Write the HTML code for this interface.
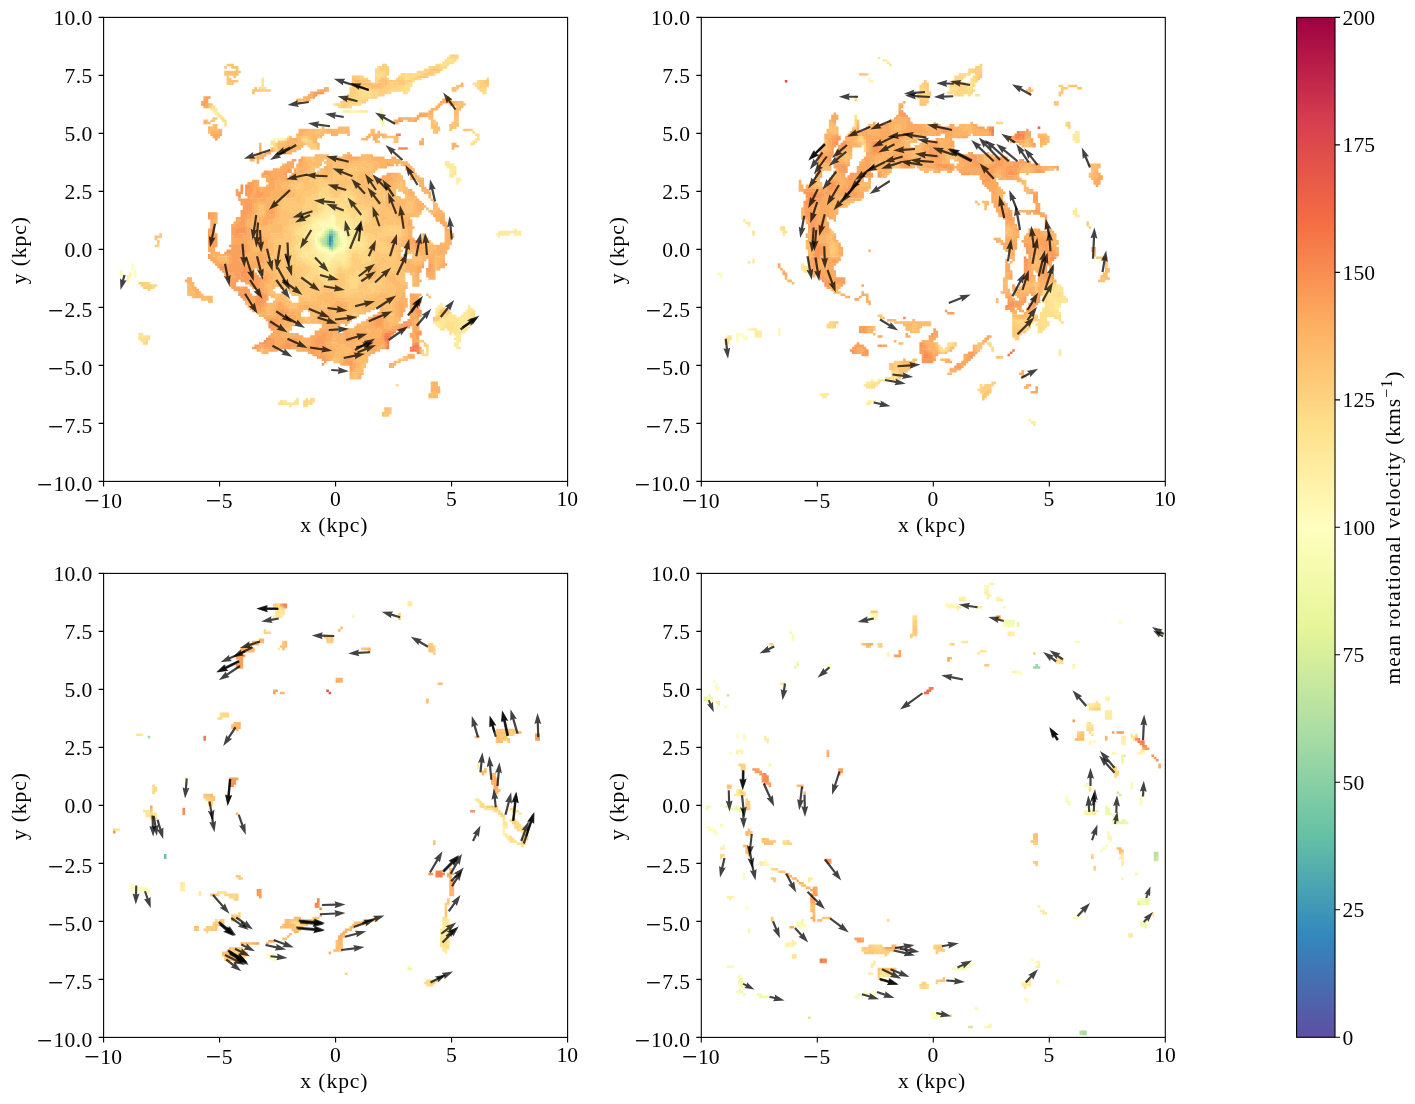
<!DOCTYPE html>
<html lang="en"><head><meta charset="utf-8"><title>mean rotational velocity maps</title>
<style>html,body{margin:0;padding:0;background:#fff}svg{display:block}text{font-family:"Liberation Serif", serif;font-size:21.6px;fill:#000}.t{letter-spacing:0.35px}</style></head><body>
<svg width="1415" height="1104" viewBox="0 0 1415 1104">
<rect width="1415" height="1104" fill="#fff"/>
<defs><linearGradient id="cb" x1="0" y1="0" x2="0" y2="1">
<stop offset="0.0" stop-color="#9e0142"/>
<stop offset="0.1" stop-color="#d53e4f"/>
<stop offset="0.2" stop-color="#f46d43"/>
<stop offset="0.3" stop-color="#fdae61"/>
<stop offset="0.4" stop-color="#fee08b"/>
<stop offset="0.5" stop-color="#ffffbf"/>
<stop offset="0.6" stop-color="#e6f598"/>
<stop offset="0.7" stop-color="#abdda4"/>
<stop offset="0.8" stop-color="#66c2a5"/>
<stop offset="0.9" stop-color="#3288bd"/>
<stop offset="1.0" stop-color="#5e4fa2"/>
</linearGradient>
<clipPath id="c0"><rect x="103.6" y="17.4" width="464.0" height="464.0"/></clipPath>
<clipPath id="c1"><rect x="701.3" y="17.4" width="464.0" height="464.0"/></clipPath>
<clipPath id="c2"><rect x="103.6" y="573.4" width="464.0" height="464.0"/></clipPath>
<clipPath id="c3"><rect x="701.3" y="573.4" width="464.0" height="464.0"/></clipPath>
<filter id="soft" x="-5%" y="-5%" width="110%" height="110%"><feGaussianBlur stdDeviation="0.7"/></filter>
</defs>
<g id="panel0">
<g clip-path="url(#c0)">
<g filter="url(#soft)"><path fill="#3389bd" d="M328.6 237.8h2.6v2.57h-2.6zM328.6 240.1h2.6v2.57h-2.6z"/>
<path fill="#3b92b9" d="M328.6 235.5h2.6v2.57h-2.6zM328.6 242.4h2.6v2.57h-2.6z"/>
<path fill="#4ba4b1" d="M331.0 235.5h2.6v2.57h-2.6zM331.0 240.1h2.6v2.57h-2.6z"/>
<path fill="#54aead" d="M331.0 237.8h2.6v2.57h-2.6z"/>
<path fill="#5cb7aa" d="M328.6 233.2h4.9v2.57h-4.9zM331.0 242.4h2.6v2.57h-2.6zM328.6 244.8h2.6v2.57h-2.6z"/>
<path fill="#6bc4a5" d="M326.3 242.4h2.6v2.57h-2.6z"/>
<path fill="#76c8a5" d="M326.3 240.1h2.6v2.57h-2.6zM331.0 244.8h2.6v2.57h-2.6z"/>
<path fill="#81cda5" d="M331.0 230.8h2.6v2.57h-2.6zM333.3 233.2h2.6v2.57h-2.6zM326.3 235.5h2.6v2.57h-2.6zM326.3 237.8h2.6v2.57h-2.6z"/>
<path fill="#8cd1a4" d="M328.6 230.8h2.6v2.57h-2.6zM331.0 247.1h2.6v2.57h-2.6z"/>
<path fill="#97d5a4" d="M326.3 233.2h2.6v2.57h-2.6zM333.3 235.5h2.6v2.57h-2.6z"/>
<path fill="#9fd8a4" d="M333.3 242.4h2.6v2.57h-2.6zM326.3 244.8h2.6v2.57h-2.6zM328.6 247.1h2.6v2.57h-2.6z"/>
<path fill="#aadca4" d="M333.3 230.8h2.6v2.57h-2.6zM333.3 237.8h2.6v2.57h-2.6zM324.0 240.1h2.6v2.57h-2.6zM333.3 240.1h2.6v2.57h-2.6zM324.0 242.4h2.6v2.57h-2.6zM333.3 244.8h2.6v2.57h-2.6z"/>
<path fill="#b3e0a2" d="M331.0 228.5h2.6v2.57h-2.6zM324.0 235.5h2.6v2.57h-2.6zM324.0 237.8h2.6v2.57h-2.6z"/>
<path fill="#bce4a0" d="M328.6 228.5h2.6v2.57h-2.6zM335.6 233.2h2.6v2.57h-2.6zM321.7 237.8h2.6v2.57h-2.6zM321.7 240.1h2.6v2.57h-2.6zM321.7 242.4h2.6v2.57h-2.6zM324.0 244.8h2.6v2.57h-2.6z"/>
<path fill="#c6e89f" d="M326.3 230.8h2.6v2.57h-2.6zM324.0 233.2h2.6v2.57h-2.6zM335.6 235.5h2.6v2.57h-2.6zM335.6 237.8h2.6v2.57h-2.6zM319.4 240.1h2.6v2.57h-2.6zM335.6 242.4h2.6v2.57h-2.6z"/>
<path fill="#cfec9d" d="M319.4 237.8h2.6v2.57h-2.6zM335.6 240.1h2.6v2.57h-2.6zM335.6 244.8h2.6v2.57h-2.6zM333.3 247.1h2.6v2.57h-2.6zM331.0 249.4h2.6v2.57h-2.6z"/>
<path fill="#d8ef9b" d="M335.6 230.8h2.6v2.57h-2.6zM321.7 235.5h2.6v2.57h-2.6z"/>
<path fill="#dff299" d="M326.3 228.5h2.6v2.57h-2.6zM324.0 230.8h2.6v2.57h-2.6zM337.9 237.8h2.6v2.57h-2.6zM337.9 240.1h2.6v2.57h-2.6zM319.4 242.4h2.6v2.57h-2.6zM337.9 242.4h2.6v2.57h-2.6zM321.7 244.8h2.6v2.57h-2.6zM326.3 247.1h2.6v2.57h-2.6z"/>
<path fill="#e7f59a" d="M321.7 233.2h2.6v2.57h-2.6z"/>
<path fill="#ebf7a0" d="M333.3 228.5h2.6v2.57h-2.6zM319.4 235.5h2.6v2.57h-2.6zM337.9 235.5h2.6v2.57h-2.6zM317.0 237.8h2.6v2.57h-2.6zM317.0 240.1h2.6v2.57h-2.6zM337.9 244.8h2.6v2.57h-2.6zM335.6 247.1h2.6v2.57h-2.6zM328.6 249.4h2.6v2.57h-2.6z"/>
<path fill="#eff9a6" d="M326.3 226.2h4.9v2.57h-4.9zM324.0 228.5h2.6v2.57h-2.6zM337.9 233.2h2.6v2.57h-2.6zM340.2 242.4h2.6v2.57h-2.6zM319.4 244.8h2.6v2.57h-2.6zM324.0 247.1h2.6v2.57h-2.6z"/>
<path fill="#f3faac" d="M379.7 117.2h2.6v2.57h-2.6zM379.7 119.5h4.9v2.57h-4.9zM382.0 121.8h2.6v2.57h-2.6zM324.0 226.2h2.6v2.57h-2.6zM331.0 226.2h2.6v2.57h-2.6zM321.7 230.8h2.6v2.57h-2.6zM337.9 230.8h2.6v2.57h-2.6zM317.0 235.5h2.6v2.57h-2.6zM340.2 237.8h2.6v2.57h-2.6zM340.2 240.1h2.6v2.57h-2.6zM317.0 242.4h2.6v2.57h-2.6zM340.2 244.8h2.6v2.57h-2.6zM333.3 249.4h2.6v2.57h-2.6z"/>
<path fill="#f7fcb2" d="M379.7 114.8h4.9v2.57h-4.9zM382.0 124.1h2.6v2.57h-2.6zM335.6 228.5h2.6v2.57h-2.6zM340.2 235.5h2.6v2.57h-2.6zM321.7 247.1h2.6v2.57h-2.6zM119.8 270.3h2.6v2.57h-2.6zM119.8 272.6h2.6v2.57h-2.6z"/>
<path fill="#fafdb7" d="M379.7 107.9h2.6v2.57h-2.6zM379.7 110.2h2.6v2.57h-2.6zM379.7 112.5h2.6v2.57h-2.6zM324.0 223.9h2.6v2.57h-2.6zM319.4 233.2h2.6v2.57h-2.6zM342.6 242.4h2.6v2.57h-2.6zM317.0 244.8h2.6v2.57h-2.6zM337.9 247.1h2.6v2.57h-2.6zM335.6 249.4h2.6v2.57h-2.6zM331.0 251.7h2.6v2.57h-2.6zM131.4 263.3h2.6v2.57h-2.6zM119.8 274.9h2.6v2.57h-2.6z"/>
<path fill="#fefebd" d="M331.0 214.6h2.6v2.57h-2.6zM331.0 216.9h2.6v2.57h-2.6zM331.0 219.2h2.6v2.57h-2.6zM331.0 221.6h2.6v2.57h-2.6zM326.3 223.9h2.6v2.57h-2.6zM331.0 223.9h2.6v2.57h-2.6zM321.7 228.5h2.6v2.57h-2.6zM340.2 233.2h2.6v2.57h-2.6zM314.7 237.8h2.6v2.57h-2.6zM314.7 240.1h2.6v2.57h-2.6zM342.6 240.1h2.6v2.57h-2.6zM342.6 244.8h2.6v2.57h-2.6zM319.4 247.1h2.6v2.57h-2.6zM326.3 249.4h2.6v2.57h-2.6zM328.6 251.7h2.6v2.57h-2.6zM131.4 265.6h2.6v2.57h-2.6zM131.4 268.0h2.6v2.57h-2.6zM133.8 270.3h2.6v2.57h-2.6zM133.8 272.6h2.6v2.57h-2.6zM133.8 274.9h2.6v2.57h-2.6z"/>
<path fill="#fffcba" d="M275.3 138.0h2.6v2.57h-2.6zM321.7 223.9h2.6v2.57h-2.6zM328.6 223.9h2.6v2.57h-2.6zM333.3 223.9h2.6v2.57h-2.6zM321.7 226.2h2.6v2.57h-2.6zM333.3 226.2h2.6v2.57h-2.6zM337.9 228.5h2.6v2.57h-2.6zM319.4 230.8h2.6v2.57h-2.6zM340.2 230.8h2.6v2.57h-2.6zM317.0 233.2h2.6v2.57h-2.6zM314.7 235.5h2.6v2.57h-2.6zM342.6 235.5h2.6v2.57h-2.6zM342.6 237.8h2.6v2.57h-2.6zM314.7 242.4h2.6v2.57h-2.6zM344.9 242.4h2.6v2.57h-2.6zM317.0 247.1h2.6v2.57h-2.6zM340.2 247.1h2.6v2.57h-2.6zM321.7 249.4h4.9v2.57h-4.9zM337.9 249.4h2.6v2.57h-2.6zM333.3 251.7h2.6v2.57h-2.6z"/>
<path fill="#fff7b2" d="M273.0 138.0h2.6v2.57h-2.6zM277.6 138.0h7.2v2.57h-7.2zM328.6 216.9h2.6v2.57h-2.6zM333.3 216.9h2.6v2.57h-2.6zM328.6 219.2h2.6v2.57h-2.6zM333.3 219.2h2.6v2.57h-2.6zM319.4 221.6h11.8v2.57h-11.8zM333.3 221.6h2.6v2.57h-2.6zM319.4 223.9h2.6v2.57h-2.6zM319.4 226.2h2.6v2.57h-2.6zM335.6 226.2h2.6v2.57h-2.6zM314.7 233.2h2.6v2.57h-2.6zM342.6 233.2h2.6v2.57h-2.6zM344.9 240.1h2.6v2.57h-2.6zM314.7 244.8h2.6v2.57h-2.6zM344.9 244.8h2.6v2.57h-2.6zM342.6 247.1h2.6v2.57h-2.6zM319.4 249.4h2.6v2.57h-2.6zM340.2 249.4h2.6v2.57h-2.6zM326.3 251.7h2.6v2.57h-2.6zM335.6 251.7h2.6v2.57h-2.6zM328.6 254.0h4.9v2.57h-4.9zM129.1 274.9h2.6v2.57h-2.6zM126.8 279.6h2.6v2.57h-2.6z"/>
<path fill="#fff2aa" d="M349.5 110.2h9.5v2.57h-9.5zM458.6 179.8h2.6v2.57h-2.6zM456.2 182.1h2.6v2.57h-2.6zM328.6 214.6h2.6v2.57h-2.6zM333.3 214.6h2.6v2.57h-2.6zM326.3 216.9h2.6v2.57h-2.6zM317.0 219.2h11.8v2.57h-11.8zM314.7 221.6h4.9v2.57h-4.9zM312.4 223.9h7.2v2.57h-7.2zM312.4 226.2h7.2v2.57h-7.2zM337.9 226.2h2.6v2.57h-2.6zM314.7 228.5h7.2v2.57h-7.2zM340.2 228.5h2.6v2.57h-2.6zM312.4 230.8h7.2v2.57h-7.2zM342.6 230.8h2.6v2.57h-2.6zM312.4 233.2h2.6v2.57h-2.6zM344.9 233.2h2.6v2.57h-2.6zM312.4 235.5h2.6v2.57h-2.6zM344.9 235.5h2.6v2.57h-2.6zM312.4 237.8h2.6v2.57h-2.6zM344.9 237.8h2.6v2.57h-2.6zM347.2 240.1h2.6v2.57h-2.6zM347.2 242.4h2.6v2.57h-2.6zM314.7 247.1h2.6v2.57h-2.6zM344.9 247.1h2.6v2.57h-2.6zM317.0 249.4h2.6v2.57h-2.6zM342.6 249.4h2.6v2.57h-2.6zM319.4 251.7h7.2v2.57h-7.2zM337.9 251.7h7.2v2.57h-7.2zM324.0 254.0h4.9v2.57h-4.9zM333.3 254.0h2.6v2.57h-2.6zM324.0 256.4h9.5v2.57h-9.5zM324.0 258.7h7.2v2.57h-7.2zM324.0 261.0h4.9v2.57h-4.9zM129.1 272.6h2.6v2.57h-2.6zM126.8 274.9h2.6v2.57h-2.6zM126.8 277.2h2.6v2.57h-2.6z"/>
<path fill="#feeda1" d="M342.6 110.2h7.2v2.57h-7.2zM358.8 110.2h2.6v2.57h-2.6zM286.9 135.7h2.6v2.57h-2.6zM449.3 170.5h2.6v2.57h-2.6zM456.2 177.5h4.9v2.57h-4.9zM456.2 179.8h2.6v2.57h-2.6zM326.3 212.3h7.2v2.57h-7.2zM324.0 214.6h4.9v2.57h-4.9zM317.0 216.9h9.5v2.57h-9.5zM312.4 219.2h4.9v2.57h-4.9zM312.4 221.6h2.6v2.57h-2.6zM310.1 223.9h2.6v2.57h-2.6zM335.6 223.9h4.9v2.57h-4.9zM310.1 226.2h2.6v2.57h-2.6zM340.2 226.2h9.5v2.57h-9.5zM307.8 228.5h7.2v2.57h-7.2zM342.6 228.5h9.5v2.57h-9.5zM310.1 230.8h2.6v2.57h-2.6zM344.9 230.8h4.9v2.57h-4.9zM310.1 233.2h2.6v2.57h-2.6zM347.2 233.2h2.6v2.57h-2.6zM495.7 233.2h2.6v2.57h-2.6zM516.6 233.2h2.6v2.57h-2.6zM310.1 235.5h2.6v2.57h-2.6zM347.2 235.5h4.9v2.57h-4.9zM498.0 235.5h2.6v2.57h-2.6zM347.2 237.8h2.6v2.57h-2.6zM312.4 240.1h2.6v2.57h-2.6zM312.4 242.4h2.6v2.57h-2.6zM349.5 242.4h2.6v2.57h-2.6zM312.4 244.8h2.6v2.57h-2.6zM347.2 244.8h4.9v2.57h-4.9zM312.4 247.1h2.6v2.57h-2.6zM312.4 249.4h4.9v2.57h-4.9zM344.9 249.4h2.6v2.57h-2.6zM314.7 251.7h4.9v2.57h-4.9zM317.0 254.0h7.2v2.57h-7.2zM335.6 254.0h9.5v2.57h-9.5zM319.4 256.4h4.9v2.57h-4.9zM333.3 256.4h11.8v2.57h-11.8zM319.4 258.7h4.9v2.57h-4.9zM331.0 258.7h2.6v2.57h-2.6zM321.7 261.0h2.6v2.57h-2.6zM328.6 261.0h2.6v2.57h-2.6zM321.7 263.3h7.2v2.57h-7.2zM440.0 302.8h2.6v2.57h-2.6zM437.7 305.1h2.6v2.57h-2.6zM435.4 307.4h2.6v2.57h-2.6zM437.7 321.3h2.6v2.57h-2.6zM435.4 323.6h4.9v2.57h-4.9z"/>
<path fill="#feea9b" d="M215.0 107.9h2.6v2.57h-2.6zM212.6 110.2h4.9v2.57h-4.9zM361.1 110.2h7.2v2.57h-7.2zM215.0 112.5h4.9v2.57h-4.9zM284.6 138.0h2.6v2.57h-2.6zM444.6 161.2h4.9v2.57h-4.9zM444.6 163.6h9.5v2.57h-9.5zM447.0 165.9h9.5v2.57h-9.5zM449.3 168.2h7.2v2.57h-7.2zM451.6 170.5h2.6v2.57h-2.6zM449.3 172.8h4.9v2.57h-4.9zM449.3 175.2h2.6v2.57h-2.6zM324.0 207.6h7.2v2.57h-7.2zM324.0 210.0h9.5v2.57h-9.5zM321.7 212.3h4.9v2.57h-4.9zM319.4 214.6h4.9v2.57h-4.9zM312.4 216.9h4.9v2.57h-4.9zM335.6 216.9h2.6v2.57h-2.6zM335.6 219.2h11.8v2.57h-11.8zM310.1 221.6h2.6v2.57h-2.6zM335.6 221.6h11.8v2.57h-11.8zM307.8 223.9h2.6v2.57h-2.6zM340.2 223.9h11.8v2.57h-11.8zM307.8 226.2h2.6v2.57h-2.6zM349.5 226.2h4.9v2.57h-4.9zM351.8 228.5h4.9v2.57h-4.9zM514.2 228.5h2.6v2.57h-2.6zM305.4 230.8h4.9v2.57h-4.9zM349.5 230.8h7.2v2.57h-7.2zM498.0 230.8h23.4v2.57h-23.4zM307.8 233.2h2.6v2.57h-2.6zM349.5 233.2h4.9v2.57h-4.9zM498.0 233.2h11.8v2.57h-11.8zM514.2 233.2h2.6v2.57h-2.6zM518.9 233.2h2.6v2.57h-2.6zM307.8 235.5h2.6v2.57h-2.6zM310.1 237.8h2.6v2.57h-2.6zM349.5 237.8h4.9v2.57h-4.9zM310.1 240.1h2.6v2.57h-2.6zM349.5 240.1h4.9v2.57h-4.9zM310.1 242.4h2.6v2.57h-2.6zM351.8 242.4h2.6v2.57h-2.6zM310.1 247.1h2.6v2.57h-2.6zM347.2 247.1h2.6v2.57h-2.6zM310.1 249.4h2.6v2.57h-2.6zM303.1 251.7h4.9v2.57h-4.9zM310.1 251.7h4.9v2.57h-4.9zM344.9 251.7h2.6v2.57h-2.6zM305.4 254.0h2.6v2.57h-2.6zM314.7 254.0h2.6v2.57h-2.6zM344.9 254.0h2.6v2.57h-2.6zM317.0 256.4h2.6v2.57h-2.6zM344.9 256.4h2.6v2.57h-2.6zM317.0 258.7h2.6v2.57h-2.6zM333.3 258.7h14.2v2.57h-14.2zM319.4 261.0h2.6v2.57h-2.6zM331.0 261.0h2.6v2.57h-2.6zM342.6 261.0h2.6v2.57h-2.6zM319.4 263.3h2.6v2.57h-2.6zM328.6 263.3h2.6v2.57h-2.6zM319.4 265.6h11.8v2.57h-11.8zM324.0 268.0h2.6v2.57h-2.6zM440.0 305.1h2.6v2.57h-2.6zM467.8 305.1h2.6v2.57h-2.6zM437.7 307.4h2.6v2.57h-2.6zM467.8 307.4h2.6v2.57h-2.6zM435.4 309.7h2.6v2.57h-2.6zM465.5 309.7h2.6v2.57h-2.6zM435.4 312.0h2.6v2.57h-2.6zM463.2 312.0h4.9v2.57h-4.9zM453.9 314.4h2.6v2.57h-2.6zM460.9 314.4h7.2v2.57h-7.2zM456.2 316.7h11.8v2.57h-11.8zM440.0 319.0h4.9v2.57h-4.9zM458.6 319.0h9.5v2.57h-9.5zM433.0 321.3h4.9v2.57h-4.9zM440.0 321.3h4.9v2.57h-4.9zM458.6 321.3h11.8v2.57h-11.8zM440.0 323.6h2.6v2.57h-2.6zM458.6 323.6h9.5v2.57h-9.5zM437.7 326.0h4.9v2.57h-4.9zM460.9 326.0h7.2v2.57h-7.2zM458.6 328.3h2.6v2.57h-2.6zM463.2 330.6h2.6v2.57h-2.6zM456.2 332.9h4.9v2.57h-4.9zM458.6 335.2h2.6v2.57h-2.6zM456.2 337.6h4.9v2.57h-4.9zM456.2 339.9h4.9v2.57h-4.9zM453.9 342.2h4.9v2.57h-4.9zM453.9 344.5h4.9v2.57h-4.9zM456.2 346.8h4.9v2.57h-4.9z"/>
<path fill="#fee593" d="M261.4 77.7h2.6v2.57h-2.6zM261.4 80.0h2.6v2.57h-2.6zM261.4 82.4h2.6v2.57h-2.6zM261.4 84.7h2.6v2.57h-2.6zM409.8 84.7h2.6v2.57h-2.6zM210.3 107.9h4.9v2.57h-4.9zM217.3 114.8h4.9v2.57h-4.9zM219.6 117.2h2.6v2.57h-2.6zM474.8 138.0h2.6v2.57h-2.6zM273.0 140.4h2.6v2.57h-2.6zM474.8 140.4h2.6v2.57h-2.6zM453.9 170.5h2.6v2.57h-2.6zM453.9 172.8h2.6v2.57h-2.6zM451.6 175.2h2.6v2.57h-2.6zM328.6 203.0h2.6v2.57h-2.6zM324.0 205.3h9.5v2.57h-9.5zM331.0 207.6h4.9v2.57h-4.9zM321.7 210.0h2.6v2.57h-2.6zM333.3 210.0h2.6v2.57h-2.6zM319.4 212.3h2.6v2.57h-2.6zM333.3 212.3h4.9v2.57h-4.9zM314.7 214.6h4.9v2.57h-4.9zM335.6 214.6h11.8v2.57h-11.8zM337.9 216.9h11.8v2.57h-11.8zM310.1 219.2h2.6v2.57h-2.6zM347.2 219.2h4.9v2.57h-4.9zM307.8 221.6h2.6v2.57h-2.6zM347.2 221.6h9.5v2.57h-9.5zM305.4 223.9h2.6v2.57h-2.6zM351.8 223.9h4.9v2.57h-4.9zM303.1 226.2h4.9v2.57h-4.9zM354.2 226.2h4.9v2.57h-4.9zM305.4 228.5h2.6v2.57h-2.6zM356.5 228.5h2.6v2.57h-2.6zM303.1 230.8h2.6v2.57h-2.6zM356.5 230.8h2.6v2.57h-2.6zM305.4 233.2h2.6v2.57h-2.6zM354.2 233.2h4.9v2.57h-4.9zM303.1 235.5h4.9v2.57h-4.9zM351.8 235.5h4.9v2.57h-4.9zM307.8 237.8h2.6v2.57h-2.6zM354.2 237.8h2.6v2.57h-2.6zM307.8 240.1h2.6v2.57h-2.6zM354.2 240.1h2.6v2.57h-2.6zM356.5 242.4h7.2v2.57h-7.2zM310.1 244.8h2.6v2.57h-2.6zM351.8 244.8h11.8v2.57h-11.8zM300.8 247.1h4.9v2.57h-4.9zM307.8 247.1h2.6v2.57h-2.6zM349.5 247.1h2.6v2.57h-2.6zM300.8 249.4h9.5v2.57h-9.5zM347.2 249.4h2.6v2.57h-2.6zM300.8 251.7h2.6v2.57h-2.6zM307.8 251.7h2.6v2.57h-2.6zM347.2 251.7h2.6v2.57h-2.6zM300.8 254.0h4.9v2.57h-4.9zM307.8 254.0h7.2v2.57h-7.2zM347.2 254.0h2.6v2.57h-2.6zM303.1 256.4h14.2v2.57h-14.2zM307.8 258.7h9.5v2.57h-9.5zM312.4 261.0h7.2v2.57h-7.2zM333.3 261.0h9.5v2.57h-9.5zM344.9 261.0h2.6v2.57h-2.6zM317.0 263.3h2.6v2.57h-2.6zM331.0 263.3h7.2v2.57h-7.2zM340.2 263.3h4.9v2.57h-4.9zM317.0 265.6h2.6v2.57h-2.6zM331.0 265.6h4.9v2.57h-4.9zM319.4 268.0h4.9v2.57h-4.9zM326.3 268.0h7.2v2.57h-7.2zM324.0 270.3h7.2v2.57h-7.2zM326.3 272.6h4.9v2.57h-4.9zM470.2 307.4h2.6v2.57h-2.6zM467.8 309.7h4.9v2.57h-4.9zM467.8 312.0h2.6v2.57h-2.6zM449.3 314.4h4.9v2.57h-4.9zM467.8 314.4h2.6v2.57h-2.6zM442.3 316.7h14.2v2.57h-14.2zM467.8 316.7h2.6v2.57h-2.6zM444.6 319.0h14.2v2.57h-14.2zM467.8 319.0h4.9v2.57h-4.9zM444.6 321.3h2.6v2.57h-2.6zM453.9 321.3h4.9v2.57h-4.9zM442.3 323.6h4.9v2.57h-4.9zM453.9 323.6h4.9v2.57h-4.9zM467.8 323.6h2.6v2.57h-2.6zM442.3 326.0h2.6v2.57h-2.6zM453.9 326.0h7.2v2.57h-7.2zM467.8 326.0h2.6v2.57h-2.6zM440.0 328.3h2.6v2.57h-2.6zM453.9 328.3h4.9v2.57h-4.9zM460.9 328.3h7.2v2.57h-7.2zM451.6 330.6h11.8v2.57h-11.8zM138.4 332.9h4.9v2.57h-4.9zM449.3 332.9h2.6v2.57h-2.6zM453.9 332.9h2.6v2.57h-2.6zM138.4 335.2h7.2v2.57h-7.2zM456.2 335.2h2.6v2.57h-2.6zM453.9 337.6h2.6v2.57h-2.6zM296.2 397.9h2.6v2.57h-2.6zM282.2 400.2h4.9v2.57h-4.9zM293.8 400.2h2.6v2.57h-2.6zM284.6 402.5h11.8v2.57h-11.8zM289.2 404.8h2.6v2.57h-2.6z"/>
<path fill="#fee08b" d="M447.0 56.8h2.6v2.57h-2.6zM444.6 59.2h9.5v2.57h-9.5zM442.3 61.5h11.8v2.57h-11.8zM440.0 63.8h9.5v2.57h-9.5zM375.0 73.1h2.6v2.57h-2.6zM379.7 73.1h2.6v2.57h-2.6zM405.2 73.1h14.2v2.57h-14.2zM377.4 75.4h2.6v2.57h-2.6zM402.9 75.4h11.8v2.57h-11.8zM405.2 77.7h4.9v2.57h-4.9zM419.1 77.7h2.6v2.57h-2.6zM412.2 80.0h2.6v2.57h-2.6zM409.8 82.4h2.6v2.57h-2.6zM472.5 82.4h4.9v2.57h-4.9zM405.2 84.7h4.9v2.57h-4.9zM474.8 84.7h2.6v2.57h-2.6zM261.4 87.0h4.9v2.57h-4.9zM402.9 87.0h7.2v2.57h-7.2zM361.1 89.3h7.2v2.57h-7.2zM400.6 89.3h9.5v2.57h-9.5zM361.1 91.6h11.8v2.57h-11.8zM402.9 91.6h4.9v2.57h-4.9zM481.8 91.6h4.9v2.57h-4.9zM358.8 94.0h11.8v2.57h-11.8zM333.3 103.2h2.6v2.57h-2.6zM212.6 105.6h2.6v2.57h-2.6zM221.9 117.2h2.6v2.57h-2.6zM221.9 119.5h4.9v2.57h-4.9zM224.2 121.8h2.6v2.57h-2.6zM224.2 124.1h2.6v2.57h-2.6zM474.8 133.4h4.9v2.57h-4.9zM477.1 135.7h2.6v2.57h-2.6zM477.1 138.0h2.6v2.57h-2.6zM270.6 140.4h2.6v2.57h-2.6zM472.5 140.4h2.6v2.57h-2.6zM270.6 142.7h4.9v2.57h-4.9zM470.2 142.7h4.9v2.57h-4.9zM273.0 145.0h2.6v2.57h-2.6zM344.9 193.7h2.6v2.57h-2.6zM324.0 196.0h2.6v2.57h-2.6zM344.9 196.0h2.6v2.57h-2.6zM324.0 198.4h4.9v2.57h-4.9zM344.9 198.4h2.6v2.57h-2.6zM324.0 200.7h9.5v2.57h-9.5zM321.7 203.0h7.2v2.57h-7.2zM331.0 203.0h4.9v2.57h-4.9zM340.2 203.0h4.9v2.57h-4.9zM319.4 205.3h4.9v2.57h-4.9zM333.3 205.3h7.2v2.57h-7.2zM321.7 207.6h2.6v2.57h-2.6zM335.6 207.6h11.8v2.57h-11.8zM319.4 210.0h2.6v2.57h-2.6zM335.6 210.0h11.8v2.57h-11.8zM317.0 212.3h2.6v2.57h-2.6zM337.9 212.3h11.8v2.57h-11.8zM361.1 212.3h2.6v2.57h-2.6zM312.4 214.6h2.6v2.57h-2.6zM347.2 214.6h2.6v2.57h-2.6zM356.5 214.6h7.2v2.57h-7.2zM307.8 216.9h4.9v2.57h-4.9zM349.5 216.9h4.9v2.57h-4.9zM356.5 216.9h7.2v2.57h-7.2zM307.8 219.2h2.6v2.57h-2.6zM351.8 219.2h11.8v2.57h-11.8zM305.4 221.6h2.6v2.57h-2.6zM356.5 221.6h2.6v2.57h-2.6zM303.1 223.9h2.6v2.57h-2.6zM356.5 223.9h2.6v2.57h-2.6zM300.8 226.2h2.6v2.57h-2.6zM298.5 228.5h7.2v2.57h-7.2zM296.2 230.8h7.2v2.57h-7.2zM358.8 230.8h2.6v2.57h-2.6zM298.5 233.2h7.2v2.57h-7.2zM358.8 233.2h2.6v2.57h-2.6zM300.8 235.5h2.6v2.57h-2.6zM356.5 235.5h7.2v2.57h-7.2zM300.8 237.8h7.2v2.57h-7.2zM356.5 237.8h9.5v2.57h-9.5zM300.8 240.1h7.2v2.57h-7.2zM356.5 240.1h9.5v2.57h-9.5zM298.5 242.4h11.8v2.57h-11.8zM354.2 242.4h2.6v2.57h-2.6zM363.4 242.4h4.9v2.57h-4.9zM296.2 244.8h14.2v2.57h-14.2zM363.4 244.8h2.6v2.57h-2.6zM296.2 247.1h4.9v2.57h-4.9zM305.4 247.1h2.6v2.57h-2.6zM351.8 247.1h14.2v2.57h-14.2zM296.2 249.4h4.9v2.57h-4.9zM349.5 249.4h4.9v2.57h-4.9zM358.8 249.4h4.9v2.57h-4.9zM298.5 251.7h2.6v2.57h-2.6zM349.5 251.7h2.6v2.57h-2.6zM358.8 251.7h2.6v2.57h-2.6zM298.5 254.0h2.6v2.57h-2.6zM349.5 254.0h2.6v2.57h-2.6zM300.8 256.4h2.6v2.57h-2.6zM347.2 256.4h2.6v2.57h-2.6zM303.1 258.7h4.9v2.57h-4.9zM347.2 258.7h2.6v2.57h-2.6zM305.4 261.0h7.2v2.57h-7.2zM347.2 261.0h2.6v2.57h-2.6zM310.1 263.3h7.2v2.57h-7.2zM337.9 263.3h2.6v2.57h-2.6zM344.9 263.3h4.9v2.57h-4.9zM312.4 265.6h4.9v2.57h-4.9zM335.6 265.6h2.6v2.57h-2.6zM342.6 265.6h4.9v2.57h-4.9zM314.7 268.0h4.9v2.57h-4.9zM333.3 268.0h2.6v2.57h-2.6zM317.0 270.3h7.2v2.57h-7.2zM331.0 270.3h4.9v2.57h-4.9zM319.4 272.6h7.2v2.57h-7.2zM331.0 272.6h2.6v2.57h-2.6zM324.0 274.9h9.5v2.57h-9.5zM324.0 277.2h7.2v2.57h-7.2zM326.3 279.6h2.6v2.57h-2.6zM440.0 307.4h2.6v2.57h-2.6zM437.7 309.7h2.6v2.57h-2.6zM472.5 309.7h2.6v2.57h-2.6zM449.3 312.0h2.6v2.57h-2.6zM470.2 312.0h4.9v2.57h-4.9zM435.4 314.4h2.6v2.57h-2.6zM447.0 314.4h2.6v2.57h-2.6zM470.2 314.4h4.9v2.57h-4.9zM440.0 316.7h2.6v2.57h-2.6zM470.2 316.7h2.6v2.57h-2.6zM437.7 319.0h2.6v2.57h-2.6zM447.0 321.3h7.2v2.57h-7.2zM447.0 323.6h7.2v2.57h-7.2zM444.6 326.0h9.5v2.57h-9.5zM442.3 328.3h2.6v2.57h-2.6zM447.0 328.3h7.2v2.57h-7.2zM449.3 330.6h2.6v2.57h-2.6zM145.4 335.2h4.9v2.57h-4.9zM138.4 337.6h11.8v2.57h-11.8zM140.7 339.9h4.9v2.57h-4.9zM426.1 351.5h2.6v2.57h-2.6zM421.4 353.8h7.2v2.57h-7.2zM312.4 397.9h2.6v2.57h-2.6zM279.9 400.2h2.6v2.57h-2.6zM296.2 400.2h2.6v2.57h-2.6zM312.4 400.2h2.6v2.57h-2.6zM277.6 402.5h7.2v2.57h-7.2zM296.2 402.5h2.6v2.57h-2.6zM307.8 402.5h2.6v2.57h-2.6zM303.1 404.8h4.9v2.57h-4.9z"/>
<path fill="#fed884" d="M449.3 54.5h2.6v2.57h-2.6zM456.2 54.5h2.6v2.57h-2.6zM449.3 56.8h9.5v2.57h-9.5zM453.9 59.2h2.6v2.57h-2.6zM435.4 63.8h4.9v2.57h-4.9zM377.4 66.1h2.6v2.57h-2.6zM428.4 66.1h4.9v2.57h-4.9zM440.0 66.1h7.2v2.57h-7.2zM375.0 68.4h4.9v2.57h-4.9zM423.8 68.4h4.9v2.57h-4.9zM375.0 70.8h9.5v2.57h-9.5zM416.8 70.8h9.5v2.57h-9.5zM377.4 73.1h2.6v2.57h-2.6zM382.0 73.1h2.6v2.57h-2.6zM400.6 73.1h4.9v2.57h-4.9zM419.1 73.1h2.6v2.57h-2.6zM433.0 73.1h2.6v2.57h-2.6zM375.0 75.4h2.6v2.57h-2.6zM379.7 75.4h4.9v2.57h-4.9zM400.6 75.4h2.6v2.57h-2.6zM414.5 75.4h2.6v2.57h-2.6zM375.0 77.7h4.9v2.57h-4.9zM402.9 77.7h2.6v2.57h-2.6zM409.8 77.7h4.9v2.57h-4.9zM416.8 77.7h2.6v2.57h-2.6zM375.0 80.0h2.6v2.57h-2.6zM477.1 80.0h2.6v2.57h-2.6zM407.5 82.4h2.6v2.57h-2.6zM477.1 82.4h2.6v2.57h-2.6zM395.9 84.7h9.5v2.57h-9.5zM477.1 84.7h2.6v2.57h-2.6zM259.0 87.0h2.6v2.57h-2.6zM361.1 87.0h4.9v2.57h-4.9zM393.6 87.0h9.5v2.57h-9.5zM477.1 87.0h9.5v2.57h-9.5zM356.5 89.3h4.9v2.57h-4.9zM368.1 89.3h7.2v2.57h-7.2zM389.0 89.3h11.8v2.57h-11.8zM479.4 89.3h7.2v2.57h-7.2zM356.5 91.6h4.9v2.57h-4.9zM372.7 91.6h4.9v2.57h-4.9zM386.6 91.6h4.9v2.57h-4.9zM356.5 94.0h2.6v2.57h-2.6zM370.4 94.0h7.2v2.57h-7.2zM354.2 96.3h18.8v2.57h-18.8zM375.0 96.3h2.6v2.57h-2.6zM354.2 98.6h7.2v2.57h-7.2zM363.4 98.6h2.6v2.57h-2.6zM351.8 100.9h9.5v2.57h-9.5zM335.6 103.2h4.9v2.57h-4.9zM349.5 103.2h11.8v2.57h-11.8zM210.3 105.6h2.6v2.57h-2.6zM337.9 105.6h2.6v2.57h-2.6zM347.2 105.6h4.9v2.57h-4.9zM472.5 131.1h2.6v2.57h-2.6zM303.1 138.0h4.9v2.57h-4.9zM305.4 140.4h2.6v2.57h-2.6zM275.3 147.3h2.6v2.57h-2.6zM275.3 149.6h2.6v2.57h-2.6zM321.7 186.8h7.2v2.57h-7.2zM321.7 189.1h7.2v2.57h-7.2zM319.4 191.4h9.5v2.57h-9.5zM342.6 191.4h7.2v2.57h-7.2zM319.4 193.7h11.8v2.57h-11.8zM340.2 193.7h4.9v2.57h-4.9zM347.2 193.7h4.9v2.57h-4.9zM319.4 196.0h4.9v2.57h-4.9zM326.3 196.0h4.9v2.57h-4.9zM340.2 196.0h4.9v2.57h-4.9zM347.2 196.0h7.2v2.57h-7.2zM317.0 198.4h7.2v2.57h-7.2zM328.6 198.4h16.5v2.57h-16.5zM347.2 198.4h7.2v2.57h-7.2zM317.0 200.7h7.2v2.57h-7.2zM333.3 200.7h21.1v2.57h-21.1zM317.0 203.0h4.9v2.57h-4.9zM335.6 203.0h4.9v2.57h-4.9zM344.9 203.0h7.2v2.57h-7.2zM317.0 205.3h2.6v2.57h-2.6zM340.2 205.3h11.8v2.57h-11.8zM317.0 207.6h4.9v2.57h-4.9zM347.2 207.6h4.9v2.57h-4.9zM317.0 210.0h2.6v2.57h-2.6zM347.2 210.0h7.2v2.57h-7.2zM356.5 210.0h11.8v2.57h-11.8zM312.4 212.3h4.9v2.57h-4.9zM349.5 212.3h4.9v2.57h-4.9zM356.5 212.3h4.9v2.57h-4.9zM363.4 212.3h4.9v2.57h-4.9zM305.4 214.6h7.2v2.57h-7.2zM349.5 214.6h7.2v2.57h-7.2zM363.4 214.6h4.9v2.57h-4.9zM305.4 216.9h2.6v2.57h-2.6zM354.2 216.9h2.6v2.57h-2.6zM363.4 216.9h4.9v2.57h-4.9zM305.4 219.2h2.6v2.57h-2.6zM363.4 219.2h2.6v2.57h-2.6zM300.8 221.6h4.9v2.57h-4.9zM358.8 221.6h4.9v2.57h-4.9zM300.8 223.9h2.6v2.57h-2.6zM358.8 223.9h4.9v2.57h-4.9zM296.2 226.2h4.9v2.57h-4.9zM358.8 226.2h2.6v2.57h-2.6zM293.8 228.5h4.9v2.57h-4.9zM358.8 228.5h4.9v2.57h-4.9zM389.0 228.5h2.6v2.57h-2.6zM393.6 228.5h2.6v2.57h-2.6zM293.8 230.8h2.6v2.57h-2.6zM361.1 230.8h2.6v2.57h-2.6zM293.8 233.2h4.9v2.57h-4.9zM361.1 233.2h2.6v2.57h-2.6zM296.2 235.5h4.9v2.57h-4.9zM363.4 235.5h4.9v2.57h-4.9zM296.2 237.8h4.9v2.57h-4.9zM365.8 237.8h2.6v2.57h-2.6zM293.8 240.1h7.2v2.57h-7.2zM365.8 240.1h4.9v2.57h-4.9zM293.8 242.4h4.9v2.57h-4.9zM368.1 242.4h2.6v2.57h-2.6zM157.0 244.8h2.6v2.57h-2.6zM293.8 244.8h2.6v2.57h-2.6zM365.8 244.8h2.6v2.57h-2.6zM291.5 247.1h4.9v2.57h-4.9zM365.8 247.1h2.6v2.57h-2.6zM293.8 249.4h2.6v2.57h-2.6zM354.2 249.4h4.9v2.57h-4.9zM363.4 249.4h4.9v2.57h-4.9zM293.8 251.7h4.9v2.57h-4.9zM351.8 251.7h7.2v2.57h-7.2zM361.1 251.7h7.2v2.57h-7.2zM296.2 254.0h2.6v2.57h-2.6zM358.8 254.0h9.5v2.57h-9.5zM296.2 256.4h4.9v2.57h-4.9zM349.5 256.4h2.6v2.57h-2.6zM358.8 256.4h11.8v2.57h-11.8zM298.5 258.7h4.9v2.57h-4.9zM349.5 258.7h2.6v2.57h-2.6zM361.1 258.7h9.5v2.57h-9.5zM300.8 261.0h4.9v2.57h-4.9zM349.5 261.0h2.6v2.57h-2.6zM361.1 261.0h4.9v2.57h-4.9zM305.4 263.3h4.9v2.57h-4.9zM349.5 263.3h2.6v2.57h-2.6zM310.1 265.6h2.6v2.57h-2.6zM337.9 265.6h4.9v2.57h-4.9zM347.2 265.6h2.6v2.57h-2.6zM310.1 268.0h4.9v2.57h-4.9zM335.6 268.0h2.6v2.57h-2.6zM342.6 268.0h4.9v2.57h-4.9zM310.1 270.3h7.2v2.57h-7.2zM335.6 270.3h2.6v2.57h-2.6zM356.5 270.3h2.6v2.57h-2.6zM307.8 272.6h11.8v2.57h-11.8zM333.3 272.6h2.6v2.57h-2.6zM354.2 272.6h7.2v2.57h-7.2zM305.4 274.9h9.5v2.57h-9.5zM317.0 274.9h7.2v2.57h-7.2zM333.3 274.9h2.6v2.57h-2.6zM349.5 274.9h11.8v2.57h-11.8zM305.4 277.2h7.2v2.57h-7.2zM319.4 277.2h4.9v2.57h-4.9zM331.0 277.2h4.9v2.57h-4.9zM349.5 277.2h9.5v2.57h-9.5zM307.8 279.6h2.6v2.57h-2.6zM321.7 279.6h4.9v2.57h-4.9zM328.6 279.6h4.9v2.57h-4.9zM347.2 279.6h11.8v2.57h-11.8zM147.7 281.9h2.6v2.57h-2.6zM324.0 281.9h7.2v2.57h-7.2zM349.5 281.9h7.2v2.57h-7.2zM152.3 284.2h4.9v2.57h-4.9zM349.5 284.2h7.2v2.57h-7.2zM152.3 286.5h2.6v2.57h-2.6zM349.5 286.5h7.2v2.57h-7.2zM444.6 307.4h2.6v2.57h-2.6zM437.7 312.0h2.6v2.57h-2.6zM444.6 314.4h2.6v2.57h-2.6zM145.4 339.9h2.6v2.57h-2.6zM143.0 342.2h4.9v2.57h-4.9zM426.1 346.8h2.6v2.57h-2.6zM426.1 349.2h2.6v2.57h-2.6zM421.4 351.5h2.6v2.57h-2.6zM395.9 384.0h2.6v2.57h-2.6zM305.4 397.9h2.6v2.57h-2.6zM310.1 397.9h2.6v2.57h-2.6zM303.1 400.2h9.5v2.57h-9.5zM303.1 402.5h4.9v2.57h-4.9zM310.1 402.5h2.6v2.57h-2.6z"/>
<path fill="#fed07e" d="M451.6 54.5h4.9v2.57h-4.9zM382.0 63.8h4.9v2.57h-4.9zM379.7 66.1h9.5v2.57h-9.5zM433.0 66.1h7.2v2.57h-7.2zM379.7 68.4h9.5v2.57h-9.5zM428.4 68.4h2.6v2.57h-2.6zM440.0 68.4h2.6v2.57h-2.6zM384.3 70.8h4.9v2.57h-4.9zM426.1 70.8h2.6v2.57h-2.6zM433.0 70.8h7.2v2.57h-7.2zM384.3 73.1h4.9v2.57h-4.9zM421.4 73.1h2.6v2.57h-2.6zM430.7 73.1h2.6v2.57h-2.6zM358.8 75.4h4.9v2.57h-4.9zM384.3 75.4h2.6v2.57h-2.6zM398.2 75.4h2.6v2.57h-2.6zM416.8 75.4h2.6v2.57h-2.6zM426.1 75.4h2.6v2.57h-2.6zM358.8 77.7h9.5v2.57h-9.5zM386.6 77.7h2.6v2.57h-2.6zM395.9 77.7h7.2v2.57h-7.2zM414.5 77.7h2.6v2.57h-2.6zM486.4 77.7h2.6v2.57h-2.6zM393.6 80.0h2.6v2.57h-2.6zM405.2 80.0h7.2v2.57h-7.2zM479.4 80.0h4.9v2.57h-4.9zM372.7 82.4h2.6v2.57h-2.6zM389.0 82.4h9.5v2.57h-9.5zM405.2 82.4h2.6v2.57h-2.6zM479.4 82.4h4.9v2.57h-4.9zM386.6 84.7h9.5v2.57h-9.5zM479.4 84.7h9.5v2.57h-9.5zM349.5 87.0h11.8v2.57h-11.8zM365.8 87.0h2.6v2.57h-2.6zM384.3 87.0h9.5v2.57h-9.5zM261.4 89.3h9.5v2.57h-9.5zM349.5 89.3h7.2v2.57h-7.2zM375.0 89.3h2.6v2.57h-2.6zM382.0 89.3h7.2v2.57h-7.2zM349.5 91.6h7.2v2.57h-7.2zM377.4 91.6h9.5v2.57h-9.5zM347.2 94.0h9.5v2.57h-9.5zM377.4 94.0h7.2v2.57h-7.2zM344.9 96.3h9.5v2.57h-9.5zM372.7 96.3h2.6v2.57h-2.6zM344.9 98.6h9.5v2.57h-9.5zM361.1 98.6h2.6v2.57h-2.6zM365.8 98.6h2.6v2.57h-2.6zM340.2 100.9h2.6v2.57h-2.6zM347.2 100.9h4.9v2.57h-4.9zM361.1 100.9h4.9v2.57h-4.9zM340.2 103.2h9.5v2.57h-9.5zM340.2 105.6h7.2v2.57h-7.2zM470.2 128.8h2.6v2.57h-2.6zM303.1 135.7h4.9v2.57h-4.9zM300.8 138.0h2.6v2.57h-2.6zM303.1 140.4h2.6v2.57h-2.6zM307.8 140.4h4.9v2.57h-4.9zM307.8 142.7h7.2v2.57h-7.2zM310.1 145.0h4.9v2.57h-4.9zM273.0 147.3h2.6v2.57h-2.6zM310.1 147.3h7.2v2.57h-7.2zM314.7 175.2h2.6v2.57h-2.6zM317.0 179.8h2.6v2.57h-2.6zM317.0 182.1h11.8v2.57h-11.8zM298.5 184.4h2.6v2.57h-2.6zM317.0 184.4h14.2v2.57h-14.2zM296.2 186.8h2.6v2.57h-2.6zM319.4 186.8h2.6v2.57h-2.6zM328.6 186.8h2.6v2.57h-2.6zM317.0 189.1h4.9v2.57h-4.9zM328.6 189.1h2.6v2.57h-2.6zM344.9 189.1h7.2v2.57h-7.2zM317.0 191.4h2.6v2.57h-2.6zM328.6 191.4h2.6v2.57h-2.6zM340.2 191.4h2.6v2.57h-2.6zM349.5 191.4h4.9v2.57h-4.9zM312.4 193.7h7.2v2.57h-7.2zM331.0 193.7h2.6v2.57h-2.6zM337.9 193.7h2.6v2.57h-2.6zM351.8 193.7h4.9v2.57h-4.9zM305.4 196.0h2.6v2.57h-2.6zM310.1 196.0h9.5v2.57h-9.5zM331.0 196.0h9.5v2.57h-9.5zM354.2 196.0h2.6v2.57h-2.6zM305.4 198.4h11.8v2.57h-11.8zM354.2 198.4h4.9v2.57h-4.9zM305.4 200.7h11.8v2.57h-11.8zM354.2 200.7h2.6v2.57h-2.6zM305.4 203.0h11.8v2.57h-11.8zM351.8 203.0h7.2v2.57h-7.2zM303.1 205.3h14.2v2.57h-14.2zM351.8 205.3h11.8v2.57h-11.8zM303.1 207.6h14.2v2.57h-14.2zM351.8 207.6h18.8v2.57h-18.8zM300.8 210.0h16.5v2.57h-16.5zM354.2 210.0h2.6v2.57h-2.6zM368.1 210.0h2.6v2.57h-2.6zM298.5 212.3h14.2v2.57h-14.2zM354.2 212.3h2.6v2.57h-2.6zM368.1 212.3h2.6v2.57h-2.6zM300.8 214.6h4.9v2.57h-4.9zM368.1 214.6h2.6v2.57h-2.6zM298.5 216.9h7.2v2.57h-7.2zM368.1 216.9h2.6v2.57h-2.6zM298.5 219.2h7.2v2.57h-7.2zM365.8 219.2h4.9v2.57h-4.9zM293.8 221.6h2.6v2.57h-2.6zM298.5 221.6h2.6v2.57h-2.6zM363.4 221.6h4.9v2.57h-4.9zM291.5 223.9h9.5v2.57h-9.5zM363.4 223.9h2.6v2.57h-2.6zM289.2 226.2h7.2v2.57h-7.2zM361.1 226.2h2.6v2.57h-2.6zM386.6 226.2h14.2v2.57h-14.2zM289.2 228.5h4.9v2.57h-4.9zM363.4 228.5h2.6v2.57h-2.6zM382.0 228.5h7.2v2.57h-7.2zM391.3 228.5h2.6v2.57h-2.6zM395.9 228.5h4.9v2.57h-4.9zM291.5 230.8h2.6v2.57h-2.6zM363.4 230.8h2.6v2.57h-2.6zM377.4 230.8h2.6v2.57h-2.6zM382.0 230.8h18.8v2.57h-18.8zM291.5 233.2h2.6v2.57h-2.6zM363.4 233.2h7.2v2.57h-7.2zM379.7 233.2h21.1v2.57h-21.1zM291.5 235.5h4.9v2.57h-4.9zM368.1 235.5h7.2v2.57h-7.2zM377.4 235.5h7.2v2.57h-7.2zM291.5 237.8h4.9v2.57h-4.9zM368.1 237.8h9.5v2.57h-9.5zM291.5 240.1h2.6v2.57h-2.6zM370.4 240.1h7.2v2.57h-7.2zM157.0 242.4h2.6v2.57h-2.6zM289.2 242.4h4.9v2.57h-4.9zM370.4 242.4h2.6v2.57h-2.6zM377.4 242.4h7.2v2.57h-7.2zM154.6 244.8h2.6v2.57h-2.6zM289.2 244.8h4.9v2.57h-4.9zM368.1 244.8h4.9v2.57h-4.9zM379.7 244.8h7.2v2.57h-7.2zM289.2 247.1h2.6v2.57h-2.6zM368.1 247.1h2.6v2.57h-2.6zM377.4 247.1h11.8v2.57h-11.8zM289.2 249.4h4.9v2.57h-4.9zM368.1 249.4h2.6v2.57h-2.6zM377.4 249.4h14.2v2.57h-14.2zM289.2 251.7h4.9v2.57h-4.9zM368.1 251.7h2.6v2.57h-2.6zM379.7 251.7h11.8v2.57h-11.8zM291.5 254.0h4.9v2.57h-4.9zM351.8 254.0h7.2v2.57h-7.2zM368.1 254.0h7.2v2.57h-7.2zM291.5 256.4h4.9v2.57h-4.9zM351.8 256.4h7.2v2.57h-7.2zM370.4 256.4h4.9v2.57h-4.9zM291.5 258.7h7.2v2.57h-7.2zM351.8 258.7h2.6v2.57h-2.6zM356.5 258.7h4.9v2.57h-4.9zM370.4 258.7h4.9v2.57h-4.9zM291.5 261.0h9.5v2.57h-9.5zM351.8 261.0h2.6v2.57h-2.6zM356.5 261.0h4.9v2.57h-4.9zM365.8 261.0h7.2v2.57h-7.2zM296.2 263.3h9.5v2.57h-9.5zM351.8 263.3h2.6v2.57h-2.6zM356.5 263.3h11.8v2.57h-11.8zM300.8 265.6h2.6v2.57h-2.6zM305.4 265.6h4.9v2.57h-4.9zM349.5 265.6h16.5v2.57h-16.5zM305.4 268.0h4.9v2.57h-4.9zM337.9 268.0h4.9v2.57h-4.9zM347.2 268.0h16.5v2.57h-16.5zM303.1 270.3h7.2v2.57h-7.2zM337.9 270.3h18.8v2.57h-18.8zM358.8 270.3h4.9v2.57h-4.9zM300.8 272.6h7.2v2.57h-7.2zM335.6 272.6h2.6v2.57h-2.6zM344.9 272.6h9.5v2.57h-9.5zM361.1 272.6h2.6v2.57h-2.6zM300.8 274.9h4.9v2.57h-4.9zM314.7 274.9h2.6v2.57h-2.6zM335.6 274.9h2.6v2.57h-2.6zM344.9 274.9h4.9v2.57h-4.9zM361.1 274.9h2.6v2.57h-2.6zM303.1 277.2h2.6v2.57h-2.6zM312.4 277.2h7.2v2.57h-7.2zM335.6 277.2h2.6v2.57h-2.6zM344.9 277.2h4.9v2.57h-4.9zM358.8 277.2h2.6v2.57h-2.6zM305.4 279.6h2.6v2.57h-2.6zM310.1 279.6h11.8v2.57h-11.8zM333.3 279.6h2.6v2.57h-2.6zM344.9 279.6h2.6v2.57h-2.6zM358.8 279.6h2.6v2.57h-2.6zM377.4 279.6h2.6v2.57h-2.6zM138.4 281.9h9.5v2.57h-9.5zM305.4 281.9h7.2v2.57h-7.2zM317.0 281.9h7.2v2.57h-7.2zM331.0 281.9h2.6v2.57h-2.6zM344.9 281.9h4.9v2.57h-4.9zM356.5 281.9h4.9v2.57h-4.9zM372.7 281.9h9.5v2.57h-9.5zM140.7 284.2h11.8v2.57h-11.8zM319.4 284.2h11.8v2.57h-11.8zM344.9 284.2h4.9v2.57h-4.9zM356.5 284.2h2.6v2.57h-2.6zM368.1 284.2h11.8v2.57h-11.8zM143.0 286.5h9.5v2.57h-9.5zM342.6 286.5h7.2v2.57h-7.2zM356.5 286.5h2.6v2.57h-2.6zM368.1 286.5h11.8v2.57h-11.8zM147.7 288.8h2.6v2.57h-2.6zM342.6 288.8h16.5v2.57h-16.5zM370.4 288.8h4.9v2.57h-4.9zM344.9 291.2h9.5v2.57h-9.5zM344.9 293.5h4.9v2.57h-4.9zM442.3 307.4h2.6v2.57h-2.6zM447.0 312.0h2.6v2.57h-2.6zM442.3 314.4h2.6v2.57h-2.6zM435.4 319.0h2.6v2.57h-2.6zM423.8 344.5h4.9v2.57h-4.9zM421.4 349.2h2.6v2.57h-2.6z"/>
<path fill="#fec877" d="M430.7 68.4h2.6v2.57h-2.6zM437.7 68.4h2.6v2.57h-2.6zM428.4 70.8h4.9v2.57h-4.9zM423.8 73.1h7.2v2.57h-7.2zM226.6 75.4h2.6v2.57h-2.6zM351.8 75.4h7.2v2.57h-7.2zM419.1 75.4h7.2v2.57h-7.2zM226.6 77.7h2.6v2.57h-2.6zM356.5 77.7h2.6v2.57h-2.6zM379.7 77.7h2.6v2.57h-2.6zM384.3 77.7h2.6v2.57h-2.6zM226.6 80.0h2.6v2.57h-2.6zM368.1 80.0h2.6v2.57h-2.6zM377.4 80.0h2.6v2.57h-2.6zM386.6 80.0h7.2v2.57h-7.2zM395.9 80.0h9.5v2.57h-9.5zM484.1 80.0h4.9v2.57h-4.9zM226.6 82.4h4.9v2.57h-4.9zM370.4 82.4h2.6v2.57h-2.6zM386.6 82.4h2.6v2.57h-2.6zM398.2 82.4h7.2v2.57h-7.2zM484.1 82.4h4.9v2.57h-4.9zM351.8 84.7h2.6v2.57h-2.6zM361.1 84.7h4.9v2.57h-4.9zM384.3 84.7h2.6v2.57h-2.6zM368.1 87.0h7.2v2.57h-7.2zM382.0 87.0h2.6v2.57h-2.6zM259.0 89.3h2.6v2.57h-2.6zM377.4 89.3h4.9v2.57h-4.9zM342.6 98.6h2.6v2.57h-2.6zM342.6 100.9h4.9v2.57h-4.9zM210.3 103.2h2.6v2.57h-2.6zM215.0 117.2h2.6v2.57h-2.6zM433.0 121.8h2.6v2.57h-2.6zM467.8 128.8h2.6v2.57h-2.6zM307.8 138.0h2.6v2.57h-2.6zM277.6 140.4h4.9v2.57h-4.9zM275.3 142.7h2.6v2.57h-2.6zM305.4 142.7h2.6v2.57h-2.6zM314.7 142.7h2.6v2.57h-2.6zM275.3 145.0h2.6v2.57h-2.6zM307.8 145.0h2.6v2.57h-2.6zM314.7 145.0h2.6v2.57h-2.6zM273.0 149.6h2.6v2.57h-2.6zM354.2 165.9h2.6v2.57h-2.6zM335.6 168.2h2.6v2.57h-2.6zM349.5 168.2h7.2v2.57h-7.2zM312.4 170.5h2.6v2.57h-2.6zM317.0 170.5h2.6v2.57h-2.6zM335.6 170.5h9.5v2.57h-9.5zM347.2 170.5h7.2v2.57h-7.2zM310.1 172.8h9.5v2.57h-9.5zM333.3 172.8h18.8v2.57h-18.8zM307.8 175.2h7.2v2.57h-7.2zM317.0 175.2h4.9v2.57h-4.9zM333.3 175.2h18.8v2.57h-18.8zM310.1 177.5h14.2v2.57h-14.2zM333.3 177.5h11.8v2.57h-11.8zM347.2 177.5h2.6v2.57h-2.6zM310.1 179.8h7.2v2.57h-7.2zM319.4 179.8h11.8v2.57h-11.8zM333.3 179.8h2.6v2.57h-2.6zM293.8 182.1h9.5v2.57h-9.5zM314.7 182.1h2.6v2.57h-2.6zM328.6 182.1h4.9v2.57h-4.9zM351.8 182.1h2.6v2.57h-2.6zM370.4 182.1h4.9v2.57h-4.9zM291.5 184.4h7.2v2.57h-7.2zM300.8 184.4h2.6v2.57h-2.6zM314.7 184.4h2.6v2.57h-2.6zM331.0 184.4h2.6v2.57h-2.6zM347.2 184.4h9.5v2.57h-9.5zM370.4 184.4h4.9v2.57h-4.9zM293.8 186.8h2.6v2.57h-2.6zM298.5 186.8h4.9v2.57h-4.9zM312.4 186.8h7.2v2.57h-7.2zM331.0 186.8h2.6v2.57h-2.6zM342.6 186.8h14.2v2.57h-14.2zM370.4 186.8h9.5v2.57h-9.5zM296.2 189.1h7.2v2.57h-7.2zM307.8 189.1h9.5v2.57h-9.5zM331.0 189.1h2.6v2.57h-2.6zM337.9 189.1h7.2v2.57h-7.2zM351.8 189.1h4.9v2.57h-4.9zM372.7 189.1h9.5v2.57h-9.5zM298.5 191.4h18.8v2.57h-18.8zM331.0 191.4h9.5v2.57h-9.5zM354.2 191.4h4.9v2.57h-4.9zM372.7 191.4h11.8v2.57h-11.8zM300.8 193.7h11.8v2.57h-11.8zM333.3 193.7h4.9v2.57h-4.9zM356.5 193.7h7.2v2.57h-7.2zM375.0 193.7h9.5v2.57h-9.5zM300.8 196.0h4.9v2.57h-4.9zM307.8 196.0h2.6v2.57h-2.6zM356.5 196.0h4.9v2.57h-4.9zM375.0 196.0h9.5v2.57h-9.5zM300.8 198.4h4.9v2.57h-4.9zM358.8 198.4h4.9v2.57h-4.9zM375.0 198.4h9.5v2.57h-9.5zM284.6 200.7h11.8v2.57h-11.8zM300.8 200.7h4.9v2.57h-4.9zM356.5 200.7h7.2v2.57h-7.2zM370.4 200.7h9.5v2.57h-9.5zM282.2 203.0h23.4v2.57h-23.4zM358.8 203.0h16.5v2.57h-16.5zM282.2 205.3h21.1v2.57h-21.1zM363.4 205.3h16.5v2.57h-16.5zM282.2 207.6h21.1v2.57h-21.1zM370.4 207.6h7.2v2.57h-7.2zM289.2 210.0h11.8v2.57h-11.8zM370.4 210.0h4.9v2.57h-4.9zM293.8 212.3h4.9v2.57h-4.9zM370.4 212.3h7.2v2.57h-7.2zM293.8 214.6h7.2v2.57h-7.2zM370.4 214.6h7.2v2.57h-7.2zM296.2 216.9h2.6v2.57h-2.6zM370.4 216.9h4.9v2.57h-4.9zM289.2 219.2h9.5v2.57h-9.5zM370.4 219.2h4.9v2.57h-4.9zM289.2 221.6h4.9v2.57h-4.9zM296.2 221.6h2.6v2.57h-2.6zM368.1 221.6h7.2v2.57h-7.2zM393.6 221.6h2.6v2.57h-2.6zM286.9 223.9h4.9v2.57h-4.9zM365.8 223.9h7.2v2.57h-7.2zM384.3 223.9h16.5v2.57h-16.5zM284.6 226.2h4.9v2.57h-4.9zM363.4 226.2h7.2v2.57h-7.2zM372.7 226.2h14.2v2.57h-14.2zM284.6 228.5h4.9v2.57h-4.9zM365.8 228.5h16.5v2.57h-16.5zM400.6 228.5h2.6v2.57h-2.6zM286.9 230.8h4.9v2.57h-4.9zM365.8 230.8h11.8v2.57h-11.8zM379.7 230.8h2.6v2.57h-2.6zM400.6 230.8h2.6v2.57h-2.6zM159.3 233.2h2.6v2.57h-2.6zM284.6 233.2h7.2v2.57h-7.2zM370.4 233.2h9.5v2.57h-9.5zM400.6 233.2h2.6v2.57h-2.6zM159.3 235.5h2.6v2.57h-2.6zM284.6 235.5h7.2v2.57h-7.2zM375.0 235.5h2.6v2.57h-2.6zM384.3 235.5h16.5v2.57h-16.5zM277.6 237.8h14.2v2.57h-14.2zM377.4 237.8h9.5v2.57h-9.5zM157.0 240.1h2.6v2.57h-2.6zM275.3 240.1h16.5v2.57h-16.5zM377.4 240.1h9.5v2.57h-9.5zM275.3 242.4h14.2v2.57h-14.2zM372.7 242.4h4.9v2.57h-4.9zM384.3 242.4h4.9v2.57h-4.9zM277.6 244.8h11.8v2.57h-11.8zM372.7 244.8h7.2v2.57h-7.2zM386.6 244.8h4.9v2.57h-4.9zM277.6 247.1h11.8v2.57h-11.8zM370.4 247.1h7.2v2.57h-7.2zM389.0 247.1h4.9v2.57h-4.9zM279.9 249.4h9.5v2.57h-9.5zM370.4 249.4h7.2v2.57h-7.2zM391.3 249.4h2.6v2.57h-2.6zM279.9 251.7h9.5v2.57h-9.5zM370.4 251.7h9.5v2.57h-9.5zM391.3 251.7h4.9v2.57h-4.9zM284.6 254.0h7.2v2.57h-7.2zM375.0 254.0h21.1v2.57h-21.1zM286.9 256.4h4.9v2.57h-4.9zM375.0 256.4h7.2v2.57h-7.2zM384.3 256.4h11.8v2.57h-11.8zM286.9 258.7h4.9v2.57h-4.9zM354.2 258.7h2.6v2.57h-2.6zM375.0 258.7h4.9v2.57h-4.9zM386.6 258.7h9.5v2.57h-9.5zM289.2 261.0h2.6v2.57h-2.6zM354.2 261.0h2.6v2.57h-2.6zM372.7 261.0h4.9v2.57h-4.9zM386.6 261.0h9.5v2.57h-9.5zM286.9 263.3h9.5v2.57h-9.5zM354.2 263.3h2.6v2.57h-2.6zM368.1 263.3h4.9v2.57h-4.9zM384.3 263.3h11.8v2.57h-11.8zM286.9 265.6h14.2v2.57h-14.2zM303.1 265.6h2.6v2.57h-2.6zM365.8 265.6h2.6v2.57h-2.6zM379.7 265.6h16.5v2.57h-16.5zM289.2 268.0h16.5v2.57h-16.5zM363.4 268.0h4.9v2.57h-4.9zM379.7 268.0h16.5v2.57h-16.5zM289.2 270.3h2.6v2.57h-2.6zM293.8 270.3h9.5v2.57h-9.5zM363.4 270.3h2.6v2.57h-2.6zM379.7 270.3h9.5v2.57h-9.5zM296.2 272.6h4.9v2.57h-4.9zM337.9 272.6h7.2v2.57h-7.2zM363.4 272.6h2.6v2.57h-2.6zM379.7 272.6h7.2v2.57h-7.2zM296.2 274.9h4.9v2.57h-4.9zM337.9 274.9h7.2v2.57h-7.2zM363.4 274.9h2.6v2.57h-2.6zM379.7 274.9h4.9v2.57h-4.9zM298.5 277.2h4.9v2.57h-4.9zM337.9 277.2h7.2v2.57h-7.2zM361.1 277.2h4.9v2.57h-4.9zM375.0 277.2h9.5v2.57h-9.5zM402.9 277.2h2.6v2.57h-2.6zM298.5 279.6h7.2v2.57h-7.2zM335.6 279.6h9.5v2.57h-9.5zM361.1 279.6h7.2v2.57h-7.2zM372.7 279.6h4.9v2.57h-4.9zM379.7 279.6h4.9v2.57h-4.9zM303.1 281.9h2.6v2.57h-2.6zM312.4 281.9h4.9v2.57h-4.9zM333.3 281.9h11.8v2.57h-11.8zM361.1 281.9h11.8v2.57h-11.8zM382.0 281.9h2.6v2.57h-2.6zM289.2 284.2h4.9v2.57h-4.9zM305.4 284.2h14.2v2.57h-14.2zM331.0 284.2h14.2v2.57h-14.2zM358.8 284.2h9.5v2.57h-9.5zM379.7 284.2h4.9v2.57h-4.9zM291.5 286.5h2.6v2.57h-2.6zM303.1 286.5h30.4v2.57h-30.4zM337.9 286.5h4.9v2.57h-4.9zM358.8 286.5h2.6v2.57h-2.6zM363.4 286.5h4.9v2.57h-4.9zM379.7 286.5h4.9v2.57h-4.9zM300.8 288.8h21.1v2.57h-21.1zM337.9 288.8h4.9v2.57h-4.9zM358.8 288.8h4.9v2.57h-4.9zM365.8 288.8h4.9v2.57h-4.9zM375.0 288.8h7.2v2.57h-7.2zM296.2 291.2h18.8v2.57h-18.8zM337.9 291.2h7.2v2.57h-7.2zM354.2 291.2h7.2v2.57h-7.2zM363.4 291.2h11.8v2.57h-11.8zM298.5 293.5h16.5v2.57h-16.5zM340.2 293.5h4.9v2.57h-4.9zM349.5 293.5h11.8v2.57h-11.8zM363.4 293.5h2.6v2.57h-2.6zM298.5 295.8h11.8v2.57h-11.8zM342.6 295.8h11.8v2.57h-11.8zM356.5 295.8h4.9v2.57h-4.9zM307.8 298.1h2.6v2.57h-2.6zM440.0 309.7h2.6v2.57h-2.6zM444.6 309.7h4.9v2.57h-4.9zM351.8 312.0h4.9v2.57h-4.9zM437.7 314.4h2.6v2.57h-2.6zM435.4 316.7h4.9v2.57h-4.9zM433.0 319.0h2.6v2.57h-2.6zM419.1 339.9h4.9v2.57h-4.9zM423.8 342.2h2.6v2.57h-2.6zM389.0 407.2h2.6v2.57h-2.6zM389.0 409.5h2.6v2.57h-2.6zM389.0 411.8h2.6v2.57h-2.6zM384.3 414.1h4.9v2.57h-4.9z"/>
<path fill="#fdc372" d="M226.6 63.8h7.2v2.57h-7.2zM224.2 66.1h2.6v2.57h-2.6zM231.2 66.1h7.2v2.57h-7.2zM235.8 68.4h2.6v2.57h-2.6zM433.0 68.4h4.9v2.57h-4.9zM224.2 70.8h9.5v2.57h-9.5zM235.8 70.8h2.6v2.57h-2.6zM224.2 73.1h11.8v2.57h-11.8zM228.9 77.7h2.6v2.57h-2.6zM351.8 77.7h4.9v2.57h-4.9zM382.0 77.7h2.6v2.57h-2.6zM228.9 80.0h9.5v2.57h-9.5zM351.8 80.0h2.6v2.57h-2.6zM361.1 80.0h7.2v2.57h-7.2zM379.7 80.0h4.9v2.57h-4.9zM231.2 82.4h2.6v2.57h-2.6zM351.8 82.4h2.6v2.57h-2.6zM375.0 82.4h2.6v2.57h-2.6zM382.0 82.4h2.6v2.57h-2.6zM354.2 84.7h7.2v2.57h-7.2zM365.8 84.7h4.9v2.57h-4.9zM379.7 84.7h4.9v2.57h-4.9zM456.2 84.7h2.6v2.57h-2.6zM254.4 87.0h2.6v2.57h-2.6zM375.0 87.0h7.2v2.57h-7.2zM451.6 87.0h4.9v2.57h-4.9zM252.1 89.3h7.2v2.57h-7.2zM451.6 89.3h2.6v2.57h-2.6zM296.2 100.9h4.9v2.57h-4.9zM458.6 100.9h2.6v2.57h-2.6zM458.6 103.2h2.6v2.57h-2.6zM208.0 105.6h2.6v2.57h-2.6zM456.2 105.6h2.6v2.57h-2.6zM453.9 114.8h2.6v2.57h-2.6zM212.6 117.2h2.6v2.57h-2.6zM453.9 117.2h4.9v2.57h-4.9zM210.3 119.5h4.9v2.57h-4.9zM430.7 119.5h4.9v2.57h-4.9zM453.9 119.5h4.9v2.57h-4.9zM430.7 121.8h2.6v2.57h-2.6zM435.4 121.8h2.6v2.57h-2.6zM451.6 121.8h7.2v2.57h-7.2zM430.7 124.1h7.2v2.57h-7.2zM449.3 124.1h7.2v2.57h-7.2zM430.7 126.4h9.5v2.57h-9.5zM449.3 126.4h7.2v2.57h-7.2zM314.7 128.8h7.2v2.57h-7.2zM370.4 128.8h4.9v2.57h-4.9zM433.0 128.8h7.2v2.57h-7.2zM449.3 128.8h2.6v2.57h-2.6zM463.2 128.8h4.9v2.57h-4.9zM314.7 131.1h4.9v2.57h-4.9zM433.0 131.1h2.6v2.57h-2.6zM300.8 135.7h2.6v2.57h-2.6zM307.8 135.7h2.6v2.57h-2.6zM386.6 135.7h9.5v2.57h-9.5zM286.9 138.0h2.6v2.57h-2.6zM393.6 138.0h4.9v2.57h-4.9zM282.2 140.4h2.6v2.57h-2.6zM300.8 140.4h2.6v2.57h-2.6zM395.9 140.4h2.6v2.57h-2.6zM305.4 156.6h7.2v2.57h-7.2zM333.3 156.6h2.6v2.57h-2.6zM312.4 158.9h2.6v2.57h-2.6zM331.0 158.9h4.9v2.57h-4.9zM333.3 161.2h4.9v2.57h-4.9zM361.1 161.2h4.9v2.57h-4.9zM333.3 163.6h9.5v2.57h-9.5zM349.5 163.6h23.4v2.57h-23.4zM312.4 165.9h7.2v2.57h-7.2zM333.3 165.9h11.8v2.57h-11.8zM347.2 165.9h7.2v2.57h-7.2zM356.5 165.9h9.5v2.57h-9.5zM368.1 165.9h4.9v2.57h-4.9zM310.1 168.2h4.9v2.57h-4.9zM319.4 168.2h2.6v2.57h-2.6zM333.3 168.2h2.6v2.57h-2.6zM337.9 168.2h11.8v2.57h-11.8zM356.5 168.2h16.5v2.57h-16.5zM310.1 170.5h2.6v2.57h-2.6zM319.4 170.5h2.6v2.57h-2.6zM331.0 170.5h4.9v2.57h-4.9zM344.9 170.5h2.6v2.57h-2.6zM354.2 170.5h7.2v2.57h-7.2zM363.4 170.5h4.9v2.57h-4.9zM370.4 170.5h2.6v2.57h-2.6zM305.4 172.8h4.9v2.57h-4.9zM319.4 172.8h2.6v2.57h-2.6zM331.0 172.8h2.6v2.57h-2.6zM351.8 172.8h7.2v2.57h-7.2zM370.4 172.8h2.6v2.57h-2.6zM300.8 175.2h2.6v2.57h-2.6zM305.4 175.2h2.6v2.57h-2.6zM321.7 175.2h4.9v2.57h-4.9zM328.6 175.2h4.9v2.57h-4.9zM351.8 175.2h4.9v2.57h-4.9zM303.1 177.5h7.2v2.57h-7.2zM324.0 177.5h9.5v2.57h-9.5zM344.9 177.5h2.6v2.57h-2.6zM349.5 177.5h7.2v2.57h-7.2zM368.1 177.5h7.2v2.57h-7.2zM293.8 179.8h16.5v2.57h-16.5zM331.0 179.8h2.6v2.57h-2.6zM335.6 179.8h21.1v2.57h-21.1zM368.1 179.8h9.5v2.57h-9.5zM291.5 182.1h2.6v2.57h-2.6zM303.1 182.1h11.8v2.57h-11.8zM333.3 182.1h18.8v2.57h-18.8zM354.2 182.1h2.6v2.57h-2.6zM368.1 182.1h2.6v2.57h-2.6zM375.0 182.1h4.9v2.57h-4.9zM400.6 182.1h2.6v2.57h-2.6zM289.2 184.4h2.6v2.57h-2.6zM303.1 184.4h11.8v2.57h-11.8zM333.3 184.4h14.2v2.57h-14.2zM356.5 184.4h2.6v2.57h-2.6zM368.1 184.4h2.6v2.57h-2.6zM375.0 184.4h7.2v2.57h-7.2zM398.2 184.4h4.9v2.57h-4.9zM291.5 186.8h2.6v2.57h-2.6zM303.1 186.8h9.5v2.57h-9.5zM333.3 186.8h9.5v2.57h-9.5zM356.5 186.8h2.6v2.57h-2.6zM368.1 186.8h2.6v2.57h-2.6zM379.7 186.8h2.6v2.57h-2.6zM395.9 186.8h7.2v2.57h-7.2zM291.5 189.1h4.9v2.57h-4.9zM303.1 189.1h4.9v2.57h-4.9zM333.3 189.1h4.9v2.57h-4.9zM356.5 189.1h16.5v2.57h-16.5zM382.0 189.1h2.6v2.57h-2.6zM398.2 189.1h4.9v2.57h-4.9zM293.8 191.4h4.9v2.57h-4.9zM358.8 191.4h14.2v2.57h-14.2zM384.3 191.4h2.6v2.57h-2.6zM296.2 193.7h4.9v2.57h-4.9zM363.4 193.7h11.8v2.57h-11.8zM384.3 193.7h2.6v2.57h-2.6zM293.8 196.0h7.2v2.57h-7.2zM361.1 196.0h14.2v2.57h-14.2zM384.3 196.0h2.6v2.57h-2.6zM282.2 198.4h18.8v2.57h-18.8zM363.4 198.4h11.8v2.57h-11.8zM384.3 198.4h2.6v2.57h-2.6zM279.9 200.7h4.9v2.57h-4.9zM296.2 200.7h4.9v2.57h-4.9zM363.4 200.7h7.2v2.57h-7.2zM379.7 200.7h4.9v2.57h-4.9zM407.5 200.7h4.9v2.57h-4.9zM277.6 203.0h4.9v2.57h-4.9zM375.0 203.0h9.5v2.57h-9.5zM405.2 203.0h7.2v2.57h-7.2zM259.0 205.3h4.9v2.57h-4.9zM277.6 205.3h4.9v2.57h-4.9zM379.7 205.3h4.9v2.57h-4.9zM405.2 205.3h7.2v2.57h-7.2zM259.0 207.6h4.9v2.57h-4.9zM279.9 207.6h2.6v2.57h-2.6zM377.4 207.6h11.8v2.57h-11.8zM405.2 207.6h7.2v2.57h-7.2zM259.0 210.0h4.9v2.57h-4.9zM279.9 210.0h9.5v2.57h-9.5zM375.0 210.0h18.8v2.57h-18.8zM405.2 210.0h7.2v2.57h-7.2zM259.0 212.3h4.9v2.57h-4.9zM279.9 212.3h14.2v2.57h-14.2zM377.4 212.3h16.5v2.57h-16.5zM279.9 214.6h14.2v2.57h-14.2zM377.4 214.6h16.5v2.57h-16.5zM279.9 216.9h16.5v2.57h-16.5zM375.0 216.9h7.2v2.57h-7.2zM386.6 216.9h9.5v2.57h-9.5zM279.9 219.2h9.5v2.57h-9.5zM375.0 219.2h7.2v2.57h-7.2zM384.3 219.2h14.2v2.57h-14.2zM277.6 221.6h11.8v2.57h-11.8zM375.0 221.6h18.8v2.57h-18.8zM395.9 221.6h4.9v2.57h-4.9zM282.2 223.9h4.9v2.57h-4.9zM372.7 223.9h11.8v2.57h-11.8zM400.6 223.9h2.6v2.57h-2.6zM282.2 226.2h2.6v2.57h-2.6zM370.4 226.2h2.6v2.57h-2.6zM400.6 226.2h2.6v2.57h-2.6zM268.3 228.5h2.6v2.57h-2.6zM282.2 228.5h2.6v2.57h-2.6zM402.9 228.5h2.6v2.57h-2.6zM282.2 230.8h4.9v2.57h-4.9zM402.9 230.8h2.6v2.57h-2.6zM270.6 233.2h9.5v2.57h-9.5zM282.2 233.2h2.6v2.57h-2.6zM402.9 233.2h2.6v2.57h-2.6zM154.6 235.5h4.9v2.57h-4.9zM270.6 235.5h14.2v2.57h-14.2zM400.6 235.5h2.6v2.57h-2.6zM154.6 237.8h2.6v2.57h-2.6zM270.6 237.8h7.2v2.57h-7.2zM386.6 237.8h16.5v2.57h-16.5zM426.1 237.8h2.6v2.57h-2.6zM270.6 240.1h4.9v2.57h-4.9zM386.6 240.1h7.2v2.57h-7.2zM395.9 240.1h4.9v2.57h-4.9zM426.1 240.1h4.9v2.57h-4.9zM273.0 242.4h2.6v2.57h-2.6zM389.0 242.4h4.9v2.57h-4.9zM426.1 242.4h7.2v2.57h-7.2zM273.0 244.8h4.9v2.57h-4.9zM391.3 244.8h7.2v2.57h-7.2zM273.0 247.1h4.9v2.57h-4.9zM393.6 247.1h4.9v2.57h-4.9zM275.3 249.4h4.9v2.57h-4.9zM393.6 249.4h2.6v2.57h-2.6zM273.0 251.7h7.2v2.57h-7.2zM395.9 251.7h4.9v2.57h-4.9zM407.5 251.7h7.2v2.57h-7.2zM273.0 254.0h11.8v2.57h-11.8zM395.9 254.0h2.6v2.57h-2.6zM412.2 254.0h7.2v2.57h-7.2zM270.6 256.4h16.5v2.57h-16.5zM382.0 256.4h2.6v2.57h-2.6zM395.9 256.4h2.6v2.57h-2.6zM412.2 256.4h9.5v2.57h-9.5zM270.6 258.7h16.5v2.57h-16.5zM379.7 258.7h7.2v2.57h-7.2zM395.9 258.7h4.9v2.57h-4.9zM412.2 258.7h9.5v2.57h-9.5zM268.3 261.0h9.5v2.57h-9.5zM282.2 261.0h7.2v2.57h-7.2zM377.4 261.0h9.5v2.57h-9.5zM395.9 261.0h4.9v2.57h-4.9zM414.5 261.0h2.6v2.57h-2.6zM270.6 263.3h7.2v2.57h-7.2zM282.2 263.3h4.9v2.57h-4.9zM372.7 263.3h11.8v2.57h-11.8zM395.9 263.3h2.6v2.57h-2.6zM273.0 265.6h2.6v2.57h-2.6zM282.2 265.6h4.9v2.57h-4.9zM368.1 265.6h4.9v2.57h-4.9zM377.4 265.6h2.6v2.57h-2.6zM395.9 265.6h4.9v2.57h-4.9zM277.6 268.0h11.8v2.57h-11.8zM368.1 268.0h2.6v2.57h-2.6zM377.4 268.0h2.6v2.57h-2.6zM395.9 268.0h4.9v2.57h-4.9zM275.3 270.3h14.2v2.57h-14.2zM291.5 270.3h2.6v2.57h-2.6zM365.8 270.3h2.6v2.57h-2.6zM377.4 270.3h2.6v2.57h-2.6zM389.0 270.3h14.2v2.57h-14.2zM277.6 272.6h18.8v2.57h-18.8zM365.8 272.6h2.6v2.57h-2.6zM377.4 272.6h2.6v2.57h-2.6zM386.6 272.6h4.9v2.57h-4.9zM393.6 272.6h11.8v2.57h-11.8zM277.6 274.9h18.8v2.57h-18.8zM365.8 274.9h2.6v2.57h-2.6zM375.0 274.9h4.9v2.57h-4.9zM384.3 274.9h2.6v2.57h-2.6zM395.9 274.9h9.5v2.57h-9.5zM277.6 277.2h21.1v2.57h-21.1zM365.8 277.2h4.9v2.57h-4.9zM372.7 277.2h2.6v2.57h-2.6zM384.3 277.2h2.6v2.57h-2.6zM395.9 277.2h7.2v2.57h-7.2zM282.2 279.6h16.5v2.57h-16.5zM368.1 279.6h4.9v2.57h-4.9zM384.3 279.6h4.9v2.57h-4.9zM398.2 279.6h7.2v2.57h-7.2zM284.6 281.9h18.8v2.57h-18.8zM384.3 281.9h7.2v2.57h-7.2zM400.6 281.9h7.2v2.57h-7.2zM284.6 284.2h4.9v2.57h-4.9zM293.8 284.2h11.8v2.57h-11.8zM384.3 284.2h9.5v2.57h-9.5zM284.6 286.5h7.2v2.57h-7.2zM293.8 286.5h9.5v2.57h-9.5zM333.3 286.5h4.9v2.57h-4.9zM361.1 286.5h2.6v2.57h-2.6zM384.3 286.5h11.8v2.57h-11.8zM270.6 288.8h2.6v2.57h-2.6zM286.9 288.8h14.2v2.57h-14.2zM321.7 288.8h16.5v2.57h-16.5zM363.4 288.8h2.6v2.57h-2.6zM382.0 288.8h14.2v2.57h-14.2zM270.6 291.2h4.9v2.57h-4.9zM289.2 291.2h7.2v2.57h-7.2zM314.7 291.2h9.5v2.57h-9.5zM333.3 291.2h4.9v2.57h-4.9zM361.1 291.2h2.6v2.57h-2.6zM375.0 291.2h4.9v2.57h-4.9zM382.0 291.2h2.6v2.57h-2.6zM386.6 291.2h7.2v2.57h-7.2zM187.1 293.5h2.6v2.57h-2.6zM273.0 293.5h9.5v2.57h-9.5zM291.5 293.5h7.2v2.57h-7.2zM314.7 293.5h4.9v2.57h-4.9zM335.6 293.5h4.9v2.57h-4.9zM361.1 293.5h2.6v2.57h-2.6zM365.8 293.5h11.8v2.57h-11.8zM389.0 293.5h2.6v2.57h-2.6zM275.3 295.8h4.9v2.57h-4.9zM282.2 295.8h2.6v2.57h-2.6zM310.1 295.8h7.2v2.57h-7.2zM335.6 295.8h7.2v2.57h-7.2zM354.2 295.8h2.6v2.57h-2.6zM361.1 295.8h14.2v2.57h-14.2zM284.6 298.1h4.9v2.57h-4.9zM298.5 298.1h9.5v2.57h-9.5zM310.1 298.1h7.2v2.57h-7.2zM344.9 298.1h23.4v2.57h-23.4zM286.9 300.4h4.9v2.57h-4.9zM298.5 300.4h2.6v2.57h-2.6zM310.1 300.4h2.6v2.57h-2.6zM321.7 300.4h2.6v2.57h-2.6zM349.5 300.4h16.5v2.57h-16.5zM368.1 300.4h2.6v2.57h-2.6zM386.6 300.4h4.9v2.57h-4.9zM286.9 302.8h9.5v2.57h-9.5zM321.7 302.8h7.2v2.57h-7.2zM349.5 302.8h11.8v2.57h-11.8zM382.0 302.8h9.5v2.57h-9.5zM289.2 305.1h7.2v2.57h-7.2zM319.4 305.1h7.2v2.57h-7.2zM349.5 305.1h11.8v2.57h-11.8zM384.3 305.1h7.2v2.57h-7.2zM349.5 307.4h11.8v2.57h-11.8zM386.6 307.4h4.9v2.57h-4.9zM347.2 309.7h14.2v2.57h-14.2zM386.6 309.7h4.9v2.57h-4.9zM442.3 309.7h2.6v2.57h-2.6zM342.6 312.0h9.5v2.57h-9.5zM356.5 312.0h7.2v2.57h-7.2zM389.0 312.0h2.6v2.57h-2.6zM440.0 312.0h7.2v2.57h-7.2zM342.6 314.4h16.5v2.57h-16.5zM391.3 314.4h2.6v2.57h-2.6zM440.0 314.4h2.6v2.57h-2.6zM305.4 316.7h2.6v2.57h-2.6zM310.1 316.7h2.6v2.57h-2.6zM351.8 316.7h4.9v2.57h-4.9zM389.0 316.7h4.9v2.57h-4.9zM433.0 316.7h2.6v2.57h-2.6zM305.4 319.0h4.9v2.57h-4.9zM389.0 319.0h4.9v2.57h-4.9zM361.1 351.5h2.6v2.57h-2.6zM402.9 356.1h2.6v2.57h-2.6zM333.3 358.4h4.9v2.57h-4.9zM398.2 358.4h7.2v2.57h-7.2zM333.3 360.8h4.9v2.57h-4.9zM395.9 360.8h4.9v2.57h-4.9zM361.1 363.1h4.9v2.57h-4.9zM361.1 365.4h4.9v2.57h-4.9zM361.1 367.7h2.6v2.57h-2.6zM354.2 374.7h2.6v2.57h-2.6zM351.8 377.0h4.9v2.57h-4.9zM386.6 407.2h2.6v2.57h-2.6zM384.3 409.5h4.9v2.57h-4.9zM382.0 411.8h7.2v2.57h-7.2zM382.0 414.1h2.6v2.57h-2.6z"/>
<path fill="#fdbb6c" d="M233.5 70.8h2.6v2.57h-2.6zM238.2 70.8h2.6v2.57h-2.6zM235.8 73.1h2.6v2.57h-2.6zM233.5 75.4h2.6v2.57h-2.6zM358.8 80.0h2.6v2.57h-2.6zM384.3 80.0h2.6v2.57h-2.6zM354.2 82.4h16.5v2.57h-16.5zM377.4 82.4h4.9v2.57h-4.9zM384.3 82.4h2.6v2.57h-2.6zM370.4 84.7h9.5v2.57h-9.5zM458.6 84.7h2.6v2.57h-2.6zM456.2 87.0h2.6v2.57h-2.6zM453.9 89.3h2.6v2.57h-2.6zM252.1 91.6h2.6v2.57h-2.6zM296.2 98.6h9.5v2.57h-9.5zM453.9 100.9h4.9v2.57h-4.9zM460.9 100.9h2.6v2.57h-2.6zM208.0 103.2h2.6v2.57h-2.6zM453.9 103.2h4.9v2.57h-4.9zM460.9 103.2h4.9v2.57h-4.9zM458.6 105.6h4.9v2.57h-4.9zM453.9 107.9h7.2v2.57h-7.2zM453.9 110.2h4.9v2.57h-4.9zM453.9 112.5h4.9v2.57h-4.9zM428.4 114.8h4.9v2.57h-4.9zM456.2 114.8h2.6v2.57h-2.6zM428.4 117.2h4.9v2.57h-4.9zM203.4 119.5h4.9v2.57h-4.9zM205.7 121.8h4.9v2.57h-4.9zM212.6 124.1h4.9v2.57h-4.9zM456.2 124.1h2.6v2.57h-2.6zM210.3 126.4h7.2v2.57h-7.2zM321.7 126.4h2.6v2.57h-2.6zM337.9 126.4h11.8v2.57h-11.8zM208.0 128.8h9.5v2.57h-9.5zM219.6 128.8h2.6v2.57h-2.6zM307.8 128.8h7.2v2.57h-7.2zM321.7 128.8h4.9v2.57h-4.9zM333.3 128.8h4.9v2.57h-4.9zM340.2 128.8h9.5v2.57h-9.5zM208.0 131.1h2.6v2.57h-2.6zM305.4 131.1h9.5v2.57h-9.5zM319.4 131.1h7.2v2.57h-7.2zM328.6 131.1h2.6v2.57h-2.6zM337.9 131.1h2.6v2.57h-2.6zM342.6 131.1h7.2v2.57h-7.2zM370.4 131.1h4.9v2.57h-4.9zM435.4 131.1h2.6v2.57h-2.6zM303.1 133.4h21.1v2.57h-21.1zM370.4 133.4h2.6v2.57h-2.6zM384.3 133.4h2.6v2.57h-2.6zM289.2 135.7h2.6v2.57h-2.6zM296.2 135.7h4.9v2.57h-4.9zM310.1 135.7h9.5v2.57h-9.5zM382.0 135.7h4.9v2.57h-4.9zM395.9 135.7h2.6v2.57h-2.6zM298.5 138.0h2.6v2.57h-2.6zM310.1 138.0h4.9v2.57h-4.9zM361.1 138.0h7.2v2.57h-7.2zM284.6 140.4h2.6v2.57h-2.6zM298.5 140.4h2.6v2.57h-2.6zM312.4 140.4h2.6v2.57h-2.6zM377.4 140.4h2.6v2.57h-2.6zM393.6 140.4h2.6v2.57h-2.6zM259.0 142.7h2.6v2.57h-2.6zM277.6 142.7h7.2v2.57h-7.2zM296.2 142.7h9.5v2.57h-9.5zM277.6 145.0h9.5v2.57h-9.5zM317.0 145.0h2.6v2.57h-2.6zM277.6 147.3h9.5v2.57h-9.5zM317.0 147.3h2.6v2.57h-2.6zM277.6 149.6h9.5v2.57h-9.5zM277.6 152.0h7.2v2.57h-7.2zM321.7 154.3h7.2v2.57h-7.2zM363.4 154.3h4.9v2.57h-4.9zM312.4 156.6h21.1v2.57h-21.1zM335.6 156.6h9.5v2.57h-9.5zM361.1 156.6h9.5v2.57h-9.5zM305.4 158.9h7.2v2.57h-7.2zM314.7 158.9h9.5v2.57h-9.5zM326.3 158.9h4.9v2.57h-4.9zM335.6 158.9h9.5v2.57h-9.5zM358.8 158.9h14.2v2.57h-14.2zM307.8 161.2h14.2v2.57h-14.2zM324.0 161.2h9.5v2.57h-9.5zM337.9 161.2h11.8v2.57h-11.8zM351.8 161.2h9.5v2.57h-9.5zM365.8 161.2h11.8v2.57h-11.8zM307.8 163.6h14.2v2.57h-14.2zM326.3 163.6h7.2v2.57h-7.2zM342.6 163.6h7.2v2.57h-7.2zM372.7 163.6h7.2v2.57h-7.2zM400.6 163.6h2.6v2.57h-2.6zM310.1 165.9h2.6v2.57h-2.6zM328.6 165.9h4.9v2.57h-4.9zM344.9 165.9h2.6v2.57h-2.6zM365.8 165.9h2.6v2.57h-2.6zM372.7 165.9h7.2v2.57h-7.2zM307.8 168.2h2.6v2.57h-2.6zM321.7 168.2h2.6v2.57h-2.6zM331.0 168.2h2.6v2.57h-2.6zM372.7 168.2h4.9v2.57h-4.9zM303.1 170.5h7.2v2.57h-7.2zM321.7 170.5h4.9v2.57h-4.9zM328.6 170.5h2.6v2.57h-2.6zM361.1 170.5h2.6v2.57h-2.6zM368.1 170.5h2.6v2.57h-2.6zM372.7 170.5h2.6v2.57h-2.6zM300.8 172.8h4.9v2.57h-4.9zM321.7 172.8h9.5v2.57h-9.5zM358.8 172.8h11.8v2.57h-11.8zM398.2 172.8h2.6v2.57h-2.6zM409.8 172.8h7.2v2.57h-7.2zM298.5 175.2h2.6v2.57h-2.6zM303.1 175.2h2.6v2.57h-2.6zM326.3 175.2h2.6v2.57h-2.6zM356.5 175.2h18.8v2.57h-18.8zM398.2 175.2h4.9v2.57h-4.9zM409.8 175.2h9.5v2.57h-9.5zM296.2 177.5h7.2v2.57h-7.2zM356.5 177.5h11.8v2.57h-11.8zM395.9 177.5h7.2v2.57h-7.2zM409.8 177.5h14.2v2.57h-14.2zM289.2 179.8h4.9v2.57h-4.9zM356.5 179.8h4.9v2.57h-4.9zM363.4 179.8h4.9v2.57h-4.9zM377.4 179.8h2.6v2.57h-2.6zM395.9 179.8h9.5v2.57h-9.5zM282.2 182.1h9.5v2.57h-9.5zM356.5 182.1h4.9v2.57h-4.9zM363.4 182.1h4.9v2.57h-4.9zM379.7 182.1h2.6v2.57h-2.6zM393.6 182.1h7.2v2.57h-7.2zM402.9 182.1h2.6v2.57h-2.6zM279.9 184.4h9.5v2.57h-9.5zM358.8 184.4h9.5v2.57h-9.5zM382.0 184.4h2.6v2.57h-2.6zM393.6 184.4h4.9v2.57h-4.9zM402.9 184.4h2.6v2.57h-2.6zM282.2 186.8h9.5v2.57h-9.5zM358.8 186.8h9.5v2.57h-9.5zM382.0 186.8h7.2v2.57h-7.2zM391.3 186.8h4.9v2.57h-4.9zM402.9 186.8h4.9v2.57h-4.9zM286.9 189.1h4.9v2.57h-4.9zM384.3 189.1h11.8v2.57h-11.8zM402.9 189.1h4.9v2.57h-4.9zM289.2 191.4h4.9v2.57h-4.9zM386.6 191.4h9.5v2.57h-9.5zM402.9 191.4h4.9v2.57h-4.9zM289.2 193.7h7.2v2.57h-7.2zM386.6 193.7h9.5v2.57h-9.5zM405.2 193.7h4.9v2.57h-4.9zM277.6 196.0h2.6v2.57h-2.6zM282.2 196.0h11.8v2.57h-11.8zM386.6 196.0h14.2v2.57h-14.2zM405.2 196.0h11.8v2.57h-11.8zM277.6 198.4h4.9v2.57h-4.9zM386.6 198.4h4.9v2.57h-4.9zM393.6 198.4h21.1v2.57h-21.1zM275.3 200.7h4.9v2.57h-4.9zM384.3 200.7h9.5v2.57h-9.5zM395.9 200.7h11.8v2.57h-11.8zM412.2 200.7h2.6v2.57h-2.6zM433.0 200.7h2.6v2.57h-2.6zM256.7 203.0h9.5v2.57h-9.5zM275.3 203.0h2.6v2.57h-2.6zM384.3 203.0h9.5v2.57h-9.5zM400.6 203.0h4.9v2.57h-4.9zM412.2 203.0h4.9v2.57h-4.9zM433.0 203.0h4.9v2.57h-4.9zM256.7 205.3h2.6v2.57h-2.6zM263.7 205.3h2.6v2.57h-2.6zM384.3 205.3h11.8v2.57h-11.8zM400.6 205.3h4.9v2.57h-4.9zM412.2 205.3h4.9v2.57h-4.9zM433.0 205.3h4.9v2.57h-4.9zM256.7 207.6h2.6v2.57h-2.6zM263.7 207.6h2.6v2.57h-2.6zM277.6 207.6h2.6v2.57h-2.6zM389.0 207.6h16.5v2.57h-16.5zM412.2 207.6h4.9v2.57h-4.9zM426.1 207.6h2.6v2.57h-2.6zM433.0 207.6h7.2v2.57h-7.2zM256.7 210.0h2.6v2.57h-2.6zM263.7 210.0h2.6v2.57h-2.6zM277.6 210.0h2.6v2.57h-2.6zM393.6 210.0h11.8v2.57h-11.8zM412.2 210.0h4.9v2.57h-4.9zM428.4 210.0h7.2v2.57h-7.2zM256.7 212.3h2.6v2.57h-2.6zM263.7 212.3h2.6v2.57h-2.6zM277.6 212.3h2.6v2.57h-2.6zM393.6 212.3h28.1v2.57h-28.1zM430.7 212.3h2.6v2.57h-2.6zM256.7 214.6h7.2v2.57h-7.2zM277.6 214.6h2.6v2.57h-2.6zM393.6 214.6h25.8v2.57h-25.8zM256.7 216.9h2.6v2.57h-2.6zM275.3 216.9h4.9v2.57h-4.9zM382.0 216.9h4.9v2.57h-4.9zM395.9 216.9h7.2v2.57h-7.2zM252.1 219.2h4.9v2.57h-4.9zM273.0 219.2h7.2v2.57h-7.2zM382.0 219.2h2.6v2.57h-2.6zM398.2 219.2h4.9v2.57h-4.9zM215.0 221.6h2.6v2.57h-2.6zM249.8 221.6h9.5v2.57h-9.5zM273.0 221.6h4.9v2.57h-4.9zM400.6 221.6h2.6v2.57h-2.6zM249.8 223.9h9.5v2.57h-9.5zM268.3 223.9h14.2v2.57h-14.2zM402.9 223.9h2.6v2.57h-2.6zM252.1 226.2h9.5v2.57h-9.5zM263.7 226.2h18.8v2.57h-18.8zM402.9 226.2h2.6v2.57h-2.6zM252.1 228.5h16.5v2.57h-16.5zM270.6 228.5h11.8v2.57h-11.8zM405.2 228.5h2.6v2.57h-2.6zM254.4 230.8h28.1v2.57h-28.1zM405.2 230.8h2.6v2.57h-2.6zM261.4 233.2h9.5v2.57h-9.5zM279.9 233.2h2.6v2.57h-2.6zM405.2 233.2h2.6v2.57h-2.6zM421.4 233.2h2.6v2.57h-2.6zM263.7 235.5h7.2v2.57h-7.2zM402.9 235.5h4.9v2.57h-4.9zM421.4 235.5h4.9v2.57h-4.9zM268.3 237.8h2.6v2.57h-2.6zM402.9 237.8h2.6v2.57h-2.6zM423.8 237.8h2.6v2.57h-2.6zM268.3 240.1h2.6v2.57h-2.6zM393.6 240.1h2.6v2.57h-2.6zM400.6 240.1h4.9v2.57h-4.9zM423.8 240.1h2.6v2.57h-2.6zM268.3 242.4h4.9v2.57h-4.9zM393.6 242.4h11.8v2.57h-11.8zM423.8 242.4h2.6v2.57h-2.6zM442.3 242.4h2.6v2.57h-2.6zM252.1 244.8h2.6v2.57h-2.6zM268.3 244.8h4.9v2.57h-4.9zM398.2 244.8h9.5v2.57h-9.5zM426.1 244.8h9.5v2.57h-9.5zM252.1 247.1h7.2v2.57h-7.2zM268.3 247.1h4.9v2.57h-4.9zM398.2 247.1h2.6v2.57h-2.6zM405.2 247.1h4.9v2.57h-4.9zM426.1 247.1h9.5v2.57h-9.5zM252.1 249.4h7.2v2.57h-7.2zM268.3 249.4h7.2v2.57h-7.2zM395.9 249.4h7.2v2.57h-7.2zM405.2 249.4h9.5v2.57h-9.5zM426.1 249.4h7.2v2.57h-7.2zM268.3 251.7h4.9v2.57h-4.9zM405.2 251.7h2.6v2.57h-2.6zM414.5 251.7h4.9v2.57h-4.9zM426.1 251.7h7.2v2.57h-7.2zM268.3 254.0h4.9v2.57h-4.9zM398.2 254.0h2.6v2.57h-2.6zM402.9 254.0h2.6v2.57h-2.6zM419.1 254.0h7.2v2.57h-7.2zM435.4 254.0h2.6v2.57h-2.6zM440.0 254.0h2.6v2.57h-2.6zM217.3 256.4h9.5v2.57h-9.5zM268.3 256.4h2.6v2.57h-2.6zM398.2 256.4h7.2v2.57h-7.2zM421.4 256.4h4.9v2.57h-4.9zM435.4 256.4h7.2v2.57h-7.2zM219.6 258.7h7.2v2.57h-7.2zM268.3 258.7h2.6v2.57h-2.6zM400.6 258.7h11.8v2.57h-11.8zM421.4 258.7h2.6v2.57h-2.6zM433.0 258.7h7.2v2.57h-7.2zM266.0 261.0h2.6v2.57h-2.6zM277.6 261.0h4.9v2.57h-4.9zM400.6 261.0h4.9v2.57h-4.9zM409.8 261.0h4.9v2.57h-4.9zM416.8 261.0h4.9v2.57h-4.9zM435.4 261.0h4.9v2.57h-4.9zM266.0 263.3h4.9v2.57h-4.9zM277.6 263.3h4.9v2.57h-4.9zM398.2 263.3h7.2v2.57h-7.2zM414.5 263.3h2.6v2.57h-2.6zM435.4 263.3h4.9v2.57h-4.9zM263.7 265.6h9.5v2.57h-9.5zM275.3 265.6h7.2v2.57h-7.2zM372.7 265.6h4.9v2.57h-4.9zM400.6 265.6h4.9v2.57h-4.9zM435.4 265.6h2.6v2.57h-2.6zM263.7 268.0h14.2v2.57h-14.2zM370.4 268.0h7.2v2.57h-7.2zM400.6 268.0h4.9v2.57h-4.9zM435.4 268.0h2.6v2.57h-2.6zM268.3 270.3h7.2v2.57h-7.2zM368.1 270.3h9.5v2.57h-9.5zM402.9 270.3h7.2v2.57h-7.2zM270.6 272.6h7.2v2.57h-7.2zM368.1 272.6h9.5v2.57h-9.5zM391.3 272.6h2.6v2.57h-2.6zM409.8 272.6h4.9v2.57h-4.9zM273.0 274.9h4.9v2.57h-4.9zM368.1 274.9h7.2v2.57h-7.2zM386.6 274.9h9.5v2.57h-9.5zM412.2 274.9h2.6v2.57h-2.6zM273.0 277.2h4.9v2.57h-4.9zM370.4 277.2h2.6v2.57h-2.6zM386.6 277.2h9.5v2.57h-9.5zM412.2 277.2h4.9v2.57h-4.9zM270.6 279.6h11.8v2.57h-11.8zM389.0 279.6h9.5v2.57h-9.5zM412.2 279.6h4.9v2.57h-4.9zM270.6 281.9h14.2v2.57h-14.2zM391.3 281.9h9.5v2.57h-9.5zM412.2 281.9h4.9v2.57h-4.9zM187.1 284.2h2.6v2.57h-2.6zM266.0 284.2h9.5v2.57h-9.5zM282.2 284.2h2.6v2.57h-2.6zM393.6 284.2h14.2v2.57h-14.2zM412.2 284.2h2.6v2.57h-2.6zM187.1 286.5h4.9v2.57h-4.9zM266.0 286.5h9.5v2.57h-9.5zM279.9 286.5h4.9v2.57h-4.9zM395.9 286.5h11.8v2.57h-11.8zM187.1 288.8h4.9v2.57h-4.9zM268.3 288.8h2.6v2.57h-2.6zM395.9 288.8h9.5v2.57h-9.5zM187.1 291.2h7.2v2.57h-7.2zM198.7 291.2h2.6v2.57h-2.6zM268.3 291.2h2.6v2.57h-2.6zM324.0 291.2h9.5v2.57h-9.5zM379.7 291.2h2.6v2.57h-2.6zM384.3 291.2h2.6v2.57h-2.6zM393.6 291.2h9.5v2.57h-9.5zM189.4 293.5h4.9v2.57h-4.9zM198.7 293.5h4.9v2.57h-4.9zM268.3 293.5h4.9v2.57h-4.9zM282.2 293.5h2.6v2.57h-2.6zM319.4 293.5h16.5v2.57h-16.5zM377.4 293.5h11.8v2.57h-11.8zM391.3 293.5h11.8v2.57h-11.8zM426.1 293.5h2.6v2.57h-2.6zM191.8 295.8h2.6v2.57h-2.6zM201.0 295.8h11.8v2.57h-11.8zM270.6 295.8h4.9v2.57h-4.9zM279.9 295.8h2.6v2.57h-2.6zM284.6 295.8h2.6v2.57h-2.6zM317.0 295.8h18.8v2.57h-18.8zM375.0 295.8h25.8v2.57h-25.8zM428.4 295.8h2.6v2.57h-2.6zM201.0 298.1h11.8v2.57h-11.8zM275.3 298.1h9.5v2.57h-9.5zM317.0 298.1h28.1v2.57h-28.1zM368.1 298.1h30.4v2.57h-30.4zM208.0 300.4h4.9v2.57h-4.9zM273.0 300.4h2.6v2.57h-2.6zM282.2 300.4h4.9v2.57h-4.9zM300.8 300.4h9.5v2.57h-9.5zM312.4 300.4h9.5v2.57h-9.5zM324.0 300.4h11.8v2.57h-11.8zM342.6 300.4h7.2v2.57h-7.2zM365.8 300.4h2.6v2.57h-2.6zM370.4 300.4h16.5v2.57h-16.5zM391.3 300.4h4.9v2.57h-4.9zM245.1 302.8h2.6v2.57h-2.6zM268.3 302.8h7.2v2.57h-7.2zM284.6 302.8h2.6v2.57h-2.6zM296.2 302.8h7.2v2.57h-7.2zM305.4 302.8h16.5v2.57h-16.5zM328.6 302.8h4.9v2.57h-4.9zM347.2 302.8h2.6v2.57h-2.6zM361.1 302.8h21.1v2.57h-21.1zM391.3 302.8h4.9v2.57h-4.9zM268.3 305.1h4.9v2.57h-4.9zM286.9 305.1h2.6v2.57h-2.6zM296.2 305.1h2.6v2.57h-2.6zM310.1 305.1h9.5v2.57h-9.5zM326.3 305.1h4.9v2.57h-4.9zM347.2 305.1h2.6v2.57h-2.6zM361.1 305.1h23.4v2.57h-23.4zM391.3 305.1h2.6v2.57h-2.6zM266.0 307.4h7.2v2.57h-7.2zM289.2 307.4h9.5v2.57h-9.5zM310.1 307.4h23.4v2.57h-23.4zM347.2 307.4h2.6v2.57h-2.6zM361.1 307.4h11.8v2.57h-11.8zM382.0 307.4h4.9v2.57h-4.9zM391.3 307.4h4.9v2.57h-4.9zM266.0 309.7h7.2v2.57h-7.2zM300.8 309.7h2.6v2.57h-2.6zM307.8 309.7h14.2v2.57h-14.2zM324.0 309.7h4.9v2.57h-4.9zM331.0 309.7h7.2v2.57h-7.2zM340.2 309.7h7.2v2.57h-7.2zM361.1 309.7h7.2v2.57h-7.2zM384.3 309.7h2.6v2.57h-2.6zM391.3 309.7h4.9v2.57h-4.9zM266.0 312.0h7.2v2.57h-7.2zM310.1 312.0h9.5v2.57h-9.5zM331.0 312.0h11.8v2.57h-11.8zM363.4 312.0h2.6v2.57h-2.6zM384.3 312.0h4.9v2.57h-4.9zM391.3 312.0h4.9v2.57h-4.9zM310.1 314.4h9.5v2.57h-9.5zM331.0 314.4h11.8v2.57h-11.8zM386.6 314.4h4.9v2.57h-4.9zM393.6 314.4h2.6v2.57h-2.6zM300.8 316.7h4.9v2.57h-4.9zM307.8 316.7h2.6v2.57h-2.6zM312.4 316.7h4.9v2.57h-4.9zM333.3 316.7h18.8v2.57h-18.8zM386.6 316.7h2.6v2.57h-2.6zM393.6 316.7h4.9v2.57h-4.9zM300.8 319.0h4.9v2.57h-4.9zM310.1 319.0h7.2v2.57h-7.2zM328.6 319.0h2.6v2.57h-2.6zM333.3 319.0h4.9v2.57h-4.9zM344.9 319.0h2.6v2.57h-2.6zM349.5 319.0h2.6v2.57h-2.6zM386.6 319.0h2.6v2.57h-2.6zM393.6 319.0h4.9v2.57h-4.9zM303.1 321.3h14.2v2.57h-14.2zM361.1 321.3h4.9v2.57h-4.9zM389.0 321.3h9.5v2.57h-9.5zM358.8 323.6h7.2v2.57h-7.2zM389.0 323.6h7.2v2.57h-7.2zM286.9 326.0h4.9v2.57h-4.9zM284.6 328.3h7.2v2.57h-7.2zM365.8 328.3h2.6v2.57h-2.6zM284.6 330.6h4.9v2.57h-4.9zM368.1 330.6h2.6v2.57h-2.6zM365.8 332.9h2.6v2.57h-2.6zM333.3 337.6h2.6v2.57h-2.6zM361.1 339.9h2.6v2.57h-2.6zM331.0 342.2h7.2v2.57h-7.2zM356.5 342.2h7.2v2.57h-7.2zM333.3 344.5h2.6v2.57h-2.6zM337.9 344.5h7.2v2.57h-7.2zM358.8 344.5h7.2v2.57h-7.2zM335.6 346.8h14.2v2.57h-14.2zM358.8 346.8h7.2v2.57h-7.2zM261.4 349.2h2.6v2.57h-2.6zM337.9 349.2h14.2v2.57h-14.2zM356.5 349.2h11.8v2.57h-11.8zM261.4 351.5h2.6v2.57h-2.6zM335.6 351.5h16.5v2.57h-16.5zM358.8 351.5h2.6v2.57h-2.6zM363.4 351.5h4.9v2.57h-4.9zM335.6 353.8h11.8v2.57h-11.8zM358.8 353.8h9.5v2.57h-9.5zM333.3 356.1h9.5v2.57h-9.5zM358.8 356.1h9.5v2.57h-9.5zM405.2 356.1h2.6v2.57h-2.6zM331.0 358.4h2.6v2.57h-2.6zM337.9 358.4h2.6v2.57h-2.6zM356.5 358.4h11.8v2.57h-11.8zM405.2 358.4h2.6v2.57h-2.6zM337.9 360.8h2.6v2.57h-2.6zM356.5 360.8h11.8v2.57h-11.8zM393.6 360.8h2.6v2.57h-2.6zM358.8 363.1h2.6v2.57h-2.6zM393.6 363.1h2.6v2.57h-2.6zM358.8 365.4h2.6v2.57h-2.6zM356.5 367.7h4.9v2.57h-4.9zM356.5 370.0h7.2v2.57h-7.2zM351.8 372.4h7.2v2.57h-7.2zM349.5 374.7h4.9v2.57h-4.9zM356.5 374.7h2.6v2.57h-2.6zM349.5 377.0h2.6v2.57h-2.6zM356.5 377.0h2.6v2.57h-2.6zM430.7 381.6h2.6v2.57h-2.6zM430.7 384.0h2.6v2.57h-2.6zM430.7 390.9h4.9v2.57h-4.9zM428.4 393.2h9.5v2.57h-9.5zM428.4 395.6h9.5v2.57h-9.5zM384.3 407.2h2.6v2.57h-2.6z"/>
<path fill="#fdb365" d="M354.2 80.0h4.9v2.57h-4.9zM460.9 82.4h2.6v2.57h-2.6zM460.9 84.7h2.6v2.57h-2.6zM324.0 87.0h4.9v2.57h-4.9zM317.0 89.3h2.6v2.57h-2.6zM310.1 91.6h2.6v2.57h-2.6zM307.8 94.0h4.9v2.57h-4.9zM303.1 96.3h9.5v2.57h-9.5zM447.0 96.3h2.6v2.57h-2.6zM305.4 98.6h4.9v2.57h-4.9zM449.3 98.6h2.6v2.57h-2.6zM449.3 100.9h4.9v2.57h-4.9zM437.7 103.2h4.9v2.57h-4.9zM451.6 103.2h2.6v2.57h-2.6zM435.4 105.6h4.9v2.57h-4.9zM430.7 107.9h7.2v2.57h-7.2zM428.4 110.2h4.9v2.57h-4.9zM428.4 112.5h4.9v2.57h-4.9zM426.1 114.8h2.6v2.57h-2.6zM407.5 117.2h7.2v2.57h-7.2zM393.6 119.5h2.6v2.57h-2.6zM407.5 119.5h4.9v2.57h-4.9zM203.4 121.8h2.6v2.57h-2.6zM393.6 121.8h2.6v2.57h-2.6zM208.0 126.4h2.6v2.57h-2.6zM217.3 128.8h2.6v2.57h-2.6zM298.5 128.8h9.5v2.57h-9.5zM326.3 128.8h7.2v2.57h-7.2zM337.9 128.8h2.6v2.57h-2.6zM210.3 131.1h11.8v2.57h-11.8zM298.5 131.1h7.2v2.57h-7.2zM326.3 131.1h2.6v2.57h-2.6zM331.0 131.1h7.2v2.57h-7.2zM340.2 131.1h2.6v2.57h-2.6zM377.4 131.1h2.6v2.57h-2.6zM210.3 133.4h2.6v2.57h-2.6zM296.2 133.4h7.2v2.57h-7.2zM331.0 133.4h7.2v2.57h-7.2zM347.2 133.4h2.6v2.57h-2.6zM368.1 133.4h2.6v2.57h-2.6zM372.7 133.4h11.8v2.57h-11.8zM319.4 135.7h2.6v2.57h-2.6zM365.8 135.7h4.9v2.57h-4.9zM372.7 135.7h7.2v2.57h-7.2zM289.2 138.0h9.5v2.57h-9.5zM314.7 138.0h2.6v2.57h-2.6zM375.0 138.0h2.6v2.57h-2.6zM421.4 138.0h2.6v2.57h-2.6zM286.9 140.4h11.8v2.57h-11.8zM314.7 140.4h2.6v2.57h-2.6zM375.0 140.4h2.6v2.57h-2.6zM419.1 140.4h4.9v2.57h-4.9zM284.6 142.7h11.8v2.57h-11.8zM317.0 142.7h2.6v2.57h-2.6zM451.6 142.7h4.9v2.57h-4.9zM259.0 145.0h2.6v2.57h-2.6zM286.9 145.0h16.5v2.57h-16.5zM451.6 145.0h7.2v2.57h-7.2zM259.0 147.3h2.6v2.57h-2.6zM270.6 147.3h2.6v2.57h-2.6zM286.9 147.3h14.2v2.57h-14.2zM451.6 147.3h2.6v2.57h-2.6zM259.0 149.6h2.6v2.57h-2.6zM286.9 149.6h9.5v2.57h-9.5zM259.0 152.0h2.6v2.57h-2.6zM263.7 152.0h2.6v2.57h-2.6zM284.6 152.0h7.2v2.57h-7.2zM347.2 152.0h2.6v2.57h-2.6zM256.7 154.3h7.2v2.57h-7.2zM314.7 154.3h7.2v2.57h-7.2zM342.6 154.3h4.9v2.57h-4.9zM361.1 154.3h2.6v2.57h-2.6zM368.1 154.3h4.9v2.57h-4.9zM249.8 156.6h11.8v2.57h-11.8zM303.1 156.6h2.6v2.57h-2.6zM344.9 156.6h2.6v2.57h-2.6zM358.8 156.6h2.6v2.57h-2.6zM370.4 156.6h14.2v2.57h-14.2zM391.3 156.6h2.6v2.57h-2.6zM249.8 158.9h4.9v2.57h-4.9zM303.1 158.9h2.6v2.57h-2.6zM344.9 158.9h14.2v2.57h-14.2zM372.7 158.9h16.5v2.57h-16.5zM391.3 158.9h9.5v2.57h-9.5zM303.1 161.2h4.9v2.57h-4.9zM349.5 161.2h2.6v2.57h-2.6zM377.4 161.2h9.5v2.57h-9.5zM389.0 161.2h18.8v2.57h-18.8zM282.2 163.6h2.6v2.57h-2.6zM296.2 163.6h2.6v2.57h-2.6zM300.8 163.6h7.2v2.57h-7.2zM379.7 163.6h7.2v2.57h-7.2zM395.9 163.6h2.6v2.57h-2.6zM402.9 163.6h7.2v2.57h-7.2zM279.9 165.9h2.6v2.57h-2.6zM296.2 165.9h14.2v2.57h-14.2zM324.0 165.9h4.9v2.57h-4.9zM379.7 165.9h4.9v2.57h-4.9zM405.2 165.9h7.2v2.57h-7.2zM277.6 168.2h2.6v2.57h-2.6zM296.2 168.2h11.8v2.57h-11.8zM324.0 168.2h7.2v2.57h-7.2zM405.2 168.2h9.5v2.57h-9.5zM296.2 170.5h7.2v2.57h-7.2zM326.3 170.5h2.6v2.57h-2.6zM407.5 170.5h7.2v2.57h-7.2zM296.2 172.8h4.9v2.57h-4.9zM393.6 172.8h4.9v2.57h-4.9zM296.2 175.2h2.6v2.57h-2.6zM391.3 175.2h7.2v2.57h-7.2zM277.6 177.5h2.6v2.57h-2.6zM291.5 177.5h4.9v2.57h-4.9zM379.7 177.5h2.6v2.57h-2.6zM393.6 177.5h2.6v2.57h-2.6zM256.7 179.8h2.6v2.57h-2.6zM275.3 179.8h14.2v2.57h-14.2zM361.1 179.8h2.6v2.57h-2.6zM379.7 179.8h4.9v2.57h-4.9zM389.0 179.8h7.2v2.57h-7.2zM416.8 179.8h7.2v2.57h-7.2zM256.7 182.1h2.6v2.57h-2.6zM275.3 182.1h7.2v2.57h-7.2zM361.1 182.1h2.6v2.57h-2.6zM382.0 182.1h11.8v2.57h-11.8zM419.1 182.1h4.9v2.57h-4.9zM256.7 184.4h2.6v2.57h-2.6zM266.0 184.4h2.6v2.57h-2.6zM275.3 184.4h4.9v2.57h-4.9zM384.3 184.4h9.5v2.57h-9.5zM421.4 184.4h2.6v2.57h-2.6zM261.4 186.8h2.6v2.57h-2.6zM275.3 186.8h7.2v2.57h-7.2zM389.0 186.8h2.6v2.57h-2.6zM273.0 189.1h14.2v2.57h-14.2zM407.5 189.1h4.9v2.57h-4.9zM421.4 189.1h4.9v2.57h-4.9zM270.6 191.4h18.8v2.57h-18.8zM407.5 191.4h7.2v2.57h-7.2zM423.8 191.4h4.9v2.57h-4.9zM270.6 193.7h18.8v2.57h-18.8zM409.8 193.7h4.9v2.57h-4.9zM428.4 193.7h2.6v2.57h-2.6zM268.3 196.0h9.5v2.57h-9.5zM279.9 196.0h2.6v2.57h-2.6zM428.4 196.0h2.6v2.57h-2.6zM266.0 198.4h11.8v2.57h-11.8zM391.3 198.4h2.6v2.57h-2.6zM414.5 198.4h4.9v2.57h-4.9zM430.7 198.4h2.6v2.57h-2.6zM256.7 200.7h18.8v2.57h-18.8zM393.6 200.7h2.6v2.57h-2.6zM414.5 200.7h7.2v2.57h-7.2zM254.4 203.0h2.6v2.57h-2.6zM266.0 203.0h9.5v2.57h-9.5zM393.6 203.0h7.2v2.57h-7.2zM416.8 203.0h4.9v2.57h-4.9zM254.4 205.3h2.6v2.57h-2.6zM266.0 205.3h4.9v2.57h-4.9zM273.0 205.3h4.9v2.57h-4.9zM395.9 205.3h4.9v2.57h-4.9zM416.8 205.3h9.5v2.57h-9.5zM254.4 207.6h2.6v2.57h-2.6zM266.0 207.6h2.6v2.57h-2.6zM275.3 207.6h2.6v2.57h-2.6zM416.8 207.6h7.2v2.57h-7.2zM254.4 210.0h2.6v2.57h-2.6zM275.3 210.0h2.6v2.57h-2.6zM416.8 210.0h4.9v2.57h-4.9zM435.4 210.0h7.2v2.57h-7.2zM254.4 212.3h2.6v2.57h-2.6zM275.3 212.3h2.6v2.57h-2.6zM433.0 212.3h11.8v2.57h-11.8zM252.1 214.6h4.9v2.57h-4.9zM263.7 214.6h2.6v2.57h-2.6zM275.3 214.6h2.6v2.57h-2.6zM433.0 214.6h9.5v2.57h-9.5zM215.0 216.9h2.6v2.57h-2.6zM249.8 216.9h7.2v2.57h-7.2zM259.0 216.9h4.9v2.57h-4.9zM273.0 216.9h2.6v2.57h-2.6zM402.9 216.9h7.2v2.57h-7.2zM435.4 216.9h4.9v2.57h-4.9zM212.6 219.2h4.9v2.57h-4.9zM247.4 219.2h4.9v2.57h-4.9zM256.7 219.2h4.9v2.57h-4.9zM268.3 219.2h4.9v2.57h-4.9zM402.9 219.2h4.9v2.57h-4.9zM409.8 219.2h2.6v2.57h-2.6zM435.4 219.2h4.9v2.57h-4.9zM212.6 221.6h2.6v2.57h-2.6zM247.4 221.6h2.6v2.57h-2.6zM259.0 221.6h2.6v2.57h-2.6zM268.3 221.6h4.9v2.57h-4.9zM402.9 221.6h4.9v2.57h-4.9zM409.8 221.6h2.6v2.57h-2.6zM210.3 223.9h4.9v2.57h-4.9zM247.4 223.9h2.6v2.57h-2.6zM259.0 223.9h9.5v2.57h-9.5zM405.2 223.9h2.6v2.57h-2.6zM212.6 226.2h2.6v2.57h-2.6zM249.8 226.2h2.6v2.57h-2.6zM261.4 226.2h2.6v2.57h-2.6zM405.2 226.2h9.5v2.57h-9.5zM249.8 228.5h2.6v2.57h-2.6zM407.5 228.5h4.9v2.57h-4.9zM249.8 230.8h4.9v2.57h-4.9zM407.5 230.8h4.9v2.57h-4.9zM444.6 230.8h7.2v2.57h-7.2zM249.8 233.2h11.8v2.57h-11.8zM407.5 233.2h4.9v2.57h-4.9zM444.6 233.2h9.5v2.57h-9.5zM249.8 235.5h14.2v2.57h-14.2zM407.5 235.5h2.6v2.57h-2.6zM444.6 235.5h7.2v2.57h-7.2zM249.8 237.8h9.5v2.57h-9.5zM261.4 237.8h7.2v2.57h-7.2zM405.2 237.8h4.9v2.57h-4.9zM421.4 237.8h2.6v2.57h-2.6zM444.6 237.8h7.2v2.57h-7.2zM247.4 240.1h9.5v2.57h-9.5zM263.7 240.1h4.9v2.57h-4.9zM405.2 240.1h4.9v2.57h-4.9zM421.4 240.1h2.6v2.57h-2.6zM444.6 240.1h7.2v2.57h-7.2zM247.4 242.4h14.2v2.57h-14.2zM263.7 242.4h4.9v2.57h-4.9zM405.2 242.4h4.9v2.57h-4.9zM421.4 242.4h2.6v2.57h-2.6zM440.0 242.4h2.6v2.57h-2.6zM444.6 242.4h4.9v2.57h-4.9zM249.8 244.8h2.6v2.57h-2.6zM254.4 244.8h14.2v2.57h-14.2zM407.5 244.8h4.9v2.57h-4.9zM421.4 244.8h4.9v2.57h-4.9zM435.4 244.8h14.2v2.57h-14.2zM249.8 247.1h2.6v2.57h-2.6zM259.0 247.1h9.5v2.57h-9.5zM409.8 247.1h4.9v2.57h-4.9zM423.8 247.1h2.6v2.57h-2.6zM435.4 247.1h14.2v2.57h-14.2zM249.8 249.4h2.6v2.57h-2.6zM259.0 249.4h9.5v2.57h-9.5zM414.5 249.4h4.9v2.57h-4.9zM421.4 249.4h4.9v2.57h-4.9zM433.0 249.4h7.2v2.57h-7.2zM442.3 249.4h4.9v2.57h-4.9zM212.6 251.7h4.9v2.57h-4.9zM247.4 251.7h21.1v2.57h-21.1zM419.1 251.7h7.2v2.57h-7.2zM433.0 251.7h14.2v2.57h-14.2zM212.6 254.0h14.2v2.57h-14.2zM245.1 254.0h14.2v2.57h-14.2zM263.7 254.0h4.9v2.57h-4.9zM426.1 254.0h9.5v2.57h-9.5zM437.7 254.0h2.6v2.57h-2.6zM442.3 254.0h2.6v2.57h-2.6zM215.0 256.4h2.6v2.57h-2.6zM226.6 256.4h2.6v2.57h-2.6zM242.8 256.4h14.2v2.57h-14.2zM266.0 256.4h2.6v2.57h-2.6zM426.1 256.4h9.5v2.57h-9.5zM442.3 256.4h2.6v2.57h-2.6zM217.3 258.7h2.6v2.57h-2.6zM226.6 258.7h2.6v2.57h-2.6zM242.8 258.7h11.8v2.57h-11.8zM263.7 258.7h4.9v2.57h-4.9zM423.8 258.7h2.6v2.57h-2.6zM430.7 258.7h2.6v2.57h-2.6zM440.0 258.7h4.9v2.57h-4.9zM219.6 261.0h9.5v2.57h-9.5zM242.8 261.0h7.2v2.57h-7.2zM263.7 261.0h2.6v2.57h-2.6zM405.2 261.0h4.9v2.57h-4.9zM421.4 261.0h2.6v2.57h-2.6zM430.7 261.0h4.9v2.57h-4.9zM440.0 261.0h2.6v2.57h-2.6zM259.0 263.3h7.2v2.57h-7.2zM405.2 263.3h9.5v2.57h-9.5zM416.8 263.3h4.9v2.57h-4.9zM433.0 263.3h2.6v2.57h-2.6zM440.0 263.3h2.6v2.57h-2.6zM259.0 265.6h4.9v2.57h-4.9zM405.2 265.6h11.8v2.57h-11.8zM433.0 265.6h2.6v2.57h-2.6zM437.7 265.6h4.9v2.57h-4.9zM259.0 268.0h4.9v2.57h-4.9zM405.2 268.0h11.8v2.57h-11.8zM433.0 268.0h2.6v2.57h-2.6zM437.7 268.0h2.6v2.57h-2.6zM261.4 270.3h7.2v2.57h-7.2zM409.8 270.3h4.9v2.57h-4.9zM433.0 270.3h2.6v2.57h-2.6zM263.7 272.6h7.2v2.57h-7.2zM414.5 272.6h2.6v2.57h-2.6zM433.0 272.6h2.6v2.57h-2.6zM224.2 274.9h2.6v2.57h-2.6zM268.3 274.9h4.9v2.57h-4.9zM414.5 274.9h4.9v2.57h-4.9zM426.1 274.9h2.6v2.57h-2.6zM430.7 274.9h4.9v2.57h-4.9zM189.4 277.2h2.6v2.57h-2.6zM268.3 277.2h4.9v2.57h-4.9zM416.8 277.2h2.6v2.57h-2.6zM428.4 277.2h7.2v2.57h-7.2zM184.8 279.6h7.2v2.57h-7.2zM268.3 279.6h2.6v2.57h-2.6zM416.8 279.6h4.9v2.57h-4.9zM187.1 281.9h7.2v2.57h-7.2zM263.7 281.9h7.2v2.57h-7.2zM416.8 281.9h2.6v2.57h-2.6zM189.4 284.2h4.9v2.57h-4.9zM263.7 284.2h2.6v2.57h-2.6zM275.3 284.2h7.2v2.57h-7.2zM414.5 284.2h4.9v2.57h-4.9zM191.8 286.5h4.9v2.57h-4.9zM263.7 286.5h2.6v2.57h-2.6zM191.8 288.8h7.2v2.57h-7.2zM263.7 288.8h4.9v2.57h-4.9zM194.1 291.2h4.9v2.57h-4.9zM266.0 291.2h2.6v2.57h-2.6zM402.9 291.2h2.6v2.57h-2.6zM194.1 293.5h4.9v2.57h-4.9zM402.9 293.5h2.6v2.57h-2.6zM416.8 293.5h4.9v2.57h-4.9zM194.1 295.8h7.2v2.57h-7.2zM400.6 295.8h4.9v2.57h-4.9zM416.8 295.8h2.6v2.57h-2.6zM398.2 298.1h9.5v2.57h-9.5zM245.1 300.4h7.2v2.57h-7.2zM275.3 300.4h7.2v2.57h-7.2zM335.6 300.4h7.2v2.57h-7.2zM395.9 300.4h11.8v2.57h-11.8zM247.4 302.8h4.9v2.57h-4.9zM266.0 302.8h2.6v2.57h-2.6zM275.3 302.8h2.6v2.57h-2.6zM282.2 302.8h2.6v2.57h-2.6zM303.1 302.8h2.6v2.57h-2.6zM333.3 302.8h14.2v2.57h-14.2zM395.9 302.8h2.6v2.57h-2.6zM402.9 302.8h4.9v2.57h-4.9zM247.4 305.1h4.9v2.57h-4.9zM266.0 305.1h2.6v2.57h-2.6zM273.0 305.1h4.9v2.57h-4.9zM284.6 305.1h2.6v2.57h-2.6zM298.5 305.1h11.8v2.57h-11.8zM331.0 305.1h7.2v2.57h-7.2zM342.6 305.1h4.9v2.57h-4.9zM393.6 305.1h4.9v2.57h-4.9zM402.9 305.1h4.9v2.57h-4.9zM263.7 307.4h2.6v2.57h-2.6zM273.0 307.4h2.6v2.57h-2.6zM284.6 307.4h4.9v2.57h-4.9zM298.5 307.4h11.8v2.57h-11.8zM333.3 307.4h14.2v2.57h-14.2zM372.7 307.4h2.6v2.57h-2.6zM379.7 307.4h2.6v2.57h-2.6zM395.9 307.4h2.6v2.57h-2.6zM402.9 307.4h2.6v2.57h-2.6zM263.7 309.7h2.6v2.57h-2.6zM273.0 309.7h4.9v2.57h-4.9zM289.2 309.7h11.8v2.57h-11.8zM321.7 309.7h2.6v2.57h-2.6zM328.6 309.7h2.6v2.57h-2.6zM337.9 309.7h2.6v2.57h-2.6zM368.1 309.7h2.6v2.57h-2.6zM379.7 309.7h4.9v2.57h-4.9zM395.9 309.7h2.6v2.57h-2.6zM261.4 312.0h4.9v2.57h-4.9zM273.0 312.0h2.6v2.57h-2.6zM293.8 312.0h7.2v2.57h-7.2zM319.4 312.0h11.8v2.57h-11.8zM382.0 312.0h2.6v2.57h-2.6zM395.9 312.0h2.6v2.57h-2.6zM259.0 314.4h16.5v2.57h-16.5zM296.2 314.4h4.9v2.57h-4.9zM319.4 314.4h11.8v2.57h-11.8zM384.3 314.4h2.6v2.57h-2.6zM395.9 314.4h2.6v2.57h-2.6zM296.2 316.7h4.9v2.57h-4.9zM317.0 316.7h16.5v2.57h-16.5zM368.1 316.7h2.6v2.57h-2.6zM384.3 316.7h2.6v2.57h-2.6zM398.2 316.7h2.6v2.57h-2.6zM296.2 319.0h4.9v2.57h-4.9zM317.0 319.0h11.8v2.57h-11.8zM331.0 319.0h2.6v2.57h-2.6zM337.9 319.0h7.2v2.57h-7.2zM347.2 319.0h2.6v2.57h-2.6zM365.8 319.0h4.9v2.57h-4.9zM384.3 319.0h2.6v2.57h-2.6zM398.2 319.0h2.6v2.57h-2.6zM414.5 319.0h4.9v2.57h-4.9zM284.6 321.3h2.6v2.57h-2.6zM289.2 321.3h2.6v2.57h-2.6zM298.5 321.3h4.9v2.57h-4.9zM317.0 321.3h32.7v2.57h-32.7zM365.8 321.3h4.9v2.57h-4.9zM384.3 321.3h4.9v2.57h-4.9zM414.5 321.3h4.9v2.57h-4.9zM282.2 323.6h11.8v2.57h-11.8zM321.7 323.6h18.8v2.57h-18.8zM344.9 323.6h2.6v2.57h-2.6zM356.5 323.6h2.6v2.57h-2.6zM365.8 323.6h4.9v2.57h-4.9zM384.3 323.6h4.9v2.57h-4.9zM395.9 323.6h2.6v2.57h-2.6zM414.5 323.6h4.9v2.57h-4.9zM282.2 326.0h4.9v2.57h-4.9zM321.7 326.0h16.5v2.57h-16.5zM354.2 326.0h21.1v2.57h-21.1zM384.3 326.0h7.2v2.57h-7.2zM282.2 328.3h2.6v2.57h-2.6zM333.3 328.3h2.6v2.57h-2.6zM349.5 328.3h16.5v2.57h-16.5zM368.1 328.3h7.2v2.57h-7.2zM377.4 328.3h2.6v2.57h-2.6zM282.2 330.6h2.6v2.57h-2.6zM335.6 330.6h2.6v2.57h-2.6zM342.6 330.6h2.6v2.57h-2.6zM347.2 330.6h21.1v2.57h-21.1zM370.4 330.6h11.8v2.57h-11.8zM279.9 332.9h16.5v2.57h-16.5zM333.3 332.9h11.8v2.57h-11.8zM349.5 332.9h2.6v2.57h-2.6zM354.2 332.9h11.8v2.57h-11.8zM368.1 332.9h14.2v2.57h-14.2zM282.2 335.2h7.2v2.57h-7.2zM333.3 335.2h9.5v2.57h-9.5zM354.2 335.2h25.8v2.57h-25.8zM303.1 337.6h7.2v2.57h-7.2zM331.0 337.6h2.6v2.57h-2.6zM335.6 337.6h9.5v2.57h-9.5zM351.8 337.6h18.8v2.57h-18.8zM300.8 339.9h9.5v2.57h-9.5zM328.6 339.9h16.5v2.57h-16.5zM351.8 339.9h9.5v2.57h-9.5zM363.4 339.9h4.9v2.57h-4.9zM416.8 339.9h2.6v2.57h-2.6zM300.8 342.2h9.5v2.57h-9.5zM326.3 342.2h4.9v2.57h-4.9zM337.9 342.2h18.8v2.57h-18.8zM363.4 342.2h4.9v2.57h-4.9zM300.8 344.5h7.2v2.57h-7.2zM326.3 344.5h7.2v2.57h-7.2zM335.6 344.5h2.6v2.57h-2.6zM344.9 344.5h14.2v2.57h-14.2zM365.8 344.5h4.9v2.57h-4.9zM379.7 344.5h4.9v2.57h-4.9zM261.4 346.8h2.6v2.57h-2.6zM298.5 346.8h4.9v2.57h-4.9zM324.0 346.8h11.8v2.57h-11.8zM349.5 346.8h9.5v2.57h-9.5zM365.8 346.8h4.9v2.57h-4.9zM377.4 346.8h4.9v2.57h-4.9zM259.0 349.2h2.6v2.57h-2.6zM263.7 349.2h4.9v2.57h-4.9zM296.2 349.2h4.9v2.57h-4.9zM321.7 349.2h16.5v2.57h-16.5zM351.8 349.2h4.9v2.57h-4.9zM368.1 349.2h2.6v2.57h-2.6zM377.4 349.2h2.6v2.57h-2.6zM263.7 351.5h4.9v2.57h-4.9zM324.0 351.5h11.8v2.57h-11.8zM351.8 351.5h7.2v2.57h-7.2zM368.1 351.5h4.9v2.57h-4.9zM419.1 351.5h2.6v2.57h-2.6zM328.6 353.8h7.2v2.57h-7.2zM347.2 353.8h11.8v2.57h-11.8zM368.1 353.8h2.6v2.57h-2.6zM407.5 353.8h7.2v2.57h-7.2zM328.6 356.1h4.9v2.57h-4.9zM342.6 356.1h4.9v2.57h-4.9zM351.8 356.1h7.2v2.57h-7.2zM407.5 356.1h2.6v2.57h-2.6zM328.6 358.4h2.6v2.57h-2.6zM340.2 358.4h2.6v2.57h-2.6zM354.2 358.4h2.6v2.57h-2.6zM340.2 360.8h2.6v2.57h-2.6zM354.2 360.8h2.6v2.57h-2.6zM340.2 363.1h2.6v2.57h-2.6zM356.5 363.1h2.6v2.57h-2.6zM389.0 363.1h4.9v2.57h-4.9zM356.5 365.4h2.6v2.57h-2.6zM389.0 365.4h4.9v2.57h-4.9zM354.2 367.7h2.6v2.57h-2.6zM351.8 370.0h4.9v2.57h-4.9zM349.5 372.4h2.6v2.57h-2.6zM358.8 372.4h4.9v2.57h-4.9zM358.8 374.7h2.6v2.57h-2.6zM358.8 377.0h2.6v2.57h-2.6zM433.0 381.6h4.9v2.57h-4.9zM433.0 384.0h4.9v2.57h-4.9zM430.7 386.3h9.5v2.57h-9.5zM430.7 388.6h9.5v2.57h-9.5zM435.4 390.9h4.9v2.57h-4.9z"/>
<path fill="#fcaa5f" d="M319.4 89.3h4.9v2.57h-4.9zM326.3 89.3h2.6v2.57h-2.6zM312.4 91.6h2.6v2.57h-2.6zM203.4 96.3h2.6v2.57h-2.6zM442.3 98.6h7.2v2.57h-7.2zM201.0 100.9h2.6v2.57h-2.6zM440.0 100.9h9.5v2.57h-9.5zM205.7 103.2h2.6v2.57h-2.6zM449.3 103.2h2.6v2.57h-2.6zM203.4 105.6h4.9v2.57h-4.9zM419.1 112.5h9.5v2.57h-9.5zM416.8 114.8h2.6v2.57h-2.6zM421.4 114.8h4.9v2.57h-4.9zM400.6 117.2h7.2v2.57h-7.2zM414.5 117.2h4.9v2.57h-4.9zM395.9 119.5h2.6v2.57h-2.6zM412.2 119.5h4.9v2.57h-4.9zM395.9 121.8h2.6v2.57h-2.6zM212.6 133.4h9.5v2.57h-9.5zM212.6 135.7h7.2v2.57h-7.2zM372.7 138.0h2.6v2.57h-2.6zM419.1 142.7h4.9v2.57h-4.9zM268.3 149.6h4.9v2.57h-4.9zM266.0 152.0h4.9v2.57h-4.9zM263.7 154.3h2.6v2.57h-2.6zM347.2 154.3h4.9v2.57h-4.9zM261.4 156.6h2.6v2.57h-2.6zM300.8 156.6h2.6v2.57h-2.6zM347.2 156.6h11.8v2.57h-11.8zM393.6 156.6h2.6v2.57h-2.6zM256.7 158.9h2.6v2.57h-2.6zM291.5 158.9h2.6v2.57h-2.6zM300.8 158.9h2.6v2.57h-2.6zM389.0 158.9h2.6v2.57h-2.6zM286.9 161.2h7.2v2.57h-7.2zM298.5 161.2h4.9v2.57h-4.9zM386.6 161.2h2.6v2.57h-2.6zM284.6 163.6h9.5v2.57h-9.5zM298.5 163.6h2.6v2.57h-2.6zM386.6 163.6h7.2v2.57h-7.2zM282.2 165.9h11.8v2.57h-11.8zM384.3 165.9h2.6v2.57h-2.6zM273.0 168.2h4.9v2.57h-4.9zM279.9 168.2h7.2v2.57h-7.2zM293.8 168.2h2.6v2.57h-2.6zM268.3 170.5h16.5v2.57h-16.5zM293.8 170.5h2.6v2.57h-2.6zM261.4 172.8h2.6v2.57h-2.6zM270.6 172.8h11.8v2.57h-11.8zM293.8 172.8h2.6v2.57h-2.6zM386.6 172.8h7.2v2.57h-7.2zM261.4 175.2h7.2v2.57h-7.2zM270.6 175.2h14.2v2.57h-14.2zM291.5 175.2h4.9v2.57h-4.9zM382.0 175.2h9.5v2.57h-9.5zM266.0 177.5h4.9v2.57h-4.9zM273.0 177.5h4.9v2.57h-4.9zM279.9 177.5h11.8v2.57h-11.8zM382.0 177.5h11.8v2.57h-11.8zM252.1 179.8h4.9v2.57h-4.9zM266.0 179.8h9.5v2.57h-9.5zM384.3 179.8h4.9v2.57h-4.9zM254.4 182.1h2.6v2.57h-2.6zM268.3 182.1h7.2v2.57h-7.2zM254.4 184.4h2.6v2.57h-2.6zM268.3 184.4h7.2v2.57h-7.2zM419.1 184.4h2.6v2.57h-2.6zM252.1 186.8h9.5v2.57h-9.5zM263.7 186.8h11.8v2.57h-11.8zM421.4 186.8h4.9v2.57h-4.9zM254.4 189.1h2.6v2.57h-2.6zM259.0 189.1h14.2v2.57h-14.2zM426.1 189.1h2.6v2.57h-2.6zM252.1 191.4h4.9v2.57h-4.9zM263.7 191.4h7.2v2.57h-7.2zM428.4 191.4h2.6v2.57h-2.6zM249.8 193.7h4.9v2.57h-4.9zM263.7 193.7h7.2v2.57h-7.2zM249.8 196.0h7.2v2.57h-7.2zM261.4 196.0h7.2v2.57h-7.2zM252.1 198.4h14.2v2.57h-14.2zM249.8 200.7h7.2v2.57h-7.2zM242.8 203.0h2.6v2.57h-2.6zM252.1 203.0h2.6v2.57h-2.6zM421.4 203.0h2.6v2.57h-2.6zM252.1 205.3h2.6v2.57h-2.6zM270.6 205.3h2.6v2.57h-2.6zM252.1 207.6h2.6v2.57h-2.6zM268.3 207.6h7.2v2.57h-7.2zM252.1 210.0h2.6v2.57h-2.6zM266.0 210.0h4.9v2.57h-4.9zM273.0 210.0h2.6v2.57h-2.6zM215.0 212.3h2.6v2.57h-2.6zM249.8 212.3h4.9v2.57h-4.9zM266.0 212.3h2.6v2.57h-2.6zM273.0 212.3h2.6v2.57h-2.6zM212.6 214.6h4.9v2.57h-4.9zM247.4 214.6h4.9v2.57h-4.9zM266.0 214.6h9.5v2.57h-9.5zM442.3 214.6h2.6v2.57h-2.6zM210.3 216.9h4.9v2.57h-4.9zM235.8 216.9h2.6v2.57h-2.6zM245.1 216.9h4.9v2.57h-4.9zM263.7 216.9h9.5v2.57h-9.5zM440.0 216.9h4.9v2.57h-4.9zM210.3 219.2h2.6v2.57h-2.6zM235.8 219.2h4.9v2.57h-4.9zM245.1 219.2h2.6v2.57h-2.6zM261.4 219.2h7.2v2.57h-7.2zM407.5 219.2h2.6v2.57h-2.6zM440.0 219.2h4.9v2.57h-4.9zM210.3 221.6h2.6v2.57h-2.6zM233.5 221.6h4.9v2.57h-4.9zM245.1 221.6h2.6v2.57h-2.6zM261.4 221.6h7.2v2.57h-7.2zM407.5 221.6h2.6v2.57h-2.6zM440.0 221.6h7.2v2.57h-7.2zM231.2 223.9h4.9v2.57h-4.9zM245.1 223.9h2.6v2.57h-2.6zM407.5 223.9h4.9v2.57h-4.9zM442.3 223.9h4.9v2.57h-4.9zM210.3 226.2h2.6v2.57h-2.6zM247.4 226.2h2.6v2.57h-2.6zM444.6 226.2h2.6v2.57h-2.6zM208.0 228.5h7.2v2.57h-7.2zM247.4 228.5h2.6v2.57h-2.6zM444.6 228.5h4.9v2.57h-4.9zM210.3 230.8h4.9v2.57h-4.9zM247.4 230.8h2.6v2.57h-2.6zM215.0 233.2h2.6v2.57h-2.6zM247.4 233.2h2.6v2.57h-2.6zM231.2 235.5h2.6v2.57h-2.6zM242.8 235.5h7.2v2.57h-7.2zM409.8 235.5h2.6v2.57h-2.6zM451.6 235.5h2.6v2.57h-2.6zM231.2 237.8h18.8v2.57h-18.8zM259.0 237.8h2.6v2.57h-2.6zM409.8 237.8h4.9v2.57h-4.9zM231.2 240.1h16.5v2.57h-16.5zM256.7 240.1h7.2v2.57h-7.2zM409.8 240.1h2.6v2.57h-2.6zM419.1 240.1h2.6v2.57h-2.6zM231.2 242.4h9.5v2.57h-9.5zM242.8 242.4h4.9v2.57h-4.9zM261.4 242.4h2.6v2.57h-2.6zM409.8 242.4h4.9v2.57h-4.9zM419.1 242.4h2.6v2.57h-2.6zM449.3 242.4h2.6v2.57h-2.6zM208.0 244.8h4.9v2.57h-4.9zM247.4 244.8h2.6v2.57h-2.6zM412.2 244.8h2.6v2.57h-2.6zM419.1 244.8h2.6v2.57h-2.6zM208.0 247.1h7.2v2.57h-7.2zM245.1 247.1h4.9v2.57h-4.9zM414.5 247.1h9.5v2.57h-9.5zM208.0 249.4h7.2v2.57h-7.2zM247.4 249.4h2.6v2.57h-2.6zM419.1 249.4h2.6v2.57h-2.6zM440.0 249.4h2.6v2.57h-2.6zM210.3 251.7h2.6v2.57h-2.6zM217.3 251.7h2.6v2.57h-2.6zM242.8 251.7h4.9v2.57h-4.9zM210.3 254.0h2.6v2.57h-2.6zM226.6 254.0h4.9v2.57h-4.9zM240.5 254.0h4.9v2.57h-4.9zM259.0 254.0h4.9v2.57h-4.9zM210.3 256.4h4.9v2.57h-4.9zM228.9 256.4h2.6v2.57h-2.6zM240.5 256.4h2.6v2.57h-2.6zM256.7 256.4h9.5v2.57h-9.5zM212.6 258.7h4.9v2.57h-4.9zM228.9 258.7h2.6v2.57h-2.6zM238.2 258.7h4.9v2.57h-4.9zM254.4 258.7h9.5v2.57h-9.5zM428.4 258.7h2.6v2.57h-2.6zM212.6 261.0h7.2v2.57h-7.2zM228.9 261.0h2.6v2.57h-2.6zM240.5 261.0h2.6v2.57h-2.6zM249.8 261.0h14.2v2.57h-14.2zM428.4 261.0h2.6v2.57h-2.6zM442.3 261.0h2.6v2.57h-2.6zM221.9 263.3h7.2v2.57h-7.2zM242.8 263.3h16.5v2.57h-16.5zM421.4 263.3h2.6v2.57h-2.6zM430.7 263.3h2.6v2.57h-2.6zM442.3 263.3h2.6v2.57h-2.6zM249.8 265.6h9.5v2.57h-9.5zM416.8 265.6h4.9v2.57h-4.9zM430.7 265.6h2.6v2.57h-2.6zM442.3 265.6h2.6v2.57h-2.6zM252.1 268.0h2.6v2.57h-2.6zM256.7 268.0h2.6v2.57h-2.6zM416.8 268.0h4.9v2.57h-4.9zM430.7 268.0h2.6v2.57h-2.6zM259.0 270.3h2.6v2.57h-2.6zM414.5 270.3h7.2v2.57h-7.2zM430.7 270.3h2.6v2.57h-2.6zM224.2 272.6h2.6v2.57h-2.6zM228.9 272.6h4.9v2.57h-4.9zM252.1 272.6h4.9v2.57h-4.9zM261.4 272.6h2.6v2.57h-2.6zM416.8 272.6h2.6v2.57h-2.6zM426.1 272.6h7.2v2.57h-7.2zM226.6 274.9h9.5v2.57h-9.5zM263.7 274.9h4.9v2.57h-4.9zM428.4 274.9h2.6v2.57h-2.6zM187.1 277.2h2.6v2.57h-2.6zM226.6 277.2h4.9v2.57h-4.9zM263.7 277.2h4.9v2.57h-4.9zM261.4 279.6h7.2v2.57h-7.2zM245.1 281.9h2.6v2.57h-2.6zM259.0 281.9h4.9v2.57h-4.9zM261.4 284.2h2.6v2.57h-2.6zM240.5 286.5h2.6v2.57h-2.6zM259.0 286.5h4.9v2.57h-4.9zM261.4 288.8h2.6v2.57h-2.6zM263.7 291.2h2.6v2.57h-2.6zM266.0 293.5h2.6v2.57h-2.6zM412.2 293.5h4.9v2.57h-4.9zM249.8 295.8h4.9v2.57h-4.9zM266.0 295.8h2.6v2.57h-2.6zM409.8 295.8h7.2v2.57h-7.2zM245.1 298.1h9.5v2.57h-9.5zM266.0 298.1h2.6v2.57h-2.6zM409.8 298.1h9.5v2.57h-9.5zM252.1 300.4h2.6v2.57h-2.6zM409.8 300.4h11.8v2.57h-11.8zM252.1 302.8h2.6v2.57h-2.6zM263.7 302.8h2.6v2.57h-2.6zM277.6 302.8h4.9v2.57h-4.9zM398.2 302.8h4.9v2.57h-4.9zM409.8 302.8h4.9v2.57h-4.9zM252.1 305.1h2.6v2.57h-2.6zM263.7 305.1h2.6v2.57h-2.6zM277.6 305.1h7.2v2.57h-7.2zM337.9 305.1h4.9v2.57h-4.9zM398.2 305.1h4.9v2.57h-4.9zM409.8 305.1h4.9v2.57h-4.9zM249.8 307.4h7.2v2.57h-7.2zM261.4 307.4h2.6v2.57h-2.6zM275.3 307.4h9.5v2.57h-9.5zM398.2 307.4h4.9v2.57h-4.9zM409.8 307.4h4.9v2.57h-4.9zM252.1 309.7h11.8v2.57h-11.8zM277.6 309.7h2.6v2.57h-2.6zM284.6 309.7h4.9v2.57h-4.9zM398.2 309.7h7.2v2.57h-7.2zM412.2 309.7h2.6v2.57h-2.6zM256.7 312.0h4.9v2.57h-4.9zM275.3 312.0h4.9v2.57h-4.9zM286.9 312.0h7.2v2.57h-7.2zM377.4 312.0h4.9v2.57h-4.9zM398.2 312.0h4.9v2.57h-4.9zM409.8 312.0h4.9v2.57h-4.9zM275.3 314.4h7.2v2.57h-7.2zM291.5 314.4h4.9v2.57h-4.9zM379.7 314.4h4.9v2.57h-4.9zM398.2 314.4h4.9v2.57h-4.9zM409.8 314.4h7.2v2.57h-7.2zM263.7 316.7h18.8v2.57h-18.8zM289.2 316.7h7.2v2.57h-7.2zM370.4 316.7h2.6v2.57h-2.6zM382.0 316.7h2.6v2.57h-2.6zM409.8 316.7h9.5v2.57h-9.5zM277.6 319.0h18.8v2.57h-18.8zM370.4 319.0h2.6v2.57h-2.6zM382.0 319.0h2.6v2.57h-2.6zM409.8 319.0h4.9v2.57h-4.9zM277.6 321.3h7.2v2.57h-7.2zM286.9 321.3h2.6v2.57h-2.6zM291.5 321.3h7.2v2.57h-7.2zM370.4 321.3h4.9v2.57h-4.9zM382.0 321.3h2.6v2.57h-2.6zM412.2 321.3h2.6v2.57h-2.6zM279.9 323.6h2.6v2.57h-2.6zM370.4 323.6h4.9v2.57h-4.9zM382.0 323.6h2.6v2.57h-2.6zM398.2 323.6h2.6v2.57h-2.6zM412.2 323.6h2.6v2.57h-2.6zM277.6 326.0h4.9v2.57h-4.9zM375.0 326.0h9.5v2.57h-9.5zM391.3 326.0h7.2v2.57h-7.2zM412.2 326.0h7.2v2.57h-7.2zM275.3 328.3h7.2v2.57h-7.2zM319.4 328.3h14.2v2.57h-14.2zM335.6 328.3h2.6v2.57h-2.6zM342.6 328.3h7.2v2.57h-7.2zM375.0 328.3h2.6v2.57h-2.6zM379.7 328.3h11.8v2.57h-11.8zM412.2 328.3h7.2v2.57h-7.2zM273.0 330.6h9.5v2.57h-9.5zM314.7 330.6h21.1v2.57h-21.1zM344.9 330.6h2.6v2.57h-2.6zM382.0 330.6h4.9v2.57h-4.9zM412.2 330.6h2.6v2.57h-2.6zM270.6 332.9h9.5v2.57h-9.5zM296.2 332.9h2.6v2.57h-2.6zM314.7 332.9h7.2v2.57h-7.2zM326.3 332.9h7.2v2.57h-7.2zM344.9 332.9h4.9v2.57h-4.9zM351.8 332.9h2.6v2.57h-2.6zM409.8 332.9h4.9v2.57h-4.9zM270.6 335.2h11.8v2.57h-11.8zM289.2 335.2h14.2v2.57h-14.2zM310.1 335.2h7.2v2.57h-7.2zM326.3 335.2h7.2v2.57h-7.2zM342.6 335.2h11.8v2.57h-11.8zM379.7 335.2h2.6v2.57h-2.6zM409.8 335.2h4.9v2.57h-4.9zM275.3 337.6h14.2v2.57h-14.2zM298.5 337.6h4.9v2.57h-4.9zM310.1 337.6h4.9v2.57h-4.9zM326.3 337.6h4.9v2.57h-4.9zM344.9 337.6h7.2v2.57h-7.2zM370.4 337.6h11.8v2.57h-11.8zM412.2 337.6h4.9v2.57h-4.9zM275.3 339.9h9.5v2.57h-9.5zM298.5 339.9h2.6v2.57h-2.6zM310.1 339.9h4.9v2.57h-4.9zM324.0 339.9h4.9v2.57h-4.9zM344.9 339.9h7.2v2.57h-7.2zM368.1 339.9h16.5v2.57h-16.5zM412.2 339.9h4.9v2.57h-4.9zM275.3 342.2h7.2v2.57h-7.2zM296.2 342.2h4.9v2.57h-4.9zM310.1 342.2h4.9v2.57h-4.9zM324.0 342.2h2.6v2.57h-2.6zM368.1 342.2h16.5v2.57h-16.5zM259.0 344.5h4.9v2.57h-4.9zM275.3 344.5h4.9v2.57h-4.9zM296.2 344.5h4.9v2.57h-4.9zM307.8 344.5h7.2v2.57h-7.2zM319.4 344.5h7.2v2.57h-7.2zM370.4 344.5h9.5v2.57h-9.5zM256.7 346.8h4.9v2.57h-4.9zM263.7 346.8h11.8v2.57h-11.8zM277.6 346.8h2.6v2.57h-2.6zM291.5 346.8h7.2v2.57h-7.2zM303.1 346.8h4.9v2.57h-4.9zM319.4 346.8h4.9v2.57h-4.9zM370.4 346.8h7.2v2.57h-7.2zM382.0 346.8h2.6v2.57h-2.6zM256.7 349.2h2.6v2.57h-2.6zM268.3 349.2h9.5v2.57h-9.5zM300.8 349.2h7.2v2.57h-7.2zM317.0 349.2h4.9v2.57h-4.9zM370.4 349.2h7.2v2.57h-7.2zM419.1 349.2h2.6v2.57h-2.6zM307.8 351.5h2.6v2.57h-2.6zM314.7 351.5h9.5v2.57h-9.5zM372.7 351.5h2.6v2.57h-2.6zM312.4 353.8h2.6v2.57h-2.6zM317.0 353.8h2.6v2.57h-2.6zM321.7 353.8h7.2v2.57h-7.2zM326.3 356.1h2.6v2.57h-2.6zM347.2 356.1h4.9v2.57h-4.9zM409.8 356.1h4.9v2.57h-4.9zM342.6 358.4h11.8v2.57h-11.8zM342.6 360.8h2.6v2.57h-2.6zM351.8 360.8h2.6v2.57h-2.6zM342.6 363.1h4.9v2.57h-4.9zM351.8 363.1h4.9v2.57h-4.9zM351.8 365.4h4.9v2.57h-4.9zM351.8 367.7h2.6v2.57h-2.6zM349.5 370.0h2.6v2.57h-2.6z"/>
<path fill="#fba05b" d="M324.0 89.3h2.6v2.57h-2.6zM314.7 91.6h2.6v2.57h-2.6zM312.4 94.0h2.6v2.57h-2.6zM205.7 96.3h4.9v2.57h-4.9zM312.4 96.3h2.6v2.57h-2.6zM203.4 98.6h4.9v2.57h-4.9zM203.4 100.9h4.9v2.57h-4.9zM201.0 103.2h4.9v2.57h-4.9zM419.1 114.8h2.6v2.57h-2.6zM398.2 117.2h2.6v2.57h-2.6zM398.2 119.5h4.9v2.57h-4.9zM215.0 138.0h2.6v2.57h-2.6zM293.8 158.9h2.6v2.57h-2.6zM298.5 158.9h2.6v2.57h-2.6zM256.7 161.2h2.6v2.57h-2.6zM286.9 168.2h4.9v2.57h-4.9zM263.7 170.5h4.9v2.57h-4.9zM284.6 170.5h7.2v2.57h-7.2zM263.7 172.8h7.2v2.57h-7.2zM282.2 172.8h4.9v2.57h-4.9zM291.5 172.8h2.6v2.57h-2.6zM268.3 175.2h2.6v2.57h-2.6zM284.6 175.2h2.6v2.57h-2.6zM289.2 175.2h2.6v2.57h-2.6zM270.6 177.5h2.6v2.57h-2.6zM247.4 182.1h7.2v2.57h-7.2zM249.8 184.4h4.9v2.57h-4.9zM249.8 186.8h2.6v2.57h-2.6zM235.8 189.1h2.6v2.57h-2.6zM247.4 189.1h7.2v2.57h-7.2zM256.7 189.1h2.6v2.57h-2.6zM235.8 191.4h2.6v2.57h-2.6zM247.4 191.4h4.9v2.57h-4.9zM256.7 191.4h7.2v2.57h-7.2zM235.8 193.7h2.6v2.57h-2.6zM245.1 193.7h4.9v2.57h-4.9zM254.4 193.7h9.5v2.57h-9.5zM247.4 196.0h2.6v2.57h-2.6zM256.7 196.0h4.9v2.57h-4.9zM238.2 198.4h14.2v2.57h-14.2zM240.5 200.7h9.5v2.57h-9.5zM240.5 203.0h2.6v2.57h-2.6zM245.1 203.0h7.2v2.57h-7.2zM242.8 205.3h9.5v2.57h-9.5zM242.8 207.6h9.5v2.57h-9.5zM240.5 210.0h11.8v2.57h-11.8zM270.6 210.0h2.6v2.57h-2.6zM210.3 212.3h4.9v2.57h-4.9zM240.5 212.3h9.5v2.57h-9.5zM268.3 212.3h4.9v2.57h-4.9zM210.3 214.6h2.6v2.57h-2.6zM240.5 214.6h7.2v2.57h-7.2zM208.0 216.9h2.6v2.57h-2.6zM238.2 216.9h7.2v2.57h-7.2zM240.5 219.2h4.9v2.57h-4.9zM238.2 221.6h7.2v2.57h-7.2zM235.8 223.9h9.5v2.57h-9.5zM231.2 226.2h7.2v2.57h-7.2zM245.1 226.2h2.6v2.57h-2.6zM231.2 228.5h4.9v2.57h-4.9zM245.1 228.5h2.6v2.57h-2.6zM208.0 230.8h2.6v2.57h-2.6zM231.2 230.8h4.9v2.57h-4.9zM245.1 230.8h2.6v2.57h-2.6zM208.0 233.2h7.2v2.57h-7.2zM231.2 233.2h4.9v2.57h-4.9zM238.2 233.2h9.5v2.57h-9.5zM208.0 235.5h9.5v2.57h-9.5zM233.5 235.5h9.5v2.57h-9.5zM208.0 237.8h9.5v2.57h-9.5zM208.0 240.1h9.5v2.57h-9.5zM412.2 240.1h4.9v2.57h-4.9zM208.0 242.4h9.5v2.57h-9.5zM240.5 242.4h2.6v2.57h-2.6zM414.5 242.4h4.9v2.57h-4.9zM212.6 244.8h4.9v2.57h-4.9zM228.9 244.8h18.8v2.57h-18.8zM414.5 244.8h4.9v2.57h-4.9zM231.2 247.1h9.5v2.57h-9.5zM242.8 247.1h2.6v2.57h-2.6zM228.9 249.4h9.5v2.57h-9.5zM240.5 249.4h7.2v2.57h-7.2zM224.2 251.7h18.8v2.57h-18.8zM208.0 254.0h2.6v2.57h-2.6zM231.2 254.0h9.5v2.57h-9.5zM208.0 256.4h2.6v2.57h-2.6zM231.2 256.4h9.5v2.57h-9.5zM210.3 258.7h2.6v2.57h-2.6zM231.2 258.7h7.2v2.57h-7.2zM231.2 261.0h9.5v2.57h-9.5zM215.0 263.3h7.2v2.57h-7.2zM228.9 263.3h14.2v2.57h-14.2zM428.4 263.3h2.6v2.57h-2.6zM444.6 263.3h2.6v2.57h-2.6zM217.3 265.6h2.6v2.57h-2.6zM224.2 265.6h25.8v2.57h-25.8zM421.4 265.6h2.6v2.57h-2.6zM428.4 265.6h2.6v2.57h-2.6zM226.6 268.0h16.5v2.57h-16.5zM247.4 268.0h4.9v2.57h-4.9zM428.4 268.0h2.6v2.57h-2.6zM221.9 270.3h16.5v2.57h-16.5zM247.4 270.3h7.2v2.57h-7.2zM426.1 270.3h4.9v2.57h-4.9zM226.6 272.6h2.6v2.57h-2.6zM233.5 272.6h7.2v2.57h-7.2zM247.4 272.6h4.9v2.57h-4.9zM235.8 274.9h4.9v2.57h-4.9zM245.1 274.9h14.2v2.57h-14.2zM231.2 277.2h32.7v2.57h-32.7zM228.9 279.6h9.5v2.57h-9.5zM240.5 279.6h21.1v2.57h-21.1zM228.9 281.9h7.2v2.57h-7.2zM247.4 281.9h11.8v2.57h-11.8zM231.2 284.2h4.9v2.57h-4.9zM249.8 284.2h11.8v2.57h-11.8zM231.2 286.5h9.5v2.57h-9.5zM242.8 286.5h4.9v2.57h-4.9zM252.1 286.5h7.2v2.57h-7.2zM233.5 288.8h16.5v2.57h-16.5zM256.7 288.8h4.9v2.57h-4.9zM238.2 291.2h11.8v2.57h-11.8zM256.7 291.2h7.2v2.57h-7.2zM238.2 293.5h2.6v2.57h-2.6zM247.4 293.5h4.9v2.57h-4.9zM256.7 293.5h2.6v2.57h-2.6zM263.7 293.5h2.6v2.57h-2.6zM409.8 293.5h2.6v2.57h-2.6zM242.8 295.8h7.2v2.57h-7.2zM254.4 295.8h4.9v2.57h-4.9zM263.7 295.8h2.6v2.57h-2.6zM242.8 298.1h2.6v2.57h-2.6zM254.4 298.1h2.6v2.57h-2.6zM263.7 298.1h2.6v2.57h-2.6zM254.4 300.4h2.6v2.57h-2.6zM263.7 300.4h2.6v2.57h-2.6zM254.4 302.8h2.6v2.57h-2.6zM261.4 302.8h2.6v2.57h-2.6zM414.5 302.8h4.9v2.57h-4.9zM254.4 305.1h9.5v2.57h-9.5zM414.5 305.1h4.9v2.57h-4.9zM256.7 307.4h4.9v2.57h-4.9zM414.5 307.4h2.6v2.57h-2.6zM279.9 309.7h4.9v2.57h-4.9zM414.5 309.7h2.6v2.57h-2.6zM279.9 312.0h7.2v2.57h-7.2zM414.5 312.0h4.9v2.57h-4.9zM282.2 314.4h9.5v2.57h-9.5zM372.7 314.4h7.2v2.57h-7.2zM416.8 314.4h4.9v2.57h-4.9zM282.2 316.7h7.2v2.57h-7.2zM372.7 316.7h9.5v2.57h-9.5zM266.0 319.0h11.8v2.57h-11.8zM372.7 319.0h9.5v2.57h-9.5zM407.5 319.0h2.6v2.57h-2.6zM275.3 321.3h2.6v2.57h-2.6zM375.0 321.3h7.2v2.57h-7.2zM409.8 321.3h2.6v2.57h-2.6zM275.3 323.6h4.9v2.57h-4.9zM375.0 323.6h7.2v2.57h-7.2zM400.6 323.6h11.8v2.57h-11.8zM270.6 326.0h7.2v2.57h-7.2zM398.2 326.0h11.8v2.57h-11.8zM270.6 328.3h4.9v2.57h-4.9zM391.3 328.3h14.2v2.57h-14.2zM386.6 330.6h2.6v2.57h-2.6zM414.5 330.6h4.9v2.57h-4.9zM321.7 332.9h4.9v2.57h-4.9zM382.0 332.9h2.6v2.57h-2.6zM414.5 332.9h2.6v2.57h-2.6zM268.3 335.2h2.6v2.57h-2.6zM317.0 335.2h9.5v2.57h-9.5zM382.0 335.2h2.6v2.57h-2.6zM414.5 335.2h4.9v2.57h-4.9zM270.6 337.6h4.9v2.57h-4.9zM289.2 337.6h9.5v2.57h-9.5zM314.7 337.6h11.8v2.57h-11.8zM382.0 337.6h2.6v2.57h-2.6zM416.8 337.6h2.6v2.57h-2.6zM268.3 339.9h7.2v2.57h-7.2zM284.6 339.9h14.2v2.57h-14.2zM314.7 339.9h9.5v2.57h-9.5zM259.0 342.2h2.6v2.57h-2.6zM266.0 342.2h2.6v2.57h-2.6zM270.6 342.2h4.9v2.57h-4.9zM282.2 342.2h4.9v2.57h-4.9zM291.5 342.2h4.9v2.57h-4.9zM314.7 342.2h9.5v2.57h-9.5zM384.3 342.2h2.6v2.57h-2.6zM412.2 342.2h2.6v2.57h-2.6zM254.4 344.5h4.9v2.57h-4.9zM263.7 344.5h11.8v2.57h-11.8zM279.9 344.5h7.2v2.57h-7.2zM291.5 344.5h4.9v2.57h-4.9zM314.7 344.5h4.9v2.57h-4.9zM384.3 344.5h2.6v2.57h-2.6zM252.1 346.8h4.9v2.57h-4.9zM275.3 346.8h2.6v2.57h-2.6zM279.9 346.8h11.8v2.57h-11.8zM307.8 346.8h11.8v2.57h-11.8zM419.1 346.8h2.6v2.57h-2.6zM307.8 349.2h9.5v2.57h-9.5zM310.1 351.5h4.9v2.57h-4.9zM314.7 353.8h2.6v2.57h-2.6zM319.4 353.8h2.6v2.57h-2.6zM317.0 356.1h9.5v2.57h-9.5zM321.7 358.4h7.2v2.57h-7.2zM324.0 360.8h2.6v2.57h-2.6zM344.9 360.8h7.2v2.57h-7.2zM321.7 363.1h2.6v2.57h-2.6zM347.2 363.1h4.9v2.57h-4.9zM349.5 365.4h2.6v2.57h-2.6zM349.5 367.7h2.6v2.57h-2.6z"/>
<path fill="#fa9656" d="M317.0 91.6h7.2v2.57h-7.2zM314.7 94.0h2.6v2.57h-2.6zM245.1 184.4h4.9v2.57h-4.9zM245.1 186.8h4.9v2.57h-4.9zM245.1 189.1h2.6v2.57h-2.6zM238.2 191.4h4.9v2.57h-4.9zM245.1 191.4h2.6v2.57h-2.6zM238.2 193.7h2.6v2.57h-2.6zM238.2 196.0h2.6v2.57h-2.6zM208.0 212.3h2.6v2.57h-2.6zM208.0 214.6h2.6v2.57h-2.6zM238.2 226.2h7.2v2.57h-7.2zM235.8 228.5h9.5v2.57h-9.5zM235.8 230.8h9.5v2.57h-9.5zM235.8 233.2h2.6v2.57h-2.6zM240.5 247.1h2.6v2.57h-2.6zM226.6 249.4h2.6v2.57h-2.6zM238.2 249.4h2.6v2.57h-2.6zM219.6 265.6h4.9v2.57h-4.9zM219.6 268.0h7.2v2.57h-7.2zM242.8 268.0h4.9v2.57h-4.9zM426.1 268.0h2.6v2.57h-2.6zM238.2 270.3h9.5v2.57h-9.5zM240.5 272.6h7.2v2.57h-7.2zM240.5 274.9h4.9v2.57h-4.9zM228.9 284.2h2.6v2.57h-2.6zM240.5 293.5h7.2v2.57h-7.2zM259.0 293.5h4.9v2.57h-4.9zM240.5 295.8h2.6v2.57h-2.6zM259.0 295.8h4.9v2.57h-4.9zM256.7 298.1h7.2v2.57h-7.2zM256.7 300.4h7.2v2.57h-7.2zM256.7 302.8h4.9v2.57h-4.9zM416.8 307.4h2.6v2.57h-2.6zM416.8 309.7h4.9v2.57h-4.9zM419.1 312.0h2.6v2.57h-2.6zM268.3 321.3h7.2v2.57h-7.2zM402.9 321.3h7.2v2.57h-7.2zM268.3 323.6h7.2v2.57h-7.2zM268.3 326.0h2.6v2.57h-2.6zM389.0 330.6h7.2v2.57h-7.2zM419.1 330.6h2.6v2.57h-2.6zM416.8 332.9h4.9v2.57h-4.9zM266.0 337.6h4.9v2.57h-4.9zM263.7 339.9h4.9v2.57h-4.9zM261.4 342.2h4.9v2.57h-4.9zM268.3 342.2h2.6v2.57h-2.6zM286.9 342.2h4.9v2.57h-4.9zM416.8 342.2h2.6v2.57h-2.6zM286.9 344.5h4.9v2.57h-4.9zM384.3 346.8h2.6v2.57h-2.6z"/>
<path fill="#f88c51" d="M395.9 133.4h2.6v2.57h-2.6zM400.6 147.3h7.2v2.57h-7.2zM240.5 184.4h2.6v2.57h-2.6zM240.5 186.8h2.6v2.57h-2.6zM240.5 189.1h2.6v2.57h-2.6zM389.0 332.9h4.9v2.57h-4.9zM414.5 342.2h2.6v2.57h-2.6zM416.8 346.8h2.6v2.57h-2.6zM416.8 349.2h2.6v2.57h-2.6z"/>
<path fill="#f7844e" d="M398.2 147.3h2.6v2.57h-2.6zM384.3 332.9h4.9v2.57h-4.9zM389.0 335.2h2.6v2.57h-2.6zM384.3 339.9h2.6v2.57h-2.6zM386.6 344.5h2.6v2.57h-2.6zM412.2 344.5h2.6v2.57h-2.6zM416.8 344.5h2.6v2.57h-2.6zM409.8 346.8h2.6v2.57h-2.6zM414.5 346.8h2.6v2.57h-2.6z"/>
<path fill="#f67a49" d="M398.2 133.4h2.6v2.57h-2.6zM386.6 335.2h2.6v2.57h-2.6zM384.3 337.6h2.6v2.57h-2.6zM386.6 339.9h2.6v2.57h-2.6zM386.6 342.2h2.6v2.57h-2.6zM414.5 344.5h2.6v2.57h-2.6zM386.6 346.8h2.6v2.57h-2.6zM412.2 346.8h2.6v2.57h-2.6zM409.8 349.2h7.2v2.57h-7.2zM416.8 351.5h2.6v2.57h-2.6z"/>
<path fill="#f47044" d="M384.3 335.2h2.6v2.57h-2.6zM386.6 337.6h2.6v2.57h-2.6z"/></g>
<g fill="#000" fill-opacity="0.74"><polygon points="369.1,89.0 343.6,80.8 345.3,78.8 333.8,78.8 343.2,85.4 342.9,82.9 368.4,91.0"/><polygon points="369.1,89.0 359.8,85.5 361.5,83.6 350.0,83.0 359.1,90.1 359.0,87.5 368.4,91.0"/><polygon points="357.8,100.2 347.5,97.6 349.0,95.6 337.5,96.2 347.3,102.3 346.9,99.7 357.2,102.3"/><polygon points="308.6,100.9 297.2,102.5 297.9,100.0 287.5,105.0 298.9,106.9 297.6,104.7 308.9,103.1"/><polygon points="343.9,115.9 335.0,114.4 336.4,112.2 325.0,113.8 335.2,119.0 334.7,116.5 343.6,118.1"/><polygon points="330.1,125.2 318.1,123.5 319.4,121.3 308.0,123.2 318.4,128.2 317.8,125.7 329.9,127.3"/><polygon points="295.7,144.0 278.1,154.1 277.8,151.5 270.0,160.0 281.3,157.5 279.2,156.0 296.8,146.0"/><polygon points="269.7,149.0 252.9,154.5 253.1,152.0 243.8,158.8 255.3,158.5 253.6,156.6 270.3,151.0"/><polygon points="289.5,146.5 283.5,149.5 283.3,147.0 275.0,155.0 286.4,153.2 284.4,151.5 290.5,148.5"/><polygon points="349.0,160.7 336.2,157.6 337.8,155.5 326.2,156.2 336.1,162.2 335.7,159.7 348.5,162.8"/><polygon points="352.9,175.2 342.2,170.9 344.0,169.1 332.5,168.2 341.4,175.5 341.4,173.0 352.1,177.3"/><polygon points="327.6,175.2 315.0,174.5 316.2,172.2 305.0,175.0 315.8,179.1 314.9,176.7 327.4,177.3"/><polygon points="307.3,173.4 295.8,176.0 296.2,173.5 286.2,179.2 297.7,180.2 296.2,178.1 307.7,175.6"/><polygon points="346.6,188.9 337.4,186.3 339.0,184.3 327.5,184.5 337.1,190.9 336.8,188.4 345.9,191.1"/><polygon points="376.9,189.4 371.5,181.4 374.0,180.9 365.0,173.8 368.3,184.8 369.7,182.6 375.1,190.6"/><polygon points="365.8,193.0 358.8,185.4 361.2,184.5 351.2,178.8 356.1,189.2 357.2,186.9 364.2,194.5"/><polygon points="289.2,189.2 275.3,202.3 274.4,199.9 268.8,210.0 279.1,205.0 276.8,203.9 290.8,190.8"/><polygon points="335.1,201.4 323.8,200.3 325.0,198.1 313.8,200.5 324.4,205.0 323.6,202.5 334.9,203.6"/><polygon points="344.1,209.5 336.0,206.3 337.8,204.5 326.2,203.8 335.3,210.9 335.2,208.4 343.4,211.5"/><polygon points="362.1,214.3 354.5,204.7 357.0,204.0 347.5,197.5 351.6,208.3 352.8,206.0 360.4,215.7"/><polygon points="312.2,210.2 301.7,213.5 302.0,210.9 292.5,217.5 304.0,217.5 302.4,215.6 312.8,212.3"/><polygon points="309.5,214.0 303.5,217.0 303.3,214.5 295.0,222.5 306.4,220.7 304.4,219.0 310.5,216.0"/><polygon points="310.3,229.4 304.2,239.6 302.7,237.5 300.0,248.8 308.6,241.1 306.1,240.7 312.2,230.6"/><polygon points="349.8,236.0 348.3,229.5 350.8,229.9 345.0,220.0 344.1,231.5 346.2,230.0 347.7,236.5"/><polygon points="351.0,249.2 358.5,230.9 360.3,232.7 361.2,221.2 353.9,230.1 356.4,230.1 349.0,248.3"/><polygon points="369.8,256.7 372.9,249.6 374.7,251.5 376.0,240.0 368.4,248.6 370.9,248.7 367.7,255.8"/><polygon points="314.2,258.3 321.1,265.5 318.7,266.4 328.8,272.0 323.7,261.6 322.7,264.0 315.8,256.7"/><polygon points="319.7,276.1 328.8,278.5 327.2,280.5 338.8,280.0 329.0,273.8 329.4,276.4 320.3,273.9"/><polygon points="359.4,277.1 367.7,270.7 368.4,273.2 375.0,263.8 364.2,267.7 366.4,269.0 358.1,275.4"/><polygon points="361.9,282.2 368.3,277.8 368.8,280.3 376.0,271.2 365.0,274.6 367.1,276.0 360.6,280.3"/><polygon points="323.6,287.3 335.0,289.3 333.6,291.5 345.0,290.0 334.8,284.7 335.3,287.2 323.9,285.2"/><polygon points="300.6,278.4 311.3,286.2 309.1,287.5 320.0,291.2 313.2,282.0 312.6,284.4 301.9,276.6"/><polygon points="255.2,214.8 252.9,229.9 250.7,228.6 252.5,240.0 257.5,229.6 255.1,230.3 257.3,215.2"/><polygon points="256.9,222.4 255.9,237.4 253.6,236.3 256.2,247.5 260.5,236.8 258.0,237.6 259.1,222.6"/><polygon points="258.9,230.1 259.6,242.6 257.2,241.7 261.2,252.5 264.1,241.3 261.8,242.5 261.1,229.9"/><polygon points="213.9,223.5 211.0,237.5 208.9,236.0 210.0,247.5 215.6,237.4 213.1,237.9 216.1,224.0"/><polygon points="241.4,243.8 242.6,257.6 240.1,256.8 244.5,267.5 247.0,256.2 244.8,257.4 243.6,243.7"/><polygon points="245.2,257.8 249.7,272.0 247.1,271.8 253.8,281.2 253.7,269.7 251.8,271.4 247.3,257.2"/><polygon points="255.9,256.5 259.5,270.6 257.0,270.2 263.0,280.0 263.7,268.5 261.6,270.0 258.1,256.0"/><polygon points="265.9,249.0 269.1,261.8 266.5,261.4 272.5,271.2 273.2,259.7 271.2,261.3 268.1,248.5"/><polygon points="278.9,244.8 276.6,259.9 274.5,258.6 276.2,270.0 281.3,259.6 278.8,260.3 281.1,245.2"/><polygon points="286.4,242.6 287.1,256.3 284.7,255.4 288.8,266.2 291.6,255.1 289.3,256.2 288.6,242.4"/><polygon points="284.4,254.1 288.2,266.9 285.6,266.6 292.0,276.2 292.3,264.7 290.3,266.3 286.6,253.4"/><polygon points="223.9,264.0 226.5,276.7 224.0,276.1 229.5,286.2 230.7,274.8 228.6,276.2 226.1,263.5"/><polygon points="276.5,268.0 284.2,281.8 281.6,282.1 290.0,290.0 287.7,278.7 286.1,280.7 278.5,267.0"/><polygon points="249.1,280.6 256.0,291.0 253.5,291.5 262.5,298.8 259.3,287.7 257.9,289.8 250.9,279.4"/><polygon points="281.8,280.9 293.8,289.9 291.6,291.2 302.5,295.0 295.8,285.6 295.2,288.1 283.2,279.1"/><polygon points="275.4,280.7 283.2,291.3 280.7,291.9 290.0,298.8 286.3,287.8 285.0,290.0 277.1,279.3"/><polygon points="123.4,274.7 122.0,280.1 120.0,278.5 120.5,290.0 126.7,280.3 124.1,280.6 125.6,275.3"/><polygon points="395.5,122.8 384.3,116.4 386.3,114.9 375.0,112.5 382.9,120.9 383.2,118.4 394.5,124.7"/><polygon points="456.4,108.9 450.0,100.0 452.5,99.4 443.2,92.5 446.9,103.4 448.2,101.3 454.6,110.1"/><polygon points="403.2,159.2 393.7,150.8 396.0,149.7 385.5,145.0 391.5,154.9 392.3,152.4 401.8,160.8"/><polygon points="418.4,184.4 411.6,173.0 414.1,172.7 405.5,165.0 408.2,176.2 409.7,174.1 416.6,185.6"/><polygon points="436.1,201.0 433.3,188.8 435.8,189.2 430.0,179.2 429.1,190.7 431.1,189.2 433.9,201.5"/><polygon points="452.8,239.4 451.6,226.1 454.0,226.9 449.5,216.2 447.1,227.5 449.4,226.3 450.7,239.6"/><polygon points="388.3,189.2 380.2,180.9 382.6,180.0 372.5,174.5 377.7,184.8 378.7,182.5 386.7,190.8"/><polygon points="394.7,195.6 389.0,187.2 391.5,186.7 382.5,179.5 385.8,190.6 387.2,188.4 392.8,196.9"/><polygon points="380.9,203.1 374.5,194.8 376.9,194.1 367.5,187.5 371.5,198.3 372.7,196.1 379.1,204.4"/><polygon points="397.3,213.4 392.6,201.4 395.2,201.5 388.0,192.5 388.8,204.0 390.6,202.2 395.2,214.1"/><polygon points="404.8,228.6 402.6,214.7 405.1,215.3 400.0,205.0 398.3,216.4 400.5,215.0 402.7,228.9"/><polygon points="380.5,225.9 376.8,215.3 379.4,215.5 372.5,206.2 372.9,217.8 374.8,216.1 378.5,226.6"/><polygon points="391.1,256.6 395.1,243.6 397.0,245.3 397.0,233.8 390.4,243.2 393.0,243.0 388.9,255.9"/><polygon points="406.1,256.5 408.0,248.7 410.0,250.3 409.2,238.8 403.3,248.6 405.8,248.2 403.9,256.0"/><polygon points="417.3,256.5 419.9,243.0 422.0,244.5 420.8,233.0 415.3,243.1 417.8,242.6 415.2,256.0"/><polygon points="428.1,254.9 427.0,242.4 429.4,243.2 425.0,232.5 422.5,243.8 424.8,242.6 425.9,255.1"/><polygon points="398.0,275.5 404.3,262.0 406.0,263.9 407.5,252.5 399.7,261.0 402.3,261.1 396.0,274.5"/><polygon points="375.7,283.3 384.6,275.1 385.5,277.5 391.2,267.5 380.8,272.4 383.2,273.5 374.3,281.7"/><polygon points="359.8,241.4 361.2,230.1 363.4,231.3 361.2,220.0 356.5,230.5 359.0,229.8 357.7,241.1"/><polygon points="244.1,294.3 251.3,305.9 248.7,306.3 257.5,313.8 254.6,302.6 253.1,304.7 245.9,293.2"/><polygon points="275.6,312.2 283.7,317.7 281.5,319.1 292.5,322.5 285.4,313.4 284.9,315.9 276.9,310.3"/><polygon points="285.7,317.9 295.8,323.9 293.8,325.4 305.0,328.0 297.3,319.5 296.9,322.0 286.8,316.1"/><polygon points="269.4,322.2 278.5,328.0 276.4,329.5 287.5,332.5 280.1,323.6 279.7,326.2 270.6,320.3"/><polygon points="308.3,309.8 320.3,314.7 318.5,316.5 330.0,317.5 321.1,310.1 321.2,312.7 309.2,307.7"/><polygon points="327.4,309.1 337.4,310.5 336.1,312.7 347.5,310.8 337.1,305.8 337.7,308.3 327.6,306.9"/><polygon points="317.2,318.5 327.6,321.8 326.0,323.8 337.5,323.8 328.0,317.2 328.3,319.7 317.8,316.5"/><polygon points="335.1,320.6 347.7,319.2 346.9,321.6 357.5,317.0 346.2,314.8 347.4,317.0 334.9,318.4"/><polygon points="328.8,331.1 338.8,330.5 338.0,332.9 348.8,328.8 337.6,326.0 338.7,328.3 328.7,328.9"/><polygon points="355.3,307.3 365.6,304.7 365.2,307.3 375.0,301.2 363.5,300.6 365.0,302.6 354.7,305.2"/><polygon points="287.0,339.7 298.0,344.8 296.1,346.5 307.5,348.0 299.0,340.3 298.9,342.8 288.0,337.8"/><polygon points="309.8,348.6 322.4,350.4 321.1,352.6 332.5,350.8 322.1,345.8 322.8,348.2 310.2,346.4"/><polygon points="272.0,346.7 283.2,353.1 281.2,354.6 292.5,357.0 284.6,348.6 284.3,351.1 273.0,344.8"/><polygon points="346.6,341.1 358.2,337.6 357.9,340.2 367.5,333.8 356.0,333.5 357.6,335.5 345.9,338.9"/><polygon points="355.5,351.0 366.8,344.6 367.1,347.1 375.0,338.8 363.7,341.1 365.7,342.7 354.5,349.0"/><polygon points="356.6,348.6 364.4,346.3 364.1,348.8 373.8,342.5 362.2,342.2 363.8,344.2 355.9,346.4"/><polygon points="357.9,353.5 367.1,349.8 367.1,352.3 376.0,345.0 364.5,345.9 366.3,347.7 357.1,351.5"/><polygon points="344.0,359.1 355.4,356.8 354.9,359.3 365.0,353.8 353.5,352.5 355.0,354.6 343.5,356.9"/><polygon points="331.2,371.1 338.7,371.6 337.5,373.9 348.8,371.2 338.0,367.0 338.9,369.4 331.3,368.9"/><polygon points="389.4,340.9 400.5,333.0 401.1,335.5 408.0,326.2 397.0,329.8 399.2,331.2 388.1,339.1"/><polygon points="408.9,316.2 416.2,306.2 417.5,308.4 421.2,297.5 412.0,304.3 414.4,304.9 407.1,314.8"/><polygon points="412.2,313.1 418.2,304.6 419.5,306.7 423.0,295.8 413.9,302.8 416.4,303.3 410.3,311.9"/><polygon points="417.6,326.5 425.6,317.1 426.7,319.4 431.2,308.8 421.5,314.9 423.9,315.6 415.9,325.0"/><polygon points="441.6,317.7 448.9,308.5 450.1,310.8 454.2,300.0 444.7,306.5 447.2,307.1 439.9,316.3"/><polygon points="461.2,330.4 472.1,322.3 472.7,324.8 479.5,315.5 468.6,319.2 470.8,320.5 459.8,328.6"/><polygon points="463.1,328.4 470.3,323.5 470.8,326.0 478.0,317.0 467.0,320.3 469.1,321.7 461.9,326.6"/><polygon points="369.2,322.3 383.7,316.1 383.7,318.7 392.5,311.2 381.0,312.3 382.9,314.1 368.3,320.2"/><polygon points="376.9,309.7 388.5,301.9 389.0,304.5 396.2,295.5 385.2,298.7 387.3,300.1 375.6,307.8"/></g>
</g>
<rect x="103.6" y="17.4" width="464.0" height="464.0" fill="none" stroke="#000" stroke-width="1.1"/>
<path d="M103.6 481.4v5M219.6 481.4v5M335.6 481.4v5M451.6 481.4v5M567.6 481.4v5M103.6 481.4h-5M103.6 423.4h-5M103.6 365.4h-5M103.6 307.4h-5M103.6 249.4h-5M103.6 191.4h-5M103.6 133.4h-5M103.6 75.4h-5M103.6 17.4h-5" stroke="#000" stroke-width="1.1" fill="none"/>
<text x="103.1" y="507.8" text-anchor="middle"><tspan style="font-size:27.5px" dy="2.6">−</tspan><tspan dy="-2.6" dx="0.6">10</tspan></text>
<text x="219.1" y="507.8" text-anchor="middle"><tspan style="font-size:27.5px" dy="2.6">−</tspan><tspan dy="-2.6" dx="0.6">5</tspan></text>
<text x="335.3" y="505.6" text-anchor="middle">0</text>
<text x="451.3" y="505.6" text-anchor="middle">5</text>
<text x="567.3" y="505.6" text-anchor="middle">10</text>
<text class="t" x="92.6" y="491.0" text-anchor="end"><tspan style="font-size:27.5px" dy="2.6">−</tspan><tspan dy="-2.6" dx="0.6">10.0</tspan></text>
<text class="t" x="92.6" y="433.0" text-anchor="end"><tspan style="font-size:27.5px" dy="2.6">−</tspan><tspan dy="-2.6" dx="0.6">7.5</tspan></text>
<text class="t" x="92.6" y="375.0" text-anchor="end"><tspan style="font-size:27.5px" dy="2.6">−</tspan><tspan dy="-2.6" dx="0.6">5.0</tspan></text>
<text class="t" x="92.6" y="317.0" text-anchor="end"><tspan style="font-size:27.5px" dy="2.6">−</tspan><tspan dy="-2.6" dx="0.6">2.5</tspan></text>
<text class="t" x="92.6" y="256.6" text-anchor="end">0.0</text>
<text class="t" x="92.6" y="198.6" text-anchor="end">2.5</text>
<text class="t" x="92.6" y="140.6" text-anchor="end">5.0</text>
<text class="t" x="92.6" y="82.6" text-anchor="end">7.5</text>
<text class="t" x="92.6" y="24.6" text-anchor="end">10.0</text>
<text x="334.4" y="532.4" text-anchor="middle" style="letter-spacing:0.9px">x (kpc)</text>
<text transform="translate(26.0 250.2) rotate(-90)" text-anchor="middle" style="letter-spacing:0.9px">y (kpc)</text>
</g>
<g id="panel1">
<g clip-path="url(#c1)">
<g filter="url(#soft)"><path fill="#dff299" d="M975.1 94.0h4.9v2.57h-4.9z"/>
<path fill="#fafdb7" d="M717.5 272.6h4.9v2.57h-4.9zM719.9 274.9h2.6v2.57h-2.6z"/>
<path fill="#fefebd" d="M740.7 335.2h7.2v2.57h-7.2zM743.1 337.6h2.6v2.57h-2.6z"/>
<path fill="#fffcba" d="M935.6 103.2h2.6v2.57h-2.6zM736.1 332.9h7.2v2.57h-7.2zM736.1 335.2h2.6v2.57h-2.6zM736.1 337.6h2.6v2.57h-2.6zM745.4 337.6h2.6v2.57h-2.6zM736.1 339.9h2.6v2.57h-2.6z"/>
<path fill="#fff7b2" d="M868.3 77.7h2.6v2.57h-2.6zM868.3 80.0h2.6v2.57h-2.6zM747.7 328.3h2.6v2.57h-2.6zM777.9 328.3h2.6v2.57h-2.6zM777.9 330.6h2.6v2.57h-2.6zM777.9 332.9h2.6v2.57h-2.6z"/>
<path fill="#fff2aa" d="M870.7 80.0h2.6v2.57h-2.6zM750.0 328.3h2.6v2.57h-2.6zM870.7 400.2h4.9v2.57h-4.9z"/>
<path fill="#feeda1" d="M1074.8 131.1h4.9v2.57h-4.9zM1072.5 133.4h4.9v2.57h-4.9zM1072.5 135.7h2.6v2.57h-2.6zM1072.5 138.0h2.6v2.57h-2.6zM1074.8 207.6h2.6v2.57h-2.6zM1072.5 210.0h2.6v2.57h-2.6zM1072.5 212.3h2.6v2.57h-2.6zM752.3 258.7h2.6v2.57h-2.6zM752.3 328.3h4.9v2.57h-4.9zM759.3 330.6h2.6v2.57h-2.6zM754.7 335.2h7.2v2.57h-7.2zM868.3 400.2h2.6v2.57h-2.6zM866.0 402.5h4.9v2.57h-4.9zM1028.4 418.8h2.6v2.57h-2.6zM1030.7 421.1h4.9v2.57h-4.9z"/>
<path fill="#feea9b" d="M882.3 59.2h4.9v2.57h-4.9zM1077.1 133.4h2.6v2.57h-2.6zM1074.8 135.7h4.9v2.57h-4.9zM1074.8 138.0h4.9v2.57h-4.9zM1074.8 140.4h4.9v2.57h-4.9zM1074.8 210.0h2.6v2.57h-2.6zM1074.8 212.3h2.6v2.57h-2.6zM1074.8 214.6h4.9v2.57h-4.9zM743.1 219.2h2.6v2.57h-2.6zM745.4 221.6h4.9v2.57h-4.9zM747.7 223.9h2.6v2.57h-2.6zM752.3 261.0h2.6v2.57h-2.6zM1058.6 284.2h2.6v2.57h-2.6zM1058.6 286.5h2.6v2.57h-2.6zM1053.9 300.4h2.6v2.57h-2.6zM1063.2 300.4h4.9v2.57h-4.9zM1053.9 302.8h7.2v2.57h-7.2zM1053.9 305.1h7.2v2.57h-7.2zM1053.9 307.4h4.9v2.57h-4.9zM754.7 330.6h4.9v2.57h-4.9zM754.7 332.9h7.2v2.57h-7.2zM1058.6 349.2h2.6v2.57h-2.6zM1058.6 351.5h2.6v2.57h-2.6zM1058.6 353.8h2.6v2.57h-2.6zM870.7 379.3h2.6v2.57h-2.6zM866.0 381.6h4.9v2.57h-4.9zM863.7 384.0h2.6v2.57h-2.6zM819.6 393.2h9.5v2.57h-9.5zM821.9 395.6h4.9v2.57h-4.9zM1033.1 423.4h2.6v2.57h-2.6z"/>
<path fill="#fee593" d="M877.6 56.8h2.6v2.57h-2.6zM886.9 61.5h2.6v2.57h-2.6zM970.4 80.0h2.6v2.57h-2.6zM965.8 82.4h7.2v2.57h-7.2zM968.1 84.7h2.6v2.57h-2.6zM752.3 233.2h2.6v2.57h-2.6zM782.5 233.2h2.6v2.57h-2.6zM747.7 261.0h2.6v2.57h-2.6zM801.1 263.3h2.6v2.57h-2.6zM801.1 265.6h7.2v2.57h-7.2zM801.1 268.0h7.2v2.57h-7.2zM803.4 270.3h4.9v2.57h-4.9zM1053.9 284.2h4.9v2.57h-4.9zM1047.0 286.5h4.9v2.57h-4.9zM1053.9 286.5h4.9v2.57h-4.9zM1060.9 286.5h2.6v2.57h-2.6zM1044.7 288.8h7.2v2.57h-7.2zM1053.9 288.8h9.5v2.57h-9.5zM1044.7 291.2h11.8v2.57h-11.8zM1044.7 293.5h11.8v2.57h-11.8zM1047.0 295.8h9.5v2.57h-9.5zM1063.2 295.8h2.6v2.57h-2.6zM1047.0 298.1h21.1v2.57h-21.1zM1049.3 300.4h4.9v2.57h-4.9zM1056.3 300.4h7.2v2.57h-7.2zM1047.0 302.8h7.2v2.57h-7.2zM1049.3 305.1h4.9v2.57h-4.9zM1049.3 307.4h4.9v2.57h-4.9zM1051.6 309.7h7.2v2.57h-7.2zM1053.9 312.0h7.2v2.57h-7.2zM1035.4 323.6h2.6v2.57h-2.6zM726.8 335.2h4.9v2.57h-4.9zM724.5 337.6h2.6v2.57h-2.6zM884.6 377.0h2.6v2.57h-2.6zM877.6 379.3h7.2v2.57h-7.2zM889.2 379.3h2.6v2.57h-2.6zM870.7 381.6h9.5v2.57h-9.5zM866.0 384.0h4.9v2.57h-4.9zM875.3 384.0h2.6v2.57h-2.6zM866.0 386.3h2.6v2.57h-2.6z"/>
<path fill="#fee08b" d="M889.2 63.8h2.6v2.57h-2.6zM961.1 73.1h7.2v2.57h-7.2zM963.5 75.4h2.6v2.57h-2.6zM970.4 77.7h2.6v2.57h-2.6zM972.7 82.4h2.6v2.57h-2.6zM965.8 84.7h2.6v2.57h-2.6zM970.4 84.7h2.6v2.57h-2.6zM949.5 87.0h7.2v2.57h-7.2zM965.8 87.0h7.2v2.57h-7.2zM949.5 89.3h7.2v2.57h-7.2zM968.1 89.3h2.6v2.57h-2.6zM921.7 91.6h2.6v2.57h-2.6zM951.9 91.6h2.6v2.57h-2.6zM854.4 114.8h2.6v2.57h-2.6zM854.4 117.2h2.6v2.57h-2.6zM780.2 226.2h2.6v2.57h-2.6zM780.2 228.5h4.9v2.57h-4.9zM752.3 230.8h2.6v2.57h-2.6zM782.5 230.8h4.9v2.57h-4.9zM808.0 270.3h2.6v2.57h-2.6zM1049.3 284.2h4.9v2.57h-4.9zM1051.6 286.5h2.6v2.57h-2.6zM1051.6 288.8h2.6v2.57h-2.6zM1056.3 291.2h7.2v2.57h-7.2zM1042.3 293.5h2.6v2.57h-2.6zM1056.3 293.5h7.2v2.57h-7.2zM1042.3 295.8h4.9v2.57h-4.9zM1056.3 295.8h7.2v2.57h-7.2zM1042.3 298.1h4.9v2.57h-4.9zM1042.3 300.4h7.2v2.57h-7.2zM1044.7 302.8h2.6v2.57h-2.6zM1044.7 305.1h4.9v2.57h-4.9zM1042.3 307.4h7.2v2.57h-7.2zM1042.3 309.7h9.5v2.57h-9.5zM1040.0 312.0h14.2v2.57h-14.2zM1040.0 314.4h21.1v2.57h-21.1zM1040.0 316.7h7.2v2.57h-7.2zM1053.9 316.7h7.2v2.57h-7.2zM1040.0 319.0h7.2v2.57h-7.2zM1058.6 319.0h2.6v2.57h-2.6zM1037.7 321.3h11.8v2.57h-11.8zM1037.7 323.6h11.8v2.57h-11.8zM1037.7 326.0h9.5v2.57h-9.5zM1037.7 328.3h7.2v2.57h-7.2zM1037.7 330.6h4.9v2.57h-4.9zM726.8 337.6h4.9v2.57h-4.9zM724.5 339.9h4.9v2.57h-4.9zM724.5 342.2h4.9v2.57h-4.9zM947.2 342.2h4.9v2.57h-4.9zM937.9 344.5h2.6v2.57h-2.6zM947.2 344.5h4.9v2.57h-4.9zM940.3 346.8h2.6v2.57h-2.6zM944.9 346.8h2.6v2.57h-2.6zM940.3 349.2h7.2v2.57h-7.2zM893.9 370.0h2.6v2.57h-2.6zM893.9 372.4h2.6v2.57h-2.6zM886.9 377.0h7.2v2.57h-7.2zM891.5 379.3h4.9v2.57h-4.9zM870.7 384.0h4.9v2.57h-4.9zM868.3 386.3h7.2v2.57h-7.2z"/>
<path fill="#fed884" d="M979.7 66.1h2.6v2.57h-2.6zM968.1 68.4h2.6v2.57h-2.6zM979.7 68.4h2.6v2.57h-2.6zM968.1 70.8h4.9v2.57h-4.9zM866.0 73.1h2.6v2.57h-2.6zM958.8 73.1h2.6v2.57h-2.6zM968.1 73.1h2.6v2.57h-2.6zM954.2 75.4h9.5v2.57h-9.5zM972.7 75.4h2.6v2.57h-2.6zM954.2 77.7h9.5v2.57h-9.5zM972.7 77.7h2.6v2.57h-2.6zM951.9 80.0h4.9v2.57h-4.9zM972.7 80.0h2.6v2.57h-2.6zM951.9 82.4h4.9v2.57h-4.9zM961.1 82.4h4.9v2.57h-4.9zM949.5 84.7h9.5v2.57h-9.5zM961.1 84.7h4.9v2.57h-4.9zM972.7 84.7h2.6v2.57h-2.6zM919.4 87.0h4.9v2.57h-4.9zM956.5 87.0h9.5v2.57h-9.5zM919.4 89.3h7.2v2.57h-7.2zM956.5 89.3h11.8v2.57h-11.8zM970.4 89.3h4.9v2.57h-4.9zM919.4 91.6h2.6v2.57h-2.6zM924.0 91.6h2.6v2.57h-2.6zM947.2 91.6h4.9v2.57h-4.9zM954.2 91.6h18.8v2.57h-18.8zM919.4 94.0h7.2v2.57h-7.2zM954.2 94.0h9.5v2.57h-9.5zM968.1 94.0h2.6v2.57h-2.6zM854.4 96.3h2.6v2.57h-2.6zM854.4 98.6h2.6v2.57h-2.6zM854.4 119.5h2.6v2.57h-2.6zM854.4 121.8h2.6v2.57h-2.6zM995.9 121.8h7.2v2.57h-7.2zM1065.5 121.8h2.6v2.57h-2.6zM854.4 124.1h2.6v2.57h-2.6zM859.1 138.0h2.6v2.57h-2.6zM861.4 140.4h2.6v2.57h-2.6zM863.7 145.0h2.6v2.57h-2.6zM863.7 147.3h2.6v2.57h-2.6zM863.7 149.6h2.6v2.57h-2.6zM782.5 226.2h2.6v2.57h-2.6zM808.0 268.0h2.6v2.57h-2.6zM1042.3 291.2h2.6v2.57h-2.6zM1014.5 319.0h4.9v2.57h-4.9zM1037.7 319.0h2.6v2.57h-2.6zM828.9 321.3h4.9v2.57h-4.9zM1016.8 321.3h7.2v2.57h-7.2zM1060.9 321.3h2.6v2.57h-2.6zM826.6 323.6h7.2v2.57h-7.2zM1021.5 323.6h2.6v2.57h-2.6zM826.6 326.0h9.5v2.57h-9.5zM951.9 342.2h2.6v2.57h-2.6zM986.7 342.2h4.9v2.57h-4.9zM951.9 344.5h4.9v2.57h-4.9zM989.0 344.5h2.6v2.57h-2.6zM937.9 346.8h2.6v2.57h-2.6zM947.2 346.8h2.6v2.57h-2.6zM991.3 346.8h2.6v2.57h-2.6zM991.3 349.2h2.6v2.57h-2.6zM891.5 372.4h2.6v2.57h-2.6zM896.2 372.4h2.6v2.57h-2.6zM891.5 374.7h7.2v2.57h-7.2zM896.2 377.0h4.9v2.57h-4.9zM979.7 384.0h2.6v2.57h-2.6zM979.7 386.3h2.6v2.57h-2.6zM977.4 388.6h4.9v2.57h-4.9z"/>
<path fill="#fed07e" d="M979.7 63.8h2.6v2.57h-2.6zM975.1 66.1h4.9v2.57h-4.9zM970.4 68.4h9.5v2.57h-9.5zM972.7 70.8h9.5v2.57h-9.5zM861.4 73.1h4.9v2.57h-4.9zM975.1 73.1h4.9v2.57h-4.9zM975.1 75.4h2.6v2.57h-2.6zM975.1 77.7h2.6v2.57h-2.6zM956.5 80.0h4.9v2.57h-4.9zM975.1 80.0h2.6v2.57h-2.6zM921.7 82.4h2.6v2.57h-2.6zM956.5 82.4h4.9v2.57h-4.9zM919.4 84.7h7.2v2.57h-7.2zM958.8 84.7h2.6v2.57h-2.6zM1058.6 84.7h4.9v2.57h-4.9zM924.0 87.0h2.6v2.57h-2.6zM926.3 89.3h2.6v2.57h-2.6zM926.3 91.6h2.6v2.57h-2.6zM917.1 94.0h2.6v2.57h-2.6zM926.3 94.0h2.6v2.57h-2.6zM917.1 96.3h11.8v2.57h-11.8zM924.0 98.6h4.9v2.57h-4.9zM1067.9 121.8h2.6v2.57h-2.6zM1065.5 124.1h4.9v2.57h-4.9zM852.1 126.4h4.9v2.57h-4.9zM1067.9 126.4h2.6v2.57h-2.6zM859.1 135.7h2.6v2.57h-2.6zM861.4 138.0h2.6v2.57h-2.6zM861.4 142.7h4.9v2.57h-4.9zM1086.4 223.9h2.6v2.57h-2.6zM808.0 265.6h2.6v2.57h-2.6zM1051.6 281.9h4.9v2.57h-4.9zM1047.0 284.2h2.6v2.57h-2.6zM1044.7 286.5h2.6v2.57h-2.6zM1028.4 314.4h9.5v2.57h-9.5zM1028.4 316.7h9.5v2.57h-9.5zM1012.2 319.0h2.6v2.57h-2.6zM1019.1 319.0h18.8v2.57h-18.8zM833.5 321.3h2.6v2.57h-2.6zM1014.5 321.3h2.6v2.57h-2.6zM1023.8 321.3h9.5v2.57h-9.5zM833.5 323.6h2.6v2.57h-2.6zM1014.5 323.6h7.2v2.57h-7.2zM1023.8 323.6h7.2v2.57h-7.2zM1016.8 326.0h14.2v2.57h-14.2zM1021.5 328.3h7.2v2.57h-7.2zM1014.5 337.6h4.9v2.57h-4.9zM940.3 351.5h4.9v2.57h-4.9zM893.9 360.8h4.9v2.57h-4.9zM893.9 363.1h4.9v2.57h-4.9zM893.9 365.4h7.2v2.57h-7.2zM893.9 367.7h4.9v2.57h-4.9zM891.5 370.0h2.6v2.57h-2.6zM896.2 370.0h2.6v2.57h-2.6zM898.5 374.7h2.6v2.57h-2.6zM991.3 381.6h4.9v2.57h-4.9zM984.3 384.0h9.5v2.57h-9.5zM982.0 386.3h9.5v2.57h-9.5zM982.0 388.6h4.9v2.57h-4.9zM979.7 390.9h4.9v2.57h-4.9z"/>
<path fill="#fec877" d="M859.1 73.1h2.6v2.57h-2.6zM979.7 73.1h2.6v2.57h-2.6zM977.4 75.4h4.9v2.57h-4.9zM977.4 77.7h2.6v2.57h-2.6zM924.0 80.0h2.6v2.57h-2.6zM924.0 82.4h4.9v2.57h-4.9zM926.3 84.7h2.6v2.57h-2.6zM1067.9 84.7h2.6v2.57h-2.6zM926.3 87.0h2.6v2.57h-2.6zM1060.9 87.0h7.2v2.57h-7.2zM928.7 91.6h2.6v2.57h-2.6zM1058.6 91.6h4.9v2.57h-4.9zM928.7 94.0h2.6v2.57h-2.6zM1058.6 94.0h2.6v2.57h-2.6zM919.4 98.6h4.9v2.57h-4.9zM919.4 100.9h9.5v2.57h-9.5zM1056.3 100.9h2.6v2.57h-2.6zM1053.9 103.2h4.9v2.57h-4.9zM861.4 135.7h2.6v2.57h-2.6zM856.7 138.0h2.6v2.57h-2.6zM859.1 140.4h2.6v2.57h-2.6zM1086.4 221.6h2.6v2.57h-2.6zM1088.7 226.2h2.6v2.57h-2.6zM831.2 244.8h2.6v2.57h-2.6zM831.2 247.1h4.9v2.57h-4.9zM831.2 249.4h4.9v2.57h-4.9zM831.2 251.7h2.6v2.57h-2.6zM1093.4 254.0h2.6v2.57h-2.6zM1095.7 256.4h4.9v2.57h-4.9zM1033.1 281.9h4.9v2.57h-4.9zM1049.3 281.9h2.6v2.57h-2.6zM1035.4 284.2h2.6v2.57h-2.6zM1035.4 286.5h2.6v2.57h-2.6zM1035.4 288.8h2.6v2.57h-2.6zM877.6 314.4h4.9v2.57h-4.9zM879.9 316.7h2.6v2.57h-2.6zM1012.2 316.7h4.9v2.57h-4.9zM1026.1 316.7h2.6v2.57h-2.6zM835.9 321.3h2.6v2.57h-2.6zM1012.2 321.3h2.6v2.57h-2.6zM1012.2 323.6h2.6v2.57h-2.6zM1012.2 326.0h4.9v2.57h-4.9zM1012.2 328.3h9.5v2.57h-9.5zM1012.2 330.6h14.2v2.57h-14.2zM1012.2 332.9h9.5v2.57h-9.5zM1012.2 335.2h7.2v2.57h-7.2zM935.6 342.2h2.6v2.57h-2.6zM954.2 342.2h2.6v2.57h-2.6zM937.9 349.2h2.6v2.57h-2.6zM947.2 349.2h2.6v2.57h-2.6zM1000.6 356.1h2.6v2.57h-2.6zM898.5 360.8h2.6v2.57h-2.6zM891.5 363.1h2.6v2.57h-2.6zM898.5 363.1h2.6v2.57h-2.6zM891.5 365.4h2.6v2.57h-2.6zM900.8 365.4h2.6v2.57h-2.6zM891.5 367.7h2.6v2.57h-2.6zM898.5 367.7h7.2v2.57h-7.2zM898.5 370.0h4.9v2.57h-4.9zM898.5 372.4h2.6v2.57h-2.6zM986.7 388.6h4.9v2.57h-4.9zM984.3 390.9h2.6v2.57h-2.6zM989.0 390.9h2.6v2.57h-2.6zM982.0 393.2h7.2v2.57h-7.2zM982.0 395.6h4.9v2.57h-4.9zM982.0 397.9h2.6v2.57h-2.6z"/>
<path fill="#fdc372" d="M1070.2 84.7h7.2v2.57h-7.2zM1077.1 87.0h4.9v2.57h-4.9zM1060.9 89.3h2.6v2.57h-2.6zM1053.9 100.9h2.6v2.57h-2.6zM919.4 103.2h7.2v2.57h-7.2zM856.7 119.5h2.6v2.57h-2.6zM828.9 126.4h7.2v2.57h-7.2zM965.8 126.4h2.6v2.57h-2.6zM828.9 128.8h7.2v2.57h-7.2zM833.5 131.1h2.6v2.57h-2.6zM856.7 135.7h2.6v2.57h-2.6zM856.7 140.4h2.6v2.57h-2.6zM863.7 140.4h2.6v2.57h-2.6zM824.3 142.7h2.6v2.57h-2.6zM1023.8 142.7h4.9v2.57h-4.9zM821.9 145.0h2.6v2.57h-2.6zM1023.8 145.0h4.9v2.57h-4.9zM845.1 154.3h2.6v2.57h-2.6zM947.2 154.3h9.5v2.57h-9.5zM845.1 156.6h7.2v2.57h-7.2zM947.2 156.6h9.5v2.57h-9.5zM986.7 156.6h2.6v2.57h-2.6zM893.9 163.6h4.9v2.57h-4.9zM891.5 165.9h7.2v2.57h-7.2zM1091.1 170.5h2.6v2.57h-2.6zM1088.7 172.8h2.6v2.57h-2.6zM1023.8 179.8h2.6v2.57h-2.6zM817.3 182.1h2.6v2.57h-2.6zM1023.8 182.1h2.6v2.57h-2.6zM817.3 184.4h4.9v2.57h-4.9zM1023.8 184.4h2.6v2.57h-2.6zM847.5 203.0h2.6v2.57h-2.6zM977.4 203.0h2.6v2.57h-2.6zM1007.5 228.5h2.6v2.57h-2.6zM831.2 230.8h2.6v2.57h-2.6zM1005.2 230.8h2.6v2.57h-2.6zM828.9 235.5h2.6v2.57h-2.6zM831.2 240.1h2.6v2.57h-2.6zM828.9 242.4h7.2v2.57h-7.2zM828.9 244.8h2.6v2.57h-2.6zM833.5 244.8h2.6v2.57h-2.6zM828.9 247.1h2.6v2.57h-2.6zM835.9 247.1h2.6v2.57h-2.6zM828.9 249.4h2.6v2.57h-2.6zM1093.4 249.4h2.6v2.57h-2.6zM828.9 251.7h2.6v2.57h-2.6zM833.5 251.7h2.6v2.57h-2.6zM1093.4 251.7h2.6v2.57h-2.6zM831.2 254.0h2.6v2.57h-2.6zM1100.3 256.4h2.6v2.57h-2.6zM1105.0 265.6h2.6v2.57h-2.6zM1100.3 274.9h2.6v2.57h-2.6zM1100.3 277.2h4.9v2.57h-4.9zM1098.0 279.6h7.2v2.57h-7.2zM1002.9 281.9h2.6v2.57h-2.6zM1033.1 284.2h2.6v2.57h-2.6zM1042.3 288.8h2.6v2.57h-2.6zM1035.4 291.2h2.6v2.57h-2.6zM1040.0 293.5h2.6v2.57h-2.6zM1033.1 295.8h2.6v2.57h-2.6zM1030.7 298.1h2.6v2.57h-2.6zM882.3 316.7h2.6v2.57h-2.6zM1016.8 316.7h2.6v2.57h-2.6zM1023.8 316.7h2.6v2.57h-2.6zM928.7 321.3h2.6v2.57h-2.6zM912.4 323.6h4.9v2.57h-4.9zM873.0 326.0h2.6v2.57h-2.6zM912.4 326.0h4.9v2.57h-4.9zM873.0 328.3h2.6v2.57h-2.6zM912.4 328.3h4.9v2.57h-4.9zM912.4 330.6h4.9v2.57h-4.9zM900.8 342.2h2.6v2.57h-2.6zM977.4 342.2h4.9v2.57h-4.9zM935.6 344.5h2.6v2.57h-2.6zM975.1 344.5h7.2v2.57h-7.2zM949.5 346.8h2.6v2.57h-2.6zM977.4 346.8h4.9v2.57h-4.9zM995.9 356.1h4.9v2.57h-4.9zM912.4 358.4h4.9v2.57h-4.9zM900.8 360.8h2.6v2.57h-2.6zM912.4 360.8h2.6v2.57h-2.6zM889.2 363.1h2.6v2.57h-2.6zM900.8 363.1h4.9v2.57h-4.9zM912.4 363.1h2.6v2.57h-2.6zM889.2 365.4h2.6v2.57h-2.6zM903.1 365.4h4.9v2.57h-4.9zM889.2 367.7h2.6v2.57h-2.6zM905.5 367.7h4.9v2.57h-4.9zM903.1 370.0h4.9v2.57h-4.9zM900.8 372.4h2.6v2.57h-2.6zM986.7 390.9h2.6v2.57h-2.6z"/>
<path fill="#fdbb6c" d="M1026.1 89.3h7.2v2.57h-7.2zM1028.4 91.6h2.6v2.57h-2.6zM828.9 121.8h2.6v2.57h-2.6zM856.7 121.8h2.6v2.57h-2.6zM933.3 121.8h2.6v2.57h-2.6zM828.9 124.1h7.2v2.57h-7.2zM868.3 124.1h2.6v2.57h-2.6zM893.9 124.1h7.2v2.57h-7.2zM926.3 124.1h7.2v2.57h-7.2zM958.8 124.1h11.8v2.57h-11.8zM835.9 126.4h2.6v2.57h-2.6zM868.3 126.4h2.6v2.57h-2.6zM893.9 126.4h7.2v2.57h-7.2zM958.8 126.4h7.2v2.57h-7.2zM968.1 126.4h4.9v2.57h-4.9zM826.6 128.8h2.6v2.57h-2.6zM835.9 128.8h2.6v2.57h-2.6zM854.4 128.8h2.6v2.57h-2.6zM870.7 128.8h2.6v2.57h-2.6zM875.3 128.8h2.6v2.57h-2.6zM893.9 128.8h7.2v2.57h-7.2zM963.5 128.8h9.5v2.57h-9.5zM826.6 131.1h7.2v2.57h-7.2zM835.9 131.1h2.6v2.57h-2.6zM968.1 131.1h4.9v2.57h-4.9zM1037.7 133.4h9.5v2.57h-9.5zM1044.7 135.7h4.9v2.57h-4.9zM854.4 138.0h2.6v2.57h-2.6zM863.7 138.0h2.6v2.57h-2.6zM910.1 138.0h9.5v2.57h-9.5zM1026.1 138.0h2.6v2.57h-2.6zM1047.0 138.0h2.6v2.57h-2.6zM824.3 140.4h2.6v2.57h-2.6zM854.4 140.4h2.6v2.57h-2.6zM905.5 140.4h11.8v2.57h-11.8zM1023.8 140.4h4.9v2.57h-4.9zM1044.7 140.4h4.9v2.57h-4.9zM856.7 142.7h4.9v2.57h-4.9zM886.9 142.7h2.6v2.57h-2.6zM905.5 142.7h4.9v2.57h-4.9zM919.4 142.7h2.6v2.57h-2.6zM1021.5 142.7h2.6v2.57h-2.6zM1028.4 142.7h2.6v2.57h-2.6zM1042.3 142.7h4.9v2.57h-4.9zM824.3 145.0h2.6v2.57h-2.6zM859.1 145.0h2.6v2.57h-2.6zM886.9 145.0h7.2v2.57h-7.2zM905.5 145.0h4.9v2.57h-4.9zM914.7 145.0h7.2v2.57h-7.2zM1021.5 145.0h2.6v2.57h-2.6zM1028.4 145.0h2.6v2.57h-2.6zM1040.0 145.0h2.6v2.57h-2.6zM819.6 147.3h7.2v2.57h-7.2zM866.0 147.3h2.6v2.57h-2.6zM884.6 147.3h9.5v2.57h-9.5zM907.8 147.3h11.8v2.57h-11.8zM866.0 149.6h2.6v2.57h-2.6zM884.6 149.6h7.2v2.57h-7.2zM910.1 149.6h11.8v2.57h-11.8zM842.8 152.0h9.5v2.57h-9.5zM912.4 152.0h7.2v2.57h-7.2zM947.2 152.0h7.2v2.57h-7.2zM840.5 154.3h4.9v2.57h-4.9zM847.5 154.3h4.9v2.57h-4.9zM912.4 154.3h9.5v2.57h-9.5zM944.9 154.3h2.6v2.57h-2.6zM956.5 154.3h2.6v2.57h-2.6zM984.3 154.3h9.5v2.57h-9.5zM840.5 156.6h4.9v2.57h-4.9zM914.7 156.6h7.2v2.57h-7.2zM944.9 156.6h2.6v2.57h-2.6zM956.5 156.6h2.6v2.57h-2.6zM984.3 156.6h2.6v2.57h-2.6zM989.0 156.6h4.9v2.57h-4.9zM842.8 158.9h7.2v2.57h-7.2zM877.6 158.9h4.9v2.57h-4.9zM914.7 158.9h7.2v2.57h-7.2zM947.2 158.9h2.6v2.57h-2.6zM954.2 158.9h4.9v2.57h-4.9zM984.3 158.9h7.2v2.57h-7.2zM875.3 161.2h7.2v2.57h-7.2zM891.5 161.2h7.2v2.57h-7.2zM914.7 161.2h4.9v2.57h-4.9zM986.7 161.2h2.6v2.57h-2.6zM875.3 163.6h4.9v2.57h-4.9zM891.5 163.6h2.6v2.57h-2.6zM914.7 163.6h7.2v2.57h-7.2zM1088.7 163.6h9.5v2.57h-9.5zM821.9 165.9h7.2v2.57h-7.2zM889.2 165.9h2.6v2.57h-2.6zM898.5 165.9h2.6v2.57h-2.6zM917.1 165.9h4.9v2.57h-4.9zM1026.1 165.9h2.6v2.57h-2.6zM1091.1 165.9h9.5v2.57h-9.5zM824.3 168.2h7.2v2.57h-7.2zM889.2 168.2h2.6v2.57h-2.6zM919.4 168.2h14.2v2.57h-14.2zM1021.5 168.2h9.5v2.57h-9.5zM1047.0 168.2h7.2v2.57h-7.2zM1091.1 168.2h7.2v2.57h-7.2zM886.9 170.5h4.9v2.57h-4.9zM924.0 170.5h4.9v2.57h-4.9zM1021.5 170.5h9.5v2.57h-9.5zM1093.4 170.5h2.6v2.57h-2.6zM833.5 172.8h2.6v2.57h-2.6zM884.6 172.8h4.9v2.57h-4.9zM995.9 172.8h2.6v2.57h-2.6zM1026.1 172.8h2.6v2.57h-2.6zM1091.1 172.8h4.9v2.57h-4.9zM833.5 175.2h2.6v2.57h-2.6zM884.6 175.2h2.6v2.57h-2.6zM995.9 175.2h4.9v2.57h-4.9zM1088.7 175.2h4.9v2.57h-4.9zM1019.1 177.5h2.6v2.57h-2.6zM812.7 179.8h7.2v2.57h-7.2zM1019.1 179.8h4.9v2.57h-4.9zM810.3 182.1h7.2v2.57h-7.2zM819.6 182.1h2.6v2.57h-2.6zM859.1 182.1h11.8v2.57h-11.8zM1021.5 182.1h2.6v2.57h-2.6zM812.7 184.4h4.9v2.57h-4.9zM859.1 184.4h11.8v2.57h-11.8zM819.6 186.8h2.6v2.57h-2.6zM1023.8 186.8h4.9v2.57h-4.9zM1023.8 189.1h7.2v2.57h-7.2zM1026.1 191.4h2.6v2.57h-2.6zM845.1 200.7h9.5v2.57h-9.5zM975.1 200.7h2.6v2.57h-2.6zM982.0 200.7h7.2v2.57h-7.2zM1002.9 200.7h2.6v2.57h-2.6zM842.8 203.0h4.9v2.57h-4.9zM984.3 203.0h4.9v2.57h-4.9zM842.8 205.3h4.9v2.57h-4.9zM984.3 205.3h2.6v2.57h-2.6zM984.3 207.6h2.6v2.57h-2.6zM1005.2 226.2h4.9v2.57h-4.9zM1005.2 228.5h2.6v2.57h-2.6zM1009.9 228.5h2.6v2.57h-2.6zM828.9 230.8h2.6v2.57h-2.6zM1007.5 230.8h4.9v2.57h-4.9zM828.9 233.2h4.9v2.57h-4.9zM1005.2 233.2h7.2v2.57h-7.2zM826.6 235.5h2.6v2.57h-2.6zM831.2 235.5h2.6v2.57h-2.6zM1053.9 235.5h2.6v2.57h-2.6zM826.6 237.8h4.9v2.57h-4.9zM1051.6 237.8h4.9v2.57h-4.9zM826.6 240.1h4.9v2.57h-4.9zM1051.6 240.1h7.2v2.57h-7.2zM805.7 242.4h4.9v2.57h-4.9zM835.9 242.4h2.6v2.57h-2.6zM1053.9 242.4h4.9v2.57h-4.9zM805.7 244.8h4.9v2.57h-4.9zM835.9 244.8h2.6v2.57h-2.6zM805.7 247.1h4.9v2.57h-4.9zM1091.1 247.1h4.9v2.57h-4.9zM808.0 249.4h2.6v2.57h-2.6zM835.9 249.4h2.6v2.57h-2.6zM1091.1 249.4h2.6v2.57h-2.6zM808.0 251.7h2.6v2.57h-2.6zM835.9 251.7h2.6v2.57h-2.6zM828.9 254.0h2.6v2.57h-2.6zM833.5 254.0h4.9v2.57h-4.9zM1035.4 254.0h2.6v2.57h-2.6zM1033.1 256.4h4.9v2.57h-4.9zM1102.7 256.4h4.9v2.57h-4.9zM1033.1 258.7h7.2v2.57h-7.2zM1102.7 258.7h4.9v2.57h-4.9zM1033.1 261.0h7.2v2.57h-7.2zM1105.0 261.0h2.6v2.57h-2.6zM808.0 263.3h2.6v2.57h-2.6zM1033.1 263.3h7.2v2.57h-7.2zM1105.0 263.3h2.6v2.57h-2.6zM1033.1 265.6h2.6v2.57h-2.6zM1105.0 268.0h4.9v2.57h-4.9zM810.3 270.3h2.6v2.57h-2.6zM1105.0 270.3h4.9v2.57h-4.9zM1102.7 272.6h4.9v2.57h-4.9zM1102.7 274.9h4.9v2.57h-4.9zM1002.9 277.2h2.6v2.57h-2.6zM1105.0 277.2h4.9v2.57h-4.9zM787.1 279.6h4.9v2.57h-4.9zM1002.9 279.6h4.9v2.57h-4.9zM1033.1 279.6h2.6v2.57h-2.6zM1049.3 279.6h2.6v2.57h-2.6zM791.8 281.9h2.6v2.57h-2.6zM1005.2 281.9h2.6v2.57h-2.6zM1023.8 281.9h9.5v2.57h-9.5zM1037.7 281.9h2.6v2.57h-2.6zM1002.9 284.2h4.9v2.57h-4.9zM1023.8 284.2h9.5v2.57h-9.5zM1037.7 284.2h2.6v2.57h-2.6zM1044.7 284.2h2.6v2.57h-2.6zM1002.9 286.5h4.9v2.57h-4.9zM1021.5 286.5h9.5v2.57h-9.5zM1042.3 286.5h2.6v2.57h-2.6zM835.9 288.8h2.6v2.57h-2.6zM1002.9 288.8h4.9v2.57h-4.9zM1021.5 288.8h7.2v2.57h-7.2zM1033.1 288.8h2.6v2.57h-2.6zM833.5 291.2h2.6v2.57h-2.6zM838.2 291.2h2.6v2.57h-2.6zM1000.6 291.2h2.6v2.57h-2.6zM1035.4 293.5h2.6v2.57h-2.6zM995.9 298.1h2.6v2.57h-2.6zM1033.1 298.1h2.6v2.57h-2.6zM995.9 300.4h2.6v2.57h-2.6zM1028.4 312.0h2.6v2.57h-2.6zM1012.2 314.4h9.5v2.57h-9.5zM1026.1 314.4h2.6v2.57h-2.6zM1019.1 316.7h4.9v2.57h-4.9zM891.5 319.0h4.9v2.57h-4.9zM893.9 321.3h35.0v2.57h-35.0zM905.5 323.6h7.2v2.57h-7.2zM917.1 323.6h14.2v2.57h-14.2zM870.7 326.0h2.6v2.57h-2.6zM905.5 326.0h7.2v2.57h-7.2zM917.1 326.0h4.9v2.57h-4.9zM907.8 328.3h4.9v2.57h-4.9zM917.1 328.3h2.6v2.57h-2.6zM910.1 330.6h2.6v2.57h-2.6zM917.1 330.6h2.6v2.57h-2.6zM873.0 332.9h2.6v2.57h-2.6zM898.5 342.2h2.6v2.57h-2.6zM982.0 342.2h2.6v2.57h-2.6zM972.7 344.5h2.6v2.57h-2.6zM935.6 346.8h2.6v2.57h-2.6zM951.9 346.8h2.6v2.57h-2.6zM975.1 346.8h2.6v2.57h-2.6zM977.4 349.2h2.6v2.57h-2.6zM937.9 351.5h2.6v2.57h-2.6zM944.9 351.5h2.6v2.57h-2.6zM940.3 358.4h4.9v2.57h-4.9zM903.1 360.8h9.5v2.57h-9.5zM905.5 363.1h7.2v2.57h-7.2zM907.8 365.4h4.9v2.57h-4.9zM947.2 372.4h4.9v2.57h-4.9z"/>
<path fill="#fdb365" d="M1028.4 87.0h2.6v2.57h-2.6zM898.5 103.2h4.9v2.57h-4.9zM898.5 105.6h2.6v2.57h-2.6zM898.5 117.2h2.6v2.57h-2.6zM828.9 119.5h2.6v2.57h-2.6zM891.5 119.5h16.5v2.57h-16.5zM831.2 121.8h4.9v2.57h-4.9zM891.5 121.8h16.5v2.57h-16.5zM970.4 121.8h2.6v2.57h-2.6zM856.7 124.1h2.6v2.57h-2.6zM870.7 124.1h4.9v2.57h-4.9zM889.2 124.1h4.9v2.57h-4.9zM900.8 124.1h4.9v2.57h-4.9zM921.7 124.1h4.9v2.57h-4.9zM933.3 124.1h2.6v2.57h-2.6zM970.4 124.1h2.6v2.57h-2.6zM866.0 126.4h2.6v2.57h-2.6zM870.7 126.4h7.2v2.57h-7.2zM889.2 126.4h4.9v2.57h-4.9zM900.8 126.4h4.9v2.57h-4.9zM924.0 126.4h11.8v2.57h-11.8zM954.2 126.4h4.9v2.57h-4.9zM972.7 126.4h2.6v2.57h-2.6zM852.1 128.8h2.6v2.57h-2.6zM863.7 128.8h7.2v2.57h-7.2zM873.0 128.8h2.6v2.57h-2.6zM877.6 128.8h2.6v2.57h-2.6zM891.5 128.8h2.6v2.57h-2.6zM900.8 128.8h2.6v2.57h-2.6zM926.3 128.8h9.5v2.57h-9.5zM954.2 128.8h9.5v2.57h-9.5zM972.7 128.8h4.9v2.57h-4.9zM868.3 131.1h11.8v2.57h-11.8zM891.5 131.1h9.5v2.57h-9.5zM928.7 131.1h7.2v2.57h-7.2zM951.9 131.1h16.5v2.57h-16.5zM972.7 131.1h16.5v2.57h-16.5zM824.3 133.4h11.8v2.57h-11.8zM854.4 133.4h7.2v2.57h-7.2zM870.7 133.4h9.5v2.57h-9.5zM907.8 133.4h11.8v2.57h-11.8zM921.7 133.4h2.6v2.57h-2.6zM926.3 133.4h9.5v2.57h-9.5zM951.9 133.4h18.8v2.57h-18.8zM972.7 133.4h14.2v2.57h-14.2zM824.3 135.7h7.2v2.57h-7.2zM847.5 135.7h9.5v2.57h-9.5zM863.7 135.7h2.6v2.57h-2.6zM905.5 135.7h21.1v2.57h-21.1zM949.5 135.7h7.2v2.57h-7.2zM958.8 135.7h2.6v2.57h-2.6zM1009.9 135.7h2.6v2.57h-2.6zM1026.1 135.7h4.9v2.57h-4.9zM1037.7 135.7h7.2v2.57h-7.2zM824.3 138.0h4.9v2.57h-4.9zM847.5 138.0h7.2v2.57h-7.2zM905.5 138.0h4.9v2.57h-4.9zM937.9 138.0h2.6v2.57h-2.6zM942.6 138.0h7.2v2.57h-7.2zM1009.9 138.0h2.6v2.57h-2.6zM1028.4 138.0h2.6v2.57h-2.6zM1040.0 138.0h7.2v2.57h-7.2zM826.6 140.4h2.6v2.57h-2.6zM849.8 140.4h4.9v2.57h-4.9zM886.9 140.4h2.6v2.57h-2.6zM900.8 140.4h4.9v2.57h-4.9zM921.7 140.4h7.2v2.57h-7.2zM940.3 140.4h9.5v2.57h-9.5zM1009.9 140.4h2.6v2.57h-2.6zM1028.4 140.4h2.6v2.57h-2.6zM1040.0 140.4h4.9v2.57h-4.9zM826.6 142.7h2.6v2.57h-2.6zM849.8 142.7h7.2v2.57h-7.2zM866.0 142.7h2.6v2.57h-2.6zM884.6 142.7h2.6v2.57h-2.6zM889.2 142.7h4.9v2.57h-4.9zM898.5 142.7h7.2v2.57h-7.2zM921.7 142.7h4.9v2.57h-4.9zM940.3 142.7h7.2v2.57h-7.2zM1019.1 142.7h2.6v2.57h-2.6zM1040.0 142.7h2.6v2.57h-2.6zM826.6 145.0h2.6v2.57h-2.6zM852.1 145.0h7.2v2.57h-7.2zM866.0 145.0h2.6v2.57h-2.6zM884.6 145.0h2.6v2.57h-2.6zM893.9 145.0h11.8v2.57h-11.8zM921.7 145.0h2.6v2.57h-2.6zM940.3 145.0h9.5v2.57h-9.5zM1030.7 145.0h2.6v2.57h-2.6zM826.6 147.3h2.6v2.57h-2.6zM882.3 147.3h2.6v2.57h-2.6zM893.9 147.3h14.2v2.57h-14.2zM919.4 147.3h4.9v2.57h-4.9zM940.3 147.3h14.2v2.57h-14.2zM819.6 149.6h9.5v2.57h-9.5zM840.5 149.6h11.8v2.57h-11.8zM882.3 149.6h2.6v2.57h-2.6zM891.5 149.6h7.2v2.57h-7.2zM903.1 149.6h7.2v2.57h-7.2zM921.7 149.6h2.6v2.57h-2.6zM940.3 149.6h11.8v2.57h-11.8zM838.2 152.0h4.9v2.57h-4.9zM882.3 152.0h11.8v2.57h-11.8zM905.5 152.0h7.2v2.57h-7.2zM919.4 152.0h4.9v2.57h-4.9zM942.6 152.0h4.9v2.57h-4.9zM986.7 152.0h2.6v2.57h-2.6zM835.9 154.3h4.9v2.57h-4.9zM882.3 154.3h9.5v2.57h-9.5zM907.8 154.3h4.9v2.57h-4.9zM921.7 154.3h4.9v2.57h-4.9zM942.6 154.3h2.6v2.57h-2.6zM958.8 154.3h2.6v2.57h-2.6zM982.0 154.3h2.6v2.57h-2.6zM835.9 156.6h4.9v2.57h-4.9zM875.3 156.6h11.8v2.57h-11.8zM910.1 156.6h4.9v2.57h-4.9zM921.7 156.6h7.2v2.57h-7.2zM942.6 156.6h2.6v2.57h-2.6zM958.8 156.6h2.6v2.57h-2.6zM982.0 156.6h2.6v2.57h-2.6zM838.2 158.9h4.9v2.57h-4.9zM861.4 158.9h2.6v2.57h-2.6zM873.0 158.9h4.9v2.57h-4.9zM882.3 158.9h4.9v2.57h-4.9zM889.2 158.9h9.5v2.57h-9.5zM910.1 158.9h4.9v2.57h-4.9zM921.7 158.9h9.5v2.57h-9.5zM942.6 158.9h4.9v2.57h-4.9zM958.8 158.9h2.6v2.57h-2.6zM982.0 158.9h2.6v2.57h-2.6zM991.3 158.9h2.6v2.57h-2.6zM817.3 161.2h2.6v2.57h-2.6zM845.1 161.2h4.9v2.57h-4.9zM859.1 161.2h2.6v2.57h-2.6zM870.7 161.2h4.9v2.57h-4.9zM882.3 161.2h2.6v2.57h-2.6zM886.9 161.2h4.9v2.57h-4.9zM898.5 161.2h2.6v2.57h-2.6zM912.4 161.2h2.6v2.57h-2.6zM919.4 161.2h2.6v2.57h-2.6zM926.3 161.2h7.2v2.57h-7.2zM942.6 161.2h7.2v2.57h-7.2zM958.8 161.2h2.6v2.57h-2.6zM982.0 161.2h4.9v2.57h-4.9zM989.0 161.2h2.6v2.57h-2.6zM817.3 163.6h14.2v2.57h-14.2zM870.7 163.6h4.9v2.57h-4.9zM879.9 163.6h11.8v2.57h-11.8zM898.5 163.6h2.6v2.57h-2.6zM912.4 163.6h2.6v2.57h-2.6zM921.7 163.6h2.6v2.57h-2.6zM928.7 163.6h4.9v2.57h-4.9zM951.9 163.6h2.6v2.57h-2.6zM956.5 163.6h7.2v2.57h-7.2zM986.7 163.6h2.6v2.57h-2.6zM1023.8 163.6h7.2v2.57h-7.2zM1098.0 163.6h2.6v2.57h-2.6zM817.3 165.9h4.9v2.57h-4.9zM828.9 165.9h2.6v2.57h-2.6zM870.7 165.9h18.8v2.57h-18.8zM912.4 165.9h2.6v2.57h-2.6zM921.7 165.9h4.9v2.57h-4.9zM954.2 165.9h7.2v2.57h-7.2zM1021.5 165.9h4.9v2.57h-4.9zM1028.4 165.9h4.9v2.57h-4.9zM1042.3 165.9h11.8v2.57h-11.8zM817.3 168.2h7.2v2.57h-7.2zM875.3 168.2h14.2v2.57h-14.2zM933.3 168.2h2.6v2.57h-2.6zM1030.7 168.2h2.6v2.57h-2.6zM1042.3 168.2h4.9v2.57h-4.9zM833.5 170.5h4.9v2.57h-4.9zM882.3 170.5h4.9v2.57h-4.9zM933.3 170.5h4.9v2.57h-4.9zM995.9 170.5h4.9v2.57h-4.9zM1019.1 170.5h2.6v2.57h-2.6zM1030.7 170.5h2.6v2.57h-2.6zM1095.7 170.5h2.6v2.57h-2.6zM835.9 172.8h4.9v2.57h-4.9zM882.3 172.8h2.6v2.57h-2.6zM993.6 172.8h2.6v2.57h-2.6zM998.3 172.8h4.9v2.57h-4.9zM1095.7 172.8h2.6v2.57h-2.6zM831.2 175.2h2.6v2.57h-2.6zM835.9 175.2h4.9v2.57h-4.9zM882.3 175.2h2.6v2.57h-2.6zM993.6 175.2h2.6v2.57h-2.6zM1000.6 175.2h2.6v2.57h-2.6zM1016.8 175.2h2.6v2.57h-2.6zM1093.4 175.2h4.9v2.57h-4.9zM817.3 177.5h2.6v2.57h-2.6zM833.5 177.5h9.5v2.57h-9.5zM861.4 177.5h2.6v2.57h-2.6zM993.6 177.5h2.6v2.57h-2.6zM998.3 177.5h7.2v2.57h-7.2zM1016.8 177.5h2.6v2.57h-2.6zM1091.1 177.5h4.9v2.57h-4.9zM798.7 179.8h2.6v2.57h-2.6zM838.2 179.8h7.2v2.57h-7.2zM856.7 179.8h7.2v2.57h-7.2zM868.3 179.8h2.6v2.57h-2.6zM1016.8 179.8h2.6v2.57h-2.6zM798.7 182.1h2.6v2.57h-2.6zM840.5 182.1h4.9v2.57h-4.9zM856.7 182.1h2.6v2.57h-2.6zM798.7 184.4h4.9v2.57h-4.9zM805.7 184.4h7.2v2.57h-7.2zM840.5 184.4h2.6v2.57h-2.6zM856.7 184.4h2.6v2.57h-2.6zM798.7 186.8h4.9v2.57h-4.9zM812.7 186.8h7.2v2.57h-7.2zM821.9 186.8h2.6v2.57h-2.6zM840.5 186.8h2.6v2.57h-2.6zM856.7 186.8h14.2v2.57h-14.2zM998.3 186.8h2.6v2.57h-2.6zM798.7 189.1h2.6v2.57h-2.6zM859.1 189.1h9.5v2.57h-9.5zM995.9 189.1h7.2v2.57h-7.2zM1030.7 189.1h2.6v2.57h-2.6zM995.9 191.4h7.2v2.57h-7.2zM1028.4 191.4h2.6v2.57h-2.6zM835.9 193.7h2.6v2.57h-2.6zM993.6 193.7h9.5v2.57h-9.5zM828.9 196.0h9.5v2.57h-9.5zM840.5 196.0h2.6v2.57h-2.6zM993.6 196.0h9.5v2.57h-9.5zM828.9 198.4h32.7v2.57h-32.7zM993.6 198.4h9.5v2.57h-9.5zM831.2 200.7h14.2v2.57h-14.2zM995.9 200.7h7.2v2.57h-7.2zM826.6 203.0h16.5v2.57h-16.5zM998.3 203.0h9.5v2.57h-9.5zM817.3 205.3h2.6v2.57h-2.6zM828.9 205.3h14.2v2.57h-14.2zM998.3 205.3h9.5v2.57h-9.5zM801.1 207.6h2.6v2.57h-2.6zM815.0 207.6h4.9v2.57h-4.9zM831.2 207.6h7.2v2.57h-7.2zM801.1 210.0h2.6v2.57h-2.6zM815.0 210.0h2.6v2.57h-2.6zM828.9 210.0h9.5v2.57h-9.5zM1019.1 210.0h9.5v2.57h-9.5zM801.1 212.3h2.6v2.57h-2.6zM828.9 212.3h9.5v2.57h-9.5zM1026.1 212.3h4.9v2.57h-4.9zM801.1 214.6h2.6v2.57h-2.6zM831.2 214.6h4.9v2.57h-4.9zM998.3 214.6h2.6v2.57h-2.6zM801.1 216.9h2.6v2.57h-2.6zM833.5 216.9h2.6v2.57h-2.6zM805.7 219.2h2.6v2.57h-2.6zM833.5 219.2h2.6v2.57h-2.6zM1005.2 223.9h4.9v2.57h-4.9zM1009.9 226.2h4.9v2.57h-4.9zM828.9 228.5h2.6v2.57h-2.6zM1012.2 228.5h2.6v2.57h-2.6zM1012.2 230.8h4.9v2.57h-4.9zM1042.3 230.8h9.5v2.57h-9.5zM805.7 233.2h4.9v2.57h-4.9zM826.6 233.2h2.6v2.57h-2.6zM833.5 233.2h2.6v2.57h-2.6zM1012.2 233.2h7.2v2.57h-7.2zM1044.7 233.2h2.6v2.57h-2.6zM1049.3 233.2h7.2v2.57h-7.2zM805.7 235.5h4.9v2.57h-4.9zM817.3 235.5h9.5v2.57h-9.5zM1005.2 235.5h11.8v2.57h-11.8zM1023.8 235.5h4.9v2.57h-4.9zM1049.3 235.5h4.9v2.57h-4.9zM808.0 237.8h2.6v2.57h-2.6zM817.3 237.8h9.5v2.57h-9.5zM831.2 237.8h2.6v2.57h-2.6zM995.9 237.8h4.9v2.57h-4.9zM1012.2 237.8h2.6v2.57h-2.6zM1047.0 237.8h4.9v2.57h-4.9zM805.7 240.1h4.9v2.57h-4.9zM817.3 240.1h9.5v2.57h-9.5zM833.5 240.1h4.9v2.57h-4.9zM995.9 240.1h7.2v2.57h-7.2zM1030.7 240.1h4.9v2.57h-4.9zM1049.3 240.1h2.6v2.57h-2.6zM810.3 242.4h2.6v2.57h-2.6zM826.6 242.4h2.6v2.57h-2.6zM1000.6 242.4h2.6v2.57h-2.6zM1033.1 242.4h2.6v2.57h-2.6zM1049.3 242.4h4.9v2.57h-4.9zM810.3 244.8h2.6v2.57h-2.6zM826.6 244.8h2.6v2.57h-2.6zM1002.9 244.8h4.9v2.57h-4.9zM1035.4 244.8h2.6v2.57h-2.6zM1051.6 244.8h4.9v2.57h-4.9zM810.3 247.1h2.6v2.57h-2.6zM826.6 247.1h2.6v2.57h-2.6zM1002.9 247.1h9.5v2.57h-9.5zM1053.9 247.1h4.9v2.57h-4.9zM810.3 249.4h2.6v2.57h-2.6zM826.6 249.4h2.6v2.57h-2.6zM838.2 249.4h2.6v2.57h-2.6zM868.3 249.4h2.6v2.57h-2.6zM1005.2 249.4h7.2v2.57h-7.2zM1035.4 249.4h2.6v2.57h-2.6zM1056.3 249.4h2.6v2.57h-2.6zM810.3 251.7h2.6v2.57h-2.6zM826.6 251.7h2.6v2.57h-2.6zM1009.9 251.7h4.9v2.57h-4.9zM1033.1 251.7h9.5v2.57h-9.5zM808.0 254.0h4.9v2.57h-4.9zM826.6 254.0h2.6v2.57h-2.6zM838.2 254.0h2.6v2.57h-2.6zM1009.9 254.0h2.6v2.57h-2.6zM1033.1 254.0h2.6v2.57h-2.6zM1037.7 254.0h4.9v2.57h-4.9zM808.0 256.4h2.6v2.57h-2.6zM821.9 256.4h2.6v2.57h-2.6zM831.2 256.4h9.5v2.57h-9.5zM1009.9 256.4h4.9v2.57h-4.9zM1030.7 256.4h2.6v2.57h-2.6zM1037.7 256.4h4.9v2.57h-4.9zM819.6 258.7h7.2v2.57h-7.2zM1005.2 258.7h2.6v2.57h-2.6zM1012.2 258.7h2.6v2.57h-2.6zM1030.7 258.7h2.6v2.57h-2.6zM1040.0 258.7h2.6v2.57h-2.6zM819.6 261.0h7.2v2.57h-7.2zM1009.9 261.0h2.6v2.57h-2.6zM1030.7 261.0h2.6v2.57h-2.6zM1040.0 261.0h2.6v2.57h-2.6zM819.6 263.3h7.2v2.57h-7.2zM1030.7 263.3h2.6v2.57h-2.6zM1040.0 263.3h2.6v2.57h-2.6zM819.6 265.6h7.2v2.57h-7.2zM1030.7 265.6h2.6v2.57h-2.6zM1035.4 265.6h4.9v2.57h-4.9zM810.3 268.0h2.6v2.57h-2.6zM1030.7 268.0h7.2v2.57h-7.2zM1009.9 270.3h2.6v2.57h-2.6zM1030.7 270.3h2.6v2.57h-2.6zM1035.4 270.3h2.6v2.57h-2.6zM810.3 272.6h4.9v2.57h-4.9zM1005.2 272.6h4.9v2.57h-4.9zM1037.7 272.6h2.6v2.57h-2.6zM812.7 274.9h2.6v2.57h-2.6zM1005.2 274.9h4.9v2.57h-4.9zM1033.1 274.9h2.6v2.57h-2.6zM784.8 277.2h2.6v2.57h-2.6zM1005.2 277.2h4.9v2.57h-4.9zM1030.7 277.2h4.9v2.57h-4.9zM1023.8 279.6h9.5v2.57h-9.5zM1037.7 279.6h4.9v2.57h-4.9zM1051.6 279.6h4.9v2.57h-4.9zM1040.0 281.9h9.5v2.57h-9.5zM833.5 284.2h4.9v2.57h-4.9zM1021.5 284.2h2.6v2.57h-2.6zM1040.0 284.2h4.9v2.57h-4.9zM831.2 286.5h9.5v2.57h-9.5zM1019.1 286.5h2.6v2.57h-2.6zM1030.7 286.5h4.9v2.57h-4.9zM1037.7 286.5h4.9v2.57h-4.9zM831.2 288.8h4.9v2.57h-4.9zM1007.5 288.8h2.6v2.57h-2.6zM1019.1 288.8h2.6v2.57h-2.6zM1028.4 288.8h4.9v2.57h-4.9zM1037.7 288.8h4.9v2.57h-4.9zM835.9 291.2h2.6v2.57h-2.6zM861.4 291.2h2.6v2.57h-2.6zM1002.9 291.2h7.2v2.57h-7.2zM1014.5 291.2h16.5v2.57h-16.5zM1033.1 291.2h2.6v2.57h-2.6zM1040.0 291.2h2.6v2.57h-2.6zM840.5 293.5h4.9v2.57h-4.9zM863.7 293.5h4.9v2.57h-4.9zM1007.5 293.5h4.9v2.57h-4.9zM1014.5 293.5h11.8v2.57h-11.8zM845.1 295.8h2.6v2.57h-2.6zM866.0 295.8h2.6v2.57h-2.6zM1016.8 295.8h4.9v2.57h-4.9zM1035.4 295.8h2.6v2.57h-2.6zM866.0 298.1h2.6v2.57h-2.6zM866.0 300.4h4.9v2.57h-4.9zM1030.7 300.4h2.6v2.57h-2.6zM868.3 302.8h2.6v2.57h-2.6zM1014.5 309.7h2.6v2.57h-2.6zM1030.7 309.7h2.6v2.57h-2.6zM1012.2 312.0h4.9v2.57h-4.9zM1023.8 312.0h4.9v2.57h-4.9zM1021.5 314.4h4.9v2.57h-4.9zM886.9 319.0h4.9v2.57h-4.9zM912.4 319.0h2.6v2.57h-2.6zM903.1 323.6h2.6v2.57h-2.6zM868.3 328.3h4.9v2.57h-4.9zM905.5 328.3h2.6v2.57h-2.6zM868.3 330.6h4.9v2.57h-4.9zM905.5 335.2h4.9v2.57h-4.9zM893.9 339.9h2.6v2.57h-2.6zM924.0 339.9h4.9v2.57h-4.9zM982.0 339.9h2.6v2.57h-2.6zM926.3 342.2h9.5v2.57h-9.5zM926.3 344.5h9.5v2.57h-9.5zM928.7 346.8h7.2v2.57h-7.2zM972.7 346.8h2.6v2.57h-2.6zM931.0 349.2h7.2v2.57h-7.2zM949.5 349.2h2.6v2.57h-2.6zM975.1 349.2h2.6v2.57h-2.6zM933.3 351.5h4.9v2.57h-4.9zM903.1 358.4h2.6v2.57h-2.6zM944.9 358.4h2.6v2.57h-2.6zM944.9 360.8h4.9v2.57h-4.9zM949.5 367.7h4.9v2.57h-4.9zM949.5 370.0h7.2v2.57h-7.2zM1021.5 370.0h2.6v2.57h-2.6zM1019.1 372.4h4.9v2.57h-4.9zM1023.8 374.7h2.6v2.57h-2.6zM1026.1 384.0h2.6v2.57h-2.6zM1023.8 386.3h4.9v2.57h-4.9z"/>
<path fill="#fcaa5f" d="M903.1 100.9h2.6v2.57h-2.6zM900.8 105.6h2.6v2.57h-2.6zM898.5 107.9h2.6v2.57h-2.6zM833.5 112.5h2.6v2.57h-2.6zM831.2 114.8h7.2v2.57h-7.2zM896.2 114.8h4.9v2.57h-4.9zM831.2 117.2h4.9v2.57h-4.9zM893.9 117.2h4.9v2.57h-4.9zM900.8 117.2h9.5v2.57h-9.5zM831.2 119.5h4.9v2.57h-4.9zM889.2 119.5h2.6v2.57h-2.6zM907.8 119.5h2.6v2.57h-2.6zM873.0 121.8h2.6v2.57h-2.6zM886.9 121.8h4.9v2.57h-4.9zM907.8 121.8h4.9v2.57h-4.9zM875.3 124.1h2.6v2.57h-2.6zM886.9 124.1h2.6v2.57h-2.6zM905.5 124.1h9.5v2.57h-9.5zM917.1 124.1h4.9v2.57h-4.9zM935.6 124.1h4.9v2.57h-4.9zM951.9 124.1h2.6v2.57h-2.6zM972.7 124.1h4.9v2.57h-4.9zM856.7 126.4h2.6v2.57h-2.6zM877.6 126.4h11.8v2.57h-11.8zM905.5 126.4h18.8v2.57h-18.8zM935.6 126.4h4.9v2.57h-4.9zM949.5 126.4h4.9v2.57h-4.9zM975.1 126.4h4.9v2.57h-4.9zM986.7 126.4h2.6v2.57h-2.6zM856.7 128.8h2.6v2.57h-2.6zM879.9 128.8h11.8v2.57h-11.8zM903.1 128.8h23.4v2.57h-23.4zM935.6 128.8h4.9v2.57h-4.9zM947.2 128.8h7.2v2.57h-7.2zM977.4 128.8h11.8v2.57h-11.8zM849.8 131.1h18.8v2.57h-18.8zM879.9 131.1h11.8v2.57h-11.8zM900.8 131.1h28.1v2.57h-28.1zM935.6 131.1h4.9v2.57h-4.9zM947.2 131.1h4.9v2.57h-4.9zM1028.4 131.1h2.6v2.57h-2.6zM835.9 133.4h2.6v2.57h-2.6zM847.5 133.4h7.2v2.57h-7.2zM861.4 133.4h9.5v2.57h-9.5zM879.9 133.4h28.1v2.57h-28.1zM919.4 133.4h2.6v2.57h-2.6zM924.0 133.4h2.6v2.57h-2.6zM935.6 133.4h4.9v2.57h-4.9zM944.9 133.4h7.2v2.57h-7.2zM986.7 133.4h4.9v2.57h-4.9zM1026.1 133.4h4.9v2.57h-4.9zM831.2 135.7h2.6v2.57h-2.6zM845.1 135.7h2.6v2.57h-2.6zM866.0 135.7h39.7v2.57h-39.7zM944.9 135.7h4.9v2.57h-4.9zM956.5 135.7h2.6v2.57h-2.6zM961.1 135.7h7.2v2.57h-7.2zM828.9 138.0h2.6v2.57h-2.6zM845.1 138.0h2.6v2.57h-2.6zM866.0 138.0h39.7v2.57h-39.7zM935.6 138.0h2.6v2.57h-2.6zM940.3 138.0h2.6v2.57h-2.6zM949.5 138.0h2.6v2.57h-2.6zM1023.8 138.0h2.6v2.57h-2.6zM1030.7 138.0h2.6v2.57h-2.6zM828.9 140.4h2.6v2.57h-2.6zM847.5 140.4h2.6v2.57h-2.6zM866.0 140.4h4.9v2.57h-4.9zM882.3 140.4h4.9v2.57h-4.9zM889.2 140.4h11.8v2.57h-11.8zM928.7 140.4h11.8v2.57h-11.8zM949.5 140.4h4.9v2.57h-4.9zM1019.1 140.4h4.9v2.57h-4.9zM1030.7 140.4h2.6v2.57h-2.6zM828.9 142.7h2.6v2.57h-2.6zM847.5 142.7h2.6v2.57h-2.6zM868.3 142.7h2.6v2.57h-2.6zM882.3 142.7h2.6v2.57h-2.6zM893.9 142.7h4.9v2.57h-4.9zM926.3 142.7h14.2v2.57h-14.2zM947.2 142.7h7.2v2.57h-7.2zM1030.7 142.7h2.6v2.57h-2.6zM828.9 145.0h2.6v2.57h-2.6zM847.5 145.0h4.9v2.57h-4.9zM868.3 145.0h2.6v2.57h-2.6zM882.3 145.0h2.6v2.57h-2.6zM924.0 145.0h4.9v2.57h-4.9zM935.6 145.0h4.9v2.57h-4.9zM949.5 145.0h4.9v2.57h-4.9zM828.9 147.3h2.6v2.57h-2.6zM845.1 147.3h7.2v2.57h-7.2zM868.3 147.3h2.6v2.57h-2.6zM924.0 147.3h4.9v2.57h-4.9zM935.6 147.3h4.9v2.57h-4.9zM828.9 149.6h2.6v2.57h-2.6zM835.9 149.6h4.9v2.57h-4.9zM868.3 149.6h2.6v2.57h-2.6zM898.5 149.6h4.9v2.57h-4.9zM924.0 149.6h4.9v2.57h-4.9zM937.9 149.6h2.6v2.57h-2.6zM819.6 152.0h9.5v2.57h-9.5zM835.9 152.0h2.6v2.57h-2.6zM866.0 152.0h4.9v2.57h-4.9zM879.9 152.0h2.6v2.57h-2.6zM893.9 152.0h11.8v2.57h-11.8zM924.0 152.0h4.9v2.57h-4.9zM937.9 152.0h4.9v2.57h-4.9zM968.1 152.0h2.6v2.57h-2.6zM866.0 154.3h2.6v2.57h-2.6zM870.7 154.3h2.6v2.57h-2.6zM875.3 154.3h7.2v2.57h-7.2zM891.5 154.3h16.5v2.57h-16.5zM926.3 154.3h2.6v2.57h-2.6zM940.3 154.3h2.6v2.57h-2.6zM961.1 154.3h4.9v2.57h-4.9zM968.1 154.3h2.6v2.57h-2.6zM977.4 154.3h4.9v2.57h-4.9zM863.7 156.6h11.8v2.57h-11.8zM886.9 156.6h14.2v2.57h-14.2zM905.5 156.6h4.9v2.57h-4.9zM928.7 156.6h2.6v2.57h-2.6zM940.3 156.6h2.6v2.57h-2.6zM961.1 156.6h4.9v2.57h-4.9zM977.4 156.6h4.9v2.57h-4.9zM993.6 156.6h4.9v2.57h-4.9zM1002.9 156.6h4.9v2.57h-4.9zM817.3 158.9h4.9v2.57h-4.9zM824.3 158.9h2.6v2.57h-2.6zM835.9 158.9h2.6v2.57h-2.6zM863.7 158.9h9.5v2.57h-9.5zM886.9 158.9h2.6v2.57h-2.6zM898.5 158.9h4.9v2.57h-4.9zM907.8 158.9h2.6v2.57h-2.6zM931.0 158.9h11.8v2.57h-11.8zM961.1 158.9h7.2v2.57h-7.2zM977.4 158.9h4.9v2.57h-4.9zM993.6 158.9h2.6v2.57h-2.6zM1002.9 158.9h7.2v2.57h-7.2zM819.6 161.2h11.8v2.57h-11.8zM835.9 161.2h9.5v2.57h-9.5zM861.4 161.2h9.5v2.57h-9.5zM884.6 161.2h2.6v2.57h-2.6zM900.8 161.2h2.6v2.57h-2.6zM910.1 161.2h2.6v2.57h-2.6zM921.7 161.2h4.9v2.57h-4.9zM933.3 161.2h2.6v2.57h-2.6zM937.9 161.2h4.9v2.57h-4.9zM961.1 161.2h9.5v2.57h-9.5zM979.7 161.2h2.6v2.57h-2.6zM991.3 161.2h4.9v2.57h-4.9zM1002.9 161.2h9.5v2.57h-9.5zM1026.1 161.2h4.9v2.57h-4.9zM833.5 163.6h2.6v2.57h-2.6zM845.1 163.6h4.9v2.57h-4.9zM859.1 163.6h11.8v2.57h-11.8zM900.8 163.6h2.6v2.57h-2.6zM910.1 163.6h2.6v2.57h-2.6zM924.0 163.6h4.9v2.57h-4.9zM949.5 163.6h2.6v2.57h-2.6zM963.5 163.6h9.5v2.57h-9.5zM979.7 163.6h7.2v2.57h-7.2zM989.0 163.6h4.9v2.57h-4.9zM1002.9 163.6h9.5v2.57h-9.5zM1019.1 163.6h4.9v2.57h-4.9zM1030.7 163.6h9.5v2.57h-9.5zM833.5 165.9h2.6v2.57h-2.6zM856.7 165.9h14.2v2.57h-14.2zM900.8 165.9h2.6v2.57h-2.6zM910.1 165.9h2.6v2.57h-2.6zM926.3 165.9h9.5v2.57h-9.5zM937.9 165.9h2.6v2.57h-2.6zM951.9 165.9h2.6v2.57h-2.6zM961.1 165.9h16.5v2.57h-16.5zM986.7 165.9h2.6v2.57h-2.6zM998.3 165.9h7.2v2.57h-7.2zM1019.1 165.9h2.6v2.57h-2.6zM1033.1 165.9h9.5v2.57h-9.5zM1053.9 165.9h2.6v2.57h-2.6zM835.9 168.2h2.6v2.57h-2.6zM856.7 168.2h2.6v2.57h-2.6zM861.4 168.2h14.2v2.57h-14.2zM935.6 168.2h11.8v2.57h-11.8zM951.9 168.2h2.6v2.57h-2.6zM956.5 168.2h23.4v2.57h-23.4zM993.6 168.2h11.8v2.57h-11.8zM1016.8 168.2h4.9v2.57h-4.9zM1033.1 168.2h2.6v2.57h-2.6zM1040.0 168.2h2.6v2.57h-2.6zM1056.3 168.2h2.6v2.57h-2.6zM817.3 170.5h4.9v2.57h-4.9zM838.2 170.5h2.6v2.57h-2.6zM877.6 170.5h4.9v2.57h-4.9zM937.9 170.5h2.6v2.57h-2.6zM947.2 170.5h4.9v2.57h-4.9zM958.8 170.5h23.4v2.57h-23.4zM993.6 170.5h2.6v2.57h-2.6zM1000.6 170.5h4.9v2.57h-4.9zM1016.8 170.5h2.6v2.57h-2.6zM1033.1 170.5h2.6v2.57h-2.6zM1042.3 170.5h2.6v2.57h-2.6zM819.6 172.8h2.6v2.57h-2.6zM840.5 172.8h4.9v2.57h-4.9zM879.9 172.8h2.6v2.57h-2.6zM970.4 172.8h11.8v2.57h-11.8zM991.3 172.8h2.6v2.57h-2.6zM1002.9 172.8h2.6v2.57h-2.6zM1016.8 172.8h2.6v2.57h-2.6zM1098.0 172.8h2.6v2.57h-2.6zM815.0 175.2h7.2v2.57h-7.2zM840.5 175.2h4.9v2.57h-4.9zM856.7 175.2h9.5v2.57h-9.5zM879.9 175.2h2.6v2.57h-2.6zM979.7 175.2h2.6v2.57h-2.6zM991.3 175.2h2.6v2.57h-2.6zM1002.9 175.2h2.6v2.57h-2.6zM1014.5 175.2h2.6v2.57h-2.6zM1098.0 175.2h4.9v2.57h-4.9zM815.0 177.5h2.6v2.57h-2.6zM828.9 177.5h4.9v2.57h-4.9zM842.8 177.5h4.9v2.57h-4.9zM856.7 177.5h4.9v2.57h-4.9zM868.3 177.5h2.6v2.57h-2.6zM979.7 177.5h4.9v2.57h-4.9zM991.3 177.5h2.6v2.57h-2.6zM1005.2 177.5h11.8v2.57h-11.8zM1095.7 177.5h7.2v2.57h-7.2zM833.5 179.8h4.9v2.57h-4.9zM845.1 179.8h11.8v2.57h-11.8zM991.3 179.8h4.9v2.57h-4.9zM1093.4 179.8h7.2v2.57h-7.2zM835.9 182.1h4.9v2.57h-4.9zM845.1 182.1h4.9v2.57h-4.9zM852.1 182.1h4.9v2.57h-4.9zM984.3 182.1h14.2v2.57h-14.2zM1093.4 182.1h7.2v2.57h-7.2zM838.2 184.4h2.6v2.57h-2.6zM842.8 184.4h4.9v2.57h-4.9zM852.1 184.4h4.9v2.57h-4.9zM984.3 184.4h14.2v2.57h-14.2zM1095.7 184.4h2.6v2.57h-2.6zM805.7 186.8h7.2v2.57h-7.2zM824.3 186.8h2.6v2.57h-2.6zM838.2 186.8h2.6v2.57h-2.6zM842.8 186.8h4.9v2.57h-4.9zM852.1 186.8h4.9v2.57h-4.9zM986.7 186.8h11.8v2.57h-11.8zM801.1 189.1h2.6v2.57h-2.6zM815.0 189.1h11.8v2.57h-11.8zM835.9 189.1h9.5v2.57h-9.5zM854.4 189.1h4.9v2.57h-4.9zM989.0 189.1h7.2v2.57h-7.2zM821.9 191.4h2.6v2.57h-2.6zM828.9 191.4h18.8v2.57h-18.8zM856.7 191.4h7.2v2.57h-7.2zM991.3 191.4h4.9v2.57h-4.9zM1002.9 191.4h2.6v2.57h-2.6zM1030.7 191.4h4.9v2.57h-4.9zM824.3 193.7h11.8v2.57h-11.8zM838.2 193.7h9.5v2.57h-9.5zM856.7 193.7h7.2v2.57h-7.2zM991.3 193.7h2.6v2.57h-2.6zM824.3 196.0h4.9v2.57h-4.9zM838.2 196.0h2.6v2.57h-2.6zM842.8 196.0h21.1v2.57h-21.1zM991.3 196.0h2.6v2.57h-2.6zM821.9 198.4h7.2v2.57h-7.2zM991.3 198.4h2.6v2.57h-2.6zM815.0 200.7h16.5v2.57h-16.5zM991.3 200.7h4.9v2.57h-4.9zM1035.4 200.7h2.6v2.57h-2.6zM803.4 203.0h2.6v2.57h-2.6zM812.7 203.0h14.2v2.57h-14.2zM993.6 203.0h4.9v2.57h-4.9zM1035.4 203.0h4.9v2.57h-4.9zM803.4 205.3h2.6v2.57h-2.6zM812.7 205.3h4.9v2.57h-4.9zM819.6 205.3h9.5v2.57h-9.5zM993.6 205.3h4.9v2.57h-4.9zM1035.4 205.3h4.9v2.57h-4.9zM803.4 207.6h2.6v2.57h-2.6zM812.7 207.6h2.6v2.57h-2.6zM819.6 207.6h11.8v2.57h-11.8zM995.9 207.6h14.2v2.57h-14.2zM1037.7 207.6h2.6v2.57h-2.6zM803.4 210.0h2.6v2.57h-2.6zM812.7 210.0h2.6v2.57h-2.6zM817.3 210.0h11.8v2.57h-11.8zM995.9 210.0h11.8v2.57h-11.8zM1009.9 210.0h2.6v2.57h-2.6zM1028.4 210.0h4.9v2.57h-4.9zM803.4 212.3h2.6v2.57h-2.6zM815.0 212.3h14.2v2.57h-14.2zM998.3 212.3h4.9v2.57h-4.9zM1033.1 212.3h2.6v2.57h-2.6zM1040.0 212.3h4.9v2.57h-4.9zM803.4 214.6h2.6v2.57h-2.6zM815.0 214.6h16.5v2.57h-16.5zM1000.6 214.6h2.6v2.57h-2.6zM1040.0 214.6h7.2v2.57h-7.2zM803.4 216.9h4.9v2.57h-4.9zM817.3 216.9h9.5v2.57h-9.5zM828.9 216.9h4.9v2.57h-4.9zM1002.9 216.9h2.6v2.57h-2.6zM1012.2 216.9h2.6v2.57h-2.6zM817.3 219.2h9.5v2.57h-9.5zM1005.2 219.2h2.6v2.57h-2.6zM805.7 221.6h4.9v2.57h-4.9zM815.0 221.6h14.2v2.57h-14.2zM1005.2 221.6h9.5v2.57h-9.5zM815.0 223.9h4.9v2.57h-4.9zM821.9 223.9h7.2v2.57h-7.2zM1009.9 223.9h7.2v2.57h-7.2zM1044.7 223.9h2.6v2.57h-2.6zM821.9 226.2h7.2v2.57h-7.2zM1014.5 226.2h2.6v2.57h-2.6zM1044.7 226.2h4.9v2.57h-4.9zM808.0 228.5h2.6v2.57h-2.6zM824.3 228.5h4.9v2.57h-4.9zM1014.5 228.5h4.9v2.57h-4.9zM1028.4 228.5h11.8v2.57h-11.8zM1047.0 228.5h4.9v2.57h-4.9zM808.0 230.8h2.6v2.57h-2.6zM817.3 230.8h11.8v2.57h-11.8zM1016.8 230.8h2.6v2.57h-2.6zM1028.4 230.8h14.2v2.57h-14.2zM1051.6 230.8h2.6v2.57h-2.6zM817.3 233.2h9.5v2.57h-9.5zM1026.1 233.2h18.8v2.57h-18.8zM1047.0 233.2h2.6v2.57h-2.6zM815.0 235.5h2.6v2.57h-2.6zM833.5 235.5h2.6v2.57h-2.6zM1016.8 235.5h2.6v2.57h-2.6zM1028.4 235.5h21.1v2.57h-21.1zM810.3 237.8h7.2v2.57h-7.2zM833.5 237.8h2.6v2.57h-2.6zM993.6 237.8h2.6v2.57h-2.6zM1005.2 237.8h7.2v2.57h-7.2zM1014.5 237.8h2.6v2.57h-2.6zM1023.8 237.8h16.5v2.57h-16.5zM1044.7 237.8h2.6v2.57h-2.6zM810.3 240.1h7.2v2.57h-7.2zM1005.2 240.1h11.8v2.57h-11.8zM1021.5 240.1h9.5v2.57h-9.5zM1035.4 240.1h4.9v2.57h-4.9zM1047.0 240.1h2.6v2.57h-2.6zM812.7 242.4h2.6v2.57h-2.6zM817.3 242.4h9.5v2.57h-9.5zM838.2 242.4h2.6v2.57h-2.6zM1002.9 242.4h11.8v2.57h-11.8zM1028.4 242.4h4.9v2.57h-4.9zM1035.4 242.4h4.9v2.57h-4.9zM1047.0 242.4h2.6v2.57h-2.6zM821.9 244.8h4.9v2.57h-4.9zM838.2 244.8h2.6v2.57h-2.6zM1007.5 244.8h9.5v2.57h-9.5zM1030.7 244.8h4.9v2.57h-4.9zM1037.7 244.8h4.9v2.57h-4.9zM1047.0 244.8h4.9v2.57h-4.9zM824.3 247.1h2.6v2.57h-2.6zM838.2 247.1h4.9v2.57h-4.9zM1012.2 247.1h2.6v2.57h-2.6zM1030.7 247.1h14.2v2.57h-14.2zM1047.0 247.1h7.2v2.57h-7.2zM812.7 249.4h2.6v2.57h-2.6zM824.3 249.4h2.6v2.57h-2.6zM840.5 249.4h2.6v2.57h-2.6zM1012.2 249.4h2.6v2.57h-2.6zM1030.7 249.4h4.9v2.57h-4.9zM1037.7 249.4h7.2v2.57h-7.2zM1053.9 249.4h2.6v2.57h-2.6zM812.7 251.7h2.6v2.57h-2.6zM824.3 251.7h2.6v2.57h-2.6zM838.2 251.7h4.9v2.57h-4.9zM1030.7 251.7h2.6v2.57h-2.6zM1042.3 251.7h4.9v2.57h-4.9zM1056.3 251.7h2.6v2.57h-2.6zM821.9 254.0h4.9v2.57h-4.9zM840.5 254.0h2.6v2.57h-2.6zM1012.2 254.0h2.6v2.57h-2.6zM1030.7 254.0h2.6v2.57h-2.6zM1042.3 254.0h4.9v2.57h-4.9zM810.3 256.4h2.6v2.57h-2.6zM819.6 256.4h2.6v2.57h-2.6zM824.3 256.4h7.2v2.57h-7.2zM1042.3 256.4h2.6v2.57h-2.6zM808.0 258.7h4.9v2.57h-4.9zM826.6 258.7h4.9v2.57h-4.9zM835.9 258.7h4.9v2.57h-4.9zM1028.4 258.7h2.6v2.57h-2.6zM1042.3 258.7h4.9v2.57h-4.9zM808.0 261.0h4.9v2.57h-4.9zM817.3 261.0h2.6v2.57h-2.6zM826.6 261.0h4.9v2.57h-4.9zM835.9 261.0h2.6v2.57h-2.6zM1005.2 261.0h2.6v2.57h-2.6zM1028.4 261.0h2.6v2.57h-2.6zM1042.3 261.0h2.6v2.57h-2.6zM777.9 263.3h2.6v2.57h-2.6zM810.3 263.3h2.6v2.57h-2.6zM815.0 263.3h4.9v2.57h-4.9zM826.6 263.3h9.5v2.57h-9.5zM1005.2 263.3h4.9v2.57h-4.9zM1028.4 263.3h2.6v2.57h-2.6zM1042.3 263.3h4.9v2.57h-4.9zM1049.3 263.3h2.6v2.57h-2.6zM777.9 265.6h2.6v2.57h-2.6zM810.3 265.6h2.6v2.57h-2.6zM815.0 265.6h4.9v2.57h-4.9zM826.6 265.6h7.2v2.57h-7.2zM1005.2 265.6h4.9v2.57h-4.9zM1028.4 265.6h2.6v2.57h-2.6zM1040.0 265.6h2.6v2.57h-2.6zM1049.3 265.6h4.9v2.57h-4.9zM780.2 268.0h2.6v2.57h-2.6zM812.7 268.0h21.1v2.57h-21.1zM1005.2 268.0h4.9v2.57h-4.9zM1028.4 268.0h2.6v2.57h-2.6zM1037.7 268.0h4.9v2.57h-4.9zM1049.3 268.0h4.9v2.57h-4.9zM782.5 270.3h2.6v2.57h-2.6zM812.7 270.3h23.4v2.57h-23.4zM1005.2 270.3h4.9v2.57h-4.9zM1028.4 270.3h2.6v2.57h-2.6zM1037.7 270.3h4.9v2.57h-4.9zM1049.3 270.3h2.6v2.57h-2.6zM782.5 272.6h4.9v2.57h-4.9zM815.0 272.6h21.1v2.57h-21.1zM1009.9 272.6h2.6v2.57h-2.6zM1028.4 272.6h4.9v2.57h-4.9zM1040.0 272.6h2.6v2.57h-2.6zM784.8 274.9h2.6v2.57h-2.6zM817.3 274.9h4.9v2.57h-4.9zM824.3 274.9h11.8v2.57h-11.8zM1009.9 274.9h2.6v2.57h-2.6zM1026.1 274.9h7.2v2.57h-7.2zM1037.7 274.9h4.9v2.57h-4.9zM826.6 277.2h9.5v2.57h-9.5zM1009.9 277.2h2.6v2.57h-2.6zM1023.8 277.2h7.2v2.57h-7.2zM1037.7 277.2h7.2v2.57h-7.2zM1049.3 277.2h2.6v2.57h-2.6zM828.9 279.6h7.2v2.57h-7.2zM1042.3 279.6h7.2v2.57h-7.2zM828.9 281.9h14.2v2.57h-14.2zM828.9 284.2h4.9v2.57h-4.9zM838.2 284.2h4.9v2.57h-4.9zM861.4 284.2h2.6v2.57h-2.6zM828.9 286.5h2.6v2.57h-2.6zM1012.2 286.5h2.6v2.57h-2.6zM1012.2 288.8h7.2v2.57h-7.2zM1030.7 291.2h2.6v2.57h-2.6zM1037.7 291.2h2.6v2.57h-2.6zM861.4 293.5h2.6v2.57h-2.6zM1005.2 293.5h2.6v2.57h-2.6zM1026.1 293.5h2.6v2.57h-2.6zM1030.7 293.5h4.9v2.57h-4.9zM847.5 295.8h2.6v2.57h-2.6zM859.1 295.8h2.6v2.57h-2.6zM1005.2 295.8h7.2v2.57h-7.2zM1021.5 295.8h4.9v2.57h-4.9zM854.4 298.1h4.9v2.57h-4.9zM1009.9 298.1h4.9v2.57h-4.9zM1019.1 298.1h4.9v2.57h-4.9zM1035.4 298.1h2.6v2.57h-2.6zM1016.8 300.4h2.6v2.57h-2.6zM1028.4 302.8h2.6v2.57h-2.6zM1016.8 307.4h4.9v2.57h-4.9zM1026.1 307.4h9.5v2.57h-9.5zM1009.9 309.7h4.9v2.57h-4.9zM1019.1 309.7h4.9v2.57h-4.9zM1026.1 309.7h4.9v2.57h-4.9zM866.0 326.0h4.9v2.57h-4.9zM866.0 328.3h2.6v2.57h-2.6zM866.0 330.6h2.6v2.57h-2.6zM935.6 330.6h2.6v2.57h-2.6zM905.5 332.9h2.6v2.57h-2.6zM935.6 332.9h2.6v2.57h-2.6zM877.6 335.2h4.9v2.57h-4.9zM933.3 335.2h4.9v2.57h-4.9zM986.7 335.2h4.9v2.57h-4.9zM928.7 337.6h7.2v2.57h-7.2zM984.3 337.6h4.9v2.57h-4.9zM921.7 339.9h2.6v2.57h-2.6zM928.7 339.9h4.9v2.57h-4.9zM984.3 339.9h2.6v2.57h-2.6zM924.0 342.2h2.6v2.57h-2.6zM882.3 344.5h4.9v2.57h-4.9zM856.7 346.8h4.9v2.57h-4.9zM926.3 346.8h2.6v2.57h-2.6zM856.7 349.2h7.2v2.57h-7.2zM928.7 349.2h2.6v2.57h-2.6zM972.7 349.2h2.6v2.57h-2.6zM856.7 351.5h4.9v2.57h-4.9zM931.0 351.5h2.6v2.57h-2.6zM972.7 351.5h4.9v2.57h-4.9zM933.3 353.8h4.9v2.57h-4.9zM963.5 353.8h4.9v2.57h-4.9zM933.3 356.1h2.6v2.57h-2.6zM963.5 356.1h4.9v2.57h-4.9zM947.2 358.4h2.6v2.57h-2.6zM963.5 358.4h4.9v2.57h-4.9zM949.5 360.8h2.6v2.57h-2.6zM961.1 360.8h7.2v2.57h-7.2zM958.8 363.1h7.2v2.57h-7.2zM961.1 365.4h2.6v2.57h-2.6zM954.2 367.7h7.2v2.57h-7.2zM1021.5 374.7h2.6v2.57h-2.6zM1028.4 384.0h2.6v2.57h-2.6zM1035.4 388.6h2.6v2.57h-2.6zM1030.7 390.9h7.2v2.57h-7.2z"/>
<path fill="#fba05b" d="M898.5 110.2h2.6v2.57h-2.6zM898.5 112.5h4.9v2.57h-4.9zM900.8 114.8h7.2v2.57h-7.2zM835.9 117.2h2.6v2.57h-2.6zM877.6 124.1h9.5v2.57h-9.5zM914.7 124.1h2.6v2.57h-2.6zM949.5 124.1h2.6v2.57h-2.6zM940.3 126.4h9.5v2.57h-9.5zM979.7 126.4h4.9v2.57h-4.9zM940.3 128.8h7.2v2.57h-7.2zM1026.1 128.8h2.6v2.57h-2.6zM940.3 131.1h7.2v2.57h-7.2zM989.0 131.1h2.6v2.57h-2.6zM1023.8 131.1h4.9v2.57h-4.9zM1023.8 133.4h2.6v2.57h-2.6zM833.5 135.7h7.2v2.57h-7.2zM1012.2 135.7h2.6v2.57h-2.6zM1023.8 135.7h2.6v2.57h-2.6zM831.2 138.0h4.9v2.57h-4.9zM1012.2 138.0h2.6v2.57h-2.6zM831.2 140.4h2.6v2.57h-2.6zM845.1 140.4h2.6v2.57h-2.6zM870.7 140.4h11.8v2.57h-11.8zM1012.2 140.4h7.2v2.57h-7.2zM831.2 142.7h4.9v2.57h-4.9zM842.8 142.7h4.9v2.57h-4.9zM870.7 142.7h2.6v2.57h-2.6zM879.9 142.7h2.6v2.57h-2.6zM1033.1 142.7h2.6v2.57h-2.6zM831.2 145.0h4.9v2.57h-4.9zM840.5 145.0h7.2v2.57h-7.2zM870.7 145.0h2.6v2.57h-2.6zM879.9 145.0h2.6v2.57h-2.6zM928.7 145.0h7.2v2.57h-7.2zM1033.1 145.0h2.6v2.57h-2.6zM831.2 147.3h2.6v2.57h-2.6zM838.2 147.3h7.2v2.57h-7.2zM870.7 147.3h2.6v2.57h-2.6zM879.9 147.3h2.6v2.57h-2.6zM928.7 147.3h7.2v2.57h-7.2zM831.2 149.6h2.6v2.57h-2.6zM870.7 149.6h2.6v2.57h-2.6zM877.6 149.6h4.9v2.57h-4.9zM928.7 149.6h9.5v2.57h-9.5zM828.9 152.0h4.9v2.57h-4.9zM870.7 152.0h9.5v2.57h-9.5zM928.7 152.0h9.5v2.57h-9.5zM970.4 152.0h2.6v2.57h-2.6zM817.3 154.3h16.5v2.57h-16.5zM868.3 154.3h2.6v2.57h-2.6zM873.0 154.3h2.6v2.57h-2.6zM928.7 154.3h11.8v2.57h-11.8zM965.8 154.3h2.6v2.57h-2.6zM970.4 154.3h7.2v2.57h-7.2zM817.3 156.6h14.2v2.57h-14.2zM900.8 156.6h4.9v2.57h-4.9zM931.0 156.6h9.5v2.57h-9.5zM965.8 156.6h11.8v2.57h-11.8zM998.3 156.6h4.9v2.57h-4.9zM821.9 158.9h2.6v2.57h-2.6zM826.6 158.9h4.9v2.57h-4.9zM903.1 158.9h4.9v2.57h-4.9zM968.1 158.9h9.5v2.57h-9.5zM995.9 158.9h7.2v2.57h-7.2zM1019.1 158.9h2.6v2.57h-2.6zM903.1 161.2h7.2v2.57h-7.2zM935.6 161.2h2.6v2.57h-2.6zM970.4 161.2h9.5v2.57h-9.5zM995.9 161.2h7.2v2.57h-7.2zM1012.2 161.2h14.2v2.57h-14.2zM835.9 163.6h9.5v2.57h-9.5zM903.1 163.6h7.2v2.57h-7.2zM933.3 163.6h4.9v2.57h-4.9zM942.6 163.6h7.2v2.57h-7.2zM972.7 163.6h7.2v2.57h-7.2zM993.6 163.6h9.5v2.57h-9.5zM1012.2 163.6h7.2v2.57h-7.2zM835.9 165.9h4.9v2.57h-4.9zM845.1 165.9h2.6v2.57h-2.6zM903.1 165.9h7.2v2.57h-7.2zM935.6 165.9h2.6v2.57h-2.6zM940.3 165.9h2.6v2.57h-2.6zM947.2 165.9h4.9v2.57h-4.9zM977.4 165.9h9.5v2.57h-9.5zM989.0 165.9h9.5v2.57h-9.5zM1005.2 165.9h14.2v2.57h-14.2zM1056.3 165.9h2.6v2.57h-2.6zM838.2 168.2h4.9v2.57h-4.9zM859.1 168.2h2.6v2.57h-2.6zM947.2 168.2h4.9v2.57h-4.9zM979.7 168.2h14.2v2.57h-14.2zM1005.2 168.2h4.9v2.57h-4.9zM1012.2 168.2h4.9v2.57h-4.9zM1035.4 168.2h4.9v2.57h-4.9zM840.5 170.5h7.2v2.57h-7.2zM856.7 170.5h14.2v2.57h-14.2zM982.0 170.5h4.9v2.57h-4.9zM989.0 170.5h4.9v2.57h-4.9zM1005.2 170.5h2.6v2.57h-2.6zM1014.5 170.5h2.6v2.57h-2.6zM1035.4 170.5h7.2v2.57h-7.2zM815.0 172.8h4.9v2.57h-4.9zM849.8 172.8h23.4v2.57h-23.4zM877.6 172.8h2.6v2.57h-2.6zM961.1 172.8h9.5v2.57h-9.5zM982.0 172.8h4.9v2.57h-4.9zM989.0 172.8h2.6v2.57h-2.6zM1005.2 172.8h2.6v2.57h-2.6zM1014.5 172.8h2.6v2.57h-2.6zM847.5 175.2h9.5v2.57h-9.5zM866.0 175.2h7.2v2.57h-7.2zM877.6 175.2h2.6v2.57h-2.6zM982.0 175.2h4.9v2.57h-4.9zM989.0 175.2h2.6v2.57h-2.6zM1005.2 175.2h9.5v2.57h-9.5zM847.5 177.5h9.5v2.57h-9.5zM984.3 177.5h7.2v2.57h-7.2zM828.9 179.8h4.9v2.57h-4.9zM982.0 179.8h9.5v2.57h-9.5zM828.9 182.1h2.6v2.57h-2.6zM833.5 182.1h2.6v2.57h-2.6zM849.8 182.1h2.6v2.57h-2.6zM982.0 182.1h2.6v2.57h-2.6zM826.6 184.4h2.6v2.57h-2.6zM835.9 184.4h2.6v2.57h-2.6zM847.5 184.4h4.9v2.57h-4.9zM826.6 186.8h2.6v2.57h-2.6zM833.5 186.8h4.9v2.57h-4.9zM847.5 186.8h4.9v2.57h-4.9zM803.4 189.1h11.8v2.57h-11.8zM826.6 189.1h9.5v2.57h-9.5zM845.1 189.1h9.5v2.57h-9.5zM803.4 191.4h2.6v2.57h-2.6zM817.3 191.4h4.9v2.57h-4.9zM824.3 191.4h4.9v2.57h-4.9zM847.5 191.4h9.5v2.57h-9.5zM1035.4 191.4h2.6v2.57h-2.6zM821.9 193.7h2.6v2.57h-2.6zM847.5 193.7h9.5v2.57h-9.5zM1033.1 193.7h4.9v2.57h-4.9zM819.6 196.0h4.9v2.57h-4.9zM1033.1 196.0h4.9v2.57h-4.9zM805.7 198.4h2.6v2.57h-2.6zM815.0 198.4h7.2v2.57h-7.2zM1033.1 198.4h4.9v2.57h-4.9zM803.4 200.7h2.6v2.57h-2.6zM810.3 200.7h4.9v2.57h-4.9zM1033.1 200.7h2.6v2.57h-2.6zM810.3 203.0h2.6v2.57h-2.6zM805.7 205.3h7.2v2.57h-7.2zM805.7 207.6h7.2v2.57h-7.2zM1035.4 207.6h2.6v2.57h-2.6zM805.7 210.0h7.2v2.57h-7.2zM1007.5 210.0h2.6v2.57h-2.6zM1033.1 210.0h7.2v2.57h-7.2zM805.7 212.3h9.5v2.57h-9.5zM1002.9 212.3h9.5v2.57h-9.5zM1035.4 212.3h4.9v2.57h-4.9zM805.7 214.6h9.5v2.57h-9.5zM1002.9 214.6h9.5v2.57h-9.5zM808.0 216.9h9.5v2.57h-9.5zM1005.2 216.9h7.2v2.57h-7.2zM1044.7 216.9h2.6v2.57h-2.6zM808.0 219.2h4.9v2.57h-4.9zM815.0 219.2h2.6v2.57h-2.6zM1007.5 219.2h7.2v2.57h-7.2zM1044.7 219.2h2.6v2.57h-2.6zM812.7 221.6h2.6v2.57h-2.6zM1044.7 221.6h2.6v2.57h-2.6zM808.0 223.9h2.6v2.57h-2.6zM812.7 223.9h2.6v2.57h-2.6zM819.6 223.9h2.6v2.57h-2.6zM808.0 226.2h2.6v2.57h-2.6zM812.7 226.2h9.5v2.57h-9.5zM815.0 228.5h9.5v2.57h-9.5zM810.3 230.8h2.6v2.57h-2.6zM815.0 230.8h2.6v2.57h-2.6zM810.3 233.2h7.2v2.57h-7.2zM810.3 235.5h4.9v2.57h-4.9zM1040.0 237.8h4.9v2.57h-4.9zM1040.0 240.1h7.2v2.57h-7.2zM815.0 242.4h2.6v2.57h-2.6zM1014.5 242.4h2.6v2.57h-2.6zM1023.8 242.4h4.9v2.57h-4.9zM1040.0 242.4h7.2v2.57h-7.2zM812.7 244.8h9.5v2.57h-9.5zM1023.8 244.8h7.2v2.57h-7.2zM1042.3 244.8h4.9v2.57h-4.9zM812.7 247.1h2.6v2.57h-2.6zM821.9 247.1h2.6v2.57h-2.6zM1014.5 247.1h2.6v2.57h-2.6zM1028.4 247.1h2.6v2.57h-2.6zM1044.7 247.1h2.6v2.57h-2.6zM821.9 249.4h2.6v2.57h-2.6zM1028.4 249.4h2.6v2.57h-2.6zM1044.7 249.4h9.5v2.57h-9.5zM821.9 251.7h2.6v2.57h-2.6zM1028.4 251.7h2.6v2.57h-2.6zM1047.0 251.7h9.5v2.57h-9.5zM812.7 254.0h2.6v2.57h-2.6zM819.6 254.0h2.6v2.57h-2.6zM1028.4 254.0h2.6v2.57h-2.6zM1047.0 254.0h4.9v2.57h-4.9zM1053.9 254.0h4.9v2.57h-4.9zM1028.4 256.4h2.6v2.57h-2.6zM1044.7 256.4h4.9v2.57h-4.9zM812.7 258.7h7.2v2.57h-7.2zM831.2 258.7h4.9v2.57h-4.9zM1047.0 258.7h2.6v2.57h-2.6zM812.7 261.0h4.9v2.57h-4.9zM831.2 261.0h4.9v2.57h-4.9zM1026.1 261.0h2.6v2.57h-2.6zM1044.7 261.0h7.2v2.57h-7.2zM812.7 263.3h2.6v2.57h-2.6zM1023.8 263.3h4.9v2.57h-4.9zM1047.0 263.3h2.6v2.57h-2.6zM812.7 265.6h2.6v2.57h-2.6zM1023.8 265.6h4.9v2.57h-4.9zM1042.3 265.6h4.9v2.57h-4.9zM1023.8 268.0h4.9v2.57h-4.9zM1042.3 268.0h4.9v2.57h-4.9zM1023.8 270.3h4.9v2.57h-4.9zM1042.3 270.3h4.9v2.57h-4.9zM1023.8 272.6h4.9v2.57h-4.9zM1042.3 272.6h2.6v2.57h-2.6zM1047.0 272.6h4.9v2.57h-4.9zM821.9 274.9h2.6v2.57h-2.6zM1023.8 274.9h2.6v2.57h-2.6zM1042.3 274.9h11.8v2.57h-11.8zM819.6 277.2h7.2v2.57h-7.2zM835.9 277.2h9.5v2.57h-9.5zM1044.7 277.2h4.9v2.57h-4.9zM1051.6 277.2h2.6v2.57h-2.6zM824.3 279.6h4.9v2.57h-4.9zM835.9 279.6h9.5v2.57h-9.5zM826.6 281.9h2.6v2.57h-2.6zM842.8 281.9h2.6v2.57h-2.6zM826.6 284.2h2.6v2.57h-2.6zM1012.2 284.2h2.6v2.57h-2.6zM826.6 286.5h2.6v2.57h-2.6zM1014.5 286.5h2.6v2.57h-2.6zM1037.7 293.5h2.6v2.57h-2.6zM1037.7 295.8h2.6v2.57h-2.6zM1007.5 298.1h2.6v2.57h-2.6zM1023.8 298.1h2.6v2.57h-2.6zM1037.7 298.1h2.6v2.57h-2.6zM1007.5 300.4h9.5v2.57h-9.5zM1019.1 300.4h7.2v2.57h-7.2zM1033.1 300.4h2.6v2.57h-2.6zM1037.7 300.4h2.6v2.57h-2.6zM1014.5 302.8h9.5v2.57h-9.5zM1030.7 302.8h7.2v2.57h-7.2zM1014.5 305.1h7.2v2.57h-7.2zM1028.4 305.1h7.2v2.57h-7.2zM1007.5 307.4h7.2v2.57h-7.2zM944.9 309.7h2.6v2.57h-2.6zM947.2 312.0h7.2v2.57h-7.2zM859.1 326.0h7.2v2.57h-7.2zM861.4 328.3h4.9v2.57h-4.9zM933.3 328.3h2.6v2.57h-2.6zM861.4 330.6h4.9v2.57h-4.9zM933.3 330.6h2.6v2.57h-2.6zM931.0 332.9h4.9v2.57h-4.9zM928.7 335.2h4.9v2.57h-4.9zM856.7 342.2h2.6v2.57h-2.6zM921.7 342.2h2.6v2.57h-2.6zM854.4 344.5h9.5v2.57h-9.5zM877.6 344.5h4.9v2.57h-4.9zM924.0 344.5h2.6v2.57h-2.6zM852.1 346.8h4.9v2.57h-4.9zM861.4 346.8h4.9v2.57h-4.9zM919.4 346.8h7.2v2.57h-7.2zM854.4 349.2h2.6v2.57h-2.6zM863.7 349.2h2.6v2.57h-2.6zM919.4 349.2h2.6v2.57h-2.6zM926.3 349.2h2.6v2.57h-2.6zM854.4 351.5h2.6v2.57h-2.6zM861.4 351.5h4.9v2.57h-4.9zM919.4 351.5h4.9v2.57h-4.9zM928.7 351.5h2.6v2.57h-2.6zM968.1 351.5h4.9v2.57h-4.9zM861.4 353.8h7.2v2.57h-7.2zM921.7 353.8h2.6v2.57h-2.6zM931.0 353.8h2.6v2.57h-2.6zM968.1 353.8h7.2v2.57h-7.2zM921.7 356.1h2.6v2.57h-2.6zM931.0 356.1h2.6v2.57h-2.6zM968.1 356.1h4.9v2.57h-4.9zM931.0 358.4h4.9v2.57h-4.9zM968.1 358.4h2.6v2.57h-2.6zM931.0 360.8h2.6v2.57h-2.6zM956.5 363.1h2.6v2.57h-2.6zM954.2 365.4h7.2v2.57h-7.2zM1035.4 386.3h2.6v2.57h-2.6z"/>
<path fill="#fa9656" d="M900.8 110.2h2.6v2.57h-2.6zM903.1 112.5h2.6v2.57h-2.6zM989.0 126.4h2.6v2.57h-2.6zM1021.5 131.1h2.6v2.57h-2.6zM835.9 138.0h4.9v2.57h-4.9zM1014.5 138.0h9.5v2.57h-9.5zM833.5 140.4h4.9v2.57h-4.9zM842.8 140.4h2.6v2.57h-2.6zM835.9 142.7h2.6v2.57h-2.6zM840.5 142.7h2.6v2.57h-2.6zM873.0 142.7h7.2v2.57h-7.2zM838.2 145.0h2.6v2.57h-2.6zM873.0 145.0h7.2v2.57h-7.2zM873.0 147.3h7.2v2.57h-7.2zM873.0 149.6h4.9v2.57h-4.9zM1021.5 158.9h2.6v2.57h-2.6zM937.9 163.6h4.9v2.57h-4.9zM840.5 165.9h4.9v2.57h-4.9zM942.6 165.9h4.9v2.57h-4.9zM842.8 168.2h4.9v2.57h-4.9zM1009.9 168.2h2.6v2.57h-2.6zM986.7 170.5h2.6v2.57h-2.6zM1007.5 170.5h7.2v2.57h-7.2zM986.7 172.8h2.6v2.57h-2.6zM1007.5 172.8h7.2v2.57h-7.2zM986.7 175.2h2.6v2.57h-2.6zM831.2 182.1h2.6v2.57h-2.6zM828.9 184.4h7.2v2.57h-7.2zM828.9 186.8h4.9v2.57h-4.9zM805.7 191.4h11.8v2.57h-11.8zM805.7 193.7h4.9v2.57h-4.9zM815.0 193.7h7.2v2.57h-7.2zM805.7 196.0h14.2v2.57h-14.2zM808.0 198.4h7.2v2.57h-7.2zM805.7 200.7h4.9v2.57h-4.9zM805.7 203.0h4.9v2.57h-4.9zM812.7 219.2h2.6v2.57h-2.6zM810.3 221.6h2.6v2.57h-2.6zM810.3 223.9h2.6v2.57h-2.6zM810.3 226.2h2.6v2.57h-2.6zM810.3 228.5h4.9v2.57h-4.9zM812.7 230.8h2.6v2.57h-2.6zM815.0 247.1h7.2v2.57h-7.2zM1026.1 247.1h2.6v2.57h-2.6zM815.0 249.4h7.2v2.57h-7.2zM1026.1 249.4h2.6v2.57h-2.6zM815.0 251.7h7.2v2.57h-7.2zM1026.1 251.7h2.6v2.57h-2.6zM815.0 254.0h4.9v2.57h-4.9zM1051.6 254.0h2.6v2.57h-2.6zM812.7 256.4h7.2v2.57h-7.2zM1049.3 256.4h7.2v2.57h-7.2zM1023.8 258.7h4.9v2.57h-4.9zM1049.3 258.7h4.9v2.57h-4.9zM1023.8 261.0h2.6v2.57h-2.6zM1044.7 272.6h2.6v2.57h-2.6zM821.9 279.6h2.6v2.57h-2.6zM824.3 281.9h2.6v2.57h-2.6zM824.3 284.2h2.6v2.57h-2.6zM1035.4 300.4h2.6v2.57h-2.6zM1007.5 302.8h7.2v2.57h-7.2zM1005.2 305.1h9.5v2.57h-9.5zM1005.2 307.4h2.6v2.57h-2.6zM859.1 328.3h2.6v2.57h-2.6zM859.1 330.6h2.6v2.57h-2.6zM919.4 342.2h2.6v2.57h-2.6zM919.4 344.5h4.9v2.57h-4.9zM849.8 349.2h4.9v2.57h-4.9zM866.0 349.2h2.6v2.57h-2.6zM921.7 349.2h4.9v2.57h-4.9zM852.1 351.5h2.6v2.57h-2.6zM866.0 351.5h2.6v2.57h-2.6zM924.0 351.5h4.9v2.57h-4.9zM928.7 353.8h2.6v2.57h-2.6zM928.7 356.1h2.6v2.57h-2.6zM921.7 358.4h9.5v2.57h-9.5zM921.7 360.8h9.5v2.57h-9.5z"/>
<path fill="#f88c51" d="M989.0 128.8h2.6v2.57h-2.6zM1019.1 131.1h2.6v2.57h-2.6zM1014.5 133.4h2.6v2.57h-2.6zM1014.5 135.7h2.6v2.57h-2.6zM1019.1 135.7h2.6v2.57h-2.6zM810.3 193.7h4.9v2.57h-4.9zM1023.8 256.4h2.6v2.57h-2.6zM903.1 316.7h2.6v2.57h-2.6zM924.0 353.8h4.9v2.57h-4.9zM924.0 356.1h4.9v2.57h-4.9z"/>
<path fill="#f7844e" d="M991.3 126.4h2.6v2.57h-2.6zM1016.8 131.1h2.6v2.57h-2.6zM991.3 133.4h2.6v2.57h-2.6zM1016.8 133.4h2.6v2.57h-2.6zM1021.5 133.4h2.6v2.57h-2.6zM1016.8 135.7h2.6v2.57h-2.6zM1021.5 135.7h2.6v2.57h-2.6z"/>
<path fill="#f67a49" d="M991.3 128.8h2.6v2.57h-2.6zM991.3 131.1h2.6v2.57h-2.6zM1019.1 133.4h2.6v2.57h-2.6zM1012.2 349.2h2.6v2.57h-2.6z"/>
<path fill="#f47044" d="M1009.9 351.5h2.6v2.57h-2.6zM1007.5 353.8h2.6v2.57h-2.6z"/>
<path fill="#eb6046" d="M1037.7 126.4h2.6v2.57h-2.6z"/>
<path fill="#e3534a" d="M784.8 80.0h2.6v2.57h-2.6z"/></g>
<g fill="#000" fill-opacity="0.74"><polygon points="858.0,95.7 848.8,95.7 849.8,93.3 838.8,96.8 849.8,100.2 848.8,97.8 858.0,97.8"/><polygon points="890.8,119.5 879.0,124.5 879.0,122.0 870.2,129.5 881.7,128.3 879.9,126.6 891.7,121.5"/><polygon points="869.8,125.7 855.8,131.8 855.7,129.2 847.0,136.8 858.5,135.6 856.6,133.8 870.7,127.8"/><polygon points="909.4,133.2 897.6,134.5 898.3,132.1 887.8,136.8 899.1,138.9 897.8,136.7 909.6,135.3"/><polygon points="894.0,135.3 880.8,141.7 880.7,139.1 872.2,147.0 883.7,145.3 881.7,143.6 895.0,137.2"/><polygon points="914.9,147.9 903.2,148.7 904.0,146.3 893.2,150.5 904.5,153.2 903.3,150.9 915.1,150.1"/><polygon points="894.0,143.3 886.7,147.0 886.5,144.4 878.2,152.5 889.6,150.6 887.7,149.0 895.0,145.2"/><polygon points="902.4,155.4 893.0,158.2 893.4,155.6 883.8,162.0 895.3,162.3 893.7,160.3 903.1,157.6"/><polygon points="901.2,161.0 890.2,164.6 890.4,162.0 881.0,168.8 892.5,168.6 890.8,166.7 901.8,163.0"/><polygon points="884.5,161.0 874.5,166.0 874.3,163.5 866.0,171.5 877.4,169.7 875.4,168.0 885.5,163.0"/><polygon points="873.6,165.1 862.4,173.2 861.9,170.7 855.0,180.0 865.9,176.3 863.7,175.0 874.9,166.9"/><polygon points="865.2,172.0 856.0,181.9 855.0,179.6 850.0,190.0 860.0,184.3 857.6,183.4 866.8,173.5"/><polygon points="859.2,179.3 846.8,194.1 845.6,191.8 841.2,202.5 850.9,196.3 848.5,195.5 860.8,180.7"/><polygon points="854.4,184.3 839.2,202.0 838.1,199.7 833.5,210.2 843.3,204.2 840.9,203.4 856.1,185.7"/><polygon points="889.2,180.1 877.3,187.7 876.9,185.2 869.5,194.0 880.6,191.0 878.5,189.5 890.3,181.9"/><polygon points="824.0,143.0 814.4,152.8 813.4,150.5 808.2,160.8 818.4,155.3 816.0,154.3 825.5,144.5"/><polygon points="846.3,144.2 838.8,150.6 838.1,148.2 832.0,158.0 842.6,153.4 840.3,152.3 847.7,145.8"/><polygon points="845.6,150.9 835.8,158.8 835.1,156.4 828.8,166.0 839.5,161.7 837.2,160.5 846.9,152.6"/><polygon points="821.6,151.8 814.9,160.8 813.6,158.6 809.8,169.5 819.1,162.8 816.6,162.2 823.4,153.2"/><polygon points="825.9,155.9 818.8,165.5 817.5,163.3 813.8,174.2 823.0,167.4 820.5,166.8 827.6,157.1"/><polygon points="819.6,169.6 812.9,179.6 811.5,177.4 808.2,188.5 817.2,181.3 814.7,180.8 821.4,170.9"/><polygon points="835.4,170.8 827.6,181.1 826.4,178.9 822.5,189.8 831.9,183.0 829.4,182.4 837.1,172.2"/><polygon points="838.1,184.4 830.9,196.4 829.4,194.3 826.8,205.5 835.4,197.8 832.8,197.5 839.9,185.6"/><polygon points="816.8,188.8 811.7,198.8 810.1,196.9 808.2,208.2 816.3,200.0 813.7,199.8 818.7,189.7"/><polygon points="816.2,201.7 812.3,213.4 810.4,211.7 810.2,223.2 817.0,213.9 814.4,214.1 818.3,202.3"/><polygon points="823.7,214.0 820.6,226.0 818.6,224.5 819.2,236.0 825.3,226.2 822.8,226.6 825.8,214.5"/><polygon points="803.2,215.6 800.9,228.0 798.8,226.6 800.2,238.0 805.6,227.8 803.1,228.4 805.3,215.9"/><polygon points="812.7,227.4 811.5,242.4 809.2,241.3 811.8,252.5 816.1,241.8 813.6,242.6 814.8,227.6"/><polygon points="815.2,229.9 814.1,241.2 811.8,240.0 814.2,251.2 818.7,240.6 816.3,241.4 817.3,230.1"/><polygon points="823.2,246.3 823.6,258.8 821.2,257.9 825.0,268.8 828.1,257.6 825.8,258.7 825.3,246.2"/><polygon points="806.4,256.4 808.9,270.4 806.4,269.8 811.8,280.0 813.2,268.6 811.1,270.0 808.6,256.1"/><polygon points="814.4,257.7 816.6,271.5 814.1,270.9 819.2,281.2 820.9,269.8 818.8,271.2 816.6,257.3"/><polygon points="826.5,270.4 831.3,283.5 828.7,283.4 835.8,292.5 835.2,281.0 833.3,282.7 828.5,269.6"/><polygon points="824.2,143.7 815.2,152.3 814.3,149.9 808.8,160.0 819.1,154.9 816.7,153.9 825.8,145.3"/><polygon points="970.2,83.9 960.0,82.0 961.4,79.9 950.0,81.2 960.2,86.7 959.6,84.2 969.8,86.1"/><polygon points="953.8,82.7 946.3,82.4 947.3,80.1 936.2,83.2 947.1,87.0 946.2,84.6 953.7,84.8"/><polygon points="924.9,90.9 913.6,91.8 914.4,89.4 903.8,93.8 915.0,96.3 913.8,94.0 925.1,93.1"/><polygon points="930.1,95.9 915.0,95.0 916.2,92.7 905.0,95.5 915.8,99.6 914.9,97.2 929.9,98.1"/><polygon points="953.2,95.2 943.7,95.5 944.6,93.1 933.8,97.0 944.9,100.0 943.8,97.7 953.3,97.3"/><polygon points="1031.8,94.0 1021.0,88.1 1023.0,86.5 1011.8,84.2 1019.7,92.6 1020.0,90.0 1030.7,96.0"/><polygon points="952.2,128.9 937.0,125.6 938.5,123.5 927.0,124.5 937.0,130.2 936.5,127.7 951.8,131.1"/><polygon points="1091.0,167.1 1086.6,156.3 1089.1,156.4 1081.8,147.5 1082.8,159.0 1084.5,157.2 1089.0,167.9"/><polygon points="994.5,160.5 979.3,146.1 981.6,145.0 971.2,140.0 976.9,150.1 977.8,147.7 993.0,162.0"/><polygon points="1000.8,159.2 986.4,144.0 988.8,143.1 978.8,137.5 983.8,147.9 984.8,145.5 999.2,160.8"/><polygon points="1009.5,160.4 993.2,145.8 995.5,144.8 985.0,140.0 990.9,149.9 991.7,147.5 1008.0,162.1"/><polygon points="1018.2,160.4 1004.7,149.3 1006.9,148.1 996.2,143.8 1002.5,153.4 1003.3,151.0 1016.8,162.1"/><polygon points="1029.7,161.9 1022.7,151.5 1025.2,151.0 1016.2,143.8 1019.5,154.8 1020.9,152.7 1027.8,163.1"/><polygon points="1038.4,164.3 1031.3,155.4 1033.8,154.7 1024.2,148.2 1028.4,159.0 1029.6,156.8 1036.6,165.7"/><polygon points="1015.6,141.6 1010.3,138.2 1012.4,136.7 1001.2,133.8 1008.7,142.6 1009.1,140.0 1014.4,143.4"/><polygon points="994.6,178.0 987.1,169.9 989.5,169.0 979.5,163.2 984.4,173.7 985.5,171.4 992.9,179.5"/><polygon points="971.8,160.3 956.9,152.4 958.8,150.8 947.5,148.8 955.6,156.9 955.8,154.4 970.7,162.2"/><polygon points="972.5,159.5 958.1,151.9 960.1,150.3 948.8,148.2 956.9,156.4 957.1,153.9 971.5,161.5"/><polygon points="954.1,154.0 942.3,149.8 944.0,147.9 932.5,147.5 941.7,154.4 941.6,151.9 953.4,156.0"/><polygon points="937.7,141.4 927.6,139.9 928.9,137.7 917.5,139.5 927.9,144.5 927.2,142.1 937.3,143.6"/><polygon points="926.4,136.4 912.5,134.2 913.9,132.1 902.5,133.8 912.8,138.9 912.2,136.4 926.1,138.6"/><polygon points="937.6,155.2 925.1,153.8 926.3,151.5 915.0,153.8 925.6,158.4 924.8,155.9 937.4,157.3"/><polygon points="933.8,160.9 920.1,159.7 921.3,157.5 910.0,160.0 920.7,164.4 919.9,161.9 933.7,163.1"/><polygon points="922.7,163.9 910.0,161.8 911.4,159.7 900.0,161.2 910.3,166.5 909.7,164.0 922.3,166.1"/><polygon points="1005.3,217.8 1002.5,205.0 1005.0,205.5 999.2,195.5 998.3,207.0 1000.3,205.5 1003.2,218.2"/><polygon points="1021.1,229.8 1018.4,214.6 1020.8,215.2 1015.5,205.0 1014.1,216.4 1016.2,215.0 1018.9,230.2"/><polygon points="1018.0,209.6 1013.9,198.9 1016.4,199.0 1009.2,190.0 1010.0,201.5 1011.8,199.7 1016.0,210.4"/><polygon points="1051.6,251.2 1050.7,239.9 1053.1,240.7 1048.8,230.0 1046.2,241.2 1048.5,240.1 1049.4,251.3"/><polygon points="1050.6,237.3 1048.8,228.3 1051.3,228.9 1045.8,218.8 1044.5,230.2 1046.6,228.8 1048.4,237.7"/><polygon points="1034.8,247.4 1033.5,235.6 1035.9,236.3 1031.2,225.8 1029.1,237.1 1031.3,235.8 1032.7,247.6"/><polygon points="1009.1,261.4 1010.9,248.8 1013.1,250.1 1011.2,238.8 1006.3,249.1 1008.7,248.5 1006.9,261.1"/><polygon points="1033.6,264.0 1036.7,247.5 1038.8,249.0 1037.5,237.5 1032.1,247.7 1034.5,247.1 1031.4,263.5"/><polygon points="1039.8,276.5 1043.8,260.0 1045.8,261.5 1045.0,250.0 1039.1,259.9 1041.6,259.5 1037.7,276.0"/><polygon points="1043.6,274.0 1046.3,262.5 1048.3,264.0 1047.5,252.5 1041.6,262.4 1044.1,262.0 1041.4,273.5"/><polygon points="1046.0,290.3 1051.6,273.6 1053.5,275.3 1053.8,263.8 1047.0,273.1 1049.5,272.9 1044.0,289.7"/><polygon points="1013.5,296.8 1021.3,281.9 1022.9,283.8 1025.0,272.5 1016.8,280.6 1019.4,280.8 1011.5,295.7"/><polygon points="1023.5,290.3 1026.8,279.9 1028.8,281.5 1028.8,270.0 1022.2,279.5 1024.7,279.2 1021.5,289.7"/><polygon points="1043.5,301.8 1049.2,291.3 1050.8,293.3 1053.0,282.0 1044.7,290.0 1047.2,290.3 1041.5,300.7"/><polygon points="1094.1,258.8 1095.1,237.5 1097.4,238.7 1094.5,227.5 1090.5,238.3 1092.9,237.4 1091.9,258.7"/><polygon points="1103.6,272.2 1105.6,260.5 1107.8,261.9 1106.2,250.5 1101.0,260.7 1103.4,260.2 1101.4,271.8"/><polygon points="724.7,338.9 725.8,348.9 723.3,348.2 728.0,358.8 730.2,347.4 728.0,348.7 726.8,338.6"/><polygon points="879.4,320.4 889.1,326.3 887.0,327.8 898.2,330.5 890.6,321.9 890.3,324.4 880.6,318.6"/><polygon points="949.1,304.0 961.8,299.1 961.7,301.7 970.8,294.5 959.2,295.2 961.0,297.1 948.4,302.0"/><polygon points="897.6,367.3 910.6,366.4 909.8,368.8 920.5,364.5 909.3,361.9 910.4,364.2 897.4,365.2"/><polygon points="892.4,375.6 903.2,376.9 901.9,379.1 913.2,377.0 902.7,372.3 903.5,374.7 892.6,373.4"/><polygon points="884.8,381.1 895.7,383.1 894.3,385.2 905.8,383.8 895.5,378.4 896.1,380.9 885.2,378.9"/><polygon points="873.5,403.6 880.5,405.1 879.0,407.2 890.5,406.2 880.5,400.5 881.0,403.0 874.0,401.4"/><polygon points="1018.3,335.0 1028.3,324.9 1029.2,327.3 1034.5,317.0 1024.3,322.4 1026.7,323.4 1016.7,333.5"/><polygon points="1028.4,320.6 1032.0,315.7 1033.3,317.9 1037.0,307.0 1027.7,313.8 1030.2,314.4 1026.6,319.4"/><polygon points="1028.4,310.6 1034.0,301.6 1035.4,303.7 1038.2,292.5 1029.6,300.1 1032.1,300.4 1026.6,309.4"/><polygon points="1021.8,379.0 1030.0,374.5 1030.2,377.0 1038.2,368.8 1026.9,371.0 1028.9,372.6 1020.7,377.0"/></g>
</g>
<rect x="701.3" y="17.4" width="464.0" height="464.0" fill="none" stroke="#000" stroke-width="1.1"/>
<path d="M701.3 481.4v5M817.3 481.4v5M933.3 481.4v5M1049.3 481.4v5M1165.3 481.4v5M701.3 481.4h-5M701.3 423.4h-5M701.3 365.4h-5M701.3 307.4h-5M701.3 249.4h-5M701.3 191.4h-5M701.3 133.4h-5M701.3 75.4h-5M701.3 17.4h-5" stroke="#000" stroke-width="1.1" fill="none"/>
<text x="700.8" y="507.8" text-anchor="middle"><tspan style="font-size:27.5px" dy="2.6">−</tspan><tspan dy="-2.6" dx="0.6">10</tspan></text>
<text x="816.8" y="507.8" text-anchor="middle"><tspan style="font-size:27.5px" dy="2.6">−</tspan><tspan dy="-2.6" dx="0.6">5</tspan></text>
<text x="933.0" y="505.6" text-anchor="middle">0</text>
<text x="1049.0" y="505.6" text-anchor="middle">5</text>
<text x="1165.0" y="505.6" text-anchor="middle">10</text>
<text class="t" x="690.3" y="491.0" text-anchor="end"><tspan style="font-size:27.5px" dy="2.6">−</tspan><tspan dy="-2.6" dx="0.6">10.0</tspan></text>
<text class="t" x="690.3" y="433.0" text-anchor="end"><tspan style="font-size:27.5px" dy="2.6">−</tspan><tspan dy="-2.6" dx="0.6">7.5</tspan></text>
<text class="t" x="690.3" y="375.0" text-anchor="end"><tspan style="font-size:27.5px" dy="2.6">−</tspan><tspan dy="-2.6" dx="0.6">5.0</tspan></text>
<text class="t" x="690.3" y="317.0" text-anchor="end"><tspan style="font-size:27.5px" dy="2.6">−</tspan><tspan dy="-2.6" dx="0.6">2.5</tspan></text>
<text class="t" x="690.3" y="256.6" text-anchor="end">0.0</text>
<text class="t" x="690.3" y="198.6" text-anchor="end">2.5</text>
<text class="t" x="690.3" y="140.6" text-anchor="end">5.0</text>
<text class="t" x="690.3" y="82.6" text-anchor="end">7.5</text>
<text class="t" x="690.3" y="24.6" text-anchor="end">10.0</text>
<text x="932.1" y="532.4" text-anchor="middle" style="letter-spacing:0.9px">x (kpc)</text>
<text transform="translate(623.7 250.2) rotate(-90)" text-anchor="middle" style="letter-spacing:0.9px">y (kpc)</text>
</g>
<g id="panel2">
<g clip-path="url(#c2)">
<g filter="url(#soft)"><path fill="#6bc4a5" d="M163.9 854.1h2.6v2.57h-2.6zM163.9 856.4h2.6v2.57h-2.6z"/>
<path fill="#9fd8a4" d="M147.7 735.8h2.6v2.57h-2.6z"/>
<path fill="#eff9a6" d="M407.5 967.8h4.9v2.57h-4.9z"/>
<path fill="#f3faac" d="M407.5 965.5h2.6v2.57h-2.6z"/>
<path fill="#fafdb7" d="M268.3 956.2h4.9v2.57h-4.9zM273.0 958.5h2.6v2.57h-2.6z"/>
<path fill="#fefebd" d="M131.4 884.3h2.6v2.57h-2.6zM133.8 886.6h4.9v2.57h-4.9zM131.4 888.9h2.6v2.57h-2.6zM136.1 888.9h7.2v2.57h-7.2zM266.0 953.9h9.5v2.57h-9.5zM273.0 956.2h2.6v2.57h-2.6zM270.6 958.5h2.6v2.57h-2.6z"/>
<path fill="#fffcba" d="M129.1 886.6h4.9v2.57h-4.9zM138.4 886.6h9.5v2.57h-9.5zM143.0 888.9h7.2v2.57h-7.2zM147.7 891.2h2.6v2.57h-2.6z"/>
<path fill="#fff7b2" d="M145.4 891.2h2.6v2.57h-2.6z"/>
<path fill="#fff2aa" d="M351.8 615.2h2.6v2.57h-2.6zM502.6 826.3h2.6v2.57h-2.6zM502.6 828.6h2.6v2.57h-2.6zM502.6 830.9h2.6v2.57h-2.6zM502.6 833.2h2.6v2.57h-2.6zM182.5 886.6h2.6v2.57h-2.6zM444.6 926.0h2.6v2.57h-2.6zM449.3 928.4h2.6v2.57h-2.6zM442.3 933.0h2.6v2.57h-2.6z"/>
<path fill="#feeda1" d="M477.1 763.6h2.6v2.57h-2.6zM477.1 766.0h2.6v2.57h-2.6zM479.4 770.6h2.6v2.57h-2.6zM505.0 835.6h2.6v2.57h-2.6zM182.5 884.3h2.6v2.57h-2.6zM180.2 888.9h4.9v2.57h-4.9zM442.3 923.7h2.6v2.57h-2.6zM447.0 923.7h2.6v2.57h-2.6zM447.0 926.0h2.6v2.57h-2.6zM442.3 928.4h7.2v2.57h-7.2zM440.0 930.7h11.8v2.57h-11.8zM440.0 933.0h2.6v2.57h-2.6zM444.6 933.0h4.9v2.57h-4.9zM444.6 951.6h2.6v2.57h-2.6z"/>
<path fill="#feea9b" d="M407.5 601.2h4.9v2.57h-4.9zM407.5 603.6h4.9v2.57h-4.9zM279.9 610.5h2.6v2.57h-2.6zM279.9 612.8h2.6v2.57h-2.6zM273.0 615.2h2.6v2.57h-2.6zM277.6 647.6h2.6v2.57h-2.6zM140.7 733.5h2.6v2.57h-2.6zM184.8 777.6h2.6v2.57h-2.6zM184.8 782.2h2.6v2.57h-2.6zM154.6 812.4h2.6v2.57h-2.6zM502.6 824.0h2.6v2.57h-2.6zM505.0 826.3h2.6v2.57h-2.6zM505.0 833.2h2.6v2.57h-2.6zM180.2 882.0h4.9v2.57h-4.9zM180.2 884.3h2.6v2.57h-2.6zM180.2 886.6h2.6v2.57h-2.6zM198.7 893.6h2.6v2.57h-2.6zM447.0 919.1h2.6v2.57h-2.6zM442.3 921.4h7.2v2.57h-7.2zM296.2 923.7h2.6v2.57h-2.6zM444.6 923.7h2.6v2.57h-2.6zM442.3 926.0h2.6v2.57h-2.6zM440.0 928.4h2.6v2.57h-2.6zM440.0 935.3h9.5v2.57h-9.5zM442.3 937.6h2.6v2.57h-2.6zM442.3 946.9h2.6v2.57h-2.6zM442.3 949.2h4.9v2.57h-4.9z"/>
<path fill="#fee593" d="M275.3 610.5h4.9v2.57h-4.9zM282.2 610.5h2.6v2.57h-2.6zM275.3 612.8h4.9v2.57h-4.9zM282.2 612.8h2.6v2.57h-2.6zM275.3 615.2h7.2v2.57h-7.2zM136.1 733.5h4.9v2.57h-4.9zM474.8 798.4h4.9v2.57h-4.9zM477.1 800.8h2.6v2.57h-2.6zM486.4 807.7h4.9v2.57h-4.9zM143.0 810.0h7.2v2.57h-7.2zM145.4 812.4h4.9v2.57h-4.9zM152.3 812.4h2.6v2.57h-2.6zM145.4 814.7h4.9v2.57h-4.9zM152.3 814.7h4.9v2.57h-4.9zM152.3 817.0h2.6v2.57h-2.6zM502.6 819.3h2.6v2.57h-2.6zM502.6 821.6h4.9v2.57h-4.9zM505.0 824.0h2.6v2.57h-2.6zM117.5 828.6h2.6v2.57h-2.6zM507.3 835.6h2.6v2.57h-2.6zM507.3 837.9h2.6v2.57h-2.6zM511.9 840.2h2.6v2.57h-2.6zM516.6 842.5h2.6v2.57h-2.6zM198.7 891.2h2.6v2.57h-2.6zM442.3 919.1h4.9v2.57h-4.9zM293.8 921.4h2.6v2.57h-2.6zM440.0 937.6h2.6v2.57h-2.6zM444.6 937.6h4.9v2.57h-4.9zM440.0 940.0h4.9v2.57h-4.9zM447.0 940.0h2.6v2.57h-2.6zM440.0 942.3h2.6v2.57h-2.6zM447.0 942.3h2.6v2.57h-2.6zM440.0 944.6h2.6v2.57h-2.6zM444.6 946.9h4.9v2.57h-4.9z"/>
<path fill="#fee08b" d="M275.3 605.9h2.6v2.57h-2.6zM275.3 608.2h9.5v2.57h-9.5zM219.6 712.6h2.6v2.57h-2.6zM219.6 714.9h2.6v2.57h-2.6zM217.3 717.2h2.6v2.57h-2.6zM479.4 800.8h2.6v2.57h-2.6zM479.4 803.1h2.6v2.57h-2.6zM479.4 805.4h2.6v2.57h-2.6zM484.1 805.4h2.6v2.57h-2.6zM484.1 807.7h2.6v2.57h-2.6zM491.0 807.7h2.6v2.57h-2.6zM511.9 807.7h2.6v2.57h-2.6zM493.4 810.0h4.9v2.57h-4.9zM514.2 810.0h4.9v2.57h-4.9zM518.9 812.4h2.6v2.57h-2.6zM150.0 817.0h2.6v2.57h-2.6zM154.6 817.0h2.6v2.57h-2.6zM502.6 817.0h2.6v2.57h-2.6zM518.9 826.3h2.6v2.57h-2.6zM523.5 826.3h2.6v2.57h-2.6zM115.2 828.6h2.6v2.57h-2.6zM518.9 828.6h2.6v2.57h-2.6zM523.5 828.6h2.6v2.57h-2.6zM521.2 830.9h4.9v2.57h-4.9zM509.6 835.6h2.6v2.57h-2.6zM509.6 837.9h4.9v2.57h-4.9zM509.6 840.2h2.6v2.57h-2.6zM514.2 840.2h2.6v2.57h-2.6zM518.9 842.5h2.6v2.57h-2.6zM521.2 844.8h2.6v2.57h-2.6zM219.6 891.2h7.2v2.57h-7.2zM217.3 893.6h2.6v2.57h-2.6zM442.3 916.8h4.9v2.57h-4.9zM298.5 923.7h2.6v2.57h-2.6zM444.6 940.0h2.6v2.57h-2.6zM442.3 942.3h4.9v2.57h-4.9zM442.3 944.6h7.2v2.57h-7.2zM423.8 981.7h2.6v2.57h-2.6zM426.1 984.0h2.6v2.57h-2.6z"/>
<path fill="#fed884" d="M277.6 603.6h2.6v2.57h-2.6zM273.0 605.9h2.6v2.57h-2.6zM277.6 605.9h2.6v2.57h-2.6zM263.7 629.1h2.6v2.57h-2.6zM268.3 631.4h2.6v2.57h-2.6zM433.0 645.3h2.6v2.57h-2.6zM433.0 650.0h2.6v2.57h-2.6zM221.9 712.6h7.2v2.57h-7.2zM221.9 714.9h7.2v2.57h-7.2zM219.6 717.2h2.6v2.57h-2.6zM152.3 784.5h2.6v2.57h-2.6zM152.3 786.8h4.9v2.57h-4.9zM152.3 789.2h4.9v2.57h-4.9zM152.3 791.5h2.6v2.57h-2.6zM481.8 803.1h2.6v2.57h-2.6zM481.8 805.4h2.6v2.57h-2.6zM509.6 807.7h2.6v2.57h-2.6zM498.0 810.0h2.6v2.57h-2.6zM511.9 810.0h2.6v2.57h-2.6zM150.0 812.4h2.6v2.57h-2.6zM498.0 812.4h2.6v2.57h-2.6zM150.0 814.7h2.6v2.57h-2.6zM500.3 814.7h4.9v2.57h-4.9zM514.2 819.3h2.6v2.57h-2.6zM516.6 821.6h2.6v2.57h-2.6zM514.2 824.0h7.2v2.57h-7.2zM514.2 826.3h4.9v2.57h-4.9zM521.2 826.3h2.6v2.57h-2.6zM516.6 828.6h2.6v2.57h-2.6zM521.2 828.6h2.6v2.57h-2.6zM523.5 833.2h2.6v2.57h-2.6zM523.5 835.6h2.6v2.57h-2.6zM523.5 837.9h2.6v2.57h-2.6zM521.2 840.2h4.9v2.57h-4.9zM521.2 842.5h4.9v2.57h-4.9zM217.3 891.2h2.6v2.57h-2.6zM224.2 893.6h11.8v2.57h-11.8zM228.9 895.9h7.2v2.57h-7.2zM233.5 898.2h2.6v2.57h-2.6zM238.2 912.1h2.6v2.57h-2.6zM238.2 916.8h2.6v2.57h-2.6zM215.0 919.1h2.6v2.57h-2.6zM212.6 921.4h2.6v2.57h-2.6zM291.5 921.4h2.6v2.57h-2.6zM296.2 921.4h2.6v2.57h-2.6zM298.5 926.0h2.6v2.57h-2.6zM205.7 930.7h2.6v2.57h-2.6zM240.5 946.9h2.6v2.57h-2.6zM426.1 979.4h4.9v2.57h-4.9zM426.1 981.7h4.9v2.57h-4.9zM428.4 984.0h4.9v2.57h-4.9z"/>
<path fill="#fed07e" d="M273.0 603.6h4.9v2.57h-4.9zM279.9 605.9h2.6v2.57h-2.6zM398.2 612.8h2.6v2.57h-2.6zM263.7 631.4h4.9v2.57h-4.9zM328.6 638.4h2.6v2.57h-2.6zM326.3 640.7h7.2v2.57h-7.2zM430.7 643.0h2.6v2.57h-2.6zM433.0 647.6h2.6v2.57h-2.6zM433.0 652.3h2.6v2.57h-2.6zM514.2 728.8h2.6v2.57h-2.6zM509.6 731.2h2.6v2.57h-2.6zM509.6 733.5h4.9v2.57h-4.9zM505.0 738.1h2.6v2.57h-2.6zM205.7 796.1h2.6v2.57h-2.6zM205.7 798.4h4.9v2.57h-4.9zM208.0 800.8h4.9v2.57h-4.9zM208.0 803.1h4.9v2.57h-4.9zM486.4 805.4h4.9v2.57h-4.9zM493.4 805.4h2.6v2.57h-2.6zM493.4 807.7h4.9v2.57h-4.9zM500.3 812.4h2.6v2.57h-2.6zM509.6 819.3h4.9v2.57h-4.9zM511.9 821.6h4.9v2.57h-4.9zM112.9 828.6h2.6v2.57h-2.6zM525.8 833.2h2.6v2.57h-2.6zM525.8 835.6h2.6v2.57h-2.6zM521.2 837.9h2.6v2.57h-2.6zM525.8 837.9h2.6v2.57h-2.6zM240.5 877.3h2.6v2.57h-2.6zM235.8 893.6h2.6v2.57h-2.6zM235.8 895.9h2.6v2.57h-2.6zM235.8 898.2h2.6v2.57h-2.6zM447.0 902.8h2.6v2.57h-2.6zM444.6 905.2h2.6v2.57h-2.6zM444.6 907.5h2.6v2.57h-2.6zM233.5 914.4h7.2v2.57h-7.2zM235.8 916.8h2.6v2.57h-2.6zM215.0 921.4h4.9v2.57h-4.9zM298.5 921.4h2.6v2.57h-2.6zM212.6 923.7h2.6v2.57h-2.6zM205.7 926.0h4.9v2.57h-4.9zM212.6 926.0h2.6v2.57h-2.6zM203.4 928.4h7.2v2.57h-7.2zM235.8 946.9h4.9v2.57h-4.9zM233.5 949.2h11.8v2.57h-11.8zM233.5 951.6h4.9v2.57h-4.9zM231.2 953.9h2.6v2.57h-2.6zM235.8 953.9h2.6v2.57h-2.6zM242.8 953.9h2.6v2.57h-2.6zM235.8 956.2h9.5v2.57h-9.5zM224.2 958.5h2.6v2.57h-2.6zM238.2 958.5h2.6v2.57h-2.6zM344.9 972.4h2.6v2.57h-2.6zM430.7 979.4h7.2v2.57h-7.2zM430.7 981.7h4.9v2.57h-4.9z"/>
<path fill="#fec877" d="M398.2 615.2h2.6v2.57h-2.6zM324.0 636.0h9.5v2.57h-9.5zM326.3 638.4h2.6v2.57h-2.6zM331.0 638.4h2.6v2.57h-2.6zM428.4 643.0h2.6v2.57h-2.6zM430.7 645.3h2.6v2.57h-2.6zM361.1 647.6h2.6v2.57h-2.6zM430.7 647.6h2.6v2.57h-2.6zM428.4 650.0h4.9v2.57h-4.9zM495.7 728.8h18.8v2.57h-18.8zM505.0 731.2h4.9v2.57h-4.9zM511.9 731.2h4.9v2.57h-4.9zM500.3 733.5h9.5v2.57h-9.5zM500.3 735.8h7.2v2.57h-7.2zM507.3 738.1h2.6v2.57h-2.6zM507.3 740.4h2.6v2.57h-2.6zM203.4 796.1h2.6v2.57h-2.6zM208.0 796.1h2.6v2.57h-2.6zM210.3 798.4h2.6v2.57h-2.6zM491.0 805.4h2.6v2.57h-2.6zM495.7 805.4h2.6v2.57h-2.6zM150.0 810.0h2.6v2.57h-2.6zM511.9 817.0h2.6v2.57h-2.6zM433.0 840.2h2.6v2.57h-2.6zM238.2 875.0h2.6v2.57h-2.6zM238.2 877.3h2.6v2.57h-2.6zM447.0 900.5h2.6v2.57h-2.6zM444.6 902.8h2.6v2.57h-2.6zM444.6 909.8h2.6v2.57h-2.6zM231.2 914.4h2.6v2.57h-2.6zM444.6 914.4h2.6v2.57h-2.6zM231.2 916.8h4.9v2.57h-4.9zM312.4 916.8h4.9v2.57h-4.9zM375.0 916.8h2.6v2.57h-2.6zM219.6 919.1h4.9v2.57h-4.9zM291.5 919.1h4.9v2.57h-4.9zM300.8 919.1h4.9v2.57h-4.9zM307.8 919.1h7.2v2.57h-7.2zM372.7 919.1h2.6v2.57h-2.6zM219.6 921.4h2.6v2.57h-2.6zM300.8 921.4h2.6v2.57h-2.6zM305.4 921.4h2.6v2.57h-2.6zM215.0 923.7h4.9v2.57h-4.9zM293.8 923.7h2.6v2.57h-2.6zM300.8 923.7h2.6v2.57h-2.6zM210.3 926.0h2.6v2.57h-2.6zM215.0 926.0h2.6v2.57h-2.6zM296.2 926.0h2.6v2.57h-2.6zM300.8 926.0h2.6v2.57h-2.6zM210.3 928.4h7.2v2.57h-7.2zM231.2 946.9h4.9v2.57h-4.9zM231.2 949.2h2.6v2.57h-2.6zM231.2 951.6h2.6v2.57h-2.6zM238.2 951.6h9.5v2.57h-9.5zM233.5 953.9h2.6v2.57h-2.6zM238.2 953.9h4.9v2.57h-4.9zM245.1 953.9h2.6v2.57h-2.6zM224.2 956.2h4.9v2.57h-4.9zM231.2 956.2h4.9v2.57h-4.9zM226.6 958.5h4.9v2.57h-4.9zM235.8 958.5h2.6v2.57h-2.6z"/>
<path fill="#fdc372" d="M398.2 617.5h2.6v2.57h-2.6zM282.2 640.7h2.6v2.57h-2.6zM282.2 643.0h2.6v2.57h-2.6zM279.9 645.3h2.6v2.57h-2.6zM428.4 645.3h2.6v2.57h-2.6zM363.4 647.6h4.9v2.57h-4.9zM428.4 647.6h2.6v2.57h-2.6zM495.7 731.2h9.5v2.57h-9.5zM495.7 733.5h4.9v2.57h-4.9zM498.0 735.8h2.6v2.57h-2.6zM495.7 738.1h2.6v2.57h-2.6zM500.3 738.1h4.9v2.57h-4.9zM203.4 793.8h7.2v2.57h-7.2zM210.3 796.1h4.9v2.57h-4.9zM212.6 798.4h2.6v2.57h-2.6zM433.0 842.5h2.6v2.57h-2.6zM235.8 875.0h2.6v2.57h-2.6zM215.0 893.6h2.6v2.57h-2.6zM447.0 898.2h2.6v2.57h-2.6zM444.6 912.1h2.6v2.57h-2.6zM317.0 916.8h2.6v2.57h-2.6zM231.2 919.1h2.6v2.57h-2.6zM289.2 919.1h2.6v2.57h-2.6zM296.2 919.1h4.9v2.57h-4.9zM305.4 919.1h2.6v2.57h-2.6zM368.1 919.1h4.9v2.57h-4.9zM375.0 919.1h2.6v2.57h-2.6zM221.9 921.4h2.6v2.57h-2.6zM289.2 921.4h2.6v2.57h-2.6zM303.1 921.4h2.6v2.57h-2.6zM307.8 921.4h4.9v2.57h-4.9zM303.1 923.7h2.6v2.57h-2.6zM279.9 926.0h2.6v2.57h-2.6zM291.5 926.0h4.9v2.57h-4.9zM194.1 928.4h4.9v2.57h-4.9zM291.5 928.4h9.5v2.57h-9.5zM282.2 937.6h2.6v2.57h-2.6zM242.8 942.3h4.9v2.57h-4.9zM335.6 942.3h2.6v2.57h-2.6zM335.6 944.6h2.6v2.57h-2.6zM228.9 946.9h2.6v2.57h-2.6zM337.9 946.9h4.9v2.57h-4.9zM226.6 949.2h4.9v2.57h-4.9zM337.9 949.2h4.9v2.57h-4.9zM221.9 951.6h9.5v2.57h-9.5zM221.9 953.9h9.5v2.57h-9.5zM228.9 956.2h2.6v2.57h-2.6zM231.2 958.5h4.9v2.57h-4.9zM233.5 960.8h4.9v2.57h-4.9z"/>
<path fill="#fdbb6c" d="M340.2 626.8h2.6v2.57h-2.6zM337.9 629.1h2.6v2.57h-2.6zM259.0 640.7h4.9v2.57h-4.9zM284.6 640.7h2.6v2.57h-2.6zM256.7 643.0h2.6v2.57h-2.6zM284.6 643.0h2.6v2.57h-2.6zM282.2 645.3h4.9v2.57h-4.9zM282.2 647.6h2.6v2.57h-2.6zM249.8 650.0h4.9v2.57h-4.9zM368.1 650.0h2.6v2.57h-2.6zM437.7 682.4h4.9v2.57h-4.9zM282.2 691.7h2.6v2.57h-2.6zM426.1 698.7h2.6v2.57h-2.6zM426.1 701.0h2.6v2.57h-2.6zM233.5 721.9h4.9v2.57h-4.9zM231.2 724.2h7.2v2.57h-7.2zM231.2 726.5h2.6v2.57h-2.6zM235.8 726.5h2.6v2.57h-2.6zM474.8 735.8h2.6v2.57h-2.6zM495.7 735.8h2.6v2.57h-2.6zM498.0 738.1h2.6v2.57h-2.6zM495.7 740.4h7.2v2.57h-7.2zM484.1 768.3h2.6v2.57h-2.6zM481.8 770.6h4.9v2.57h-4.9zM481.8 772.9h2.6v2.57h-2.6zM493.4 772.9h2.6v2.57h-2.6zM150.0 807.7h2.6v2.57h-2.6zM235.8 812.4h2.6v2.57h-2.6zM451.6 891.2h2.6v2.57h-2.6zM210.3 893.6h2.6v2.57h-2.6zM451.6 893.6h2.6v2.57h-2.6zM293.8 916.8h7.2v2.57h-7.2zM284.6 919.1h4.9v2.57h-4.9zM365.8 919.1h2.6v2.57h-2.6zM284.6 921.4h4.9v2.57h-4.9zM354.2 921.4h4.9v2.57h-4.9zM363.4 921.4h4.9v2.57h-4.9zM282.2 923.7h11.8v2.57h-11.8zM305.4 923.7h2.6v2.57h-2.6zM351.8 923.7h2.6v2.57h-2.6zM356.5 923.7h2.6v2.57h-2.6zM194.1 926.0h4.9v2.57h-4.9zM282.2 926.0h9.5v2.57h-9.5zM349.5 926.0h2.6v2.57h-2.6zM349.5 928.4h2.6v2.57h-2.6zM289.2 933.0h2.6v2.57h-2.6zM286.9 935.3h2.6v2.57h-2.6zM342.6 935.3h2.6v2.57h-2.6zM284.6 937.6h2.6v2.57h-2.6zM335.6 940.0h7.2v2.57h-7.2zM240.5 942.3h2.6v2.57h-2.6zM247.4 942.3h4.9v2.57h-4.9zM337.9 942.3h4.9v2.57h-4.9zM337.9 944.6h4.9v2.57h-4.9zM335.6 946.9h2.6v2.57h-2.6zM333.3 949.2h4.9v2.57h-4.9z"/>
<path fill="#fdb365" d="M282.2 605.9h2.6v2.57h-2.6zM259.0 638.4h4.9v2.57h-4.9zM252.1 640.7h7.2v2.57h-7.2zM247.4 643.0h2.6v2.57h-2.6zM254.4 643.0h2.6v2.57h-2.6zM249.8 645.3h2.6v2.57h-2.6zM247.4 647.6h7.2v2.57h-7.2zM368.1 647.6h2.6v2.57h-2.6zM245.1 650.0h4.9v2.57h-4.9zM335.6 677.8h7.2v2.57h-7.2zM337.9 680.1h4.9v2.57h-4.9zM279.9 691.7h2.6v2.57h-2.6zM238.2 721.9h2.6v2.57h-2.6zM238.2 724.2h2.6v2.57h-2.6zM233.5 726.5h2.6v2.57h-2.6zM238.2 726.5h2.6v2.57h-2.6zM235.8 728.8h2.6v2.57h-2.6zM516.6 731.2h4.9v2.57h-4.9zM477.1 735.8h2.6v2.57h-2.6zM491.0 772.9h2.6v2.57h-2.6zM491.0 775.2h4.9v2.57h-4.9zM491.0 777.6h2.6v2.57h-2.6zM495.7 777.6h2.6v2.57h-2.6zM491.0 779.9h4.9v2.57h-4.9zM491.0 782.2h2.6v2.57h-2.6zM495.7 789.2h4.9v2.57h-4.9zM495.7 791.5h2.6v2.57h-2.6zM210.3 793.8h2.6v2.57h-2.6zM449.3 868.0h2.6v2.57h-2.6zM449.3 870.4h2.6v2.57h-2.6zM447.0 872.7h7.2v2.57h-7.2zM447.0 875.0h4.9v2.57h-4.9zM449.3 877.3h2.6v2.57h-2.6zM449.3 884.3h2.6v2.57h-2.6zM449.3 886.6h4.9v2.57h-4.9zM449.3 888.9h4.9v2.57h-4.9zM449.3 891.2h2.6v2.57h-2.6zM212.6 893.6h2.6v2.57h-2.6zM449.3 893.6h2.6v2.57h-2.6zM319.4 914.4h2.6v2.57h-2.6zM363.4 919.1h2.6v2.57h-2.6zM358.8 921.4h4.9v2.57h-4.9zM354.2 923.7h2.6v2.57h-2.6zM351.8 926.0h2.6v2.57h-2.6zM344.9 928.4h4.9v2.57h-4.9zM293.8 930.7h4.9v2.57h-4.9zM342.6 930.7h4.9v2.57h-4.9zM340.2 933.0h4.9v2.57h-4.9zM337.9 935.3h4.9v2.57h-4.9zM337.9 937.6h4.9v2.57h-4.9zM273.0 940.0h2.6v2.57h-2.6zM328.6 951.6h2.6v2.57h-2.6z"/>
<path fill="#fcaa5f" d="M279.9 603.6h2.6v2.57h-2.6zM249.8 643.0h4.9v2.57h-4.9zM245.1 645.3h4.9v2.57h-4.9zM240.5 647.6h7.2v2.57h-7.2zM240.5 650.0h4.9v2.57h-4.9zM238.2 652.3h2.6v2.57h-2.6zM235.8 654.6h2.6v2.57h-2.6zM240.5 666.2h2.6v2.57h-2.6zM335.6 680.1h2.6v2.57h-2.6zM273.0 689.4h4.9v2.57h-4.9zM493.4 777.6h2.6v2.57h-2.6zM495.7 779.9h2.6v2.57h-2.6zM493.4 782.2h4.9v2.57h-4.9zM493.4 784.5h4.9v2.57h-4.9zM493.4 786.8h4.9v2.57h-4.9zM493.4 789.2h2.6v2.57h-2.6zM150.0 805.4h2.6v2.57h-2.6zM449.3 879.6h2.6v2.57h-2.6zM449.3 882.0h4.9v2.57h-4.9zM451.6 884.3h2.6v2.57h-2.6zM268.3 940.0h4.9v2.57h-4.9zM252.1 942.3h4.9v2.57h-4.9zM266.0 942.3h2.6v2.57h-2.6z"/>
<path fill="#fba05b" d="M240.5 652.3h2.6v2.57h-2.6zM238.2 654.6h7.2v2.57h-7.2zM235.8 656.9h7.2v2.57h-7.2zM238.2 659.2h4.9v2.57h-4.9zM238.2 661.6h4.9v2.57h-4.9zM238.2 663.9h4.9v2.57h-4.9zM235.8 666.2h4.9v2.57h-4.9zM273.0 691.7h2.6v2.57h-2.6zM535.1 735.8h4.9v2.57h-4.9zM535.1 738.1h2.6v2.57h-2.6zM233.5 777.6h4.9v2.57h-4.9zM451.6 879.6h2.6v2.57h-2.6zM259.0 888.9h2.6v2.57h-2.6zM259.0 891.2h2.6v2.57h-2.6zM256.7 893.6h4.9v2.57h-4.9zM259.0 895.9h2.6v2.57h-2.6zM256.7 942.3h2.6v2.57h-2.6z"/>
<path fill="#fa9656" d="M235.8 663.9h2.6v2.57h-2.6zM535.1 733.5h4.9v2.57h-4.9zM537.4 738.1h2.6v2.57h-2.6zM228.9 777.6h4.9v2.57h-4.9zM231.2 779.9h4.9v2.57h-4.9zM472.5 810.0h2.6v2.57h-2.6zM112.9 830.9h2.6v2.57h-2.6zM430.7 872.7h2.6v2.57h-2.6zM256.7 888.9h2.6v2.57h-2.6zM256.7 891.2h2.6v2.57h-2.6z"/>
<path fill="#f88c51" d="M284.6 605.9h2.6v2.57h-2.6zM228.9 779.9h2.6v2.57h-2.6zM228.9 782.2h7.2v2.57h-7.2zM182.5 810.0h2.6v2.57h-2.6zM470.2 810.0h2.6v2.57h-2.6zM182.5 812.4h2.6v2.57h-2.6zM435.4 870.4h2.6v2.57h-2.6zM428.4 872.7h2.6v2.57h-2.6zM317.0 902.8h2.6v2.57h-2.6zM319.4 907.5h2.6v2.57h-2.6z"/>
<path fill="#f7844e" d="M282.2 603.6h4.9v2.57h-4.9zM228.9 784.5h4.9v2.57h-4.9zM182.5 807.7h2.6v2.57h-2.6zM437.7 870.4h4.9v2.57h-4.9zM435.4 872.7h2.6v2.57h-2.6zM440.0 872.7h4.9v2.57h-4.9zM435.4 875.0h4.9v2.57h-4.9zM317.0 898.2h2.6v2.57h-2.6zM317.0 900.5h2.6v2.57h-2.6zM314.7 902.8h2.6v2.57h-2.6zM314.7 905.2h4.9v2.57h-4.9z"/>
<path fill="#f67a49" d="M203.4 735.8h2.6v2.57h-2.6zM203.4 738.1h2.6v2.57h-2.6zM437.7 872.7h2.6v2.57h-2.6zM440.0 875.0h2.6v2.57h-2.6z"/>
<path fill="#e3534a" d="M326.3 689.4h2.6v2.57h-2.6zM328.6 691.7h2.6v2.57h-2.6z"/></g>
<g fill="#000" fill-opacity="0.74"><polygon points="278.0,607.4 266.2,607.4 267.2,605.0 256.2,608.5 267.2,612.0 266.2,609.6 278.0,609.6"/><polygon points="278.5,607.9 267.0,607.8 268.0,605.4 257.0,608.8 268.0,612.3 267.0,610.0 278.5,610.1"/><polygon points="278.6,617.4 270.9,618.7 271.5,616.2 261.2,621.5 272.7,623.0 271.3,620.9 278.9,619.6"/><polygon points="259.7,640.5 249.2,643.9 249.4,641.3 240.0,648.0 251.5,647.9 249.9,646.0 260.3,642.5"/><polygon points="252.0,646.3 241.0,651.8 240.8,649.2 232.5,657.2 243.9,655.4 241.9,653.8 253.0,648.2"/><polygon points="244.6,650.5 229.2,657.2 229.2,654.7 220.5,662.2 232.0,661.0 230.1,659.2 245.4,652.5"/><polygon points="238.3,660.0 224.7,666.8 224.5,664.2 216.2,672.2 227.6,670.4 225.7,668.8 239.2,662.0"/><polygon points="238.8,660.5 225.5,667.1 225.3,664.5 217.0,672.5 228.4,670.7 226.5,669.1 239.7,662.5"/><polygon points="239.4,665.1 226.4,673.8 226.0,671.3 218.8,680.2 229.8,677.0 227.7,675.6 240.6,666.9"/><polygon points="334.3,634.9 321.8,634.6 322.8,632.3 311.8,635.5 322.7,639.2 321.7,636.8 334.2,637.1"/><polygon points="369.9,651.2 358.2,651.8 359.0,649.4 348.2,653.5 359.4,656.3 358.3,654.0 370.1,653.3"/><polygon points="234.6,726.6 227.8,737.0 226.4,734.9 223.2,746.0 232.2,738.7 229.6,738.2 236.4,727.9"/><polygon points="185.7,778.4 184.8,788.4 182.5,787.2 185.0,798.5 189.4,787.8 187.0,788.6 187.8,778.6"/><polygon points="228.9,778.9 227.3,795.9 225.1,794.7 227.5,806.0 231.9,795.4 229.5,796.1 231.1,779.1"/><polygon points="229.2,779.4 227.6,795.4 225.4,794.2 227.8,805.5 232.2,794.9 229.8,795.7 231.3,779.6"/><polygon points="208.4,801.7 210.2,811.4 207.7,810.8 213.0,821.0 214.5,809.6 212.3,811.0 210.6,801.3"/><polygon points="210.2,812.4 211.8,822.6 209.3,821.9 214.5,832.2 216.1,820.8 214.0,822.2 212.3,812.1"/><polygon points="237.7,815.1 241.4,825.7 238.9,825.5 245.8,834.8 245.4,823.2 243.5,824.9 239.8,814.4"/><polygon points="151.4,815.5 151.8,826.8 149.4,825.9 153.2,836.8 156.3,825.6 154.0,826.7 153.6,815.5"/><polygon points="152.7,816.2 154.3,826.3 151.8,825.7 157.0,836.0 158.6,824.6 156.5,826.0 154.8,815.8"/><polygon points="156.4,820.1 159.3,829.7 156.8,829.4 163.2,839.0 163.4,827.5 161.4,829.1 158.6,819.4"/><polygon points="400.3,616.2 391.6,613.6 393.3,611.6 381.8,611.8 391.3,618.2 391.0,615.7 399.7,618.3"/><polygon points="428.6,645.8 420.0,640.8 422.0,639.3 410.8,636.8 418.5,645.3 418.8,642.7 427.4,647.7"/><polygon points="479.1,736.9 475.6,725.3 478.2,725.6 471.8,716.0 471.5,727.5 473.5,725.9 476.9,737.6"/><polygon points="496.8,736.5 493.7,725.3 496.3,725.7 490.0,716.0 489.6,727.5 491.6,725.9 494.7,737.0"/><polygon points="495.6,731.9 493.4,724.8 496.0,725.1 489.5,715.5 489.3,727.0 491.3,725.4 493.4,732.6"/><polygon points="508.6,735.8 505.2,719.8 507.7,720.3 502.0,710.2 500.9,721.7 503.0,720.3 506.4,736.2"/><polygon points="509.1,735.3 505.8,720.5 508.3,721.0 502.5,711.0 501.5,722.5 503.6,721.0 506.9,735.7"/><polygon points="518.6,733.2 514.3,718.6 516.9,718.9 510.5,709.2 510.2,720.8 512.2,719.2 516.4,733.8"/><polygon points="539.3,737.2 538.9,723.0 541.3,723.9 537.5,713.0 534.4,724.1 536.7,723.0 537.2,737.3"/><polygon points="481.6,772.4 482.6,762.3 484.8,763.5 482.5,752.2 478.0,762.9 480.4,762.1 479.4,772.1"/><polygon points="492.3,779.7 491.2,765.9 493.6,766.7 489.2,756.0 486.7,767.3 489.0,766.1 490.2,779.8"/><polygon points="498.6,786.1 499.8,772.3 502.0,773.5 499.5,762.2 495.1,772.9 497.6,772.1 496.4,785.9"/><polygon points="496.8,807.1 495.9,798.3 498.3,799.1 493.8,788.5 491.5,799.8 493.7,798.6 494.7,807.4"/><polygon points="506.6,815.0 509.8,802.2 511.9,803.8 511.2,792.2 505.2,802.1 507.7,801.7 504.4,814.5"/><polygon points="514.1,821.1 516.2,801.6 518.5,802.8 516.2,791.5 511.6,802.1 514.1,801.3 511.9,820.9"/><polygon points="514.6,820.6 516.5,802.3 518.8,803.6 516.5,792.2 511.9,802.8 514.4,802.1 512.4,820.4"/><polygon points="522.3,841.4 526.3,830.7 528.1,832.5 528.8,821.0 521.7,830.1 524.2,830.0 520.2,840.6"/><polygon points="524.8,843.9 532.3,822.1 534.2,823.8 534.5,812.2 527.7,821.5 530.2,821.3 522.7,843.1"/><polygon points="527.3,836.3 531.8,822.1 533.7,823.8 533.8,812.2 527.1,821.7 529.7,821.5 525.2,835.7"/><polygon points="474.0,841.5 477.1,835.0 478.8,836.9 480.5,825.5 472.6,833.9 475.2,834.0 472.0,840.5"/><polygon points="135.2,885.5 134.9,894.5 132.6,893.4 135.8,904.5 139.5,893.6 137.1,894.5 137.3,885.5"/><polygon points="144.0,891.6 146.5,899.1 144.0,898.9 150.8,908.2 150.5,896.7 148.6,898.4 146.0,890.9"/><polygon points="212.2,895.7 222.1,907.0 219.6,907.8 229.5,913.8 224.8,903.2 223.7,905.5 213.8,894.3"/><polygon points="230.6,918.9 239.9,925.3 237.7,926.6 248.8,930.0 241.6,920.9 241.1,923.4 231.9,917.1"/><polygon points="235.6,918.4 244.2,924.6 242.0,925.9 253.0,929.5 246.1,920.3 245.5,922.8 236.9,916.6"/><polygon points="218.1,922.9 227.7,930.3 225.4,931.5 236.2,935.5 229.6,926.0 229.0,928.5 219.4,921.1"/><polygon points="219.3,925.3 225.4,930.6 223.1,931.7 233.8,936.2 227.6,926.5 226.9,928.9 220.7,923.7"/><polygon points="218.8,923.8 226.6,930.4 224.4,931.6 235.0,936.0 228.8,926.3 228.0,928.7 220.2,922.2"/><polygon points="298.6,921.6 314.9,923.1 313.7,925.4 325.0,923.0 314.4,918.5 315.1,921.0 298.9,919.4"/><polygon points="299.9,923.6 313.7,924.8 312.5,927.0 323.8,924.5 313.1,920.1 313.9,922.6 300.1,921.4"/><polygon points="299.4,922.3 314.4,923.7 313.2,926.0 324.5,923.5 313.9,919.1 314.6,921.5 299.6,920.2"/><polygon points="296.2,928.6 314.9,930.2 313.7,932.5 325.0,930.0 314.3,925.6 315.1,928.0 296.3,926.4"/><polygon points="297.4,929.6 314.4,931.0 313.3,933.3 324.5,930.8 313.8,926.4 314.6,928.8 297.6,927.4"/><polygon points="322.0,906.1 335.5,905.8 334.6,908.2 345.5,904.5 334.4,901.3 335.5,903.6 322.0,903.9"/><polygon points="320.1,915.3 335.6,914.6 334.7,917.0 345.5,913.0 334.3,910.1 335.5,912.4 319.9,913.2"/><polygon points="273.4,941.0 284.0,945.0 282.2,946.9 293.8,947.5 284.7,940.4 284.8,943.0 274.1,939.0"/><polygon points="265.3,946.1 276.2,948.5 274.8,950.5 286.2,949.5 276.2,943.8 276.7,946.3 265.7,943.9"/><polygon points="270.4,957.3 277.4,958.1 276.2,960.3 287.5,958.0 276.9,953.4 277.7,955.9 270.6,955.2"/><polygon points="240.8,945.5 245.5,947.8 243.6,949.5 255.0,951.2 246.6,943.3 246.5,945.9 241.7,943.5"/><polygon points="234.5,949.7 240.6,952.8 238.6,954.4 250.0,956.2 241.7,948.2 241.5,950.8 235.5,947.8"/><polygon points="228.2,952.2 238.4,958.3 236.3,959.8 247.5,962.5 239.8,953.9 239.5,956.4 229.3,950.3"/><polygon points="228.9,953.4 238.8,959.3 236.8,960.8 248.0,963.5 240.3,954.9 240.0,957.4 230.1,951.6"/><polygon points="227.4,951.4 237.3,957.3 235.3,958.8 246.5,961.5 238.8,952.9 238.5,955.4 228.6,949.6"/><polygon points="224.5,956.0 235.6,961.5 233.6,963.2 245.0,965.0 236.7,957.0 236.5,959.5 225.5,954.0"/><polygon points="225.6,960.4 232.7,965.9 230.5,967.2 241.2,971.2 234.7,961.8 234.1,964.2 226.9,958.6"/><polygon points="229.4,954.7 239.6,960.8 237.5,962.3 248.8,965.0 241.1,956.4 240.7,958.9 230.6,952.8"/><polygon points="430.9,873.1 438.4,860.4 439.9,862.5 442.5,851.2 433.9,859.0 436.5,859.3 429.1,871.9"/><polygon points="443.8,872.0 452.6,862.9 453.6,865.3 458.8,855.0 448.6,860.5 451.0,861.4 442.2,870.5"/><polygon points="444.5,872.5 453.1,863.7 454.1,866.1 459.2,855.8 449.1,861.3 451.5,862.2 443.0,871.0"/><polygon points="451.7,874.3 458.1,863.0 459.6,865.0 462.0,853.8 453.6,861.6 456.1,861.9 449.8,873.2"/><polygon points="452.1,882.0 457.8,875.6 458.9,878.0 463.8,867.5 453.8,873.3 456.2,874.2 450.4,880.5"/><polygon points="452.9,886.8 458.0,879.0 459.4,881.1 462.5,870.0 453.6,877.4 456.1,877.8 451.1,885.7"/><polygon points="449.6,911.9 455.5,903.7 456.9,905.9 460.5,895.0 451.3,901.9 453.7,902.5 447.9,910.6"/><polygon points="441.9,934.6 448.9,929.4 449.5,931.9 456.2,922.5 445.4,926.3 447.6,927.6 440.6,932.9"/><polygon points="443.3,943.3 452.5,934.1 453.4,936.5 458.8,926.2 448.5,931.6 450.9,932.5 441.7,941.7"/><polygon points="446.9,937.1 450.3,934.5 451.0,936.9 457.5,927.5 446.7,931.5 449.0,932.8 445.6,935.4"/><polygon points="431.0,983.5 437.8,980.0 438.0,982.6 446.2,974.5 434.9,976.4 436.8,978.0 430.0,981.5"/><polygon points="438.0,979.7 444.4,976.7 444.5,979.3 453.0,971.5 441.6,973.0 443.5,974.7 437.0,977.8"/><polygon points="354.1,928.0 365.9,923.9 365.8,926.4 375.0,919.5 363.5,919.9 365.2,921.8 353.4,926.0"/><polygon points="362.9,924.0 375.4,919.8 375.2,922.3 384.5,915.5 373.0,915.8 374.7,917.7 362.1,922.0"/><polygon points="345.3,937.8 356.8,934.8 356.5,937.3 366.2,931.2 354.7,930.7 356.3,932.7 344.7,935.7"/><polygon points="341.4,951.1 354.7,949.4 354.0,951.8 364.5,947.0 353.1,945.0 354.4,947.2 341.1,948.9"/></g>
</g>
<rect x="103.6" y="573.4" width="464.0" height="464.0" fill="none" stroke="#000" stroke-width="1.1"/>
<path d="M103.6 1037.4v5M219.6 1037.4v5M335.6 1037.4v5M451.6 1037.4v5M567.6 1037.4v5M103.6 1037.4h-5M103.6 979.4h-5M103.6 921.4h-5M103.6 863.4h-5M103.6 805.4h-5M103.6 747.4h-5M103.6 689.4h-5M103.6 631.4h-5M103.6 573.4h-5" stroke="#000" stroke-width="1.1" fill="none"/>
<text x="103.1" y="1063.8" text-anchor="middle"><tspan style="font-size:27.5px" dy="2.6">−</tspan><tspan dy="-2.6" dx="0.6">10</tspan></text>
<text x="219.1" y="1063.8" text-anchor="middle"><tspan style="font-size:27.5px" dy="2.6">−</tspan><tspan dy="-2.6" dx="0.6">5</tspan></text>
<text x="335.3" y="1061.6" text-anchor="middle">0</text>
<text x="451.3" y="1061.6" text-anchor="middle">5</text>
<text x="567.3" y="1061.6" text-anchor="middle">10</text>
<text class="t" x="92.6" y="1047.0" text-anchor="end"><tspan style="font-size:27.5px" dy="2.6">−</tspan><tspan dy="-2.6" dx="0.6">10.0</tspan></text>
<text class="t" x="92.6" y="989.0" text-anchor="end"><tspan style="font-size:27.5px" dy="2.6">−</tspan><tspan dy="-2.6" dx="0.6">7.5</tspan></text>
<text class="t" x="92.6" y="931.0" text-anchor="end"><tspan style="font-size:27.5px" dy="2.6">−</tspan><tspan dy="-2.6" dx="0.6">5.0</tspan></text>
<text class="t" x="92.6" y="873.0" text-anchor="end"><tspan style="font-size:27.5px" dy="2.6">−</tspan><tspan dy="-2.6" dx="0.6">2.5</tspan></text>
<text class="t" x="92.6" y="812.6" text-anchor="end">0.0</text>
<text class="t" x="92.6" y="754.6" text-anchor="end">2.5</text>
<text class="t" x="92.6" y="696.6" text-anchor="end">5.0</text>
<text class="t" x="92.6" y="638.6" text-anchor="end">7.5</text>
<text class="t" x="92.6" y="580.6" text-anchor="end">10.0</text>
<text x="334.4" y="1088.4" text-anchor="middle" style="letter-spacing:0.9px">x (kpc)</text>
<text transform="translate(26.0 806.2) rotate(-90)" text-anchor="middle" style="letter-spacing:0.9px">y (kpc)</text>
</g>
<g id="panel3">
<g clip-path="url(#c3)">
<g filter="url(#soft)"><path fill="#9fd8a4" d="M1035.4 663.9h2.6v2.57h-2.6zM1033.1 666.2h7.2v2.57h-7.2zM1084.1 1032.8h2.6v2.57h-2.6z"/>
<path fill="#aadca4" d="M1081.8 1030.4h4.9v2.57h-4.9zM1081.8 1032.8h2.6v2.57h-2.6z"/>
<path fill="#b3e0a2" d="M1153.7 851.8h2.6v2.57h-2.6zM1079.5 1030.4h2.6v2.57h-2.6z"/>
<path fill="#bce4a0" d="M1156.0 851.8h2.6v2.57h-2.6zM1153.7 854.1h4.9v2.57h-4.9zM1153.7 856.4h2.6v2.57h-2.6zM1079.5 1032.8h2.6v2.57h-2.6z"/>
<path fill="#c6e89f" d="M726.8 694.0h2.6v2.57h-2.6zM1116.6 791.5h2.6v2.57h-2.6zM1156.0 856.4h2.6v2.57h-2.6zM1153.7 858.8h4.9v2.57h-4.9z"/>
<path fill="#cfec9d" d="M1118.9 793.8h2.6v2.57h-2.6zM1137.5 902.8h2.6v2.57h-2.6zM808.0 1016.5h2.6v2.57h-2.6zM968.1 1025.8h4.9v2.57h-4.9z"/>
<path fill="#d8ef9b" d="M949.5 1014.2h2.6v2.57h-2.6z"/>
<path fill="#e7f59a" d="M1016.8 622.1h2.6v2.57h-2.6zM1123.5 754.4h2.6v2.57h-2.6zM1137.5 900.5h2.6v2.57h-2.6z"/>
<path fill="#ebf7a0" d="M1016.8 624.4h2.6v2.57h-2.6zM796.4 663.9h2.6v2.57h-2.6zM794.1 666.2h2.6v2.57h-2.6zM703.6 698.7h2.6v2.57h-2.6zM1121.2 754.4h2.6v2.57h-2.6zM1121.2 759.0h2.6v2.57h-2.6zM738.4 807.7h2.6v2.57h-2.6zM738.4 810.0h4.9v2.57h-4.9zM1114.3 819.3h4.9v2.57h-4.9zM1121.2 819.3h4.9v2.57h-4.9zM1116.6 821.6h7.2v2.57h-7.2zM1125.9 821.6h2.6v2.57h-2.6zM1146.7 898.2h2.6v2.57h-2.6zM1144.4 921.4h2.6v2.57h-2.6z"/>
<path fill="#eff9a6" d="M1005.2 619.8h4.9v2.57h-4.9zM1158.3 633.7h4.9v2.57h-4.9zM796.4 661.6h2.6v2.57h-2.6zM708.3 694.0h2.6v2.57h-2.6zM703.6 696.4h2.6v2.57h-2.6zM705.9 698.7h4.9v2.57h-4.9zM1121.2 756.7h2.6v2.57h-2.6zM1121.2 761.3h2.6v2.57h-2.6zM724.5 805.4h2.6v2.57h-2.6zM736.1 805.4h2.6v2.57h-2.6zM1105.0 805.4h2.6v2.57h-2.6zM733.8 807.7h4.9v2.57h-4.9zM740.7 807.7h2.6v2.57h-2.6zM1105.0 807.7h4.9v2.57h-4.9zM1107.3 810.0h2.6v2.57h-2.6zM1107.3 812.4h2.6v2.57h-2.6zM1111.9 821.6h4.9v2.57h-4.9zM1123.5 821.6h2.6v2.57h-2.6zM1135.1 872.7h2.6v2.57h-2.6zM1144.4 898.2h2.6v2.57h-2.6zM1144.4 900.5h4.9v2.57h-4.9zM1144.4 902.8h4.9v2.57h-4.9zM1142.1 921.4h2.6v2.57h-2.6zM1142.1 923.7h4.9v2.57h-4.9zM1144.4 926.0h2.6v2.57h-2.6zM738.4 979.4h2.6v2.57h-2.6zM759.3 993.3h2.6v2.57h-2.6zM759.3 995.6h2.6v2.57h-2.6zM763.9 995.6h4.9v2.57h-4.9zM975.1 1007.2h2.6v2.57h-2.6z"/>
<path fill="#f3faac" d="M1002.9 619.8h2.6v2.57h-2.6zM1009.9 619.8h4.9v2.57h-4.9zM1005.2 622.1h4.9v2.57h-4.9zM789.5 631.4h2.6v2.57h-2.6zM1160.7 631.4h2.6v2.57h-2.6zM705.9 696.4h7.2v2.57h-7.2zM710.6 698.7h2.6v2.57h-2.6zM1086.4 782.2h2.6v2.57h-2.6zM1130.5 782.2h2.6v2.57h-2.6zM1084.1 784.5h2.6v2.57h-2.6zM1130.5 786.8h2.6v2.57h-2.6zM705.9 805.4h4.9v2.57h-4.9zM726.8 805.4h2.6v2.57h-2.6zM705.9 807.7h2.6v2.57h-2.6zM729.1 807.7h4.9v2.57h-4.9zM1105.0 810.0h2.6v2.57h-2.6zM1105.0 812.4h2.6v2.57h-2.6zM1109.6 812.4h2.6v2.57h-2.6zM1111.9 814.7h4.9v2.57h-4.9zM719.9 824.0h2.6v2.57h-2.6zM1100.3 849.5h2.6v2.57h-2.6zM1142.1 898.2h2.6v2.57h-2.6zM1142.1 900.5h2.6v2.57h-2.6zM1142.1 902.8h2.6v2.57h-2.6zM801.1 919.1h2.6v2.57h-2.6zM801.1 921.4h2.6v2.57h-2.6zM1139.8 921.4h2.6v2.57h-2.6zM1139.8 923.7h2.6v2.57h-2.6zM747.7 928.4h2.6v2.57h-2.6zM747.7 930.7h2.6v2.57h-2.6zM968.1 963.2h2.6v2.57h-2.6zM958.8 967.8h2.6v2.57h-2.6zM963.5 967.8h2.6v2.57h-2.6zM738.4 977.1h4.9v2.57h-4.9zM740.7 979.4h2.6v2.57h-2.6zM738.4 981.7h4.9v2.57h-4.9zM740.7 984.0h2.6v2.57h-2.6zM740.7 986.4h2.6v2.57h-2.6zM738.4 988.7h2.6v2.57h-2.6zM738.4 991.0h4.9v2.57h-4.9zM743.1 993.3h2.6v2.57h-2.6zM757.0 993.3h2.6v2.57h-2.6zM859.1 993.3h2.6v2.57h-2.6zM761.6 995.6h2.6v2.57h-2.6z"/>
<path fill="#f7fcb2" d="M1002.9 622.1h2.6v2.57h-2.6zM1009.9 622.1h4.9v2.57h-4.9zM1005.2 624.4h9.5v2.57h-9.5zM791.8 633.7h2.6v2.57h-2.6zM791.8 636.0h2.6v2.57h-2.6zM1074.8 640.7h2.6v2.57h-2.6zM724.5 705.6h2.6v2.57h-2.6zM1130.5 784.5h2.6v2.57h-2.6zM1065.5 800.8h4.9v2.57h-4.9zM1067.9 803.1h2.6v2.57h-2.6zM1105.0 844.8h2.6v2.57h-2.6zM1102.7 847.2h2.6v2.57h-2.6zM1139.8 900.5h2.6v2.57h-2.6zM1139.8 902.8h2.6v2.57h-2.6zM796.4 921.4h4.9v2.57h-4.9zM796.4 923.7h9.5v2.57h-9.5zM798.7 926.0h2.6v2.57h-2.6zM970.4 963.2h2.6v2.57h-2.6zM726.8 965.5h7.2v2.57h-7.2zM961.1 965.5h9.5v2.57h-9.5zM951.9 967.8h2.6v2.57h-2.6zM956.5 967.8h2.6v2.57h-2.6zM961.1 967.8h2.6v2.57h-2.6zM738.4 974.8h2.6v2.57h-2.6zM1056.3 979.4h2.6v2.57h-2.6zM738.4 984.0h2.6v2.57h-2.6zM736.1 991.0h2.6v2.57h-2.6zM856.7 993.3h2.6v2.57h-2.6zM861.4 993.3h4.9v2.57h-4.9zM856.7 995.6h2.6v2.57h-2.6z"/>
<path fill="#fafdb7" d="M1002.9 624.4h2.6v2.57h-2.6zM791.8 638.4h2.6v2.57h-2.6zM1077.1 640.7h2.6v2.57h-2.6zM715.2 684.8h2.6v2.57h-2.6zM1086.4 784.5h2.6v2.57h-2.6zM1065.5 796.1h2.6v2.57h-2.6zM1065.5 798.4h2.6v2.57h-2.6zM712.9 828.6h2.6v2.57h-2.6zM712.9 830.9h4.9v2.57h-4.9zM1139.8 898.2h2.6v2.57h-2.6zM1077.1 916.8h2.6v2.57h-2.6zM796.4 926.0h2.6v2.57h-2.6zM801.1 926.0h4.9v2.57h-4.9zM954.2 967.8h2.6v2.57h-2.6zM1056.3 981.7h2.6v2.57h-2.6zM863.7 991.0h2.6v2.57h-2.6zM873.0 991.0h2.6v2.57h-2.6zM870.7 993.3h2.6v2.57h-2.6zM854.4 995.6h2.6v2.57h-2.6zM935.6 1011.9h4.9v2.57h-4.9zM935.6 1014.2h4.9v2.57h-4.9zM933.3 1016.5h4.9v2.57h-4.9zM940.3 1016.5h2.6v2.57h-2.6z"/>
<path fill="#fefebd" d="M868.3 612.8h2.6v2.57h-2.6zM870.7 615.2h2.6v2.57h-2.6zM868.3 617.5h4.9v2.57h-4.9zM1118.9 619.8h2.6v2.57h-2.6zM1118.9 622.1h2.6v2.57h-2.6zM828.9 663.9h2.6v2.57h-2.6zM826.6 666.2h4.9v2.57h-4.9zM712.9 680.1h2.6v2.57h-2.6zM715.2 682.4h2.6v2.57h-2.6zM715.2 687.1h4.9v2.57h-4.9zM715.2 689.4h2.6v2.57h-2.6zM736.1 733.5h2.6v2.57h-2.6zM736.1 735.8h2.6v2.57h-2.6zM708.3 826.3h2.6v2.57h-2.6zM710.6 828.6h2.6v2.57h-2.6zM715.2 833.2h2.6v2.57h-2.6zM743.1 877.3h2.6v2.57h-2.6zM1137.5 898.2h2.6v2.57h-2.6zM745.4 905.2h2.6v2.57h-2.6zM745.4 907.5h2.6v2.57h-2.6zM1074.8 916.8h2.6v2.57h-2.6zM1079.5 916.8h2.6v2.57h-2.6zM866.0 993.3h4.9v2.57h-4.9zM873.0 993.3h2.6v2.57h-2.6zM1026.1 1000.3h2.6v2.57h-2.6zM931.0 1011.9h4.9v2.57h-4.9zM931.0 1014.2h4.9v2.57h-4.9zM931.0 1016.5h2.6v2.57h-2.6z"/>
<path fill="#fffcba" d="M951.9 603.6h2.6v2.57h-2.6zM873.0 615.2h2.6v2.57h-2.6zM873.0 617.5h2.6v2.57h-2.6zM1019.1 670.8h2.6v2.57h-2.6zM1019.1 673.2h2.6v2.57h-2.6zM743.1 733.5h2.6v2.57h-2.6zM743.1 738.1h2.6v2.57h-2.6zM1091.1 740.4h4.9v2.57h-4.9zM729.1 752.0h2.6v2.57h-2.6zM1139.8 800.8h2.6v2.57h-2.6zM1139.8 803.1h2.6v2.57h-2.6zM705.9 826.3h2.6v2.57h-2.6zM708.3 828.6h2.6v2.57h-2.6zM1109.6 840.2h2.6v2.57h-2.6zM763.9 858.8h2.6v2.57h-2.6zM763.9 861.1h4.9v2.57h-4.9zM743.1 872.7h2.6v2.57h-2.6zM743.1 875.0h2.6v2.57h-2.6zM1072.5 916.8h2.6v2.57h-2.6zM1026.1 998.0h2.6v2.57h-2.6z"/>
<path fill="#fff7b2" d="M984.3 585.0h4.9v2.57h-4.9zM984.3 587.3h4.9v2.57h-4.9zM944.9 603.6h7.2v2.57h-7.2zM954.2 603.6h2.6v2.57h-2.6zM947.2 605.9h9.5v2.57h-9.5zM873.0 612.8h4.9v2.57h-4.9zM875.3 615.2h2.6v2.57h-2.6zM875.3 617.5h2.6v2.57h-2.6zM886.9 654.6h2.6v2.57h-2.6zM1014.5 670.8h4.9v2.57h-4.9zM1105.0 698.7h2.6v2.57h-2.6zM743.1 735.8h2.6v2.57h-2.6zM1088.7 740.4h2.6v2.57h-2.6zM1088.7 742.8h2.6v2.57h-2.6zM1114.3 752.0h2.6v2.57h-2.6zM1142.1 752.0h2.6v2.57h-2.6zM1139.8 796.1h2.6v2.57h-2.6zM1139.8 798.4h2.6v2.57h-2.6zM1086.4 810.0h2.6v2.57h-2.6zM1107.3 830.9h2.6v2.57h-2.6zM1107.3 833.2h2.6v2.57h-2.6zM1107.3 835.6h4.9v2.57h-4.9zM1107.3 837.9h4.9v2.57h-4.9zM763.9 863.4h4.9v2.57h-4.9zM784.8 942.3h2.6v2.57h-2.6zM789.5 944.6h2.6v2.57h-2.6zM1030.7 958.5h2.6v2.57h-2.6zM1023.8 998.0h2.6v2.57h-2.6z"/>
<path fill="#fff2aa" d="M989.0 582.7h4.9v2.57h-4.9zM984.3 589.6h4.9v2.57h-4.9zM986.7 592.0h2.6v2.57h-2.6zM989.0 594.3h2.6v2.57h-2.6zM958.8 596.6h7.2v2.57h-7.2zM995.9 596.6h4.9v2.57h-4.9zM963.5 598.9h2.6v2.57h-2.6zM995.9 598.9h2.6v2.57h-2.6zM1002.9 605.9h2.6v2.57h-2.6zM956.5 608.2h2.6v2.57h-2.6zM870.7 612.8h2.6v2.57h-2.6zM1012.2 631.4h2.6v2.57h-2.6zM1009.9 633.7h4.9v2.57h-4.9zM886.9 652.3h2.6v2.57h-2.6zM1072.5 663.9h2.6v2.57h-2.6zM1072.5 666.2h2.6v2.57h-2.6zM1105.0 696.4h4.9v2.57h-4.9zM1107.3 698.7h2.6v2.57h-2.6zM1123.5 738.1h2.6v2.57h-2.6zM1121.2 740.4h4.9v2.57h-4.9zM1121.2 742.8h4.9v2.57h-4.9zM736.1 749.7h7.2v2.57h-7.2zM1139.8 749.7h4.9v2.57h-4.9zM736.1 752.0h2.6v2.57h-2.6zM740.7 752.0h2.6v2.57h-2.6zM1111.9 752.0h2.6v2.57h-2.6zM1137.5 752.0h4.9v2.57h-4.9zM768.6 763.6h2.6v2.57h-2.6zM1084.1 810.0h2.6v2.57h-2.6zM1088.7 810.0h7.2v2.57h-7.2zM1084.1 812.4h2.6v2.57h-2.6zM1088.7 812.4h2.6v2.57h-2.6zM722.2 844.8h2.6v2.57h-2.6zM761.6 861.1h2.6v2.57h-2.6zM761.6 863.4h2.6v2.57h-2.6zM1121.2 877.3h2.6v2.57h-2.6zM729.1 895.9h4.9v2.57h-4.9zM729.1 898.2h2.6v2.57h-2.6zM787.1 942.3h4.9v2.57h-4.9zM784.8 944.6h4.9v2.57h-4.9zM791.8 944.6h2.6v2.57h-2.6zM1035.4 960.8h4.9v2.57h-4.9zM1026.1 979.4h2.6v2.57h-2.6zM1021.5 981.7h7.2v2.57h-7.2zM989.0 1023.5h2.6v2.57h-2.6zM984.3 1025.8h7.2v2.57h-7.2z"/>
<path fill="#feeda1" d="M984.3 592.0h2.6v2.57h-2.6zM986.7 594.3h2.6v2.57h-2.6zM986.7 596.6h2.6v2.57h-2.6zM958.8 598.9h4.9v2.57h-4.9zM998.3 598.9h4.9v2.57h-4.9zM956.5 605.9h4.9v2.57h-4.9zM975.1 605.9h7.2v2.57h-7.2zM1007.5 631.4h4.9v2.57h-4.9zM1007.5 633.7h2.6v2.57h-2.6zM1012.2 670.8h2.6v2.57h-2.6zM1107.3 710.3h4.9v2.57h-4.9zM1107.3 712.6h4.9v2.57h-4.9zM1105.0 714.9h7.2v2.57h-7.2zM1105.0 717.2h7.2v2.57h-7.2zM1121.2 735.8h4.9v2.57h-4.9zM763.9 738.1h2.6v2.57h-2.6zM1121.2 738.1h2.6v2.57h-2.6zM766.3 740.4h2.6v2.57h-2.6zM736.1 789.2h2.6v2.57h-2.6zM733.8 793.8h2.6v2.57h-2.6zM1095.7 810.0h2.6v2.57h-2.6zM1086.4 812.4h2.6v2.57h-2.6zM1091.1 812.4h4.9v2.57h-4.9zM719.9 847.2h4.9v2.57h-4.9zM1121.2 854.1h2.6v2.57h-2.6zM1118.9 856.4h4.9v2.57h-4.9zM1121.2 858.8h2.6v2.57h-2.6zM759.3 861.1h2.6v2.57h-2.6zM1121.2 861.1h2.6v2.57h-2.6zM1121.2 863.4h2.6v2.57h-2.6zM810.3 877.3h2.6v2.57h-2.6zM726.8 895.9h2.6v2.57h-2.6zM1037.7 905.2h2.6v2.57h-2.6zM1040.0 909.8h4.9v2.57h-4.9zM1042.3 912.1h4.9v2.57h-4.9zM1151.4 912.1h2.6v2.57h-2.6zM1151.4 914.4h2.6v2.57h-2.6zM1128.2 933.0h4.9v2.57h-4.9zM1128.2 935.3h4.9v2.57h-4.9zM791.8 940.0h2.6v2.57h-2.6zM791.8 942.3h4.9v2.57h-4.9zM870.7 963.2h4.9v2.57h-4.9zM1037.7 963.2h2.6v2.57h-2.6zM1035.4 965.5h2.6v2.57h-2.6zM870.7 972.4h2.6v2.57h-2.6zM879.9 974.8h2.6v2.57h-2.6zM1021.5 984.0h4.9v2.57h-4.9z"/>
<path fill="#feea9b" d="M961.1 640.7h4.9v2.57h-4.9zM982.0 650.0h4.9v2.57h-4.9zM715.2 701.0h4.9v2.57h-4.9zM717.5 703.3h2.6v2.57h-2.6zM1088.7 703.3h4.9v2.57h-4.9zM1088.7 705.6h2.6v2.57h-2.6zM1105.0 710.3h2.6v2.57h-2.6zM1105.0 712.6h2.6v2.57h-2.6zM1086.4 721.9h2.6v2.57h-2.6zM1130.5 733.5h2.6v2.57h-2.6zM763.9 735.8h2.6v2.57h-2.6zM766.3 738.1h2.6v2.57h-2.6zM736.1 791.5h2.6v2.57h-2.6zM736.1 793.8h2.6v2.57h-2.6zM759.3 863.4h2.6v2.57h-2.6zM808.0 877.3h2.6v2.57h-2.6zM808.0 879.6h2.6v2.57h-2.6zM873.0 960.8h2.6v2.57h-2.6zM870.7 965.5h2.6v2.57h-2.6zM1037.7 965.5h2.6v2.57h-2.6zM868.3 972.4h2.6v2.57h-2.6zM891.5 972.4h2.6v2.57h-2.6zM882.3 974.8h4.9v2.57h-4.9zM1028.4 979.4h2.6v2.57h-2.6zM1028.4 981.7h2.6v2.57h-2.6zM1026.1 984.0h2.6v2.57h-2.6z"/>
<path fill="#fee593" d="M965.8 640.7h2.6v2.57h-2.6zM979.7 650.0h2.6v2.57h-2.6zM977.4 652.3h2.6v2.57h-2.6zM1056.3 659.2h2.6v2.57h-2.6zM1056.3 661.6h2.6v2.57h-2.6zM780.2 682.4h4.9v2.57h-4.9zM1095.7 701.0h2.6v2.57h-2.6zM1086.4 703.3h2.6v2.57h-2.6zM1093.4 703.3h4.9v2.57h-4.9zM1091.1 705.6h2.6v2.57h-2.6zM1088.7 721.9h2.6v2.57h-2.6zM1086.4 724.2h7.2v2.57h-7.2zM1135.1 733.5h2.6v2.57h-2.6zM1130.5 735.8h4.9v2.57h-4.9zM791.8 953.9h4.9v2.57h-4.9zM791.8 956.2h4.9v2.57h-4.9zM879.9 970.1h2.6v2.57h-2.6zM879.9 972.4h4.9v2.57h-4.9zM889.2 972.4h2.6v2.57h-2.6zM886.9 974.8h4.9v2.57h-4.9zM1028.4 984.0h2.6v2.57h-2.6z"/>
<path fill="#fee08b" d="M912.4 615.2h4.9v2.57h-4.9zM912.4 617.5h4.9v2.57h-4.9zM768.6 643.0h2.6v2.57h-2.6zM1056.3 656.9h4.9v2.57h-4.9zM1058.6 659.2h4.9v2.57h-4.9zM1058.6 661.6h4.9v2.57h-4.9zM1098.0 703.3h2.6v2.57h-2.6zM1093.4 705.6h7.2v2.57h-7.2zM1088.7 708.0h2.6v2.57h-2.6zM1086.4 726.5h7.2v2.57h-7.2zM1086.4 728.8h4.9v2.57h-4.9zM1091.1 733.5h2.6v2.57h-2.6zM1132.8 738.1h2.6v2.57h-2.6zM738.4 793.8h2.6v2.57h-2.6zM782.5 840.2h4.9v2.57h-4.9zM782.5 842.5h4.9v2.57h-4.9zM1121.2 851.8h2.6v2.57h-2.6zM882.3 970.1h2.6v2.57h-2.6zM884.6 972.4h4.9v2.57h-4.9zM919.4 986.4h2.6v2.57h-2.6zM926.3 986.4h2.6v2.57h-2.6zM1023.8 986.4h2.6v2.57h-2.6z"/>
<path fill="#fed884" d="M912.4 619.8h2.6v2.57h-2.6zM949.5 643.0h2.6v2.57h-2.6zM770.9 645.3h2.6v2.57h-2.6zM877.6 645.3h2.6v2.57h-2.6zM1091.1 708.0h4.9v2.57h-4.9zM1091.1 728.8h2.6v2.57h-2.6zM1088.7 731.2h2.6v2.57h-2.6zM743.1 763.6h2.6v2.57h-2.6zM1111.9 766.0h4.9v2.57h-4.9zM1111.9 768.3h4.9v2.57h-4.9zM1114.3 770.6h4.9v2.57h-4.9zM1114.3 772.9h4.9v2.57h-4.9zM1114.3 775.2h2.6v2.57h-2.6zM1088.7 786.8h2.6v2.57h-2.6zM738.4 789.2h4.9v2.57h-4.9zM1088.7 789.2h2.6v2.57h-2.6zM738.4 791.5h2.6v2.57h-2.6zM743.1 791.5h2.6v2.57h-2.6zM740.7 793.8h2.6v2.57h-2.6zM787.1 842.5h2.6v2.57h-2.6zM719.9 854.1h4.9v2.57h-4.9zM1091.1 854.1h2.6v2.57h-2.6zM719.9 856.4h2.6v2.57h-2.6zM770.9 868.0h4.9v2.57h-4.9zM886.9 919.1h2.6v2.57h-2.6zM873.0 944.6h9.5v2.57h-9.5zM933.3 944.6h2.6v2.57h-2.6zM875.3 946.9h7.2v2.57h-7.2zM861.4 949.2h2.6v2.57h-2.6zM884.6 970.1h2.6v2.57h-2.6zM891.5 970.1h2.6v2.57h-2.6zM877.6 977.1h2.6v2.57h-2.6zM879.9 979.4h2.6v2.57h-2.6zM924.0 981.7h2.6v2.57h-2.6zM924.0 984.0h4.9v2.57h-4.9zM921.7 986.4h4.9v2.57h-4.9z"/>
<path fill="#fed07e" d="M914.7 619.8h2.6v2.57h-2.6zM912.4 622.1h4.9v2.57h-4.9zM912.4 624.4h2.6v2.57h-2.6zM912.4 633.7h4.9v2.57h-4.9zM910.1 636.0h2.6v2.57h-2.6zM770.9 643.0h2.6v2.57h-2.6zM877.6 643.0h4.9v2.57h-4.9zM879.9 645.3h2.6v2.57h-2.6zM1033.1 652.3h2.6v2.57h-2.6zM1095.7 708.0h4.9v2.57h-4.9zM1077.1 731.2h2.6v2.57h-2.6zM738.4 763.6h4.9v2.57h-4.9zM740.7 766.0h4.9v2.57h-4.9zM740.7 768.3h4.9v2.57h-4.9zM743.1 793.8h2.6v2.57h-2.6zM745.4 798.4h2.6v2.57h-2.6zM745.4 800.8h4.9v2.57h-4.9zM747.7 803.1h2.6v2.57h-2.6zM745.4 805.4h4.9v2.57h-4.9zM743.1 807.7h2.6v2.57h-2.6zM787.1 840.2h2.6v2.57h-2.6zM789.5 842.5h2.6v2.57h-2.6zM1033.1 842.5h4.9v2.57h-4.9zM1093.4 865.7h2.6v2.57h-2.6zM775.5 868.0h2.6v2.57h-2.6zM1093.4 868.0h2.6v2.57h-2.6zM777.9 870.4h2.6v2.57h-2.6zM770.9 919.1h2.6v2.57h-2.6zM868.3 944.6h4.9v2.57h-4.9zM935.6 944.6h4.9v2.57h-4.9zM861.4 946.9h2.6v2.57h-2.6zM866.0 946.9h2.6v2.57h-2.6zM870.7 946.9h4.9v2.57h-4.9zM933.3 946.9h4.9v2.57h-4.9zM863.7 949.2h4.9v2.57h-4.9zM873.0 949.2h11.8v2.57h-11.8zM935.6 949.2h4.9v2.57h-4.9zM873.0 951.6h2.6v2.57h-2.6zM877.6 951.6h11.8v2.57h-11.8zM884.6 953.9h2.6v2.57h-2.6zM889.2 970.1h2.6v2.57h-2.6zM877.6 974.8h2.6v2.57h-2.6zM935.6 979.4h2.6v2.57h-2.6zM921.7 981.7h2.6v2.57h-2.6zM935.6 981.7h2.6v2.57h-2.6zM919.4 984.0h4.9v2.57h-4.9z"/>
<path fill="#fec877" d="M870.7 610.5h7.2v2.57h-7.2zM914.7 624.4h2.6v2.57h-2.6zM912.4 626.8h4.9v2.57h-4.9zM912.4 629.1h2.6v2.57h-2.6zM912.4 631.4h4.9v2.57h-4.9zM910.1 633.7h2.6v2.57h-2.6zM951.9 643.0h2.6v2.57h-2.6zM986.7 663.9h2.6v2.57h-2.6zM1079.5 731.2h4.9v2.57h-4.9zM1077.1 733.5h2.6v2.57h-2.6zM1135.1 735.8h2.6v2.57h-2.6zM726.8 786.8h4.9v2.57h-4.9zM740.7 791.5h2.6v2.57h-2.6zM745.4 803.1h2.6v2.57h-2.6zM745.4 807.7h4.9v2.57h-4.9zM1033.1 840.2h4.9v2.57h-4.9zM1118.9 851.8h2.6v2.57h-2.6zM747.7 854.1h2.6v2.57h-2.6zM1091.1 856.4h2.6v2.57h-2.6zM1033.1 861.1h4.9v2.57h-4.9zM1035.4 863.4h2.6v2.57h-2.6zM780.2 870.4h4.9v2.57h-4.9zM770.9 877.3h4.9v2.57h-4.9zM773.2 879.6h2.6v2.57h-2.6zM770.9 916.8h2.6v2.57h-2.6zM821.9 916.8h4.9v2.57h-4.9zM828.9 916.8h2.6v2.57h-2.6zM940.3 944.6h2.6v2.57h-2.6zM863.7 946.9h2.6v2.57h-2.6zM868.3 946.9h2.6v2.57h-2.6zM937.9 946.9h4.9v2.57h-4.9zM868.3 949.2h4.9v2.57h-4.9zM884.6 949.2h2.6v2.57h-2.6zM940.3 949.2h4.9v2.57h-4.9zM863.7 951.6h7.2v2.57h-7.2zM875.3 951.6h2.6v2.57h-2.6zM935.6 951.6h2.6v2.57h-2.6zM879.9 967.8h4.9v2.57h-4.9zM893.9 967.8h2.6v2.57h-2.6zM877.6 970.1h2.6v2.57h-2.6zM886.9 970.1h2.6v2.57h-2.6zM877.6 972.4h2.6v2.57h-2.6zM937.9 979.4h2.6v2.57h-2.6z"/>
<path fill="#fdc372" d="M914.7 629.1h2.6v2.57h-2.6zM861.4 643.0h2.6v2.57h-2.6zM984.3 663.9h2.6v2.57h-2.6zM1079.5 733.5h4.9v2.57h-4.9zM1077.1 735.8h7.2v2.57h-7.2zM726.8 784.5h4.9v2.57h-4.9zM796.4 784.5h2.6v2.57h-2.6zM750.0 830.9h2.6v2.57h-2.6zM747.7 833.2h4.9v2.57h-4.9zM1033.1 833.2h2.6v2.57h-2.6zM1033.1 835.6h2.6v2.57h-2.6zM766.3 837.9h2.6v2.57h-2.6zM1033.1 837.9h4.9v2.57h-4.9zM761.6 840.2h14.2v2.57h-14.2zM1030.7 840.2h2.6v2.57h-2.6zM763.9 842.5h9.5v2.57h-9.5zM745.4 851.8h4.9v2.57h-4.9zM801.1 884.3h2.6v2.57h-2.6zM812.7 905.2h2.6v2.57h-2.6zM810.3 907.5h4.9v2.57h-4.9zM826.6 916.8h2.6v2.57h-2.6zM882.3 946.9h2.6v2.57h-2.6zM886.9 949.2h7.2v2.57h-7.2zM870.7 951.6h2.6v2.57h-2.6zM877.6 967.8h2.6v2.57h-2.6zM889.2 967.8h4.9v2.57h-4.9zM942.6 977.1h2.6v2.57h-2.6zM940.3 979.4h4.9v2.57h-4.9z"/>
<path fill="#fdbb6c" d="M863.7 643.0h2.6v2.57h-2.6zM866.0 645.3h4.9v2.57h-4.9zM949.5 656.9h2.6v2.57h-2.6zM1105.0 735.8h2.6v2.57h-2.6zM1074.8 738.1h9.5v2.57h-9.5zM1105.0 738.1h2.6v2.57h-2.6zM1142.1 747.4h2.6v2.57h-2.6zM826.6 749.7h2.6v2.57h-2.6zM798.7 784.5h4.9v2.57h-4.9zM803.4 791.5h2.6v2.57h-2.6zM747.7 828.6h2.6v2.57h-2.6zM745.4 830.9h4.9v2.57h-4.9zM745.4 833.2h2.6v2.57h-2.6zM1035.4 833.2h2.6v2.57h-2.6zM1035.4 835.6h2.6v2.57h-2.6zM761.6 837.9h4.9v2.57h-4.9zM743.1 844.8h4.9v2.57h-4.9zM745.4 847.2h4.9v2.57h-4.9zM1116.6 847.2h4.9v2.57h-4.9zM745.4 849.5h4.9v2.57h-4.9zM1118.9 849.5h4.9v2.57h-4.9zM787.1 872.7h2.6v2.57h-2.6zM787.1 875.0h2.6v2.57h-2.6zM791.8 877.3h2.6v2.57h-2.6zM801.1 882.0h2.6v2.57h-2.6zM803.4 884.3h2.6v2.57h-2.6zM808.0 886.6h2.6v2.57h-2.6zM810.3 902.8h2.6v2.57h-2.6zM810.3 905.2h2.6v2.57h-2.6zM810.3 909.8h4.9v2.57h-4.9zM812.7 912.1h2.6v2.57h-2.6zM817.3 919.1h4.9v2.57h-4.9zM893.9 944.6h2.6v2.57h-2.6zM884.6 967.8h4.9v2.57h-4.9z"/>
<path fill="#fdb365" d="M995.9 615.2h4.9v2.57h-4.9zM995.9 617.5h4.9v2.57h-4.9zM866.0 643.0h2.6v2.57h-2.6zM801.1 786.8h2.6v2.57h-2.6zM784.8 872.7h2.6v2.57h-2.6zM789.5 875.0h2.6v2.57h-2.6zM796.4 879.6h2.6v2.57h-2.6zM798.7 882.0h2.6v2.57h-2.6zM805.7 886.6h2.6v2.57h-2.6zM812.7 902.8h2.6v2.57h-2.6zM812.7 914.4h2.6v2.57h-2.6zM810.3 916.8h4.9v2.57h-4.9zM791.8 926.0h2.6v2.57h-2.6zM891.5 944.6h2.6v2.57h-2.6z"/>
<path fill="#fcaa5f" d="M868.3 643.0h4.9v2.57h-4.9zM898.5 650.0h2.6v2.57h-2.6zM898.5 652.3h2.6v2.57h-2.6zM947.2 656.9h2.6v2.57h-2.6zM947.2 659.2h2.6v2.57h-2.6zM826.6 752.0h2.6v2.57h-2.6zM826.6 754.4h2.6v2.57h-2.6zM1158.3 763.6h2.6v2.57h-2.6zM1158.3 766.0h2.6v2.57h-2.6zM794.1 877.3h2.6v2.57h-2.6zM812.7 886.6h4.9v2.57h-4.9zM810.3 888.9h2.6v2.57h-2.6zM815.0 888.9h2.6v2.57h-2.6zM810.3 900.5h4.9v2.57h-4.9zM812.7 919.1h2.6v2.57h-2.6zM789.5 926.0h2.6v2.57h-2.6zM861.4 937.6h2.6v2.57h-2.6zM884.6 946.9h2.6v2.57h-2.6zM891.5 946.9h4.9v2.57h-4.9z"/>
<path fill="#fba05b" d="M893.9 654.6h2.6v2.57h-2.6zM898.5 654.6h2.6v2.57h-2.6zM1111.9 731.2h2.6v2.57h-2.6zM754.7 768.3h4.9v2.57h-4.9zM838.2 768.3h4.9v2.57h-4.9zM754.7 770.6h7.2v2.57h-7.2zM838.2 770.6h4.9v2.57h-4.9zM759.3 772.9h2.6v2.57h-2.6zM838.2 772.9h2.6v2.57h-2.6zM766.3 782.2h4.9v2.57h-4.9zM768.6 784.5h2.6v2.57h-2.6zM824.3 858.8h2.6v2.57h-2.6zM828.9 858.8h2.6v2.57h-2.6zM812.7 888.9h2.6v2.57h-2.6zM812.7 891.2h4.9v2.57h-4.9zM810.3 893.6h4.9v2.57h-4.9zM810.3 895.9h2.6v2.57h-2.6zM810.3 898.2h4.9v2.57h-4.9zM854.4 937.6h7.2v2.57h-7.2zM856.7 940.0h7.2v2.57h-7.2zM886.9 946.9h4.9v2.57h-4.9zM896.2 946.9h2.6v2.57h-2.6z"/>
<path fill="#fa9656" d="M896.2 654.6h2.6v2.57h-2.6zM1072.5 719.6h2.6v2.57h-2.6zM1116.6 731.2h7.2v2.57h-7.2zM1144.4 747.4h4.9v2.57h-4.9zM1151.4 754.4h2.6v2.57h-2.6zM1153.7 756.7h2.6v2.57h-2.6zM1156.0 759.0h2.6v2.57h-2.6zM752.3 768.3h2.6v2.57h-2.6zM761.6 772.9h2.6v2.57h-2.6zM761.6 775.2h2.6v2.57h-2.6zM761.6 777.6h2.6v2.57h-2.6zM761.6 779.9h2.6v2.57h-2.6zM763.9 782.2h2.6v2.57h-2.6zM826.6 858.8h2.6v2.57h-2.6zM826.6 861.1h4.9v2.57h-4.9zM815.0 893.6h2.6v2.57h-2.6zM898.5 946.9h2.6v2.57h-2.6z"/>
<path fill="#f88c51" d="M1135.1 738.1h2.6v2.57h-2.6zM1142.1 745.1h4.9v2.57h-4.9zM763.9 772.9h2.6v2.57h-2.6zM763.9 775.2h4.9v2.57h-4.9zM763.9 777.6h4.9v2.57h-4.9zM763.9 779.9h4.9v2.57h-4.9zM821.9 960.8h4.9v2.57h-4.9z"/>
<path fill="#f7844e" d="M1137.5 738.1h2.6v2.57h-2.6zM1139.8 740.4h2.6v2.57h-2.6zM1139.8 742.8h4.9v2.57h-4.9zM821.9 958.5h4.9v2.57h-4.9zM819.6 960.8h2.6v2.57h-2.6z"/>
<path fill="#f67a49" d="M928.7 687.1h4.9v2.57h-4.9zM1137.5 740.4h2.6v2.57h-2.6zM1142.1 740.4h2.6v2.57h-2.6zM819.6 958.5h2.6v2.57h-2.6z"/>
<path fill="#f47044" d="M928.7 689.4h2.6v2.57h-2.6z"/>
<path fill="#f06744" d="M926.3 689.4h2.6v2.57h-2.6zM926.3 691.7h2.6v2.57h-2.6z"/>
<path fill="#eb6046" d="M924.0 691.7h2.6v2.57h-2.6z"/></g>
<g fill="#000" fill-opacity="0.74"><polygon points="977.7,606.2 968.8,604.9 970.1,602.7 958.8,604.5 969.1,609.5 968.5,607.0 977.3,608.3"/><polygon points="873.5,617.4 867.0,618.8 867.5,616.3 857.5,622.0 869.0,623.1 867.5,621.0 874.0,619.6"/><polygon points="773.8,645.5 768.1,648.2 768.0,645.7 759.5,653.5 770.9,651.9 769.0,650.2 774.7,647.5"/><polygon points="828.8,666.4 824.3,670.3 823.5,667.9 817.5,677.8 828.1,673.1 825.8,672.0 830.2,668.1"/><polygon points="783.9,683.3 782.9,690.2 780.7,688.9 782.5,700.2 787.5,689.9 785.1,690.5 786.1,683.7"/><polygon points="707.8,700.6 709.3,704.2 707.0,704.2 713.8,712.2 712.8,701.8 711.2,703.5 709.7,699.9"/><polygon points="963.2,678.4 951.3,676.1 952.7,674.0 941.2,675.2 951.4,680.7 950.9,678.2 962.8,680.6"/><polygon points="921.9,692.4 907.5,702.8 906.9,700.3 900.0,709.5 910.9,705.9 908.8,704.5 923.1,694.1"/><polygon points="838.5,771.2 834.0,784.9 832.1,783.2 832.0,794.8 838.7,785.3 836.1,785.6 840.5,771.8"/><polygon points="741.9,770.2 741.7,780.2 739.3,779.2 742.5,790.2 746.2,779.3 743.8,780.3 744.1,770.3"/><polygon points="742.4,770.7 742.2,779.5 739.8,778.4 743.0,789.5 746.7,778.6 744.4,779.5 744.6,770.8"/><polygon points="762.7,784.0 769.1,797.9 766.5,797.9 774.2,806.5 772.8,795.1 771.1,796.9 764.8,783.0"/><polygon points="800.9,786.4 799.3,800.2 797.1,798.9 799.2,810.2 803.9,799.7 801.5,800.4 803.1,786.6"/><polygon points="803.4,794.5 803.7,807.0 801.3,806.1 805.0,817.0 808.2,805.9 805.9,807.0 805.6,794.5"/><polygon points="727.7,790.3 728.0,801.5 725.7,800.6 729.5,811.5 732.6,800.4 730.2,801.5 729.8,790.2"/><polygon points="740.9,795.4 742.3,807.9 739.9,807.2 744.5,817.8 746.7,806.4 744.5,807.7 743.1,795.1"/><polygon points="741.9,809.0 742.3,818.5 739.9,817.6 743.8,828.5 746.8,817.4 744.5,818.5 744.1,809.0"/><polygon points="750.7,833.9 749.3,846.4 747.0,845.2 749.2,856.5 753.9,845.9 751.4,846.7 752.8,834.1"/><polygon points="1004.0,619.9 998.2,618.4 999.8,616.4 988.2,617.0 998.0,623.1 997.7,620.6 1003.5,622.1"/><polygon points="1063.6,658.6 1058.4,655.0 1060.5,653.6 1049.5,650.2 1056.6,659.3 1057.1,656.8 1062.4,660.4"/><polygon points="1056.9,660.6 1052.0,657.0 1054.2,655.7 1043.2,652.0 1050.1,661.3 1050.7,658.8 1055.6,662.4"/><polygon points="1087.1,705.3 1079.9,697.1 1082.3,696.3 1072.5,690.2 1077.1,700.8 1078.2,698.5 1085.4,706.7"/><polygon points="1058.4,739.7 1055.5,734.9 1058.0,734.5 1049.2,727.0 1052.1,738.2 1053.6,736.1 1056.6,740.8"/><polygon points="1058.9,739.1 1056.2,735.2 1058.8,734.7 1049.8,727.5 1053.0,738.6 1054.4,736.4 1057.1,740.4"/><polygon points="1115.3,767.0 1107.4,757.8 1109.8,757.1 1100.0,751.0 1104.6,761.6 1105.7,759.3 1113.7,768.5"/><polygon points="1115.3,772.0 1106.7,762.5 1109.2,761.6 1099.2,755.8 1104.0,766.2 1105.1,763.9 1113.7,773.5"/><polygon points="1144.1,740.3 1144.9,724.5 1147.2,725.7 1144.2,714.5 1140.3,725.3 1142.7,724.4 1141.9,740.2"/><polygon points="1091.6,786.0 1091.6,777.8 1094.0,778.8 1090.5,767.8 1087.0,778.8 1089.4,777.8 1089.4,786.0"/><polygon points="1144.1,796.6 1144.4,790.8 1146.7,791.9 1143.8,780.8 1139.8,791.6 1142.2,790.7 1141.9,796.4"/><polygon points="1090.3,811.9 1089.9,805.2 1092.3,806.0 1088.2,795.2 1085.5,806.4 1087.7,805.3 1088.2,812.1"/><polygon points="1094.8,811.6 1095.5,799.0 1097.8,800.2 1095.0,789.0 1090.9,799.8 1093.3,798.9 1092.7,811.4"/><polygon points="1094.0,805.3 1094.4,801.4 1096.5,802.5 1094.2,792.0 1090.1,801.9 1092.4,801.2 1092.0,805.2"/><polygon points="1117.3,812.8 1117.7,805.3 1120.0,806.4 1117.0,795.2 1113.1,806.1 1115.5,805.2 1115.2,812.7"/><polygon points="1116.0,824.2 1116.7,820.4 1118.6,821.7 1117.5,811.5 1112.6,820.5 1114.8,820.0 1114.0,823.8"/><polygon points="1093.0,840.6 1095.2,834.3 1097.1,836.0 1097.5,824.5 1090.6,833.7 1093.2,833.6 1091.0,839.9"/><polygon points="1164.3,633.1 1160.8,631.0 1162.7,629.5 1152.0,627.0 1159.3,635.2 1159.7,632.8 1163.2,634.9"/><polygon points="1163.5,635.7 1160.5,633.9 1162.1,632.7 1153.0,630.5 1159.2,637.5 1159.5,635.5 1162.5,637.3"/><polygon points="723.4,857.8 721.2,867.5 719.1,866.0 720.0,877.5 725.8,867.6 723.3,868.0 725.6,858.2"/><polygon points="748.2,846.4 750.0,859.0 747.5,858.4 752.5,868.8 754.3,857.4 752.2,858.7 750.3,846.1"/><polygon points="750.2,860.2 752.4,870.9 749.9,870.4 755.5,880.5 756.6,869.0 754.5,870.5 752.3,859.8"/><polygon points="785.3,874.3 790.6,884.2 788.0,884.4 796.2,892.5 794.1,881.2 792.5,883.2 787.2,873.2"/><polygon points="824.1,860.2 834.3,873.3 831.8,873.9 841.2,880.5 837.2,869.7 836.0,871.9 825.9,858.8"/><polygon points="806.7,892.5 817.2,903.0 814.8,903.9 825.0,909.2 819.7,899.0 818.7,901.4 808.3,891.0"/><polygon points="829.3,919.1 840.1,927.3 837.9,928.6 848.8,932.5 842.1,923.1 841.5,925.6 830.7,917.4"/><polygon points="772.0,921.7 775.2,929.4 772.6,929.4 780.0,938.2 779.0,926.8 777.2,928.6 774.0,920.8"/><polygon points="794.2,928.7 800.7,935.9 798.3,936.7 808.2,942.5 803.4,932.1 802.3,934.4 795.8,927.3"/><polygon points="895.2,949.1 904.8,947.6 904.2,950.1 914.5,945.0 903.1,943.3 904.4,945.4 894.8,946.9"/><polygon points="893.5,951.6 905.0,954.3 903.5,956.3 915.0,955.5 905.1,949.6 905.5,952.1 894.0,949.4"/><polygon points="899.8,949.8 909.5,951.4 908.1,953.6 919.5,952.0 909.2,946.8 909.8,949.3 900.2,947.7"/><polygon points="942.2,947.3 949.1,946.1 948.5,948.6 958.8,943.2 947.3,941.8 948.7,943.9 941.8,945.2"/><polygon points="958.0,968.5 963.5,965.8 963.6,968.4 972.0,960.5 960.6,962.2 962.5,963.9 957.0,966.5"/><polygon points="946.2,981.6 954.9,982.3 953.8,984.6 965.0,982.0 954.3,977.7 955.1,980.1 946.3,979.4"/><polygon points="881.5,970.2 891.8,975.3 889.9,977.0 901.2,978.8 892.9,970.8 892.8,973.3 882.5,968.3"/><polygon points="890.1,970.3 899.8,974.2 898.0,976.0 909.5,977.0 900.6,969.7 900.7,972.2 890.9,968.2"/><polygon points="879.2,979.8 888.9,982.7 887.2,984.7 898.8,984.5 889.2,978.0 889.5,980.6 879.8,977.7"/><polygon points="879.7,980.3 888.4,982.9 886.7,984.9 898.2,984.8 888.7,978.3 889.0,980.8 880.3,978.2"/><polygon points="861.7,995.3 869.3,997.5 867.7,999.5 879.2,999.2 869.6,992.9 870.0,995.4 862.3,993.2"/><polygon points="876.6,993.0 884.7,995.8 883.0,997.7 894.5,998.0 885.2,991.2 885.4,993.7 877.4,991.0"/><polygon points="742.6,984.6 746.0,986.4 744.3,987.9 754.5,989.5 747.0,982.3 746.9,984.6 743.4,982.9"/><polygon points="769.2,997.8 774.5,999.1 773.0,1001.2 784.5,1000.5 774.7,994.5 775.1,997.0 769.8,995.7"/><polygon points="936.0,1014.1 941.2,1015.2 939.8,1017.3 951.2,1016.2 941.2,1010.5 941.7,1013.1 936.5,1011.9"/><polygon points="1078.3,917.0 1083.9,911.0 1085.0,913.4 1090.0,903.0 1079.9,908.6 1082.3,909.5 1076.7,915.5"/><polygon points="1147.2,898.3 1148.4,894.8 1150.1,896.3 1150.5,886.2 1144.4,894.3 1146.6,894.1 1145.3,897.7"/><polygon points="1144.5,922.7 1147.3,919.7 1148.3,921.9 1153.0,912.0 1143.5,917.5 1145.8,918.3 1143.0,921.3"/><polygon points="1026.6,983.2 1032.0,977.3 1033.1,979.7 1038.0,969.2 1028.0,975.0 1030.4,975.8 1024.9,981.8"/></g>
</g>
<rect x="701.3" y="573.4" width="464.0" height="464.0" fill="none" stroke="#000" stroke-width="1.1"/>
<path d="M701.3 1037.4v5M817.3 1037.4v5M933.3 1037.4v5M1049.3 1037.4v5M1165.3 1037.4v5M701.3 1037.4h-5M701.3 979.4h-5M701.3 921.4h-5M701.3 863.4h-5M701.3 805.4h-5M701.3 747.4h-5M701.3 689.4h-5M701.3 631.4h-5M701.3 573.4h-5" stroke="#000" stroke-width="1.1" fill="none"/>
<text x="700.8" y="1063.8" text-anchor="middle"><tspan style="font-size:27.5px" dy="2.6">−</tspan><tspan dy="-2.6" dx="0.6">10</tspan></text>
<text x="816.8" y="1063.8" text-anchor="middle"><tspan style="font-size:27.5px" dy="2.6">−</tspan><tspan dy="-2.6" dx="0.6">5</tspan></text>
<text x="933.0" y="1061.6" text-anchor="middle">0</text>
<text x="1049.0" y="1061.6" text-anchor="middle">5</text>
<text x="1165.0" y="1061.6" text-anchor="middle">10</text>
<text class="t" x="690.3" y="1047.0" text-anchor="end"><tspan style="font-size:27.5px" dy="2.6">−</tspan><tspan dy="-2.6" dx="0.6">10.0</tspan></text>
<text class="t" x="690.3" y="989.0" text-anchor="end"><tspan style="font-size:27.5px" dy="2.6">−</tspan><tspan dy="-2.6" dx="0.6">7.5</tspan></text>
<text class="t" x="690.3" y="931.0" text-anchor="end"><tspan style="font-size:27.5px" dy="2.6">−</tspan><tspan dy="-2.6" dx="0.6">5.0</tspan></text>
<text class="t" x="690.3" y="873.0" text-anchor="end"><tspan style="font-size:27.5px" dy="2.6">−</tspan><tspan dy="-2.6" dx="0.6">2.5</tspan></text>
<text class="t" x="690.3" y="812.6" text-anchor="end">0.0</text>
<text class="t" x="690.3" y="754.6" text-anchor="end">2.5</text>
<text class="t" x="690.3" y="696.6" text-anchor="end">5.0</text>
<text class="t" x="690.3" y="638.6" text-anchor="end">7.5</text>
<text class="t" x="690.3" y="580.6" text-anchor="end">10.0</text>
<text x="932.1" y="1088.4" text-anchor="middle" style="letter-spacing:0.9px">x (kpc)</text>
<text transform="translate(623.7 806.2) rotate(-90)" text-anchor="middle" style="letter-spacing:0.9px">y (kpc)</text>
</g>
<g id="colorbar">
<rect x="1296.6" y="17.4" width="38.4" height="1019.9" fill="url(#cb)" stroke="#000" stroke-width="1.1"/>
<text x="1342.6" y="1044.5">0</text>
<text x="1342.6" y="917.0">25</text>
<text x="1342.6" y="789.5">50</text>
<text x="1342.6" y="662.0">75</text>
<text x="1342.6" y="534.5">100</text>
<text x="1342.6" y="407.1">125</text>
<text x="1342.6" y="279.6">150</text>
<text x="1342.6" y="152.1">175</text>
<text x="1342.6" y="24.6">200</text>
<path d="M1335.0 1037.3h5M1335.0 909.8h5M1335.0 782.3h5M1335.0 654.8h5M1335.0 527.3h5M1335.0 399.9h5M1335.0 272.4h5M1335.0 144.9h5M1335.0 17.4h5" stroke="#000" stroke-width="1.1" fill="none"/>
<text transform="translate(1400.3 527.6) rotate(-90)" text-anchor="middle" style="letter-spacing:0.98px">mean rotational velocity (kms<tspan dy="-8.6" style="font-size:16px">−1</tspan><tspan dy="8.6">)</tspan></text>
</g>
</svg></body></html>
